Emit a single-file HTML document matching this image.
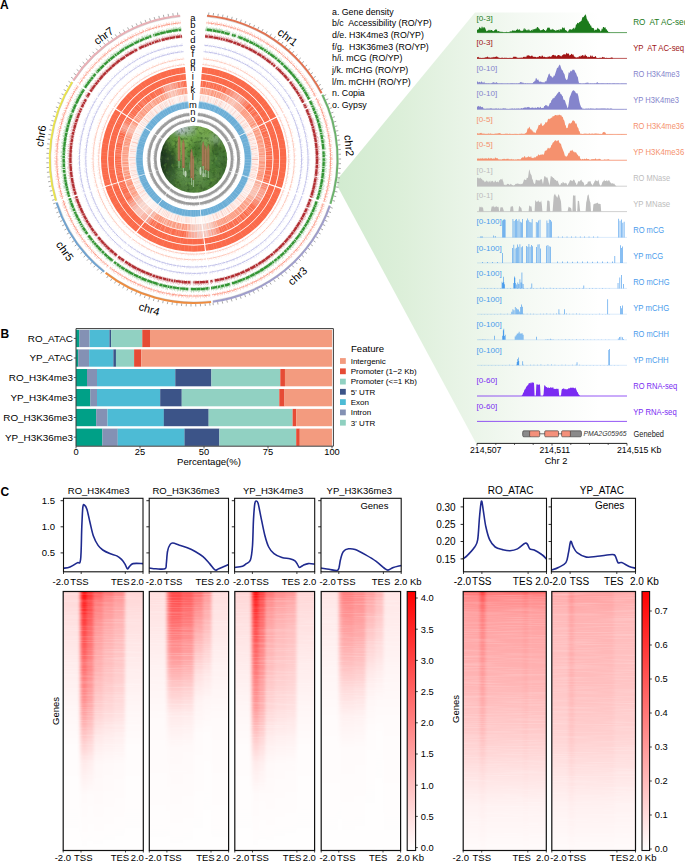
<!DOCTYPE html>
<html><head><meta charset="utf-8"><title>Figure</title><style>html,body{margin:0;padding:0;background:#fff;}body{width:685px;height:862px;overflow:hidden;}svg{display:block;font-family:"Liberation Sans",sans-serif;}</style></head><body>
<svg width="685" height="862" viewBox="0 0 685 862" font-family="Liberation Sans, sans-serif">
<defs>
<linearGradient id="wedge" x1="338" y1="0" x2="610" y2="0" gradientUnits="userSpaceOnUse"><stop offset="0" stop-color="#d2ebd0"/><stop offset="0.23" stop-color="#dcefd9"/><stop offset="0.41" stop-color="#e6f3e4"/><stop offset="0.67" stop-color="#f4f9f3"/><stop offset="0.96" stop-color="#ffffff"/></linearGradient>
<clipPath id="photo"><circle cx="193.7" cy="159.3" r="33.5"/></clipPath>
</defs>
<rect width="685" height="862" fill="#fff"/>
<path d="M337.2 179.5 L475 12.6 L685 12.6 L685 443.6 L476.2 443.6 L337.5 186.2 Z" fill="url(#wedge)"/>
<text x="0" y="8.7" font-size="12" font-weight="bold">A</text>
<text x="0.5" y="338.2" font-size="12" font-weight="bold">B</text>
<text x="0.5" y="496.4" font-size="12" font-weight="bold">C</text>
<path d="M207.1 14.8A144.9 144.9 0 0 1 322.5 92.8L320.7 93.7A142.9 142.9 0 0 0 206.9 16.8Z" fill="#e3714f"/>
<path d="M206.9 16.8A142.9 142.9 0 0 1 320.7 93.7" fill="none" stroke="#999" stroke-width="0.3"/>
<path d="M323.3 94.3A144.9 144.9 0 0 1 331.4 204.2L329.5 203.6A142.9 142.9 0 0 0 321.5 95.2Z" fill="#6ab46a"/>
<path d="M321.5 95.2A142.9 142.9 0 0 1 329.5 203.6" fill="none" stroke="#999" stroke-width="0.3"/>
<path d="M330.8 205.9A144.9 144.9 0 0 1 213 302.7L212.7 300.7A142.9 142.9 0 0 0 328.9 205.3Z" fill="#9f9dcc"/>
<path d="M328.9 205.3A142.9 142.9 0 0 1 212.7 300.7" fill="none" stroke="#999" stroke-width="0.3"/>
<path d="M211.2 302.9A144.9 144.9 0 0 1 105 273.7L106.2 272.1A142.9 142.9 0 0 0 211 300.9Z" fill="#f08c3d"/>
<path d="M211 300.9A142.9 142.9 0 0 1 106.2 272.1" fill="none" stroke="#999" stroke-width="0.3"/>
<path d="M103.6 272.6A144.9 144.9 0 0 1 55.5 202.8L57.5 202.2A142.9 142.9 0 0 0 104.8 271Z" fill="#6fa2d0"/>
<path d="M104.8 271A142.9 142.9 0 0 1 57.5 202.2" fill="none" stroke="#999" stroke-width="0.3"/>
<path d="M55 201.1A144.9 144.9 0 0 1 71.4 81.4L73.1 82.4A142.9 142.9 0 0 0 56.9 200.5Z" fill="#ece54a"/>
<path d="M56.9 200.5A142.9 142.9 0 0 1 73.1 82.4" fill="none" stroke="#999" stroke-width="0.3"/>
<path d="M72.4 79.9A144.9 144.9 0 0 1 180.1 14.8L180.3 16.8A142.9 142.9 0 0 0 74.1 81Z" fill="#eab0b6"/>
<path d="M74.1 81A142.9 142.9 0 0 1 180.3 16.8" fill="none" stroke="#999" stroke-width="0.3"/>
<path d="M208.6 15L208.9 12.5M213.2 15.5L213.6 13M217.9 16.2L218.3 13.8M222.5 17.1L223 14.6M227 18.1L227.6 15.7M231.6 19.2L232.2 16.8M236.1 20.5L236.8 18.1M240.5 22L241.3 19.6M244.9 23.6L245.8 21.2M249.3 25.3L250.2 23M253.6 27.1L254.6 24.9M257.8 29.1L258.9 26.9M261.9 31.3L263.1 29.1M266 33.5L267.3 31.4M270.1 36L271.4 33.8M274 38.5L275.4 36.4M277.8 41.1L279.3 39.1M281.6 43.9L283.1 41.9M285.3 46.8L286.9 44.9M288.9 49.8L290.5 47.9M292.3 53L294 51.1M295.7 56.2L297.5 54.4M299 59.5L300.8 57.8M302.1 63L304 61.3M305.2 66.5L307.1 64.9M308.1 70.2L310.1 68.7M310.9 73.9L312.9 72.5M313.6 77.8L315.7 76.4M316.2 81.7L318.3 80.3M318.6 85.7L320.8 84.4M320.9 89.7L323.1 88.5M324 95.7L326.2 94.6M326 99.9L328.3 98.9M327.8 104.2L330.1 103.3M329.5 108.6L331.9 107.7M331.1 113L333.4 112.2M332.5 117.5L334.9 116.7M333.8 122L336.2 121.3M334.9 126.5L337.3 125.9M335.9 131.1L338.3 130.6M336.7 135.7L339.2 135.3M337.4 140.3L339.9 140M337.9 145L340.4 144.7M338.3 149.6L340.8 149.5M338.5 154.3L341 154.2M338.6 159L341.1 159M338.5 163.7L341 163.7M338.3 168.3L340.8 168.5M337.9 173L340.4 173.2M337.4 177.6L339.9 178M336.7 182.3L339.2 182.7M335.9 186.9L338.4 187.4M334.9 191.4L337.4 192M333.8 196L336.2 196.6M332.6 200.5L335 201.2M330.3 207.3L332.7 208.2M328.7 211.7L331 212.6M326.9 216.1L329.2 217M325 220.3L327.3 221.4M323 224.5L325.2 225.7M320.8 228.7L323 229.9M318.5 232.8L320.6 234M316 236.7L318.2 238.1M313.5 240.7L315.5 242.1M310.8 244.5L312.8 245.9M308 248.2L309.9 249.7M305 251.9L306.9 253.5M302 255.4L303.8 257.1M298.8 258.8L300.6 260.6M295.5 262.2L297.3 264M292.2 265.4L293.8 267.3M288.7 268.5L290.3 270.4M285.1 271.5L286.7 273.5M281.4 274.4L282.9 276.4M277.6 277.2L279.1 279.2M273.8 279.9L275.2 281.9M269.8 282.4L271.2 284.5M265.8 284.8L267.1 286.9M261.7 287L262.9 289.2M257.6 289.2L258.7 291.4M253.3 291.2L254.4 293.4M249 293L250 295.3M244.7 294.7L245.6 297.1M240.3 296.3L241.1 298.7M235.8 297.7L236.5 300.1M231.3 299L232 301.4M226.8 300.2L227.4 302.6M222.2 301.2L222.7 303.6M217.6 302L218 304.5M213 302.7L213.3 305.2M209.7 303.1L210 305.6M205.1 303.6L205.3 306M200.4 303.8L200.5 306.3M195.7 304L195.8 306.5M191 304L191 306.5M186.4 303.8L186.2 306.3M181.7 303.5L181.5 306M177 303L176.8 305.5M172.4 302.4L172 304.9M167.8 301.7L167.3 304.1M163.2 300.8L162.7 303.2M158.6 299.7L158 302.1M154.1 298.5L153.4 300.9M149.6 297.1L148.9 299.5M145.2 295.6L144.4 298M140.8 294L139.9 296.3M136.5 292.2L135.5 294.5M132.2 290.3L131.2 292.6M128 288.3L126.9 290.5M123.9 286.1L122.7 288.3M119.8 283.8L118.6 285.9M115.8 281.3L114.5 283.4M111.9 278.7L110.5 280.8M108.1 276L106.6 278M102.4 271.6L100.8 273.6M98.8 268.6L97.2 270.5M95.3 265.5L93.6 267.3M92 262.3L90.2 264.1M88.7 258.9L86.9 260.7M85.5 255.5L83.6 257.2M82.5 251.9L80.5 253.6M79.5 248.3L77.5 249.8M76.7 244.6L74.7 246.1M74 240.8L71.9 242.2M71.4 236.8L69.3 238.2M69 232.9L66.8 234.1M66.7 228.8L64.5 230M64.5 224.7L62.2 225.8M62.4 220.5L60.2 221.5M60.5 216.2L58.2 217.2M58.7 211.9L56.4 212.8M57.1 207.5L54.8 208.3M55.6 203L53.2 203.8M54.6 199.6L52.2 200.3M53.4 195.1L50.9 195.8M52.3 190.6L49.8 191.1M51.3 186L48.9 186.5M50.5 181.4L48.1 181.8M49.9 176.8L47.4 177.1M49.4 172.1L46.9 172.3M49 167.4L46.5 167.6M48.8 162.8L46.3 162.8M48.8 158.1L46.3 158.1M48.9 153.4L46.4 153.3M49.2 148.7L46.7 148.6M49.6 144.1L47.1 143.8M50.1 139.4L47.7 139.1M50.9 134.8L48.4 134.4M51.7 130.2L49.3 129.7M52.7 125.6L50.3 125.1M53.9 121.1L51.5 120.5M55.2 116.6L52.8 115.9M56.6 112.2L54.2 111.4M58.2 107.8L55.9 106.9M59.9 103.4L57.6 102.5M61.8 99.1L59.5 98.1M63.8 94.9L61.6 93.8M65.9 90.7L63.7 89.6M68.2 86.6L66 85.4M70.6 82.6L68.5 81.3M73.2 78.6L71.1 77.2M75.9 74.8L73.8 73.3M78.7 71L76.7 69.5M81.6 67.3L79.6 65.7M84.6 63.8L82.7 62.1M87.7 60.3L85.9 58.6M91 56.9L89.2 55.1M94.3 53.6L92.6 51.8M97.8 50.5L96.1 48.6M101.3 47.5L99.7 45.5M105 44.5L103.5 42.6M108.7 41.7L107.3 39.7M112.6 39L111.2 37M116.5 36.5L115.2 34.4M120.5 34.1L119.2 31.9M124.6 31.8L123.4 29.6M128.7 29.6L127.6 27.4M132.9 27.6L131.9 25.3M137.2 25.7L136.2 23.4M141.5 23.9L140.6 21.6M145.9 22.3L145.1 19.9M150.4 20.8L149.6 18.4M154.9 19.5L154.2 17.1M159.4 18.3L158.8 15.9M163.9 17.3L163.4 14.8M168.5 16.4L168.1 13.9M173.2 15.7L172.8 13.2M177.8 15.1L177.5 12.6" stroke="#707070" stroke-width="0.6"/>
<circle cx="193.7" cy="159.1" r="136.9" fill="none" stroke="#fb7f66" stroke-opacity="0.8" stroke-width="1" stroke-dasharray="3.0 0.2 4.4 0.2 3.9 0.3 1.8 0.4 1.7 0.3 1.8 0.2 3.4 0.5 2.1 0.2 4.3 0.6 4.1 0.3 5.9 0.2 5.4 0.3 2.1 0.2 2.9 0.5 2.3 0.4 4.4 0.3 4.0 0.2 1.8 0.2 4.6 0.3 2.9 0.4 3.5 0.3 5.1 0.5 2.6 0.4 3.9 0.5 4.8 0.3 5.9 0.2 3.4 0.5 2.2 0.4 1.7 0.5 4.9 0.4 5.4 0.3 4.6 0.4 4.1 0.4 5.3 0.6 3.6 0.5 1.8 0.5 4.4 0.6 5.2 0.3 3.2 0.5 1.6 0.4 2.3 0.2 1.8 0.5 2.1 0.3 3.3 0.5 1.9 0.3 4.0 0.6 5.2 0.5 2.8 0.3 3.1 0.6 5.8 0.2 2.3 0.2 2.5 0.4 4.2 0.3 1.5 0.3 3.2 0.4 5.8 0.5 3.8 0.4 4.5 0.2 5.5 0.5 5.4 0.5 3.3 0.3 2.0 0.4 1.8 0.2 2.4 0.2 3.0 0.2 1.5 0.2 2.0 0.3 1.6 0.5 4.3 0.2 2.6 0.3 3.1 0.2 5.3 0.6 3.6 0.4 1.9 0.2 3.0 0.3 5.2 0.2 1.6 0.6 3.9 0.2 3.9 0.2 3.9 0.6 5.4 0.5 2.7 0.3 2.2 0.5 3.9 0.5 3.0 0.2 5.2 0.6 5.3 0.5 5.2 0.5 2.5 0.4 3.1 0.2 1.6 0.3 2.7 0.5 5.8 0.3 5.7 0.6 5.8 0.3 2.5 0.2 2.4 0.2 4.3 0.6 5.3 0.4 4.4 0.5 1.9 0.5 5.6 0.5 4.9 0.4 2.3 0.5 3.0 0.5 5.9 0.3 3.3 0.6 4.8 0.2 2.1 0.2 5.6 0.5 2.2 0.5 5.9 0.5 3.1 0.4 2.1 0.2 5.9 0.4 3.9 0.6 3.5 0.5 5.2 0.2 2.6 0.3 2.6 0.4 2.7 0.3 2.1 0.6 3.1 0.4 4.1 0.6 3.4 0.6 3.8 0.4 3.9 0.2 3.5 0.2 1.5 0.5 2.3 0.4 4.8 0.4 3.0 0.4 4.0 0.5 2.0 0.4 2.6 0.3 5.0 0.4 4.0 0.5 5.6 0.3 4.3 0.4 3.8 0.5 3.5 0.4 3.6 0.6 4.7 0.5 5.7 0.3 4.0 0.6 5.3 0.2 2.0 0.3 1.8 0.3 1.8 0.5 5.0 0.6 2.2 0.5 4.5 0.2 5.5 0.6 2.5 0.6 3.3 0.4 6.0 0.5 2.2 0.3 3.8 0.3 2.4 0.3 4.8 0.2 4.0 0.3 1.6 0.3 4.3 0.4 1.8 0.6 5.0 0.6 2.0 0.3 1.7 0.5 2.7 0.2 3.4 0.6 5.2 0.3 2.2 0.6 4.1 0.5 1.9 0.2 4.6 0.3 1.8 0.6 4.3 0.5 1.9 0.5 1.8 0.5 3.5 0.3 4.0 0.6 2.7 0.2 3.9 0.3 2.0 0.2 1.7 0.2 2.9 0.3 4.9 0.3 3.8 0.2 3.1 0.2 2.6 0.2 4.8 0.4 2.4 0.4 5.7 0.2 5.2 0.3 3.7 0.5 3.3 0.4 4.6 0.6 3.0 0.5 4.7 0.4 3.3 0.3 1.7 0.2 1.8 0.5 2.6 0.2 1.9 0.5 5.4 0.5 2.8 0.3 2.8 0.4 2.2 0.3 2.7 0.6 5.9 0.4 2.6 0.6 2.9 0.3 1.5 0.3 3.6 0.4 2.4 0.4 1.5 0.3 1.9 0.3 1.7 0.2 2.9 0.2 4.1 0.4 4.9 0.5 4.7 0.6 3.2 0.3 5.9 0.2"/>
<circle cx="193.7" cy="159.1" r="137.9" fill="none" stroke="#fb7f66" stroke-opacity="0.7" stroke-width="1.1" stroke-dasharray="0.5 1.4 0.3 1.7 0.6 1.4 0.5 1.7 0.3 1.2 0.5 1.7 0.5 1.7 0.5 1.8 0.5 1.5 0.4 0.3 0.3 0.9 0.3 1.7 0.5 1.4 0.5 1.5 0.5 0.3 0.5 1.6 0.5 1.2 0.5 0.4 0.5 0.7 0.3 0.8 0.5 0.7 0.5 2.0 0.5 0.9 0.4 1.5 0.5 1.4 0.5 0.4 0.3 0.7 0.5 0.8 0.5 0.3 0.3 0.8 0.5 1.5 0.5 0.8 0.5 1.1 0.4 0.5 0.6 0.6 0.6 1.9 0.3 1.1 0.6 1.9 0.4 0.8 0.4 1.9 0.4 1.3 0.3 1.2 0.6 0.5 0.6 1.2 0.6 1.5 0.4 1.8 0.5 0.3 0.3 1.1 0.4 0.8 0.3 0.9 0.4 1.7 0.3 1.6 0.6 0.5 0.6 1.5 0.6 0.8 0.4 1.0 0.6 1.3 0.4 1.0 0.4 0.4 0.3 1.7 0.4 1.9 0.4 0.8 0.5 0.6 0.4 1.9 0.6 1.7 0.5 1.9 0.6 1.2 0.5 0.4 0.5 1.1 0.5 1.4 0.4 0.4 0.6 0.5 0.4 0.9 0.4 1.6 0.6 0.7 0.5 0.8 0.5 1.0 0.3 0.6 0.4 1.8 0.5 0.7 0.6 2.0 0.4 0.5 0.4 0.5 0.4 0.5 0.4 0.7 0.5 1.8 0.5 1.0 0.4 1.2 0.4 0.9 0.3 0.8 0.6 0.5 0.5 1.4 0.6 0.7 0.4 0.7 0.4 1.1 0.6 1.7 0.6 0.3 0.3 1.5 0.6 1.1 0.5 0.3 0.4 1.9 0.6 1.8 0.6 0.7 0.3 0.6 0.5 1.5 0.6 1.5 0.5 1.6 0.4 1.2 0.3 1.6 0.4 1.9 0.5 0.8 0.3 0.7 0.5 1.5 0.3 0.4 0.5 1.3 0.4 0.7 0.5 0.3 0.4 1.1 0.6 1.4 0.6 1.1 0.4 0.7 0.6 1.5 0.4 0.3 0.5 1.4 0.4 0.7 0.5 1.9 0.4 0.4 0.4 1.0 0.5 0.6 0.5 1.6 0.5 0.7 0.6 0.8 0.6 0.7 0.4 1.6 0.4 1.9 0.5 0.6 0.4 1.0 0.5 1.9 0.3 1.0 0.4 2.0 0.3 0.4 0.3 1.0 0.6 1.8 0.5 2.0 0.6 0.9 0.4 1.9 0.5 0.3 0.5 0.9 0.4 0.9 0.3 0.3 0.4 0.9 0.6 0.5 0.6 0.7 0.4 1.7 0.6 1.0 0.3 1.1 0.4 1.9 0.4 0.9 0.6 0.3 0.4 1.7 0.5 0.4 0.3 0.4 0.6 0.7 0.5 1.8 0.4 0.8 0.6 1.4 0.4 1.5 0.4 0.8 0.3 1.6 0.6 1.4 0.6 0.3 0.4 1.1 0.6 1.9 0.4 0.7 0.4 1.1 0.6 0.6 0.5 1.6 0.6 1.6 0.5 0.9 0.4 0.9 0.5 0.4 0.4 1.6 0.4 0.4 0.3 1.2 0.4 2.0 0.6 2.0 0.4 0.4 0.3 1.1 0.5 1.1 0.4 1.0 0.5 1.4 0.5 1.7 0.5 0.5 0.6 0.8 0.5 0.9 0.5 0.6 0.4 0.7 0.3 1.8 0.5 0.8 0.4 2.0 0.5 0.7 0.5 1.4 0.6 0.5 0.4 1.7 0.6 1.9 0.3 0.8 0.3 0.6 0.6 1.3 0.6 0.9 0.6 1.1 0.4 1.6 0.6 0.5 0.5 1.4 0.4 0.9 0.3 0.7 0.4 1.3 0.5 0.7 0.3 0.9 0.5 0.6 0.4 0.7 0.5 1.2 0.3 0.5 0.4 1.2 0.5 0.5 0.3 1.5 0.4 0.8 0.4 1.9 0.4 1.3 0.4 1.0 0.6 2.0 0.4 0.6 0.5 0.7 0.3 1.8 0.4 1.7 0.4 1.8 0.4 0.6 0.3 1.2 0.5 1.9 0.3 1.4 0.4 1.2 0.3 0.8 0.5 1.9 0.3 1.1 0.5 1.9 0.4 0.5 0.6 2.0 0.4 0.4 0.6 1.0 0.6 1.4 0.6 0.6 0.5 0.7 0.4 1.7 0.6 0.6 0.4 1.0 0.5 0.9 0.3 0.7 0.5 1.8 0.3 1.3 0.5 0.4 0.6 0.5 0.5 1.2 0.5 0.8 0.4 1.3 0.4 1.4 0.4 1.1 0.3 1.4 0.5 0.7 0.5 1.6 0.4 0.6 0.4 0.5 0.3 1.0 0.3 1.1 0.5 0.4 0.5 0.4 0.5 1.6 0.5 0.4 0.5 0.9 0.6 0.5 0.6 2.0 0.5 1.7 0.4 2.0 0.5 1.9 0.6 0.6 0.5 1.9 0.3 0.9 0.5 0.6 0.6 0.8 0.5 0.5 0.5 1.9 0.4 0.8 0.5 0.8 0.3 0.6 0.3 1.9 0.5 1.8 0.3 1.6 0.3 1.2 0.5 0.9 0.6 1.2 0.5 1.8 0.3 2.0 0.5 1.0 0.5 0.8 0.6 1.3 0.4 1.6 0.4 0.6 0.5 0.4 0.6 0.7 0.5 2.0 0.5 1.4 0.4 0.3 0.3 0.6 0.5 1.0 0.5 1.8 0.3 0.7 0.5 0.3 0.3 0.9 0.3 0.9 0.4 1.3 0.5 0.7 0.5 1.1 0.3 1.9 0.4 0.6 0.3 1.4 0.6 1.6 0.4 0.8 0.3 1.4 0.5 0.9 0.5 1.1 0.6 1.6 0.4 1.8 0.3 1.2 0.4 0.7 0.3 1.6 0.3 1.2 0.6 0.5 0.4 1.3 0.5 1.4 0.5 0.6 0.4 0.8 0.3 1.8 0.5 1.5 0.3 1.7 0.5 1.1 0.5 1.1 0.4 0.5 0.4 0.4 0.4 1.6 0.5 1.7 0.5 0.8 0.5 1.0 0.5 1.2 0.4 1.4 0.6 0.7 0.6 0.3 0.4 0.7 0.5 1.9 0.5 0.9 0.6 0.9 0.4 1.8 0.5 1.5 0.5 2.0 0.4 1.7 0.5 1.8 0.4 1.5 0.5 0.8 0.4 1.4 0.3 1.9 0.3 0.3 0.3 1.9 0.4 0.5 0.3 0.4 0.5 1.4 0.5 1.6 0.3 1.3 0.4 1.7 0.6 1.8 0.3 1.8 0.6 1.9 0.3 0.7 0.3 0.4 0.6 1.7 0.5 1.7 0.5 0.8 0.3 0.5 0.5 0.7 0.4 1.0 0.3 0.7 0.4 1.5 0.4 0.8 0.6 1.2 0.6 1.4 0.3 1.0 0.4 1.6 0.4 1.5 0.5 0.7 0.6 0.5 0.6 0.6 0.3 0.6 0.5 2.0 0.3 1.1 0.5 1.6 0.4 1.1 0.4 1.7 0.4 1.9 0.4 0.7 0.5 1.1 0.3 1.4 0.3 1.6 0.5 1.6 0.5 0.9 0.4 1.0 0.6 0.5 0.6 0.3 0.4 0.8 0.6 1.1 0.4 1.8 0.4 1.1 0.5 1.6 0.5 1.4 0.4 0.9 0.3 1.7 0.5 1.6 0.3 1.1 0.5 1.3 0.3 1.1 0.6 0.7 0.4 0.8 0.5 1.7 0.3 0.6 0.4 0.9 0.5 0.6 0.4 0.6 0.6 1.5 0.3 1.9 0.3 0.9 0.6 1.6 0.5 1.0 0.4 1.4 0.3 0.7 0.4 0.4 0.4 1.6 0.5 1.1 0.5 1.1 0.3 1.3 0.4 1.6 0.6 1.0 0.5 1.6 0.4 0.7 0.5 1.8 0.5 1.5 0.6 1.5 0.5 1.1 0.4 1.4 0.3 1.0 0.5 1.5 0.5 0.7 0.4 1.1 0.5 1.0 0.5 1.9 0.3 1.4 0.5 1.0 0.5 2.0 0.3 1.2 0.3 1.6 0.6 1.2 0.3 1.3 0.5 1.5 0.5 1.4 0.6 1.2 0.4 1.9 0.4 1.5 0.4 1.6 0.3 2.0 0.4 0.4 0.4 1.0 0.3 1.0 0.4 1.5 0.4 0.8 0.4 1.6 0.6 1.2 0.4 1.7 0.4 0.7 0.3 1.6 0.5 1.4 0.4 1.3 0.4 1.9 0.4 1.4 0.6 1.7 0.4 0.8 0.5 0.5 0.6 0.9 0.6 0.8 0.4 0.7 0.4 0.6 0.3 1.5 0.4 0.7 0.4 1.1 0.4 1.4 0.5 0.9 0.6 1.8 0.3 1.7 0.6 1.6 0.3 1.7 0.5 0.3 0.3 1.9 0.5 0.7 0.3 0.5 0.4 1.6 0.4 0.6 0.6 1.6 0.3 1.8 0.5 1.6 0.5 1.8 0.5 1.7 0.4 1.5 0.5 1.6 0.4 1.8 0.5 0.8 0.4 0.5 0.5 0.4 0.4 0.6 0.5 1.1 0.5 1.8 0.3 1.7 0.4 1.3 0.5 1.7 0.4 1.0 0.6 0.4 0.5 1.4 0.3 1.3 0.5 1.9 0.4 2.0 0.5 1.1 0.6 0.4 0.5 1.4 0.4 1.8 0.4 1.1 0.5 1.6 0.4 1.0 0.4 1.2 0.6 0.8 0.6 1.0 0.5 0.8 0.5 2.0"/>
<circle cx="193.7" cy="159.1" r="138.9" fill="none" stroke="#fb7f66" stroke-opacity="0.5" stroke-width="1" stroke-dasharray="0.5 3.2 0.4 1.5 0.4 2.5 0.5 3.2 0.3 3.0 0.6 2.3 0.3 1.4 0.3 1.0 0.6 2.5 0.5 3.2 0.6 2.6 0.5 2.6 0.5 2.5 0.5 1.1 0.5 2.0 0.5 0.7 0.3 0.4 0.5 3.7 0.5 1.7 0.6 3.2 0.5 1.2 0.4 1.9 0.4 1.9 0.5 3.8 0.3 2.4 0.3 0.7 0.5 2.4 0.6 1.9 0.3 1.7 0.5 3.8 0.6 2.1 0.4 0.7 0.5 1.1 0.3 0.4 0.3 2.8 0.3 3.9 0.3 3.5 0.3 0.4 0.5 1.2 0.5 1.0 0.3 3.2 0.5 3.5 0.5 0.6 0.5 2.9 0.4 3.8 0.4 3.9 0.5 0.3 0.3 2.7 0.6 0.6 0.4 3.0 0.3 3.5 0.5 0.5 0.4 2.4 0.4 2.8 0.3 3.2 0.4 2.7 0.5 1.9 0.4 3.2 0.6 3.2 0.5 1.4 0.3 3.9 0.5 3.4 0.4 2.5 0.6 3.4 0.5 1.4 0.4 3.6 0.4 2.8 0.5 3.6 0.5 1.4 0.3 1.3 0.4 2.5 0.5 3.6 0.3 3.4 0.5 3.5 0.5 1.3 0.6 3.3 0.5 3.7 0.4 0.6 0.5 3.2 0.4 3.1 0.6 1.2 0.5 2.8 0.4 1.1 0.4 3.1 0.5 2.0 0.3 3.3 0.5 1.2 0.5 3.6 0.6 2.2 0.4 2.5 0.4 1.0 0.3 2.9 0.4 2.4 0.4 2.2 0.3 0.5 0.6 1.7 0.3 2.6 0.5 0.9 0.5 1.6 0.5 0.4 0.3 4.0 0.6 2.1 0.5 1.3 0.5 1.9 0.6 3.1 0.6 3.9 0.4 0.4 0.4 1.0 0.3 0.5 0.5 3.5 0.4 3.8 0.6 0.5 0.5 1.8 0.3 3.9 0.4 2.4 0.5 3.8 0.5 1.8 0.4 0.9 0.6 4.0 0.4 0.4 0.4 1.6 0.6 3.6 0.6 0.5 0.5 2.9 0.5 4.0 0.3 0.8 0.5 3.8 0.5 1.4 0.5 3.1 0.3 1.5 0.4 0.8 0.4 0.9 0.4 0.8 0.5 0.3 0.5 1.0 0.3 3.7 0.4 3.8 0.6 3.6 0.3 1.9 0.3 3.7 0.6 2.6 0.4 1.6 0.6 2.1 0.5 0.8 0.4 0.5 0.5 2.4 0.3 3.5 0.4 1.8 0.3 1.3 0.6 1.5 0.3 2.1 0.4 3.6 0.3 3.9 0.3 3.6 0.5 1.1 0.4 1.4 0.4 1.1 0.4 4.0 0.6 3.7 0.3 1.4 0.6 0.5 0.5 1.4 0.6 0.4 0.5 1.6 0.3 0.3 0.6 2.2 0.4 1.9 0.6 1.1 0.5 0.8 0.3 3.1 0.5 1.0 0.3 0.6 0.5 2.1 0.4 1.1 0.5 2.9 0.5 2.5 0.4 0.5 0.5 1.8 0.5 0.5 0.5 1.5 0.6 3.5 0.5 0.4 0.6 2.1 0.6 1.3 0.4 3.4 0.4 0.9 0.4 2.5 0.3 2.2 0.4 2.2 0.3 2.9 0.5 3.5 0.4 2.9 0.4 3.1 0.3 3.5 0.6 2.1 0.5 2.3 0.5 0.4 0.6 1.1 0.3 0.7 0.4 3.3 0.3 0.7 0.5 1.0 0.3 2.5 0.5 2.2 0.5 0.7 0.6 3.0 0.3 0.8 0.5 2.1 0.4 0.8 0.4 0.8 0.5 3.5 0.3 2.4 0.5 0.9 0.6 3.8 0.4 1.9 0.6 2.2 0.4 3.8 0.5 1.6 0.4 1.5 0.4 3.9 0.5 3.7 0.5 3.4 0.3 2.2 0.6 3.8 0.4 1.9 0.5 1.6 0.5 0.6 0.4 2.2 0.3 0.8 0.6 3.2 0.6 2.6 0.5 3.6 0.6 0.4 0.5 1.3 0.5 1.3 0.5 3.7 0.5 1.2 0.5 1.9 0.6 1.4 0.4 2.7 0.3 2.5 0.6 2.2 0.4 2.0 0.5 0.8 0.3 0.8 0.4 1.8 0.4 1.2 0.3 2.3 0.6 2.6 0.5 2.7 0.4 2.9 0.4 2.3 0.5 2.0 0.4 1.2 0.4 2.2 0.4 2.5 0.3 1.6 0.6 1.2 0.5 2.1 0.4 4.0 0.4 3.2 0.3 0.6 0.6 1.9 0.3 1.7 0.4 3.0 0.3 1.1 0.6 3.0 0.3 1.6 0.4 2.8 0.5 3.4 0.6 2.2 0.5 3.0 0.5 2.1 0.5 2.9 0.6 0.8 0.6 0.3 0.5 2.5 0.5 3.9 0.5 1.9 0.5 3.5 0.5 1.7 0.4 2.0 0.5 1.4 0.4 2.4 0.4 1.5 0.5 3.4 0.5 1.9 0.4 1.4 0.3 2.4 0.5 0.6 0.6 1.5 0.6 3.4 0.6 1.1 0.4 3.7 0.3 0.5 0.5 2.1 0.6 3.2 0.5 4.0 0.5 2.2 0.5 1.7 0.4 2.5 0.4 3.8 0.5 2.2 0.3 1.7 0.4 2.4 0.5 3.6 0.6 2.1 0.4 2.6 0.6 1.6 0.5 3.3 0.3 1.5 0.6 3.4 0.5 0.7 0.6 2.9 0.6 4.0 0.6 1.9 0.3 1.4 0.5 2.2 0.4 1.0 0.5 2.5 0.4 4.0 0.5 0.5 0.4 3.2 0.4 2.9 0.3 1.4 0.6 2.5 0.5 1.0 0.5 2.4 0.4 2.7 0.5 4.0 0.5 1.8 0.3 0.9 0.5 0.7 0.3 0.9 0.5 3.4"/>
<circle cx="193.7" cy="159.1" r="135.9" fill="none" stroke="#fb7f66" stroke-opacity="0.6" stroke-width="1.1" stroke-dasharray="0.5 2.1 0.3 0.3 0.5 1.0 0.5 1.1 0.3 0.9 0.3 2.3 0.5 1.1 0.4 1.1 0.3 2.3 0.5 2.4 0.4 1.7 0.4 0.4 0.6 2.2 0.4 2.3 0.5 1.0 0.5 2.4 0.5 2.4 0.4 1.2 0.5 0.8 0.4 2.2 0.5 2.0 0.4 0.7 0.4 0.7 0.6 0.9 0.5 0.6 0.5 1.1 0.4 0.4 0.3 2.1 0.4 0.8 0.4 0.9 0.4 0.4 0.5 1.1 0.3 1.9 0.3 0.9 0.6 0.6 0.4 2.1 0.5 0.7 0.4 1.9 0.4 2.4 0.4 2.4 0.5 0.8 0.4 0.6 0.5 0.9 0.6 1.6 0.4 0.8 0.5 0.8 0.6 0.6 0.5 1.5 0.4 2.0 0.4 1.8 0.5 1.0 0.4 0.5 0.3 2.2 0.4 1.8 0.3 1.5 0.4 1.4 0.4 0.5 0.4 0.8 0.3 1.9 0.4 1.2 0.6 2.0 0.6 2.2 0.3 0.9 0.3 1.8 0.5 1.1 0.4 1.8 0.5 0.8 0.6 1.1 0.5 0.7 0.3 2.3 0.5 1.9 0.3 0.4 0.3 0.7 0.4 1.1 0.3 1.0 0.5 0.7 0.6 1.6 0.5 0.9 0.4 1.8 0.4 0.3 0.6 2.0 0.4 0.4 0.6 1.6 0.3 0.8 0.3 2.0 0.4 2.3 0.5 0.5 0.5 1.2 0.5 2.1 0.4 0.5 0.6 1.2 0.6 1.8 0.5 2.1 0.5 1.3 0.3 1.8 0.4 1.4 0.6 0.6 0.5 0.4 0.5 2.1 0.4 1.5 0.6 1.7 0.5 0.8 0.3 1.1 0.4 0.7 0.4 0.6 0.5 1.8 0.4 0.8 0.5 1.3 0.6 1.1 0.4 2.2 0.3 1.5 0.4 2.1 0.5 2.0 0.3 1.8 0.5 1.3 0.5 2.1 0.3 0.9 0.4 0.8 0.3 0.9 0.4 1.8 0.4 0.6 0.4 1.3 0.4 0.7 0.3 0.3 0.6 1.9 0.3 1.9 0.6 1.5 0.3 1.4 0.4 0.7 0.5 0.3 0.6 1.7 0.5 2.4 0.5 0.8 0.4 0.6 0.3 2.0 0.6 0.9 0.4 1.7 0.6 2.3 0.3 2.0 0.6 1.9 0.4 0.7 0.6 1.0 0.4 1.5 0.4 2.1 0.4 0.4 0.5 1.7 0.6 1.9 0.6 2.4 0.5 1.4 0.3 1.0 0.5 0.5 0.5 0.7 0.4 2.4 0.3 0.4 0.4 0.7 0.5 0.3 0.6 2.2 0.5 1.2 0.4 1.8 0.5 1.2 0.4 1.3 0.5 2.1 0.6 0.7 0.4 1.3 0.5 1.1 0.4 0.5 0.4 1.3 0.6 2.3 0.6 2.4 0.6 1.7 0.5 0.4 0.5 1.6 0.4 1.6 0.6 1.4 0.5 1.0 0.4 2.2 0.3 0.7 0.5 1.3 0.3 1.8 0.4 1.6 0.4 1.5 0.5 1.2 0.3 0.7 0.6 1.5 0.3 2.2 0.4 0.5 0.5 0.8 0.5 1.5 0.4 1.6 0.3 1.4 0.5 0.5 0.4 0.5 0.4 2.2 0.5 1.9 0.5 0.6 0.6 1.9 0.3 2.1 0.4 0.7 0.6 1.5 0.5 0.6 0.5 0.4 0.4 1.1 0.3 1.6 0.4 1.0 0.5 1.2 0.6 1.7 0.6 1.5 0.6 2.2 0.3 1.9 0.4 2.0 0.5 2.1 0.3 1.1 0.5 2.4 0.5 0.4 0.5 0.5 0.5 2.1 0.3 2.3 0.5 0.9 0.4 1.3 0.6 1.6 0.3 0.3 0.3 2.1 0.4 1.5 0.4 1.8 0.4 0.6 0.6 1.5 0.5 2.1 0.6 0.3 0.4 0.6 0.5 2.2 0.5 0.4 0.3 2.1 0.5 1.2 0.4 0.7 0.6 1.2 0.6 1.6 0.3 1.0 0.4 2.3 0.5 0.4 0.3 1.1 0.4 1.6 0.4 1.1 0.3 1.6 0.4 0.3 0.4 2.5 0.3 0.6 0.5 0.9 0.4 1.4 0.4 1.6 0.5 2.4 0.6 0.4 0.5 2.0 0.6 2.0 0.5 1.7 0.4 0.9 0.5 2.2 0.6 1.8 0.4 2.0 0.5 1.4 0.5 1.1 0.5 1.2 0.3 1.0 0.4 2.5 0.4 1.1 0.4 0.8 0.4 0.6 0.3 2.2 0.4 1.3 0.5 1.0 0.3 0.5 0.4 1.0 0.5 1.5 0.6 1.1 0.6 1.6 0.3 0.7 0.5 2.5 0.4 2.0 0.4 2.2 0.3 1.4 0.6 0.9 0.4 0.3 0.3 0.9 0.5 0.8 0.4 0.7 0.5 2.2 0.5 0.7 0.5 2.4 0.5 0.5 0.5 2.2 0.4 0.6 0.4 1.5 0.6 1.7 0.6 0.8 0.4 1.9 0.5 1.2 0.5 1.0 0.3 1.2 0.3 1.7 0.4 1.4 0.5 0.9 0.4 0.3 0.6 1.5 0.6 0.4 0.5 1.9 0.4 0.5 0.3 0.6 0.5 0.5 0.5 1.2 0.5 1.6 0.5 1.8 0.5 1.0 0.5 0.9 0.5 2.0 0.5 1.0 0.5 2.5 0.4 0.9 0.5 2.4 0.3 0.3 0.4 1.7 0.5 1.1 0.6 0.8 0.5 0.5 0.3 0.6 0.3 1.4 0.5 0.7 0.6 1.1 0.3 0.7 0.5 2.3 0.3 0.4 0.5 0.8 0.6 1.4 0.5 1.1 0.5 1.3 0.4 2.3 0.3 1.9 0.3 1.7 0.4 2.2 0.3 1.5 0.4 2.3 0.6 1.7 0.4 0.8 0.4 1.2 0.4 0.8 0.5 1.7 0.4 2.5 0.4 1.6 0.3 2.2 0.6 0.9 0.5 2.1 0.4 1.0 0.5 2.3 0.3 1.8 0.5 1.3 0.5 2.2 0.4 2.2 0.4 2.0 0.6 0.7 0.6 2.5 0.4 0.3 0.3 2.4 0.3 2.3 0.3 1.9 0.3 0.7 0.5 0.5 0.4 2.3 0.5 2.2 0.6 0.4 0.4 2.0 0.5 0.4 0.5 0.8 0.4 0.5 0.3 2.5 0.4 2.2 0.3 1.4 0.3 1.2 0.3 1.8 0.3 1.9 0.5 0.6 0.4 1.4 0.6 1.1 0.4 2.4 0.6 1.9 0.4 0.7 0.4 0.5 0.3 1.4 0.4 1.5 0.4 0.3 0.5 1.7 0.5 1.5 0.5 2.5 0.6 1.9 0.4 1.0 0.4 2.4 0.4 1.1 0.4 0.6 0.6 0.3 0.5 2.3 0.4 1.6 0.4 0.8 0.4 0.6 0.6 2.0 0.6 0.4 0.5 1.0 0.5 1.5 0.4 2.4 0.3 1.9 0.6 1.4 0.5 2.5 0.4 1.7 0.5 1.1 0.5 1.2 0.5 1.6 0.5 1.0 0.5 1.5 0.4 1.6 0.4 2.3 0.4 1.9 0.5 1.4 0.4 0.6 0.6 1.5 0.5 1.5 0.5 0.8 0.3 2.1 0.4 1.7 0.6 2.3 0.6 0.4 0.4 2.1 0.6 0.6 0.3 0.8 0.3 1.1 0.5 1.4 0.4 0.5 0.4 2.5 0.5 1.3 0.4 2.1 0.5 0.6 0.5 1.1 0.5 0.8 0.4 1.1 0.4 0.3 0.4 1.6 0.3 0.7 0.5 0.9 0.4 0.8 0.6 0.5 0.5 2.2 0.4 1.2 0.5 1.7 0.4 0.4 0.4 1.1 0.5 0.9 0.4 1.7 0.5 1.1 0.4 1.6 0.6 0.7 0.6 1.9 0.4 1.8 0.4 0.5 0.5 1.1 0.5 1.4 0.6 2.0 0.3 1.6 0.4 1.3 0.6 1.2 0.4 2.3 0.4 1.4 0.5 2.1 0.5 1.9 0.4 0.4 0.5 1.5 0.5 2.0 0.3 0.8 0.3 2.1 0.3 0.5 0.5 1.5"/>
<circle cx="193.7" cy="159.1" r="130" fill="none" stroke="#1f8a1f" stroke-opacity="0.9" stroke-width="2.4" stroke-dasharray="1.8 0.5 4.7 0.4 1.8 0.5 3.4 0.4 6.0 0.5 5.4 0.2 3.0 0.4 1.5 0.6 2.7 0.3 2.9 0.3 5.4 0.4 3.8 0.3 1.7 0.3 5.4 0.5 5.3 0.3 2.4 0.2 3.9 0.3 3.6 0.4 4.1 0.3 5.1 0.2 5.6 0.4 1.7 0.3 3.9 0.3 4.0 0.3 2.7 0.5 2.8 0.5 5.1 0.4 3.5 0.6 3.5 0.6 1.8 0.3 4.4 0.2 5.4 0.2 4.2 0.2 5.7 0.4 5.1 0.4 4.5 0.5 2.8 0.2 5.3 0.2 5.6 0.2 1.9 0.2 5.0 0.6 3.4 0.5 2.7 0.6 4.6 0.2 1.8 0.5 1.7 0.5 2.8 0.2 4.1 0.3 4.0 0.2 5.6 0.3 5.3 0.2 5.1 0.6 3.3 0.2 3.2 0.4 2.5 0.4 1.9 0.4 4.8 0.3 4.6 0.2 5.2 0.2 5.7 0.6 5.7 0.4 2.8 0.3 4.9 0.4 5.7 0.2 3.7 0.5 4.2 0.4 1.9 0.2 2.7 0.6 5.3 0.2 5.7 0.2 4.2 0.6 3.0 0.6 4.5 0.2 3.0 0.3 2.6 0.5 2.3 0.5 2.8 0.2 4.0 0.2 4.0 0.5 4.2 0.4 1.6 0.4 1.9 0.4 2.1 0.4 3.1 0.3 4.5 0.2 2.3 0.6 3.0 0.5 5.4 0.4 2.2 0.2 5.5 0.2 3.7 0.4 2.0 0.4 2.2 0.4 3.8 0.3 2.4 0.3 2.4 0.2 2.6 0.5 3.8 0.6 1.6 0.6 3.7 0.5 4.1 0.5 2.5 0.5 2.2 0.3 1.6 0.3 3.8 0.3 5.5 0.2 4.1 0.3 4.2 0.5 4.7 0.2 2.6 0.4 5.9 0.2 4.3 0.5 5.2 0.3 5.2 0.4 5.6 0.1 5.7 0.3 3.3 0.2 2.6 0.5 4.5 0.2 3.0 0.2 2.4 0.2 3.0 0.6 6.0 0.5 3.7 0.4 5.0 0.6 4.9 0.4 2.4 0.4 5.3 0.5 1.9 0.5 3.1 0.2 5.8 0.5 4.9 0.2 5.2 0.6 5.6 0.5 5.2 0.5 4.2 0.3 5.2 0.5 5.4 0.3 5.8 0.4 5.8 0.2 5.9 0.5 2.6 0.5 2.5 0.2 3.6 0.3 3.7 0.6 4.6 0.5 3.3 0.5 5.1 0.5 5.7 0.5 3.3 0.2 4.4 0.5 3.0 0.4 5.3 0.5 1.5 0.4 1.6 0.2 5.2 0.3 4.2 0.4 3.0 0.2 3.1 0.5 4.3 0.3 1.9 0.3 4.7 0.3 4.5 0.5 2.0 0.5 1.7 0.5 2.3 0.3 5.8 0.3 2.5 0.6 4.2 0.6 3.3 0.4 5.8 0.4 6.0 0.2 5.2 0.2 3.9 0.1 2.3 0.6 3.5 0.5 2.6 0.3 1.9 0.4 5.4 0.4 3.2 0.6 5.5 0.5 1.8 0.4 3.5 0.6 3.1 0.5 4.3 0.3 3.9 0.5 5.6 0.4 3.1 0.6 1.8 0.5 4.6 0.4 3.5 0.5 5.5 0.5 4.9 0.2 3.0 0.2 5.8 0.6"/>
<circle cx="193.7" cy="159.1" r="131.6" fill="none" stroke="#1f8a1f" stroke-opacity="0.8" stroke-width="0.9" stroke-dasharray="0.3 0.7 0.5 0.3 0.4 0.8 0.5 0.5 0.5 0.5 0.5 0.6 0.6 0.8 0.5 0.8 0.4 1.0 0.5 0.8 0.4 0.4 0.5 0.9 0.5 0.5 0.3 0.7 0.6 0.4 0.5 0.4 0.4 0.3 0.4 0.6 0.6 1.0 0.4 0.5 0.6 0.4 0.4 0.6 0.3 0.5 0.4 0.6 0.6 0.5 0.4 0.9 0.4 0.9 0.5 0.8 0.4 0.4 0.5 0.6 0.5 0.8 0.5 0.5 0.4 0.9 0.5 0.5 0.5 0.5 0.5 0.3 0.6 0.7 0.4 1.0 0.4 0.5 0.3 0.7 0.5 0.8 0.4 0.9 0.3 0.5 0.5 1.0 0.5 0.8 0.5 0.6 0.6 0.8 0.4 0.6 0.5 0.5 0.4 0.9 0.5 0.7 0.5 0.9 0.3 0.5 0.3 0.6 0.5 0.9 0.5 0.7 0.4 0.7 0.4 0.9 0.5 0.9 0.3 0.8 0.5 0.7 0.6 0.9 0.5 0.9 0.5 0.9 0.3 0.8 0.5 0.7 0.4 0.3 0.5 0.9 0.4 0.5 0.4 0.4 0.5 1.0 0.5 0.6 0.5 0.3 0.6 0.5 0.3 0.7 0.3 0.5 0.3 0.6 0.5 0.9 0.3 0.9 0.3 0.5 0.5 0.5 0.4 0.7 0.4 0.9 0.4 0.9 0.5 0.7 0.3 0.8 0.3 0.7 0.4 0.3 0.5 0.8 0.5 0.6 0.5 0.7 0.4 0.9 0.6 0.9 0.6 0.5 0.6 0.3 0.4 0.4 0.4 0.8 0.5 0.6 0.4 0.4 0.4 0.5 0.4 0.8 0.5 0.6 0.4 0.8 0.4 0.5 0.5 0.8 0.6 0.8 0.6 0.9 0.5 0.8 0.3 0.4 0.3 0.9 0.5 0.7 0.4 0.6 0.3 0.7 0.6 0.5 0.3 0.4 0.4 0.9 0.5 0.6 0.3 0.4 0.3 0.8 0.4 1.0 0.6 0.9 0.4 0.9 0.3 0.4 0.5 0.7 0.4 0.5 0.3 0.9 0.5 1.0 0.6 0.6 0.5 0.6 0.5 0.9 0.3 0.3 0.4 0.7 0.4 0.3 0.6 0.8 0.4 0.3 0.6 0.7 0.3 0.5 0.5 0.9 0.5 0.8 0.4 0.5 0.6 0.6 0.3 0.7 0.3 0.4 0.4 0.7 0.5 0.8 0.4 0.3 0.5 0.3 0.4 0.6 0.5 0.8 0.4 0.8 0.5 0.6 0.3 0.9 0.5 0.3 0.4 1.0 0.4 0.6 0.5 0.9 0.5 0.8 0.3 0.4 0.6 0.9 0.3 0.3 0.4 0.9 0.4 0.8 0.6 0.8 0.6 0.5 0.3 0.3 0.5 0.4 0.6 0.8 0.4 0.9 0.3 0.7 0.3 0.8 0.6 0.9 0.3 0.9 0.5 0.9 0.5 0.7 0.5 0.9 0.3 0.3 0.5 0.5 0.4 0.3 0.5 0.3 0.6 0.9 0.4 0.4 0.5 0.4 0.4 0.4 0.6 0.7 0.4 0.4 0.5 0.9 0.6 0.4 0.4 0.5 0.5 0.4 0.5 1.0 0.5 0.3 0.3 0.4 0.5 0.7 0.5 0.6 0.4 0.7 0.5 0.9 0.5 0.9 0.6 0.9 0.5 0.3 0.5 0.9 0.4 0.9 0.3 1.0 0.4 0.8 0.4 0.5 0.4 0.5 0.3 0.6 0.6 0.8 0.6 0.8 0.6 1.0 0.5 0.5 0.4 0.6 0.3 0.5 0.6 0.9 0.4 0.8 0.5 0.9 0.5 0.7 0.3 0.9 0.4 0.7 0.4 0.7 0.6 0.4 0.5 0.8 0.5 1.0 0.4 0.9 0.5 1.0 0.3 0.5 0.4 0.9 0.3 0.5 0.5 1.0 0.3 0.6 0.5 0.8 0.5 0.8 0.4 0.5 0.3 0.8 0.4 0.5 0.6 0.8 0.5 0.8 0.5 0.8 0.4 0.3 0.3 0.3 0.4 0.4 0.3 0.7 0.6 0.8 0.4 0.8 0.3 0.4 0.4 0.6 0.5 0.6 0.5 0.4 0.6 0.5 0.6 0.3 0.6 0.5 0.6 0.9 0.5 0.5 0.3 0.4 0.6 0.4 0.5 0.7 0.5 0.4 0.3 0.4 0.6 0.6 0.5 0.7 0.4 0.3 0.3 0.9 0.3 1.0 0.4 0.8 0.3 0.8 0.4 0.6 0.5 0.4 0.4 0.9 0.4 0.6 0.5 0.5 0.4 0.5 0.4 0.6 0.5 0.6 0.6 0.3 0.5 0.9 0.4 0.3 0.4 0.4 0.4 0.8 0.3 0.4 0.4 0.4 0.4 0.6 0.3 0.3 0.4 0.6 0.6 0.7 0.3 0.5 0.5 0.7 0.6 1.0 0.6 0.4 0.6 0.7 0.4 0.4 0.6 0.5 0.3 0.5 0.6 0.6 0.5 0.3 0.4 0.5 0.4 0.8 0.4 0.4 0.6 0.6 0.3 0.3 0.5 0.7 0.3 0.6 0.5 0.7 0.4 0.7 0.5 0.8 0.3 0.9 0.6 0.8 0.6 0.6 0.6 0.4 0.4 0.7 0.6 0.4 0.4 0.3 0.4 0.4 0.4 0.8 0.5 1.0 0.4 0.8 0.3 1.0 0.4 0.6 0.5 1.0 0.5 1.0 0.5 0.5 0.6 0.4 0.6 0.6 0.4 1.0 0.4 0.6 0.4 0.8 0.3 0.6 0.3 0.9 0.3 0.7 0.4 0.6 0.5 0.8 0.3 0.5 0.3 1.0 0.3 0.4 0.5 0.7 0.6 0.3 0.4 0.4 0.5 0.6 0.4 0.9 0.5 0.9 0.6 0.5 0.6 0.6 0.3 0.9 0.3 0.3 0.4 0.5 0.6 0.9 0.4 0.7 0.6 0.9 0.5 0.7 0.3 0.5 0.5 0.7 0.5 0.9 0.6 0.4 0.3 0.9 0.5 0.4 0.5 0.5 0.4 0.6 0.5 0.8 0.3 0.8 0.5 0.6 0.5 0.9 0.3 0.6 0.5 0.8 0.5 0.4 0.6 0.8 0.4 0.6 0.6 0.5 0.4 1.0 0.6 0.5 0.5 0.6 0.5 0.8 0.3 0.5 0.4 0.5 0.3 0.4 0.4 0.6 0.3 0.7 0.6 0.7 0.4 0.8 0.4 0.4 0.4 0.3 0.5 0.4 0.4 1.0 0.5 0.9 0.5 0.7 0.5 1.0 0.4 0.8 0.4 0.5 0.6 0.7 0.6 0.9 0.5 0.4 0.3 0.7 0.5 0.5 0.3 0.3 0.3 0.8 0.3 0.5 0.4 0.8 0.6 0.3 0.3 0.9 0.6 0.4 0.4 0.7 0.4 0.6 0.4 0.5 0.3 0.4 0.3 0.4 0.5 0.8 0.4 0.8 0.5 0.5 0.5 0.4 0.6 0.7 0.3 0.4 0.5 0.6 0.5 0.5 0.5 0.9 0.3 0.7 0.4 0.8 0.5 0.8 0.4 0.4 0.5 0.7 0.3 0.4 0.5 0.4 0.5 0.5 0.4 0.6 0.5 0.8 0.3 0.8 0.4 0.5 0.5 0.8 0.5 0.9 0.4 0.5 0.5 0.5 0.3 0.5 0.5 0.9 0.5 1.0 0.5 0.5 0.4 0.8 0.3 0.7 0.3 0.3 0.5 0.4 0.6 0.9 0.4 0.4 0.3 0.7 0.5 0.6 0.5 0.7 0.5 0.4 0.3 0.6 0.5 0.5 0.5 0.5 0.4 0.6 0.5 0.8 0.4 0.6 0.6 0.9 0.5 0.4 0.4 0.8 0.4 0.3 0.6 0.9 0.3 0.6 0.5 0.5 0.3 0.8 0.5 0.6 0.3 0.6 0.3 1.0 0.3 0.5 0.5 0.4 0.3 0.3 0.3 0.7 0.6 0.4 0.3 0.8 0.4 0.5 0.3 0.5 0.6 0.4 0.4 0.8 0.6 0.9 0.4 1.0 0.5 0.5 0.4 0.8 0.5 0.4 0.4 1.0 0.3 0.9 0.4 0.5 0.4 0.6 0.6 0.4 0.6 0.5 0.3 0.8 0.4 0.4 0.4 0.9 0.6 0.7 0.3 0.8 0.5 0.9 0.6 0.5 0.6 0.9 0.4 0.6 0.4 0.6 0.4 0.4 0.4 0.9 0.4 0.8 0.6 0.8 0.4 0.9 0.5 1.0 0.5 0.8 0.5 0.5 0.5 0.6 0.6 0.4 0.5 0.5 0.6 0.5 0.6 0.9 0.6 0.4 0.6 0.8 0.5 0.8 0.3 0.9 0.5 0.6 0.4 0.8 0.5 0.9 0.4 0.5 0.4 0.4 0.4 0.3 0.5 0.5 0.3 0.3 0.5 0.4 0.4 0.6 0.5 1.0 0.4 0.7 0.6 0.6 0.6 0.8 0.4 0.9 0.5 0.4 0.5 0.9 0.5 0.6 0.4 0.9 0.5 0.5 0.4 0.6 0.6 0.8 0.3 0.9 0.3 0.7 0.4 0.8 0.4 0.4 0.5 0.9 0.5 0.6 0.4 0.8 0.5 0.5 0.6 1.0 0.4 0.6 0.5 0.9 0.4 0.5 0.4 0.8 0.4 0.7 0.5 0.8 0.3 1.0 0.6 0.7 0.5 0.4 0.6 0.7 0.5 0.9 0.4 0.9 0.4 0.3 0.5 0.9 0.6 1.0 0.5 0.9 0.5 0.4 0.5 0.9 0.4 0.7 0.4 0.5 0.4 0.7 0.4 0.4 0.3 0.5 0.5 0.8 0.4 0.5 0.5 0.4 0.5 0.9 0.4 0.7 0.5 0.8 0.5 0.8 0.4 0.9 0.6 0.3 0.6 0.6 0.3 0.3 0.5 0.8 0.3 0.6 0.5 1.0 0.4 0.8 0.4 0.4 0.3 0.6 0.5 0.5 0.3 0.5 0.3 0.4 0.4 0.7 0.4 0.6 0.4 1.0 0.5 1.0 0.4 0.4 0.5 0.4 0.3 0.3 0.5 1.0 0.4 0.6 0.4 0.6 0.5 0.6 0.3 0.9 0.5 0.3 0.6 0.8 0.4 0.7 0.6 0.6 0.4 0.5 0.5 0.8 0.5 1.0 0.3 0.6 0.6 0.8 0.5 0.8 0.4 1.0 0.5 0.6 0.3 0.4 0.6 0.9 0.3 0.5 0.4 0.7 0.4 0.9 0.4 0.7 0.6 0.8 0.4 0.5 0.4 0.7 0.5 0.5 0.4 0.6 0.4 0.9 0.5 0.5 0.4 0.9 0.3 0.8 0.3 0.4 0.3 0.9 0.3 0.5 0.3 0.5 0.5 0.8 0.6 1.0 0.5 0.9 0.3 0.9 0.4 0.4 0.5 0.9 0.4 0.4 0.6 0.8 0.5 1.0 0.3 0.3 0.3 0.3 0.5 0.7 0.3 0.4 0.3 0.7 0.5 1.0 0.4 1.0 0.4 0.6 0.4 0.5 0.6 1.0 0.5 0.4 0.3 0.4 0.4 0.8 0.3 0.7 0.5 0.3 0.4 0.8 0.5 0.6 0.6 0.7 0.4 0.6 0.6 0.9 0.6 0.7 0.3 0.4 0.4 0.8 0.3 0.9 0.5 0.7 0.3 0.9 0.4 0.8 0.5 0.8 0.4 1.0 0.6 0.9 0.5 0.5 0.4 0.5 0.6 0.8 0.5 0.9 0.6 0.8 0.4 0.8 0.4 0.7 0.3 0.9 0.5 0.5 0.6 0.4 0.6 0.8 0.3 0.8 0.5 0.9 0.5 0.6 0.6 0.4 0.5 0.4 0.4 0.4 0.6 0.6 0.5 0.5 0.5 0.8 0.3 0.7 0.5 0.5 0.5 0.5 0.4 0.9 0.6 1.0 0.4 0.7 0.5 0.8 0.4 0.9 0.4 1.0 0.4 0.4 0.5 0.4 0.5 0.3 0.6 0.7 0.5 0.4 0.5 0.6 0.4 0.9 0.3 0.6 0.3 0.9 0.6 0.3 0.4 0.6 0.5 0.8 0.4 0.9 0.4 0.4 0.5 0.4 0.4 0.7 0.4 0.4 0.6 0.6 0.5 0.5 0.6 0.5 0.6 0.7 0.6 0.8 0.5 0.7 0.6 0.6 0.3 0.9 0.5 0.8 0.5 0.5 0.4 0.9 0.6 0.9 0.3 0.8 0.5 0.6 0.3 0.4 0.4 0.7 0.4 0.6 0.5 0.8 0.5 0.4 0.6 0.6 0.6 1.0 0.3 0.7 0.6 0.6 0.5 0.5 0.3 0.4 0.3 0.5 0.5 0.7 0.6 0.8 0.4 1.0 0.5 0.7 0.6 0.8 0.4 0.7 0.4 1.0 0.4 1.0 0.3 0.3 0.5 0.4 0.5 0.4 0.6 0.8 0.5 0.9 0.6 0.8 0.5 0.3"/>
<circle cx="193.7" cy="159.1" r="132.4" fill="none" stroke="#1f8a1f" stroke-opacity="0.6" stroke-width="0.8" stroke-dasharray="0.3 1.2 0.6 1.0 0.5 0.3 0.4 2.3 0.5 2.1 0.3 0.8 0.3 2.1 0.3 2.4 0.4 2.2 0.5 1.0 0.6 1.2 0.5 0.5 0.6 2.5 0.3 1.9 0.4 0.6 0.4 1.8 0.6 2.5 0.6 1.7 0.5 0.7 0.5 1.5 0.4 2.3 0.4 0.6 0.3 0.6 0.5 2.1 0.3 1.4 0.5 1.5 0.4 1.5 0.3 0.4 0.4 0.8 0.5 0.8 0.6 0.8 0.3 1.4 0.4 1.0 0.5 0.8 0.5 2.1 0.4 1.4 0.6 1.6 0.3 0.5 0.3 1.0 0.3 1.7 0.4 1.0 0.5 2.4 0.4 0.6 0.4 1.0 0.6 1.9 0.4 0.7 0.3 0.6 0.6 1.7 0.3 1.7 0.3 1.4 0.4 0.5 0.5 1.9 0.5 0.7 0.5 1.2 0.5 0.5 0.6 0.3 0.4 1.2 0.4 0.5 0.5 2.5 0.4 0.9 0.5 0.8 0.4 1.8 0.4 0.6 0.3 1.5 0.6 2.3 0.3 1.4 0.5 0.7 0.5 1.4 0.5 0.9 0.6 2.1 0.4 0.6 0.5 0.6 0.5 1.8 0.5 2.5 0.3 1.9 0.5 0.6 0.4 0.4 0.5 1.9 0.4 1.8 0.4 1.9 0.4 2.5 0.4 0.3 0.3 1.9 0.6 1.7 0.3 2.2 0.5 0.6 0.4 1.8 0.3 0.4 0.4 2.2 0.6 1.0 0.6 2.0 0.6 1.6 0.6 1.7 0.6 1.5 0.4 1.4 0.4 1.0 0.4 1.4 0.5 0.8 0.4 1.4 0.5 1.2 0.5 0.7 0.5 0.9 0.5 1.9 0.5 1.4 0.4 2.3 0.5 1.1 0.4 1.2 0.5 2.1 0.4 1.9 0.4 1.3 0.4 1.0 0.4 2.0 0.5 0.8 0.4 2.0 0.5 1.8 0.5 1.8 0.4 0.4 0.4 0.4 0.6 1.4 0.5 2.4 0.5 0.8 0.4 0.5 0.5 1.9 0.5 1.1 0.4 1.4 0.5 2.3 0.6 2.2 0.4 1.2 0.4 2.4 0.4 0.7 0.4 2.3 0.6 1.0 0.6 2.3 0.4 0.7 0.5 1.1 0.3 2.3 0.4 1.2 0.5 0.9 0.3 1.2 0.4 0.3 0.4 2.0 0.4 1.8 0.5 0.7 0.3 1.8 0.5 0.9 0.4 2.2 0.6 0.8 0.5 1.6 0.4 0.4 0.4 1.7 0.5 1.4 0.3 0.8 0.4 1.2 0.4 2.3 0.3 2.5 0.4 2.2 0.4 1.6 0.4 0.4 0.5 2.1 0.4 2.0 0.4 2.5 0.3 1.1 0.4 1.7 0.5 2.1 0.5 1.1 0.5 0.5 0.4 2.0 0.4 2.5 0.3 1.3 0.4 0.3 0.3 0.5 0.4 1.2 0.5 0.9 0.5 1.4 0.6 0.7 0.5 1.4 0.4 2.2 0.4 2.2 0.4 1.0 0.5 1.5 0.4 0.5 0.6 1.1 0.3 1.7 0.5 1.0 0.4 2.2 0.4 1.2 0.6 1.1 0.4 0.7 0.5 1.8 0.4 1.2 0.4 2.0 0.4 2.1 0.4 1.9 0.3 0.8 0.6 1.8 0.5 1.4 0.4 0.7 0.3 1.7 0.5 0.9 0.5 0.6 0.5 0.7 0.5 1.0 0.5 0.6 0.5 1.7 0.3 1.0 0.5 1.5 0.5 2.0 0.5 0.8 0.4 2.1 0.5 2.0 0.4 1.3 0.6 2.1 0.5 0.5 0.5 0.4 0.6 2.4 0.5 0.9 0.6 0.7 0.6 1.4 0.3 2.3 0.4 2.1 0.5 1.5 0.6 0.8 0.6 1.1 0.3 1.0 0.3 0.5 0.5 0.6 0.3 0.9 0.4 2.3 0.6 2.2 0.6 1.3 0.5 0.9 0.6 2.1 0.5 0.8 0.3 2.3 0.5 1.6 0.6 0.6 0.5 1.3 0.5 1.3 0.4 2.4 0.4 1.9 0.6 0.8 0.5 1.2 0.4 0.8 0.6 1.1 0.5 1.4 0.3 2.0 0.5 2.2 0.4 0.8 0.4 1.9 0.5 1.2 0.5 0.6 0.6 1.3 0.5 2.0 0.4 1.9 0.4 2.1 0.3 0.9 0.5 1.4 0.4 1.6 0.4 1.3 0.3 2.1 0.4 2.1 0.5 1.6 0.5 0.6 0.5 0.9 0.6 2.0 0.5 2.1 0.4 1.8 0.6 0.7 0.3 1.2 0.5 0.6 0.4 2.2 0.4 0.6 0.3 1.6 0.4 1.4 0.5 1.3 0.5 2.1 0.3 2.4 0.4 0.4 0.5 1.6 0.5 0.8 0.5 1.0 0.5 0.8 0.5 1.7 0.4 1.4 0.3 1.7 0.5 0.6 0.5 1.9 0.3 2.1 0.6 0.4 0.4 0.5 0.4 0.5 0.5 0.8 0.4 1.3 0.4 2.0 0.5 0.6 0.4 0.3 0.4 0.5 0.5 2.0 0.6 0.8 0.3 2.0 0.4 2.4 0.4 1.0 0.3 2.4 0.5 1.3 0.4 2.0 0.6 1.4 0.3 1.2 0.6 1.2 0.5 1.5 0.4 1.6 0.4 1.5 0.6 0.5 0.4 2.2 0.6 0.3 0.5 1.7 0.6 1.3 0.3 1.0 0.5 1.9 0.4 1.7 0.5 1.8 0.3 1.3 0.4 1.6 0.4 0.6 0.5 0.9 0.5 1.0 0.5 2.1 0.3 1.9 0.3 2.4 0.3 1.9 0.4 0.7 0.4 1.4 0.4 0.6 0.5 1.0 0.6 1.1 0.4 0.8 0.6 1.0 0.5 2.1 0.4 2.0 0.4 0.5 0.3 1.3 0.6 0.8 0.4 2.0 0.4 0.6 0.5 1.2 0.6 2.3 0.4 1.5 0.4 0.4 0.4 2.3 0.4 1.6 0.5 0.4 0.6 0.5 0.4 1.9 0.3 1.1 0.3 1.3 0.3 0.6 0.4 0.5 0.3 0.7 0.5 0.6 0.6 1.2 0.4 0.8 0.6 0.4 0.5 0.5 0.6 1.2 0.5 2.2 0.3 0.4 0.5 1.6 0.5 0.9 0.5 0.7 0.4 0.9 0.5 1.0 0.4 1.7 0.3 2.1 0.5 0.8 0.3 1.4 0.5 1.9 0.4 1.2 0.6 0.9 0.6 2.3 0.6 2.4 0.4 2.1 0.5 0.8 0.6 1.7 0.5 1.5 0.3 2.2 0.3 0.9 0.5 0.7 0.4 1.9 0.3 1.8 0.3 1.4 0.5 1.8 0.3 0.7 0.6 1.2 0.4 1.1 0.5 1.9 0.5 1.2 0.5 1.4 0.4 2.4 0.6 2.0 0.6 1.3 0.6 0.8 0.5 1.9 0.6 2.1 0.6 0.9 0.5 1.4 0.4 1.1 0.5 2.1 0.6 1.8 0.3 0.6 0.5 0.8 0.4 0.5 0.3 1.9 0.4 2.2 0.4 2.2 0.4 0.9 0.4 0.3 0.4 1.1 0.3 2.2 0.4 0.3 0.6 0.8 0.4 0.3 0.3 1.9 0.5 1.4 0.4 0.9 0.6 1.1 0.6 2.2 0.3 2.2 0.3 1.9 0.5 1.8 0.5 2.1 0.3 1.5 0.4 1.2 0.4 1.9 0.5 2.0 0.5 1.6 0.6 2.1 0.5 1.0 0.6 1.1 0.3 1.0 0.5 2.4 0.5 1.8 0.6 2.0 0.4 1.3 0.5 1.0 0.3 1.7 0.5 0.8 0.5 2.3 0.3 0.6 0.5 1.0 0.6 2.5 0.4 2.0 0.5 0.7 0.6 0.7 0.3 1.3 0.3 1.4 0.4 2.4 0.4 2.2 0.5 1.6 0.4 1.0"/>
<circle cx="193.7" cy="159.1" r="133.2" fill="none" stroke="#1f8a1f" stroke-opacity="0.4" stroke-width="0.8" stroke-dasharray="0.5 2.2 0.5 2.7 0.4 3.1 0.6 1.2 0.4 0.4 0.3 0.6 0.4 4.2 0.5 4.8 0.6 3.0 0.5 0.4 0.4 1.5 0.5 0.6 0.5 2.1 0.5 2.2 0.3 3.7 0.5 3.1 0.3 3.1 0.6 4.9 0.5 0.5 0.6 3.4 0.4 4.6 0.6 4.5 0.4 3.0 0.4 1.7 0.5 3.2 0.4 2.9 0.6 3.0 0.6 3.0 0.6 0.4 0.4 2.9 0.5 4.8 0.5 2.5 0.5 2.8 0.5 4.8 0.3 1.8 0.6 0.6 0.5 0.5 0.5 4.1 0.4 2.1 0.4 3.6 0.5 3.1 0.4 3.1 0.6 4.0 0.6 1.5 0.5 2.1 0.4 4.1 0.3 2.9 0.5 4.7 0.3 1.6 0.5 4.7 0.3 4.2 0.4 2.9 0.6 0.6 0.4 1.0 0.3 1.7 0.5 3.0 0.3 4.1 0.5 1.0 0.6 4.2 0.4 4.7 0.5 1.4 0.3 4.4 0.6 0.8 0.5 3.9 0.5 4.2 0.6 1.8 0.6 4.6 0.4 3.5 0.5 4.3 0.5 1.6 0.4 2.9 0.3 4.3 0.6 1.4 0.5 3.5 0.3 4.0 0.5 1.7 0.3 1.6 0.5 2.5 0.5 1.1 0.3 1.9 0.6 1.1 0.3 3.8 0.3 3.4 0.3 1.5 0.5 4.4 0.4 2.4 0.3 1.9 0.4 4.0 0.5 4.0 0.5 3.6 0.3 2.1 0.4 1.6 0.5 1.3 0.4 1.6 0.6 3.3 0.4 2.1 0.6 4.7 0.4 3.0 0.6 1.5 0.4 0.8 0.5 3.9 0.3 2.3 0.6 2.6 0.4 4.2 0.6 2.1 0.3 3.3 0.5 4.6 0.5 1.8 0.5 1.6 0.4 2.5 0.6 4.6 0.6 2.5 0.6 0.9 0.6 3.3 0.6 2.2 0.6 0.4 0.6 4.2 0.4 4.2 0.4 3.8 0.4 2.2 0.4 4.1 0.5 0.7 0.6 1.3 0.4 2.2 0.5 4.5 0.6 3.3 0.4 0.8 0.3 2.7 0.5 2.4 0.6 2.2 0.4 2.3 0.3 4.7 0.5 2.9 0.4 1.5 0.4 2.6 0.4 4.9 0.5 1.3 0.3 1.1 0.4 4.0 0.6 1.4 0.5 2.4 0.5 2.8 0.3 0.6 0.5 3.5 0.4 4.6 0.6 1.7 0.3 2.9 0.5 1.4 0.3 2.6 0.3 3.8 0.5 1.6 0.4 1.4 0.4 1.1 0.5 2.4 0.5 1.9 0.5 3.1 0.5 2.1 0.5 1.2 0.6 3.5 0.5 3.3 0.3 1.9 0.4 4.3 0.3 2.4 0.6 4.0 0.5 1.7 0.4 3.6 0.4 3.7 0.4 3.9 0.5 4.1 0.6 2.1 0.6 0.3 0.6 0.4 0.5 2.1 0.5 1.8 0.4 4.0 0.5 3.9 0.5 0.5 0.5 1.3 0.4 0.3 0.4 3.4 0.5 3.3 0.4 3.7 0.5 1.3 0.5 3.1 0.5 1.2 0.4 1.9 0.3 1.9 0.5 3.0 0.3 3.7 0.3 3.8 0.3 0.8 0.4 2.7 0.4 4.5 0.6 1.6 0.5 3.6 0.5 1.5 0.6 4.8 0.3 1.9 0.4 1.2 0.4 4.5 0.3 4.2 0.4 0.4 0.6 1.6 0.4 0.8 0.4 0.9 0.3 1.5 0.5 2.4 0.4 2.8 0.5 3.7 0.4 4.6 0.5 2.9 0.4 1.9 0.3 4.5 0.5 0.8 0.6 4.5 0.3 3.6 0.4 2.8 0.6 1.9 0.5 3.4 0.4 3.2 0.4 4.9 0.4 3.6 0.3 1.6 0.3 1.0 0.5 1.1 0.5 0.8 0.5 4.3 0.3 1.3 0.5 2.5 0.6 1.9 0.4 4.8 0.4 4.8 0.6 1.2 0.5 4.7 0.3 4.3 0.5 3.8 0.5 0.8 0.6 0.8 0.5 3.7 0.4 3.5 0.4 3.8 0.3 4.7 0.4 4.1 0.4 4.1 0.4 2.9 0.3 2.6 0.3 4.3 0.5 2.3 0.6 4.8 0.6 0.7 0.5 3.7 0.5 0.4 0.6 2.4 0.5 4.1 0.4 0.4 0.6 1.6 0.3 0.9 0.6 3.8 0.4 1.0 0.6 3.4 0.5 0.9 0.4 4.8 0.3 2.3 0.3 5.0 0.3 4.8 0.6 3.7"/>
<circle cx="193.7" cy="159.1" r="128.5" fill="none" stroke="#1f8a1f" stroke-opacity="0.7" stroke-width="0.7" stroke-dasharray="0.3 1.1 0.5 0.8 0.3 0.9 0.5 0.4 0.6 0.8 0.4 0.6 0.4 1.0 0.5 1.3 0.5 0.9 0.6 0.5 0.3 0.7 0.4 0.4 0.4 0.3 0.6 0.8 0.6 1.1 0.5 1.1 0.4 1.1 0.4 0.9 0.5 1.1 0.3 0.7 0.6 1.2 0.6 0.4 0.4 0.4 0.5 1.1 0.5 1.2 0.5 0.9 0.6 1.0 0.5 0.9 0.5 1.1 0.5 0.4 0.4 0.8 0.4 0.9 0.4 0.7 0.4 0.7 0.6 0.4 0.3 1.1 0.4 0.8 0.5 0.7 0.4 0.3 0.6 1.3 0.4 0.8 0.4 0.4 0.6 1.2 0.4 0.6 0.5 1.2 0.4 0.7 0.4 1.2 0.6 1.2 0.3 0.9 0.6 1.1 0.4 0.5 0.3 1.1 0.3 1.2 0.5 0.8 0.6 1.3 0.5 0.4 0.5 0.8 0.4 1.3 0.5 0.4 0.4 0.7 0.5 0.7 0.4 1.2 0.3 1.1 0.4 1.3 0.6 0.7 0.5 0.4 0.4 1.0 0.5 0.7 0.3 0.4 0.5 0.5 0.4 1.0 0.6 0.9 0.4 0.9 0.4 1.2 0.3 0.6 0.4 1.3 0.3 0.5 0.3 0.5 0.4 0.7 0.5 0.7 0.4 0.7 0.5 1.3 0.4 1.3 0.4 1.4 0.5 1.1 0.4 0.6 0.3 1.3 0.4 1.1 0.4 0.9 0.4 0.5 0.4 1.1 0.5 0.3 0.5 0.8 0.3 0.6 0.4 1.2 0.5 0.7 0.4 0.6 0.4 0.7 0.5 1.2 0.5 1.3 0.5 0.4 0.3 0.5 0.4 0.9 0.6 0.9 0.4 0.6 0.6 1.1 0.4 0.3 0.6 0.6 0.6 0.4 0.5 0.7 0.6 0.6 0.3 0.5 0.5 1.4 0.5 1.1 0.4 0.6 0.3 1.4 0.3 1.0 0.4 0.5 0.4 1.3 0.4 0.5 0.5 1.0 0.5 0.5 0.6 0.4 0.3 0.6 0.5 0.8 0.5 1.1 0.6 0.8 0.3 1.2 0.3 0.7 0.3 1.0 0.5 0.4 0.4 1.2 0.5 0.4 0.5 1.2 0.4 0.5 0.5 0.7 0.3 0.5 0.4 0.4 0.4 0.9 0.5 0.7 0.5 0.4 0.4 1.3 0.6 1.3 0.5 0.9 0.5 0.9 0.3 0.6 0.3 1.3 0.4 0.8 0.5 0.4 0.5 1.2 0.5 1.3 0.4 0.5 0.5 1.1 0.4 0.7 0.3 1.2 0.4 1.2 0.4 0.7 0.5 1.1 0.6 0.7 0.5 0.7 0.6 1.1 0.5 0.7 0.4 1.3 0.5 0.6 0.3 0.5 0.6 0.3 0.5 0.9 0.5 0.9 0.4 0.9 0.3 1.3 0.3 0.5 0.5 1.0 0.5 1.1 0.6 0.4 0.3 0.6 0.5 0.5 0.5 1.1 0.3 0.9 0.6 1.1 0.4 0.8 0.4 1.4 0.5 1.1 0.4 1.1 0.5 1.2 0.4 1.3 0.5 0.8 0.5 1.2 0.5 1.4 0.3 1.3 0.5 0.8 0.6 0.5 0.4 1.1 0.6 0.7 0.6 1.0 0.3 0.4 0.3 0.9 0.4 0.6 0.4 0.4 0.6 1.2 0.5 0.8 0.4 1.0 0.4 1.4 0.6 1.1 0.6 0.4 0.3 0.7 0.3 0.8 0.6 1.2 0.6 0.5 0.4 0.3 0.4 0.4 0.5 0.6 0.5 0.9 0.5 0.6 0.5 1.1 0.5 0.8 0.4 0.6 0.3 0.8 0.5 0.5 0.6 1.3 0.6 1.2 0.5 0.5 0.4 1.1 0.6 0.4 0.3 0.7 0.4 1.0 0.3 1.2 0.4 1.3 0.4 0.6 0.3 1.4 0.5 1.2 0.3 0.9 0.5 1.4 0.6 0.4 0.4 1.4 0.5 1.4 0.4 0.3 0.6 0.6 0.5 0.7 0.5 1.3 0.6 1.3 0.4 1.2 0.3 0.8 0.6 0.6 0.4 0.9 0.4 1.1 0.5 0.4 0.6 0.4 0.5 0.7 0.3 0.4 0.6 1.2 0.4 1.2 0.6 1.3 0.5 0.6 0.5 1.4 0.5 1.0 0.6 0.8 0.5 1.2 0.4 1.2 0.3 0.9 0.5 0.5 0.6 0.8 0.4 0.8 0.5 0.8 0.3 0.4 0.5 0.5 0.4 1.2 0.6 1.3 0.3 0.3 0.5 1.0 0.4 0.3 0.4 0.6 0.5 1.4 0.4 0.4 0.5 0.4 0.4 0.8 0.6 0.7 0.4 0.8 0.3 0.7 0.5 0.7 0.5 0.5 0.3 1.0 0.4 1.3 0.3 1.1 0.5 0.7 0.3 1.0 0.5 0.8 0.4 1.1 0.5 0.8 0.4 0.8 0.5 1.3 0.6 0.9 0.4 0.6 0.5 1.1 0.4 1.1 0.6 0.7 0.6 0.8 0.5 1.2 0.4 0.7 0.6 0.4 0.4 0.8 0.5 1.0 0.6 1.0 0.3 0.4 0.3 0.8 0.3 0.9 0.5 0.5 0.6 0.8 0.6 0.7 0.5 0.9 0.4 1.2 0.3 0.6 0.4 1.3 0.5 0.3 0.4 1.0 0.5 0.4 0.5 0.7 0.5 0.8 0.4 1.4 0.6 1.3 0.5 1.1 0.3 0.3 0.6 1.0 0.5 0.6 0.4 1.3 0.5 0.3 0.4 0.7 0.3 1.4 0.6 1.2 0.3 0.8 0.3 1.1 0.5 1.2 0.5 0.4 0.3 0.4 0.6 1.2 0.5 0.6 0.6 0.4 0.4 0.3 0.6 0.8 0.5 1.2 0.5 1.4 0.5 1.3 0.6 0.4 0.5 0.6 0.4 0.7 0.6 0.4 0.4 0.4 0.6 0.8 0.5 0.9 0.5 0.7 0.4 1.1 0.5 1.3 0.4 1.2 0.5 0.9 0.4 0.9 0.3 0.4 0.4 0.4 0.3 1.1 0.5 1.0 0.4 1.1 0.6 1.0 0.4 0.9 0.4 0.6 0.3 1.2 0.5 1.3 0.3 0.6 0.5 0.4 0.4 0.9 0.4 1.3 0.5 1.0 0.5 1.2 0.4 0.3 0.6 1.2 0.3 0.4 0.4 1.0 0.3 0.3 0.5 0.3 0.4 0.7 0.4 0.3 0.4 0.6 0.4 0.8 0.4 0.7 0.3 1.2 0.5 0.8 0.3 0.6 0.6 0.8 0.4 1.2 0.6 0.4 0.5 0.9 0.3 0.7 0.5 1.0 0.5 1.0 0.4 0.4 0.3 1.2 0.6 1.3 0.3 1.1 0.3 0.7 0.4 1.2 0.6 1.2 0.4 1.3 0.4 0.9 0.5 0.6 0.4 0.4 0.5 0.5 0.3 0.6 0.5 1.0 0.5 1.2 0.5 0.5 0.5 0.5 0.4 0.5 0.3 0.7 0.6 1.0 0.3 0.5 0.5 0.9 0.3 0.4 0.5 1.0 0.3 1.1 0.4 0.9 0.5 0.7 0.6 0.7 0.4 0.9 0.6 1.4 0.5 0.9 0.5 1.0 0.6 1.4 0.5 0.5 0.5 0.8 0.4 1.2 0.4 1.1 0.5 0.8 0.5 1.1 0.6 1.4 0.5 0.6 0.5 0.8 0.6 0.8 0.4 0.3 0.4 0.9 0.4 0.4 0.5 0.4 0.3 0.8 0.4 0.8 0.5 0.7 0.3 0.3 0.5 1.4 0.4 0.7 0.4 1.1 0.5 1.2 0.3 0.5 0.4 0.7 0.4 0.7 0.6 0.8 0.5 1.4 0.5 0.9 0.6 0.7 0.3 1.4 0.5 0.9 0.3 1.1 0.4 1.0 0.4 1.3 0.4 0.6 0.6 0.5 0.4 0.8 0.6 0.4 0.4 1.2 0.3 0.8 0.5 1.1 0.5 0.4 0.6 0.7 0.5 0.8 0.6 0.8 0.4 0.5 0.5 0.3 0.3 1.3 0.5 1.2 0.3 0.8 0.4 0.4 0.4 1.3 0.5 0.9 0.5 1.2 0.6 0.9 0.3 1.3 0.3 0.6 0.3 0.9 0.5 0.8 0.4 0.5 0.5 0.9 0.4 1.2 0.6 1.3 0.6 0.4 0.4 0.8 0.4 1.1 0.6 0.5 0.5 1.4 0.6 0.8 0.3 0.8 0.5 1.2 0.4 0.6 0.6 0.3 0.5 0.4 0.5 0.8 0.6 0.6 0.6 0.6 0.3 0.4 0.3 0.7 0.6 0.7 0.5 0.3 0.5 0.9 0.3 0.9 0.4 0.7 0.6 1.1 0.3 0.4 0.3 0.6 0.5 1.4 0.6 1.2 0.3 1.2 0.5 0.8 0.6 1.0 0.3 0.5 0.3 1.0 0.5 1.2 0.3 0.3 0.6 0.6 0.4 1.2 0.3 1.2 0.6 0.9 0.5 0.3 0.5 1.0 0.5 0.9 0.3 0.5 0.5 0.4 0.3 0.6 0.5 0.9 0.4 1.4 0.5 0.6 0.5 1.2 0.4 0.8 0.5 1.4 0.5 0.5 0.5 0.7 0.4 1.1 0.3 0.9 0.4 1.0 0.6 0.8 0.5 0.6 0.4 0.9 0.5 0.6 0.5 0.8 0.4 0.6 0.6 1.3 0.6 0.6 0.3 1.0 0.3 1.2 0.5 0.7 0.4 1.1 0.3 0.7 0.5 1.1 0.5 0.4 0.4 0.6 0.3 1.0 0.5 1.3 0.5 1.3 0.4 0.9 0.4 0.8 0.6 0.8 0.3 0.7 0.4 1.0 0.5 0.8 0.6 1.1 0.3 0.3 0.5 1.0 0.5 0.8 0.3 0.8 0.6 1.0 0.3 0.4 0.6 0.9 0.3 1.1 0.6 1.2 0.5 1.2 0.3 0.8 0.5 0.7 0.3 1.2 0.5 0.3 0.3 0.9 0.6 1.0 0.6 0.4 0.5 0.5 0.4 0.5 0.4 0.3 0.5 1.0 0.6 1.1 0.3 1.3 0.5 1.3 0.5 0.4 0.5 0.5 0.6 0.9 0.6 0.8 0.4 1.0 0.5 0.8 0.4 0.8 0.5 0.6 0.3 0.8 0.5 0.4 0.4 1.4 0.4 1.1 0.4 0.4 0.5 1.3 0.5 0.3 0.5 1.0 0.4 1.0 0.5 0.5 0.5 0.4 0.4 1.2 0.5 0.9 0.5 0.8 0.4 0.9 0.3 0.7 0.3 1.4 0.6 1.0 0.3 1.2 0.4 1.2 0.5 1.0 0.5 0.6 0.6 0.9 0.5 1.2 0.4 0.8 0.4 0.4"/>
<circle cx="193.7" cy="159.1" r="123.3" fill="none" stroke="#a8181d" stroke-opacity="0.9" stroke-width="2.4" stroke-dasharray="5.4 0.5 3.7 0.4 5.5 0.2 3.1 0.5 3.9 0.4 2.7 0.2 4.5 0.3 5.7 0.6 5.9 0.3 3.8 0.2 3.1 0.2 3.8 0.6 4.9 0.3 2.7 0.6 1.7 0.5 5.3 0.2 5.8 0.4 3.2 0.3 4.2 0.4 5.4 0.6 3.0 0.1 5.0 0.4 4.5 0.2 1.8 0.6 3.1 0.4 5.9 0.2 4.4 0.2 4.0 0.5 2.2 0.5 5.9 0.5 5.1 0.6 4.7 0.4 5.2 0.5 4.3 0.5 2.3 0.3 3.0 0.5 5.0 0.3 6.0 0.2 1.8 0.3 1.9 0.6 3.1 0.3 5.3 0.4 4.3 0.3 3.6 0.6 2.8 0.4 3.6 0.2 2.2 0.4 5.1 0.3 1.8 0.6 2.1 0.6 1.7 0.4 2.2 0.3 3.4 0.5 3.5 0.3 3.3 0.4 2.8 0.6 2.4 0.2 4.0 0.3 4.8 0.2 4.5 0.3 5.7 0.3 3.5 0.3 3.9 0.3 4.5 0.3 4.7 0.3 3.5 0.4 4.7 0.4 3.4 0.2 2.0 0.2 2.3 0.2 4.5 0.3 5.6 0.3 2.6 0.2 2.1 0.5 4.1 0.3 5.2 0.5 3.4 0.4 4.5 0.3 1.9 0.3 5.8 0.3 4.4 0.2 5.0 0.5 3.2 0.3 3.8 0.3 2.4 0.2 4.6 0.4 5.8 0.6 5.4 0.6 5.3 0.2 2.1 0.6 5.4 0.4 4.3 0.3 3.4 0.2 4.0 0.3 2.0 0.5 4.1 0.5 2.8 0.4 2.8 0.5 2.4 0.4 4.0 0.3 1.9 0.4 3.9 0.5 2.4 0.2 2.9 0.5 2.5 0.4 1.6 0.2 4.7 0.4 2.0 0.4 5.7 0.3 4.0 0.3 3.8 0.2 5.5 0.4 3.1 0.3 2.3 0.6 5.3 0.3 4.2 0.4 2.4 0.2 4.8 0.2 4.0 0.2 1.6 0.2 4.4 0.4 6.0 0.5 3.9 0.2 5.8 0.4 5.4 0.2 5.3 0.4 2.5 0.3 1.8 0.4 2.5 0.5 2.3 0.5 4.3 0.5 5.8 0.3 4.6 0.3 5.5 0.5 4.9 0.4 2.7 0.6 5.9 0.6 3.0 0.5 4.5 0.5 5.1 0.3 3.3 0.5 4.5 0.4 5.4 0.2 1.6 0.4 1.9 0.5 1.9 0.6 2.5 0.2 4.9 0.5 3.4 0.4 4.0 0.6 3.8 0.4 3.6 0.3 4.6 0.2 4.6 0.6 4.9 0.4 3.1 0.2 1.9 0.4 5.5 0.5 2.3 0.5 5.1 0.4 5.4 0.2 3.0 0.4 4.8 0.3 2.9 0.5 3.3 0.3 2.5 0.4 4.7 0.3 4.5 0.4 1.6 0.6 2.8 0.4 5.8 0.2 1.8 0.2 2.2 0.5 3.8 0.2 2.7 0.4 2.3 0.3 5.6 0.3 2.5 0.4 2.0 0.4 4.4 0.2 4.0 0.3 4.8 0.4 5.6 0.4 2.3 0.2 4.7 0.5 1.8 0.3 2.8 0.4"/>
<circle cx="193.7" cy="159.1" r="124.9" fill="none" stroke="#a8181d" stroke-opacity="0.8" stroke-width="0.9" stroke-dasharray="0.6 0.7 0.5 0.8 0.4 0.7 0.4 0.6 0.5 0.8 0.3 0.9 0.3 0.5 0.6 1.0 0.4 1.0 0.3 1.0 0.4 0.3 0.5 0.4 0.5 0.3 0.3 0.6 0.3 0.6 0.4 0.8 0.5 1.0 0.6 0.4 0.6 0.9 0.5 0.7 0.3 0.5 0.4 0.4 0.5 0.5 0.5 0.7 0.6 0.4 0.6 0.7 0.5 0.5 0.5 0.6 0.5 0.7 0.3 0.5 0.5 0.3 0.5 0.7 0.5 0.5 0.4 0.6 0.5 0.3 0.5 0.5 0.5 0.5 0.4 0.5 0.6 0.6 0.6 0.8 0.4 0.7 0.3 0.9 0.5 0.4 0.5 0.7 0.5 0.5 0.6 0.7 0.3 0.9 0.6 0.5 0.5 0.9 0.6 0.3 0.6 0.5 0.5 0.8 0.4 0.9 0.5 1.0 0.6 0.7 0.5 0.8 0.4 0.7 0.5 0.5 0.4 0.9 0.6 0.8 0.5 0.7 0.5 0.8 0.3 0.6 0.6 0.4 0.4 0.3 0.4 0.9 0.3 0.9 0.5 0.9 0.4 0.9 0.4 0.6 0.6 0.7 0.5 0.4 0.3 0.5 0.3 0.9 0.4 1.0 0.5 0.4 0.5 0.5 0.5 0.3 0.6 0.8 0.5 0.8 0.4 0.4 0.4 0.8 0.5 0.4 0.4 0.6 0.3 0.3 0.4 0.4 0.6 0.4 0.5 0.9 0.4 0.7 0.6 0.7 0.4 1.0 0.4 1.0 0.4 0.6 0.4 0.8 0.6 0.8 0.3 1.0 0.5 0.7 0.6 0.4 0.5 0.8 0.5 0.8 0.3 0.6 0.4 0.7 0.4 0.6 0.5 0.7 0.6 0.5 0.4 0.4 0.3 0.9 0.6 0.4 0.4 0.9 0.6 1.0 0.6 0.5 0.3 0.5 0.5 0.3 0.4 0.6 0.5 0.4 0.3 0.5 0.3 0.4 0.3 0.9 0.6 0.3 0.5 0.9 0.5 0.5 0.6 0.4 0.3 1.0 0.4 0.9 0.5 0.3 0.3 0.8 0.3 0.8 0.5 0.5 0.4 0.5 0.6 0.7 0.5 0.7 0.3 0.9 0.5 0.7 0.5 0.6 0.5 0.7 0.4 0.7 0.4 0.3 0.5 0.9 0.5 0.5 0.5 0.7 0.5 0.6 0.5 0.8 0.6 0.7 0.5 0.8 0.3 0.5 0.4 0.6 0.5 0.5 0.6 0.8 0.4 0.8 0.6 0.4 0.5 1.0 0.4 0.9 0.5 0.5 0.3 0.9 0.4 0.6 0.4 0.8 0.6 0.9 0.5 0.4 0.4 0.3 0.4 0.5 0.3 0.6 0.3 0.8 0.4 0.5 0.5 0.5 0.3 0.9 0.5 0.9 0.4 0.5 0.5 0.4 0.6 0.8 0.5 0.3 0.4 0.6 0.6 0.4 0.5 0.3 0.6 0.8 0.5 0.8 0.3 0.5 0.3 0.7 0.3 0.4 0.3 0.9 0.5 0.5 0.6 0.4 0.3 0.6 0.5 0.4 0.5 0.7 0.5 0.5 0.3 0.4 0.5 0.7 0.5 0.4 0.4 0.5 0.6 0.8 0.3 0.8 0.3 0.6 0.4 0.8 0.5 0.8 0.4 0.3 0.5 0.8 0.3 0.9 0.6 0.6 0.5 0.8 0.6 0.8 0.5 0.8 0.5 0.3 0.5 0.6 0.4 0.6 0.4 0.5 0.5 0.9 0.4 0.9 0.3 0.7 0.5 0.8 0.4 0.4 0.6 0.7 0.5 0.5 0.3 0.7 0.4 0.9 0.5 0.8 0.5 0.8 0.3 1.0 0.5 0.7 0.4 0.4 0.5 0.8 0.5 0.5 0.5 0.8 0.5 0.9 0.3 0.8 0.3 0.7 0.5 0.3 0.4 0.8 0.6 0.3 0.5 0.9 0.3 0.9 0.6 0.5 0.4 0.4 0.4 0.6 0.5 1.0 0.5 1.0 0.4 0.8 0.3 0.6 0.3 0.4 0.5 0.4 0.4 0.7 0.5 0.3 0.3 0.8 0.4 0.4 0.4 0.6 0.6 0.3 0.3 0.3 0.5 1.0 0.5 0.4 0.5 0.6 0.6 0.8 0.5 0.5 0.4 0.7 0.4 0.7 0.3 0.6 0.6 0.6 0.5 0.8 0.5 0.8 0.4 0.8 0.4 0.7 0.3 0.4 0.3 0.6 0.5 0.3 0.6 0.4 0.6 1.0 0.5 0.9 0.6 0.6 0.6 0.3 0.5 0.8 0.5 0.4 0.3 0.7 0.5 0.8 0.3 0.7 0.6 0.5 0.6 1.0 0.5 0.6 0.4 0.6 0.3 0.3 0.4 0.4 0.6 0.6 0.6 0.7 0.6 0.9 0.5 0.6 0.4 0.7 0.4 0.9 0.3 0.8 0.4 0.6 0.5 1.0 0.6 0.6 0.6 1.0 0.5 0.7 0.4 0.8 0.5 0.8 0.6 0.7 0.5 0.7 0.3 0.6 0.3 0.4 0.6 0.6 0.3 0.6 0.3 0.7 0.4 0.5 0.5 0.9 0.3 0.8 0.5 0.6 0.4 0.3 0.4 0.7 0.4 1.0 0.4 0.9 0.5 0.9 0.5 0.7 0.6 0.4 0.4 0.3 0.5 0.6 0.6 0.9 0.4 0.7 0.3 0.8 0.5 0.4 0.6 0.3 0.4 0.6 0.6 0.4 0.4 0.8 0.4 0.9 0.3 0.5 0.4 0.9 0.3 0.8 0.6 1.0 0.5 0.3 0.4 0.5 0.3 0.5 0.5 0.7 0.3 0.5 0.3 0.9 0.5 0.6 0.6 1.0 0.4 0.5 0.4 0.7 0.5 0.7 0.5 0.7 0.4 0.8 0.6 0.3 0.5 0.4 0.5 0.6 0.6 0.8 0.6 0.7 0.5 1.0 0.5 0.5 0.3 0.9 0.3 0.9 0.6 0.8 0.6 0.7 0.5 0.7 0.4 0.4 0.5 0.6 0.3 0.7 0.4 0.5 0.6 0.7 0.5 0.9 0.4 0.6 0.4 0.6 0.5 0.9 0.4 0.8 0.4 0.3 0.5 0.8 0.4 1.0 0.5 0.5 0.5 0.9 0.3 0.9 0.4 0.5 0.4 0.7 0.5 0.5 0.3 0.7 0.5 0.8 0.4 0.9 0.3 0.4 0.3 0.7 0.5 0.5 0.5 0.3 0.3 1.0 0.6 0.3 0.5 0.7 0.5 0.9 0.5 1.0 0.5 0.9 0.3 0.9 0.4 0.9 0.5 1.0 0.5 0.6 0.5 0.8 0.3 0.7 0.5 0.8 0.4 0.7 0.5 0.6 0.5 0.9 0.4 0.7 0.5 0.9 0.4 0.5 0.4 0.8 0.3 1.0 0.5 0.8 0.4 0.3 0.4 0.7 0.3 1.0 0.5 0.6 0.3 0.5 0.4 0.8 0.3 0.6 0.4 0.7 0.5 0.7 0.5 0.7 0.3 0.8 0.5 0.8 0.6 0.6 0.6 0.5 0.5 0.3 0.6 0.6 0.4 0.7 0.4 0.5 0.5 0.7 0.3 0.5 0.6 0.5 0.4 0.7 0.4 1.0 0.6 0.4 0.4 0.4 0.4 0.5 0.5 0.9 0.3 0.3 0.3 0.5 0.3 0.6 0.4 0.8 0.6 1.0 0.4 0.8 0.3 0.7 0.6 0.9 0.3 0.4 0.6 0.8 0.5 0.3 0.5 0.3 0.5 0.9 0.4 0.3 0.5 1.0 0.5 0.6 0.4 0.9 0.6 0.6 0.4 1.0 0.4 0.6 0.4 0.8 0.6 0.6 0.6 0.6 0.4 0.9 0.6 0.8 0.5 0.9 0.6 1.0 0.5 0.6 0.3 0.7 0.4 0.3 0.6 0.5 0.6 0.3 0.4 0.8 0.5 0.8 0.5 0.4 0.6 0.8 0.4 0.7 0.5 0.7 0.4 0.6 0.5 0.8 0.4 0.8 0.4 0.8 0.4 0.9 0.6 0.8 0.4 0.6 0.4 0.7 0.3 0.7 0.6 0.3 0.6 0.7 0.6 0.8 0.5 0.8 0.4 0.4 0.6 0.9 0.5 0.5 0.5 0.7 0.4 0.6 0.4 1.0 0.5 1.0 0.6 0.4 0.5 0.6 0.5 0.7 0.5 0.5 0.5 0.6 0.5 0.7 0.5 1.0 0.4 0.3 0.6 0.7 0.5 0.9 0.6 0.6 0.6 0.6 0.5 0.9 0.4 0.6 0.4 0.5 0.4 0.9 0.3 1.0 0.5 0.7 0.5 0.5 0.5 0.9 0.4 0.7 0.4 0.5 0.6 0.8 0.4 0.8 0.4 0.3 0.4 0.7 0.4 0.7 0.4 0.5 0.5 0.6 0.5 0.8 0.4 0.3 0.6 0.7 0.5 0.8 0.5 0.9 0.3 1.0 0.5 0.6 0.6 0.9 0.5 0.3 0.5 0.6 0.5 0.9 0.3 0.9 0.4 0.5 0.3 0.4 0.4 0.7 0.6 0.4 0.4 0.6 0.5 0.6 0.5 0.4 0.3 0.7 0.5 0.4 0.3 0.8 0.3 0.9 0.5 0.4 0.4 0.3 0.3 0.6 0.6 0.9 0.5 0.8 0.5 0.7 0.5 0.7 0.4 0.9 0.4 0.6 0.5 1.0 0.4 0.6 0.4 0.5 0.4 0.8 0.4 0.6 0.4 0.7 0.5 0.4 0.5 0.4 0.5 0.8 0.4 0.5 0.4 0.5 0.6 0.9 0.5 0.6 0.4 0.4 0.4 1.0 0.3 0.6 0.4 0.9 0.4 0.6 0.3 0.8 0.5 0.9 0.5 0.8 0.4 0.5 0.5 0.3 0.6 0.8 0.5 0.6 0.3 0.7 0.5 0.4 0.3 0.8 0.4 0.8 0.4 1.0 0.6 0.5 0.5 0.7 0.4 0.9 0.5 0.9 0.4 0.7 0.5 0.7 0.3 0.9 0.4 0.4 0.6 0.7 0.5 0.8 0.5 0.9 0.3 0.5 0.3 0.8 0.4 0.3 0.3 0.4 0.5 0.6 0.4 0.3 0.5 0.5 0.3 0.3 0.3 0.6 0.3 0.6 0.3 0.8 0.6 0.5 0.3 1.0 0.3 0.8 0.5 0.6 0.6 0.4 0.5 0.9 0.6 0.9 0.4 0.7 0.6 0.6 0.4 0.3 0.4 0.4 0.6 0.5 0.4 1.0 0.5 0.6 0.3 0.6 0.4 1.0 0.4 1.0 0.4 0.3 0.6 0.3 0.5 0.7 0.4 0.9 0.4 1.0 0.5 1.0 0.6 0.6 0.5 0.8 0.5 0.3 0.5 0.8 0.4 0.4 0.3 0.7 0.3 0.9 0.4 1.0 0.5 0.6 0.3 0.6 0.5 0.9 0.6 0.5 0.3 0.8 0.5 0.8 0.5 0.9 0.5 0.9 0.3 1.0 0.5 0.4 0.3 0.8 0.4 1.0 0.4 0.6 0.5 1.0 0.4 0.9 0.5 0.7 0.6 0.9 0.5 0.7 0.3 0.5 0.5 0.4 0.5 0.5 0.4 0.9 0.6 0.8 0.4 0.7 0.6 0.9 0.5 0.4 0.6 0.3 0.3 0.8 0.4 0.8 0.5 0.4 0.6 1.0 0.5 1.0 0.5 0.6 0.6 1.0 0.5 0.4 0.4 0.8 0.4 0.4 0.4 0.4 0.4 0.4 0.5 0.5 0.6 0.4 0.5 0.8 0.4 0.7 0.5 0.7 0.4 0.6 0.6 0.7 0.4 0.5 0.6 0.3 0.4 0.7 0.4 0.3 0.3 0.9 0.4 0.5 0.4 0.3 0.3 0.9 0.5 0.4 0.4 0.3 0.4 0.7 0.5 0.7 0.6 1.0 0.5 0.3 0.3 0.8 0.3 0.9 0.3 0.3 0.6 0.6 0.5 0.7 0.3 0.5 0.4 0.8 0.5 0.8 0.3 0.6 0.6 0.4 0.4 0.7 0.6 0.3 0.5 0.6 0.5 0.9 0.3 0.7 0.4 0.8 0.5 0.6 0.3 0.8 0.5 0.7"/>
<circle cx="193.7" cy="159.1" r="125.7" fill="none" stroke="#a8181d" stroke-opacity="0.6" stroke-width="0.8" stroke-dasharray="0.5 2.4 0.4 1.8 0.5 0.9 0.6 1.0 0.6 1.6 0.6 2.2 0.5 1.1 0.4 1.6 0.5 1.2 0.6 0.8 0.5 0.6 0.3 0.9 0.3 1.6 0.5 1.2 0.5 1.5 0.5 0.5 0.4 0.3 0.3 2.2 0.3 1.6 0.4 1.8 0.6 2.1 0.6 2.4 0.4 2.5 0.5 0.9 0.4 1.4 0.6 0.5 0.6 1.8 0.5 1.2 0.4 1.2 0.5 1.3 0.5 2.2 0.3 0.3 0.6 0.7 0.5 1.2 0.4 0.3 0.4 1.6 0.3 0.3 0.4 2.2 0.5 0.9 0.4 1.2 0.5 0.9 0.4 1.4 0.4 1.2 0.5 1.4 0.3 1.1 0.5 0.8 0.4 1.5 0.4 0.7 0.6 0.4 0.6 0.5 0.5 1.5 0.4 1.7 0.6 1.0 0.3 0.7 0.6 1.6 0.5 1.2 0.4 1.8 0.5 2.3 0.3 1.1 0.5 2.3 0.4 2.0 0.3 1.7 0.4 1.8 0.4 0.7 0.4 1.9 0.5 2.3 0.4 0.4 0.5 0.9 0.5 1.4 0.4 0.4 0.4 1.9 0.4 2.2 0.5 1.5 0.6 0.3 0.4 1.5 0.3 2.2 0.3 1.6 0.4 1.1 0.4 0.9 0.3 1.8 0.5 0.5 0.6 0.5 0.4 0.9 0.4 1.4 0.6 0.5 0.5 1.7 0.4 1.1 0.4 2.2 0.5 1.4 0.3 1.1 0.6 1.3 0.4 1.7 0.3 1.7 0.5 0.6 0.4 2.2 0.4 1.5 0.4 1.5 0.4 1.1 0.6 1.8 0.6 1.0 0.4 1.1 0.6 1.1 0.5 0.7 0.5 0.9 0.6 1.1 0.6 1.6 0.4 1.5 0.6 1.8 0.6 1.6 0.5 0.6 0.6 1.7 0.5 1.0 0.5 1.5 0.4 2.5 0.5 1.8 0.6 1.8 0.4 2.4 0.6 1.8 0.4 1.4 0.3 2.3 0.6 1.6 0.4 2.1 0.3 1.2 0.4 1.6 0.4 1.6 0.6 1.2 0.3 0.3 0.6 1.3 0.4 0.4 0.3 0.3 0.6 0.4 0.4 1.3 0.5 0.8 0.5 1.7 0.6 0.5 0.4 0.5 0.4 0.8 0.3 2.1 0.4 1.9 0.5 2.0 0.3 1.6 0.6 1.7 0.5 1.2 0.6 1.5 0.4 1.4 0.4 0.7 0.5 2.1 0.5 0.3 0.4 2.0 0.3 1.4 0.5 1.5 0.4 0.3 0.5 0.7 0.5 1.4 0.5 0.6 0.6 1.9 0.6 0.7 0.5 1.1 0.5 1.8 0.4 2.4 0.4 1.3 0.5 0.6 0.6 1.0 0.6 0.6 0.3 1.6 0.4 1.3 0.4 1.9 0.5 1.8 0.3 0.4 0.5 0.5 0.5 1.5 0.6 2.1 0.5 2.1 0.5 0.9 0.3 1.9 0.5 1.7 0.5 1.3 0.6 1.1 0.3 2.4 0.5 2.3 0.6 1.3 0.3 1.4 0.5 1.1 0.5 0.8 0.6 0.8 0.4 2.1 0.4 1.9 0.4 1.2 0.4 0.8 0.6 2.4 0.6 0.7 0.3 1.3 0.5 1.5 0.6 2.5 0.5 0.9 0.4 0.4 0.4 1.9 0.4 0.7 0.5 2.3 0.5 0.5 0.4 0.8 0.5 1.2 0.4 2.2 0.4 1.3 0.6 1.0 0.5 1.7 0.4 1.7 0.4 2.1 0.5 1.9 0.5 1.8 0.4 0.6 0.4 1.0 0.3 2.0 0.5 1.4 0.5 0.5 0.3 1.9 0.3 2.2 0.5 2.4 0.6 1.2 0.4 1.2 0.5 1.3 0.5 2.5 0.5 1.4 0.5 1.4 0.5 1.2 0.6 2.5 0.5 1.5 0.3 1.5 0.6 0.8 0.5 0.9 0.5 0.9 0.5 2.0 0.3 2.1 0.5 0.8 0.4 1.5 0.5 0.7 0.3 0.8 0.5 1.2 0.5 1.9 0.4 1.6 0.3 1.6 0.5 0.8 0.5 0.6 0.6 1.5 0.6 1.8 0.4 1.9 0.5 1.1 0.5 2.0 0.5 0.8 0.6 2.3 0.4 2.3 0.6 1.1 0.4 0.8 0.5 0.6 0.4 1.9 0.3 1.6 0.4 1.9 0.4 1.4 0.4 0.3 0.6 1.1 0.4 2.4 0.4 1.5 0.3 1.2 0.6 2.1 0.6 2.3 0.4 0.4 0.3 1.7 0.5 1.1 0.5 0.8 0.5 1.2 0.3 2.0 0.4 2.1 0.5 1.3 0.4 0.8 0.3 1.8 0.4 1.5 0.4 0.9 0.3 2.0 0.4 0.6 0.6 0.6 0.4 0.7 0.5 2.0 0.3 2.3 0.5 2.1 0.4 1.3 0.3 0.9 0.6 0.9 0.6 2.1 0.6 0.6 0.4 2.1 0.4 0.8 0.3 1.5 0.5 0.8 0.4 1.7 0.3 2.0 0.6 1.2 0.3 1.6 0.4 0.5 0.5 1.5 0.4 0.8 0.5 2.3 0.4 1.6 0.4 1.3 0.5 1.0 0.5 1.5 0.3 0.6 0.4 0.6 0.5 1.6 0.5 2.2 0.5 2.0 0.3 2.2 0.6 1.6 0.6 1.5 0.4 0.7 0.4 1.9 0.5 2.3 0.5 2.4 0.4 0.3 0.4 1.5 0.5 0.8 0.3 1.9 0.4 2.2 0.5 0.6 0.5 2.0 0.4 2.4 0.3 0.6 0.5 1.8 0.5 2.3 0.4 0.4 0.5 1.1 0.4 1.2 0.6 0.9 0.5 1.6 0.4 2.3 0.4 1.0 0.4 1.8 0.5 1.1 0.3 1.6 0.4 1.5 0.5 0.3 0.3 2.1 0.6 0.5 0.4 1.2 0.6 1.0 0.6 0.5 0.6 0.4 0.5 2.4 0.5 2.3 0.4 2.4 0.6 0.9 0.5 2.3 0.4 1.2 0.5 1.6 0.6 1.2 0.4 0.7 0.4 2.2 0.4 2.3 0.5 1.6 0.4 0.3 0.3 2.1 0.6 2.4 0.4 2.4 0.4 1.1 0.6 2.1 0.5 0.9 0.3 0.7 0.4 0.7 0.5 1.0 0.4 2.2 0.4 0.3 0.3 1.5 0.3 1.5 0.3 1.3 0.5 1.5 0.4 2.1 0.6 2.1 0.6 2.4 0.4 1.5 0.4 2.0 0.3 0.8 0.4 1.5 0.6 1.0 0.3 1.1 0.6 0.5 0.5 1.6 0.6 1.0 0.5 2.4 0.6 1.5 0.4 1.7 0.5 1.8 0.5 1.1 0.5 1.1 0.4 0.5 0.5 0.7 0.4 0.9 0.4 1.2 0.6 1.5 0.5 1.2 0.5 2.1 0.5 1.4 0.4 0.7 0.4 0.5 0.4 0.4 0.4 1.6 0.3 2.0 0.4 1.7 0.4 2.0 0.5 0.6 0.5 0.9 0.5 1.1 0.4 0.4 0.6 0.6 0.4 2.4 0.3 1.2 0.4 1.8 0.5 2.4 0.4 0.5 0.4 0.3 0.4 1.7 0.6 0.5 0.4 2.3 0.5 1.2 0.3 0.4 0.4 1.7 0.3 1.4 0.6 0.3 0.4 1.2 0.5 1.9 0.5 1.3 0.4 1.7 0.4 2.3 0.5 1.6"/>
<circle cx="193.7" cy="159.1" r="126.5" fill="none" stroke="#a8181d" stroke-opacity="0.4" stroke-width="0.8" stroke-dasharray="0.5 2.6 0.5 3.4 0.5 5.0 0.4 2.6 0.6 4.1 0.5 1.7 0.3 2.2 0.4 2.3 0.4 2.6 0.5 0.8 0.5 3.6 0.4 1.5 0.3 2.5 0.5 2.2 0.5 3.1 0.3 0.6 0.5 4.7 0.5 2.4 0.4 0.9 0.5 3.9 0.4 0.7 0.4 3.6 0.5 2.2 0.6 2.1 0.3 1.3 0.6 3.6 0.3 1.6 0.4 2.6 0.3 4.6 0.5 1.5 0.3 3.0 0.6 3.7 0.6 4.4 0.5 0.6 0.4 3.0 0.4 1.3 0.3 4.4 0.5 1.7 0.4 4.4 0.3 3.3 0.4 4.5 0.5 4.8 0.4 2.7 0.4 1.9 0.6 4.9 0.6 4.6 0.5 3.4 0.6 2.3 0.6 4.0 0.4 2.0 0.5 1.1 0.4 1.2 0.3 4.6 0.6 4.2 0.5 3.8 0.5 2.4 0.5 0.9 0.4 1.9 0.4 3.4 0.4 1.4 0.6 4.0 0.6 4.0 0.4 2.6 0.6 4.1 0.4 2.6 0.5 0.3 0.4 3.8 0.5 2.4 0.5 2.8 0.4 0.7 0.5 3.9 0.4 3.9 0.6 3.5 0.5 4.8 0.3 4.7 0.4 4.0 0.5 0.8 0.5 0.7 0.5 1.9 0.4 1.6 0.5 3.3 0.4 3.8 0.4 4.1 0.5 3.9 0.5 4.9 0.5 2.5 0.5 3.0 0.4 1.7 0.5 4.1 0.6 3.5 0.5 2.2 0.5 3.4 0.6 3.8 0.4 1.6 0.3 4.0 0.4 2.1 0.3 2.6 0.6 1.6 0.5 3.9 0.5 3.1 0.4 3.5 0.5 4.8 0.5 2.0 0.6 3.2 0.4 3.4 0.3 1.2 0.6 2.5 0.5 1.3 0.4 1.4 0.5 3.1 0.4 2.1 0.4 1.3 0.5 1.8 0.3 2.1 0.4 4.9 0.4 2.2 0.6 3.7 0.4 2.2 0.4 1.0 0.4 3.3 0.3 2.5 0.3 3.1 0.4 3.4 0.5 2.2 0.4 0.7 0.4 3.2 0.5 0.9 0.6 4.6 0.4 2.8 0.5 1.9 0.4 3.7 0.5 2.4 0.5 0.8 0.4 1.7 0.3 2.8 0.5 2.8 0.5 3.5 0.4 4.9 0.4 0.3 0.5 3.6 0.4 2.2 0.4 1.4 0.5 4.4 0.4 3.0 0.4 0.9 0.5 2.8 0.6 4.6 0.6 1.5 0.3 4.1 0.3 3.5 0.3 3.6 0.3 0.7 0.6 2.7 0.4 4.9 0.5 1.4 0.5 2.1 0.4 1.8 0.4 1.7 0.4 1.2 0.6 2.1 0.5 4.1 0.5 1.0 0.6 4.7 0.6 1.9 0.6 3.3 0.3 2.1 0.5 2.9 0.6 4.0 0.6 4.9 0.4 4.6 0.3 4.0 0.3 2.6 0.4 0.6 0.5 4.0 0.4 1.4 0.5 2.8 0.3 1.7 0.6 1.6 0.4 2.4 0.6 4.1 0.4 3.4 0.3 0.6 0.4 3.3 0.3 0.5 0.6 1.2 0.3 0.7 0.3 1.6 0.5 3.4 0.4 2.7 0.4 3.0 0.3 3.2 0.3 4.6 0.4 2.9 0.4 2.4 0.4 3.3 0.5 4.3 0.6 2.4 0.5 1.9 0.4 2.7 0.6 0.6 0.5 1.8 0.5 1.6 0.5 2.6 0.4 2.4 0.3 0.8 0.6 0.7 0.4 3.5 0.3 4.7 0.4 4.8 0.4 3.0 0.5 0.7 0.5 3.8 0.5 3.8 0.5 0.9 0.4 2.7 0.3 3.9 0.3 3.0 0.4 1.1 0.6 3.2 0.5 3.1 0.5 4.4 0.3 2.1 0.4 3.1 0.4 4.6 0.4 1.6 0.6 3.7 0.4 2.1 0.5 1.0 0.5 1.4 0.5 0.7 0.6 4.3 0.3 1.1 0.6 4.2 0.4 4.1 0.5 1.5 0.5 2.2 0.3 4.3 0.5 1.4 0.4 3.5 0.4 1.5 0.5 4.8 0.3 1.5 0.4 4.9 0.6 0.3 0.5 0.9 0.4 0.9 0.5 5.0 0.6 2.0 0.6 3.5 0.3 4.5 0.4 4.9"/>
<circle cx="193.7" cy="159.1" r="121.8" fill="none" stroke="#a8181d" stroke-opacity="0.7" stroke-width="0.7" stroke-dasharray="0.3 1.3 0.5 0.9 0.3 0.8 0.5 0.9 0.6 0.9 0.6 0.5 0.5 1.0 0.6 0.7 0.4 1.2 0.4 0.7 0.6 1.0 0.5 0.3 0.5 0.8 0.4 0.7 0.3 1.2 0.5 1.4 0.5 0.5 0.4 1.4 0.3 0.7 0.3 0.5 0.4 1.0 0.3 1.2 0.4 0.5 0.3 0.9 0.4 0.8 0.3 0.7 0.5 0.4 0.5 1.2 0.5 0.4 0.5 0.4 0.3 0.3 0.5 0.5 0.4 0.4 0.6 0.5 0.5 1.2 0.4 0.9 0.4 1.2 0.5 0.4 0.5 0.5 0.4 0.5 0.5 1.0 0.5 0.7 0.3 0.8 0.6 0.9 0.5 1.1 0.5 1.3 0.6 1.1 0.5 0.5 0.4 1.1 0.5 1.2 0.5 0.7 0.3 1.0 0.3 0.8 0.4 0.7 0.5 1.0 0.5 0.4 0.6 1.1 0.6 1.0 0.5 1.3 0.5 1.0 0.3 0.3 0.5 1.2 0.4 0.5 0.4 1.2 0.5 0.4 0.4 0.5 0.5 0.6 0.6 0.8 0.4 0.8 0.3 1.3 0.3 0.8 0.4 0.3 0.4 1.4 0.6 0.8 0.6 1.3 0.6 1.1 0.5 0.9 0.5 1.0 0.6 0.5 0.6 1.1 0.4 1.2 0.4 0.7 0.5 1.4 0.4 1.2 0.5 1.3 0.4 1.0 0.6 1.3 0.5 1.2 0.5 0.9 0.4 0.9 0.6 1.3 0.3 0.6 0.4 1.2 0.3 1.1 0.4 0.7 0.6 0.4 0.5 0.6 0.5 0.4 0.5 0.6 0.6 0.7 0.5 0.3 0.6 1.0 0.6 1.1 0.3 1.1 0.4 0.5 0.6 1.0 0.4 0.4 0.5 0.4 0.4 0.3 0.3 1.1 0.4 1.4 0.4 1.2 0.5 1.0 0.5 0.5 0.6 1.3 0.5 0.5 0.3 0.6 0.6 0.7 0.4 0.9 0.3 1.2 0.5 0.6 0.3 1.3 0.5 1.1 0.4 1.4 0.5 0.3 0.6 1.1 0.4 1.3 0.5 1.0 0.3 0.5 0.5 0.3 0.4 0.4 0.5 0.5 0.5 0.8 0.5 1.3 0.6 0.5 0.4 1.2 0.4 1.3 0.4 1.0 0.4 1.1 0.4 0.8 0.5 1.2 0.3 0.5 0.4 1.1 0.5 1.1 0.5 0.6 0.5 0.3 0.4 1.0 0.4 1.2 0.4 0.8 0.5 0.5 0.5 0.7 0.3 0.4 0.5 1.2 0.5 1.2 0.5 1.2 0.6 0.9 0.5 0.5 0.4 0.4 0.3 0.7 0.4 0.9 0.6 0.6 0.6 1.2 0.4 0.9 0.4 0.4 0.4 0.5 0.3 0.3 0.5 1.2 0.6 0.4 0.3 1.2 0.4 0.7 0.5 0.9 0.4 0.5 0.3 1.1 0.6 0.3 0.4 0.9 0.4 0.8 0.5 0.6 0.3 0.8 0.5 0.5 0.5 1.2 0.5 0.7 0.6 1.2 0.6 0.6 0.5 0.8 0.6 1.0 0.5 0.9 0.6 0.7 0.3 0.5 0.4 0.4 0.6 0.9 0.5 0.8 0.5 0.6 0.6 0.8 0.4 1.1 0.6 1.4 0.4 0.8 0.6 0.8 0.4 0.8 0.4 0.6 0.5 0.7 0.5 0.6 0.3 1.2 0.5 1.1 0.5 0.5 0.5 1.2 0.5 0.9 0.5 0.5 0.3 1.2 0.3 0.6 0.4 1.1 0.5 1.2 0.6 0.6 0.4 0.4 0.4 0.4 0.6 0.9 0.5 0.4 0.6 0.6 0.5 0.5 0.4 0.5 0.5 0.6 0.5 1.1 0.4 0.4 0.5 0.7 0.4 0.7 0.3 0.4 0.5 1.0 0.5 1.0 0.5 0.5 0.6 0.9 0.4 0.6 0.4 1.4 0.4 1.2 0.3 1.0 0.4 0.6 0.4 0.7 0.5 0.8 0.6 0.5 0.6 0.8 0.5 0.7 0.4 1.3 0.5 1.1 0.5 1.1 0.6 1.1 0.6 0.7 0.4 1.3 0.6 1.3 0.4 0.8 0.6 0.5 0.3 0.5 0.4 0.8 0.4 0.8 0.3 0.7 0.5 0.4 0.4 1.3 0.5 1.3 0.6 0.8 0.3 0.4 0.5 1.2 0.4 0.4 0.5 0.9 0.4 0.4 0.5 0.9 0.5 1.3 0.3 1.2 0.4 0.8 0.4 1.2 0.4 0.4 0.4 0.5 0.3 0.4 0.4 0.8 0.3 0.5 0.6 0.9 0.6 0.9 0.6 1.1 0.4 0.4 0.3 1.2 0.5 0.6 0.3 1.0 0.6 0.6 0.6 0.9 0.4 0.5 0.5 1.3 0.4 0.6 0.3 0.5 0.4 0.8 0.4 1.0 0.4 0.6 0.4 0.5 0.3 0.4 0.3 1.0 0.3 0.8 0.6 1.0 0.4 0.7 0.4 0.7 0.3 0.5 0.3 0.5 0.4 0.4 0.5 0.5 0.5 1.1 0.5 1.1 0.5 0.8 0.4 0.3 0.5 0.7 0.4 0.4 0.3 1.3 0.4 1.2 0.6 0.6 0.4 1.3 0.4 1.0 0.6 0.8 0.4 1.4 0.6 1.3 0.5 0.6 0.3 0.3 0.6 0.9 0.6 1.4 0.4 1.4 0.4 0.5 0.4 1.4 0.6 0.7 0.4 1.2 0.5 1.3 0.4 0.6 0.5 1.3 0.5 1.3 0.4 0.9 0.6 0.9 0.5 1.2 0.4 1.1 0.5 0.8 0.5 1.2 0.6 1.4 0.4 1.0 0.5 1.2 0.4 0.8 0.4 1.2 0.5 0.3 0.3 0.5 0.5 1.1 0.4 0.4 0.5 1.0 0.4 0.6 0.4 0.6 0.5 0.7 0.5 0.9 0.4 0.6 0.5 1.2 0.6 0.5 0.4 0.4 0.4 0.7 0.5 1.3 0.5 0.5 0.4 0.5 0.4 0.9 0.5 0.5 0.4 1.3 0.5 1.0 0.4 0.6 0.5 0.3 0.5 1.4 0.5 0.3 0.3 1.2 0.4 0.8 0.5 1.0 0.4 1.1 0.6 0.8 0.4 1.1 0.6 1.1 0.6 1.2 0.6 0.6 0.5 0.5 0.3 0.7 0.6 0.6 0.4 1.3 0.6 1.1 0.4 1.2 0.3 0.3 0.3 0.7 0.4 1.2 0.4 1.2 0.5 0.7 0.4 0.3 0.4 1.4 0.6 1.3 0.3 0.8 0.6 0.5 0.3 0.5 0.3 1.1 0.5 1.4 0.3 1.1 0.5 0.5 0.3 1.4 0.5 0.4 0.4 1.0 0.3 0.8 0.3 0.4 0.5 0.9 0.6 0.3 0.4 0.4 0.5 0.5 0.4 1.4 0.5 1.0 0.5 0.5 0.5 1.4 0.3 1.2 0.4 0.5 0.5 1.2 0.3 0.5 0.5 0.5 0.5 1.4 0.3 0.8 0.4 0.5 0.5 1.3 0.4 0.9 0.5 1.2 0.6 0.7 0.3 1.3 0.5 1.3 0.3 1.2 0.3 0.5 0.3 0.7 0.4 1.0 0.6 0.8 0.5 0.8 0.4 0.6 0.3 0.6 0.5 1.2 0.5 0.8 0.4 0.5 0.4 1.4 0.5 0.7 0.5 0.8 0.4 0.8 0.4 1.3 0.6 0.6 0.4 0.5 0.6 0.5 0.4 0.3 0.4 0.8 0.3 0.5 0.5 0.8 0.4 0.4 0.4 0.7 0.3 1.0 0.4 0.9 0.5 0.3 0.5 1.0 0.6 1.1 0.6 1.0 0.4 1.2 0.5 0.8 0.6 0.3 0.6 0.7 0.5 1.2 0.3 0.8 0.3 0.3 0.6 0.5 0.4 0.4 0.6 0.9 0.6 0.6 0.4 0.6 0.5 1.1 0.5 0.9 0.4 1.4 0.3 0.5 0.5 1.4 0.6 0.6 0.6 0.8 0.5 1.0 0.5 1.3 0.6 0.7 0.6 0.7 0.5 0.5 0.5 0.6 0.6 1.0 0.4 1.4 0.3 1.1 0.5 0.3 0.4 0.4 0.6 0.4 0.5 0.9 0.3 1.3 0.5 1.0 0.4 0.5 0.4 0.3 0.4 0.8 0.4 1.1 0.3 0.5 0.5 1.1 0.4 0.5 0.3 0.7 0.4 1.2 0.4 0.7 0.5 0.5 0.3 1.4 0.6 0.7 0.4 0.8 0.4 1.2 0.6 1.1 0.4 1.2 0.6 0.5 0.5 0.5 0.6 1.2 0.4 1.1 0.4 0.4 0.5 0.4 0.4 1.2 0.5 0.6 0.4 0.9 0.5 1.3 0.3 0.8 0.4 0.7 0.4 0.7 0.5 0.5 0.4 0.9 0.6 0.8 0.4 0.3 0.5 0.7 0.3 0.8 0.5 0.7 0.5 1.0 0.3 0.3 0.5 1.0 0.5 0.6 0.4 1.1 0.4 0.9 0.4 1.0 0.4 0.3 0.5 1.2 0.6 1.3 0.5 0.8 0.4 1.1 0.4 0.7 0.3 1.0 0.5 1.1 0.3 0.5 0.5 0.4 0.6 1.3 0.5 0.6 0.5 1.1 0.4 1.0 0.5 1.3 0.5 1.0 0.5 1.3 0.5 1.1 0.4 0.4 0.5 0.5 0.6 0.5 0.6 0.7 0.4 0.9 0.4 1.4 0.5 0.4 0.4 0.4 0.5 0.9 0.4 1.0 0.4 1.2 0.5 0.6 0.6 0.3 0.4 0.3 0.6 0.9 0.6 1.4 0.3 1.3 0.3 1.1 0.5 0.7 0.6 1.1 0.5 0.6 0.3 0.4 0.5 0.9 0.4 0.9 0.3 0.6 0.5 0.5 0.5 0.5 0.6 0.5 0.6 1.3 0.6 0.6 0.5 0.4 0.6 1.1 0.3 0.5 0.3 0.7 0.6 1.2 0.4 1.2 0.3 0.9 0.4 0.4 0.6 1.0 0.6 1.0 0.5 0.4 0.4 1.3 0.5 1.0 0.4 0.7 0.3 0.5 0.4 0.4 0.3 1.1 0.6 1.1 0.6 0.5 0.6 0.7 0.6 0.6 0.4 0.9 0.4 0.6 0.5 1.2"/>
<path d="M230.8 30.8A133.6 133.6 0 0 1 232.8 31.4L231.1 37.1A127.6 127.6 0 0 0 229.1 36.5Z" fill="#fff" fill-opacity="0.85"/>
<path d="M277.4 63.7A126.9 126.9 0 0 1 278.6 64.8L274.5 69.3A120.8 120.8 0 0 0 273.3 68.3Z" fill="#fff" fill-opacity="0.85"/>
<path d="M236.9 32.7A133.6 133.6 0 0 1 239.1 33.4L237 39.1A127.6 127.6 0 0 0 234.9 38.3Z" fill="#fff" fill-opacity="0.85"/>
<path d="M291.6 78.3A126.9 126.9 0 0 1 292.7 79.7L287.9 83.5A120.8 120.8 0 0 0 286.9 82.2Z" fill="#fff" fill-opacity="0.85"/>
<path d="M327 149.8A133.6 133.6 0 0 1 327.1 151L321.1 151.4A127.6 127.6 0 0 0 321 150.2Z" fill="#fff" fill-opacity="0.85"/>
<path d="M309.2 106.6A126.9 126.9 0 0 1 309.8 107.9L304.2 110.4A120.8 120.8 0 0 0 303.7 109.2Z" fill="#fff" fill-opacity="0.85"/>
<path d="M327.3 157.4A133.6 133.6 0 0 1 327.3 158.3L321.3 158.3A127.6 127.6 0 0 0 321.3 157.5Z" fill="#fff" fill-opacity="0.85"/>
<path d="M319.4 176.2A126.9 126.9 0 0 1 319.3 177.3L313.2 176.5A120.8 120.8 0 0 0 313.4 175.4Z" fill="#fff" fill-opacity="0.85"/>
<path d="M303.5 235.1A133.6 133.6 0 0 1 303.1 235.8L298.2 232.3A127.6 127.6 0 0 0 298.6 231.7Z" fill="#fff" fill-opacity="0.85"/>
<path d="M215.3 284.2A126.9 126.9 0 0 1 213.2 284.5L212.2 278.5A120.8 120.8 0 0 0 214.3 278.1Z" fill="#fff" fill-opacity="0.85"/>
<path d="M233 286.8A133.6 133.6 0 0 1 231 287.4L229.4 281.6A127.6 127.6 0 0 0 231.2 281.1Z" fill="#fff" fill-opacity="0.85"/>
<path d="M310.6 208.4A126.9 126.9 0 0 1 310.1 209.6L304.5 207.2A120.8 120.8 0 0 0 305 206.1Z" fill="#fff" fill-opacity="0.85"/>
<path d="M158.4 288A133.6 133.6 0 0 1 157.5 287.7L159.2 281.9A127.6 127.6 0 0 0 160 282.2Z" fill="#fff" fill-opacity="0.85"/>
<path d="M123.1 264.6A126.9 126.9 0 0 1 122 263.8L125.4 258.7A120.8 120.8 0 0 0 126.5 259.5Z" fill="#fff" fill-opacity="0.85"/>
<path d="M190.6 292.7A133.6 133.6 0 0 1 188.1 292.6L188.4 286.6A127.6 127.6 0 0 0 190.7 286.7Z" fill="#fff" fill-opacity="0.85"/>
<path d="M193.4 286A126.9 126.9 0 0 1 190.9 286L191 279.9A120.8 120.8 0 0 0 193.4 279.9Z" fill="#fff" fill-opacity="0.85"/>
<path d="M85.6 237.5A133.6 133.6 0 0 1 84.5 236L89.4 232.6A127.6 127.6 0 0 0 90.4 234Z" fill="#fff" fill-opacity="0.85"/>
<path d="M95.4 239.4A126.9 126.9 0 0 1 94.4 238.1L99.2 234.3A120.8 120.8 0 0 0 100.2 235.6Z" fill="#fff" fill-opacity="0.85"/>
<path d="M60.9 174A133.6 133.6 0 0 1 60.8 173.2L66.8 172.5A127.6 127.6 0 0 0 66.9 173.3Z" fill="#fff" fill-opacity="0.85"/>
<path d="M78.1 106.7A126.9 126.9 0 0 1 78.6 105.7L84.1 108.3A120.8 120.8 0 0 0 83.7 109.2Z" fill="#fff" fill-opacity="0.85"/>
<path d="M68.6 112.3A133.6 133.6 0 0 1 69 111.3L74.6 113.4A127.6 127.6 0 0 0 74.2 114.4Z" fill="#fff" fill-opacity="0.85"/>
<path d="M82.7 97.5A126.9 126.9 0 0 1 84 95.4L89.2 98.4A120.8 120.8 0 0 0 88.1 100.5Z" fill="#fff" fill-opacity="0.85"/>
<path d="M150.1 32.8A133.6 133.6 0 0 1 152.3 32.1L154.2 37.8A127.6 127.6 0 0 0 152.1 38.5Z" fill="#fff" fill-opacity="0.85"/>
<path d="M135.5 46.3A126.9 126.9 0 0 1 137.4 45.4L140.1 50.8A120.8 120.8 0 0 0 138.3 51.7Z" fill="#fff" fill-opacity="0.85"/>
<path d="M92.8 71.5A133.6 133.6 0 0 1 93.9 70.2L98.4 74.2A127.6 127.6 0 0 0 97.3 75.5Z" fill="#fff" fill-opacity="0.85"/>
<path d="M159.6 36.9A126.9 126.9 0 0 1 160.6 36.6L162.2 42.5A120.8 120.8 0 0 0 161.2 42.8Z" fill="#fff" fill-opacity="0.85"/>
<circle cx="193.7" cy="159.1" r="114.3" fill="none" stroke="#8a8ad6" stroke-opacity="0.6" stroke-width="0.9" stroke-dasharray="3.0 0.2 4.4 0.2 3.9 0.3 1.8 0.4 1.7 0.3 1.8 0.2 3.4 0.5 2.1 0.2 4.3 0.6 4.1 0.3 5.9 0.2 5.4 0.3 2.1 0.2 2.9 0.5 2.3 0.4 4.4 0.3 4.0 0.2 1.8 0.2 4.6 0.3 2.9 0.4 3.5 0.3 5.1 0.5 2.6 0.4 3.9 0.5 4.8 0.3 5.9 0.2 3.4 0.5 2.2 0.4 1.7 0.5 4.9 0.4 5.4 0.3 4.6 0.4 4.1 0.4 5.3 0.6 3.6 0.5 1.8 0.5 4.4 0.6 5.2 0.3 3.2 0.5 1.6 0.4 2.3 0.2 1.8 0.5 2.1 0.3 3.3 0.5 1.9 0.3 4.0 0.6 5.2 0.5 2.8 0.3 3.1 0.6 5.8 0.2 2.3 0.2 2.5 0.4 4.2 0.3 1.5 0.3 3.2 0.4 5.8 0.5 3.8 0.4 4.5 0.2 5.5 0.5 5.4 0.5 3.3 0.3 2.0 0.4 1.8 0.2 2.4 0.2 3.0 0.2 1.5 0.2 2.0 0.3 1.6 0.5 4.3 0.2 2.6 0.3 3.1 0.2 5.3 0.6 3.6 0.4 1.9 0.2 3.0 0.3 5.2 0.2 1.6 0.6 3.9 0.2 3.9 0.2 3.9 0.6 5.4 0.5 2.7 0.3 2.2 0.5 3.9 0.5 3.0 0.2 5.2 0.6 5.3 0.5 5.2 0.5 2.5 0.4 3.1 0.2 1.6 0.3 2.7 0.5 5.8 0.3 5.7 0.6 5.8 0.3 2.5 0.2 2.4 0.2 4.3 0.6 5.3 0.4 4.4 0.5 1.9 0.5 5.6 0.5 4.9 0.4 2.3 0.5 3.0 0.5 5.9 0.3 3.3 0.6 4.8 0.2 2.1 0.2 5.6 0.5 2.2 0.5 5.9 0.5 3.1 0.4 2.1 0.2 5.9 0.4 3.9 0.6 3.5 0.5 5.2 0.2 2.6 0.3 2.6 0.4 2.7 0.3 2.1 0.6 3.1 0.4 4.1 0.6 3.4 0.6 3.8 0.4 3.9 0.2 3.5 0.2 1.5 0.5 2.3 0.4 4.8 0.4 3.0 0.4 4.0 0.5 2.0 0.4 2.6 0.3 5.0 0.4 4.0 0.5 5.6 0.3 4.3 0.4 3.8 0.5 3.5 0.4 3.6 0.6 4.7 0.5 5.7 0.3 4.0 0.6 5.3 0.2 2.0 0.3 1.8 0.3 1.8 0.5 5.0 0.6 2.2 0.5 4.5 0.2 5.5 0.6 2.5 0.6 3.3 0.4 6.0 0.5 2.2 0.3 3.8 0.3 2.4 0.3 4.8 0.2 4.0 0.3 1.6 0.3 4.3 0.4 1.8 0.6 5.0 0.6 2.0 0.3 1.7 0.5 2.7 0.2 3.4 0.6 5.2 0.3 2.2 0.6 4.1 0.5 1.9 0.2 4.6 0.3 1.8 0.6 4.3 0.5 1.9 0.5 1.8 0.5 3.5 0.3 4.0 0.6 2.7 0.2 3.9 0.3 2.0 0.2 1.7 0.2 2.9 0.3"/>
<circle cx="193.7" cy="159.1" r="115.2" fill="none" stroke="#8a8ad6" stroke-opacity="0.4" stroke-width="0.9" stroke-dasharray="0.5 1.1 0.5 0.8 0.4 0.3 0.4 0.3 0.5 1.8 0.4 1.6 0.6 0.6 0.6 1.5 0.5 2.5 0.4 1.7 0.5 3.0 0.4 2.5 0.5 2.0 0.4 1.2 0.3 0.7 0.3 2.3 0.4 0.7 0.3 2.6 0.6 2.1 0.4 0.9 0.4 1.5 0.3 1.5 0.4 2.9 0.6 1.8 0.4 2.9 0.4 1.3 0.3 1.3 0.4 1.7 0.4 1.7 0.3 1.0 0.3 1.4 0.3 0.4 0.4 0.9 0.5 1.7 0.5 2.1 0.5 2.7 0.4 1.2 0.6 0.7 0.5 2.0 0.3 2.6 0.6 2.0 0.5 2.5 0.3 1.7 0.5 2.5 0.5 2.5 0.5 2.7 0.5 2.2 0.4 0.4 0.3 1.3 0.3 2.6 0.5 2.0 0.5 2.1 0.5 0.3 0.5 2.3 0.5 1.8 0.5 0.5 0.5 1.0 0.3 1.0 0.5 0.8 0.5 2.9 0.5 1.3 0.4 2.1 0.5 2.0 0.5 0.5 0.3 1.0 0.5 1.1 0.5 0.3 0.3 1.0 0.5 2.2 0.5 1.1 0.5 1.6 0.4 0.6 0.6 0.8 0.6 2.8 0.3 1.5 0.6 2.9 0.4 1.0 0.4 2.9 0.4 1.9 0.3 1.7 0.6 0.7 0.6 1.7 0.6 2.2 0.4 2.7 0.5 0.4 0.3 1.6 0.4 1.1 0.3 1.2 0.4 2.6 0.3 2.3 0.6 0.6 0.6 2.2 0.6 1.1 0.4 1.4 0.6 1.9 0.4 1.5 0.4 0.4 0.3 2.5 0.4 2.8 0.4 1.0 0.5 0.8 0.4 2.9 0.6 2.5 0.5 2.8 0.6 1.8 0.5 0.4 0.5 1.5 0.5 2.0 0.4 0.4 0.6 0.6 0.4 1.2 0.4 2.3 0.6 1.0 0.5 1.1 0.5 1.4 0.3 0.7 0.4 2.8 0.5 0.9 0.6 3.0 0.4 0.7 0.4 0.5 0.4 0.6 0.4 1.0 0.5 2.7 0.5 1.4 0.4 1.7 0.4 1.2 0.3 1.1 0.6 0.6 0.5 2.0 0.6 0.9 0.4 1.0 0.4 1.5 0.6 2.6 0.6 0.4 0.3 2.2 0.6 1.6 0.5 0.3 0.4 2.8 0.6 2.6 0.6 1.0 0.3 0.7 0.5 2.1 0.6 2.2 0.5 2.4 0.4 1.8 0.3 2.4 0.4 2.8 0.5 1.1 0.3 1.0 0.5 2.2 0.3 0.5 0.5 1.9 0.4 0.9 0.5 0.3 0.4 1.5 0.6 2.0 0.6 1.6 0.4 1.0 0.6 2.2 0.4 0.4 0.5 2.1 0.4 1.0 0.5 2.8 0.4 0.4 0.4 1.4 0.5 0.8 0.5 2.3 0.5 0.8 0.6 1.1 0.6 0.9 0.4 2.4 0.4 2.9 0.5 0.8 0.4 1.4 0.5 2.9 0.3 1.4 0.4 2.9 0.3 0.4 0.3 1.4 0.6 2.7 0.5 3.0 0.6 1.2 0.4 2.8 0.5 0.4 0.5 1.3 0.4 1.2 0.3 0.3 0.4 1.2 0.6 0.6 0.6 0.9 0.4 2.5 0.6 1.5 0.3 1.6 0.4 2.8 0.4 1.3 0.6 0.4 0.4 2.5 0.5 0.4 0.3 0.5 0.6 1.0 0.5 2.7 0.4 1.0 0.6 2.0 0.4 2.2 0.4 1.0 0.3 2.3 0.6 2.0 0.6 0.4 0.4 1.6 0.6 2.9 0.4 1.0 0.4 1.6 0.6 0.8 0.5 2.3 0.6 2.4 0.5 1.2 0.4 1.3 0.5 0.5 0.4 2.3 0.4 0.5 0.3 1.8 0.4 3.0 0.6 3.0 0.4 0.5 0.3 1.6 0.5 1.5 0.4 1.4 0.5 2.1 0.5 2.6 0.5 0.6 0.6 1.1 0.5 1.3 0.5 0.8 0.4 1.0 0.3 2.7 0.5 1.2 0.4 3.0 0.5 0.9 0.5 2.1 0.6 0.6 0.4 2.5 0.6 2.8 0.3 1.1 0.3 0.8 0.6 1.9 0.6 1.3 0.6 1.5 0.4 2.4 0.6 0.6 0.5 2.0 0.4 1.3 0.3 0.8 0.4 1.9 0.5 0.8 0.3 1.2 0.5 0.8 0.4 0.8 0.5 1.8 0.3 0.6 0.4 1.8 0.5 0.6 0.3 2.2 0.4 1.1 0.4 2.9 0.4 1.8 0.4 1.4 0.6 3.0 0.4 0.8 0.5 0.8 0.3 2.7 0.4 2.5 0.4 2.7 0.4 0.7 0.3 1.8 0.5 2.8 0.3 2.0 0.4 1.7 0.3 1.1 0.5 2.8 0.3 1.6 0.5 2.9 0.4 0.6 0.6 2.9 0.4 0.4 0.6 1.4 0.6 2.0 0.6 0.7 0.5 0.9 0.4 2.6 0.6 0.8 0.4 1.4 0.5 1.3 0.3 1.0 0.5 2.7 0.3 1.8 0.5 0.4 0.6 0.6 0.5 1.8 0.5 1.1 0.4 1.9 0.4 2.1 0.4 1.5 0.3 2.0 0.5 0.9 0.5 2.4 0.4 0.8 0.4 0.6 0.3 1.5 0.3 1.5 0.5 0.4 0.5 0.5 0.5 2.4 0.5 0.5 0.5 1.3 0.6 0.7 0.6 3.0 0.5 2.5 0.4 3.0 0.5 2.9 0.6 0.8 0.5 2.8 0.3 1.2 0.5 0.7 0.6 1.0 0.5 0.7 0.5 2.8 0.4 1.0 0.5 1.2 0.3 0.8 0.3 2.8 0.5 2.7 0.3 2.4 0.3 1.7 0.5 1.3 0.6 1.8 0.5 2.7 0.3 3.0 0.5 1.4 0.5 1.0 0.6 1.9 0.4 2.4 0.4 0.8 0.5 0.4 0.6 1.0 0.5 3.0 0.5 2.1 0.4 0.3 0.3 0.7 0.5 1.5 0.5 2.7 0.3 0.9 0.5 0.4 0.3 1.3 0.3 1.3 0.4 1.9 0.5 0.8 0.5 1.6 0.3 2.8"/>
<circle cx="193.7" cy="159.1" r="116.1" fill="none" stroke="#8a8ad6" stroke-opacity="0.3" stroke-width="0.9" stroke-dasharray="0.4 1.1 0.3 3.9 0.6 4.8 0.4 1.8 0.3 4.0 0.5 2.3 0.5 2.8 0.6 4.5 0.4 5.5 0.3 3.3 0.4 1.6 0.3 4.7 0.3 3.4 0.6 1.1 0.4 3.8 0.5 4.0 0.5 1.3 0.4 2.0 0.3 5.4 0.5 4.4 0.3 5.1 0.5 3.0 0.5 2.9 0.4 0.9 0.4 0.5 0.4 4.6 0.5 5.1 0.5 1.8 0.5 2.8 0.5 3.3 0.4 4.0 0.6 1.5 0.6 0.4 0.4 1.6 0.5 5.7 0.5 2.2 0.6 2.2 0.4 5.5 0.5 4.2 0.5 5.9 0.4 5.1 0.5 5.2 0.4 4.4 0.5 2.0 0.4 3.9 0.3 5.5 0.3 0.5 0.3 5.6 0.4 1.1 0.3 0.5 0.5 3.9 0.5 4.5 0.3 3.7 0.4 5.0 0.6 5.4 0.3 5.2 0.6 5.7 0.3 1.5 0.3 0.5 0.6 4.9 0.5 5.0 0.5 1.9 0.3 0.9 0.5 1.5 0.4 2.7 0.3 1.8 0.4 4.4 0.4 2.1 0.6 3.2 0.6 3.8 0.3 2.6 0.4 4.7 0.4 4.3 0.5 1.5 0.6 0.8 0.6 1.3 0.3 1.4 0.5 5.9 0.3 3.1 0.5 4.8 0.4 3.1 0.4 5.0 0.4 5.7 0.4 1.5 0.5 3.1 0.3 3.9 0.3 4.8 0.5 4.8 0.5 2.3 0.4 2.5 0.6 0.8 0.6 0.4 0.4 1.8 0.6 3.2 0.4 5.3 0.4 2.9 0.5 4.6 0.5 4.0 0.4 2.2 0.3 5.1 0.5 4.5 0.3 2.8 0.5 3.6 0.3 2.9 0.6 1.7 0.4 2.0 0.5 5.1 0.3 1.2 0.4 2.2 0.5 1.2 0.4 1.4 0.6 4.5 0.3 5.8 0.3 2.5 0.6 4.8 0.5 2.8 0.4 3.9 0.3 1.5 0.4 0.5 0.4 4.8 0.5 3.1 0.5 2.9 0.3 3.7 0.4 4.5 0.6 2.8 0.5 4.6 0.4 1.6 0.5 5.3 0.5 4.3 0.6 4.2 0.5 2.9 0.4 3.9 0.3 2.7 0.5 4.4 0.5 1.7 0.4 2.9 0.5 2.6 0.5 5.6 0.3 4.0 0.5 2.5 0.5 5.9 0.3 3.4 0.3 4.8 0.6 3.3 0.3 3.6 0.5 4.4 0.5 3.9 0.6 3.3 0.4 5.7 0.4 4.2 0.4 4.7 0.3 5.9 0.4 0.6 0.4 2.6 0.3 2.7 0.4 4.3 0.4 1.8 0.4 4.5 0.6 3.3 0.4 4.9 0.4 1.5 0.3 4.7 0.5 3.9 0.4 3.5 0.4 5.8 0.4 3.9 0.6 5.0 0.4 2.0 0.5 1.0 0.6 2.3 0.6 1.8 0.4 1.8 0.4 1.4 0.3 4.4 0.4 1.7 0.4 3.0 0.4 3.9 0.5 2.4 0.6 5.2 0.3 5.0 0.6 4.8 0.3 5.0 0.5 0.4 0.3 5.7 0.5 1.7 0.3 1.1 0.4 4.7 0.4 1.2 0.6 4.8 0.3 5.4 0.5 4.8 0.5 5.4 0.5 5.1"/>
<circle cx="193.7" cy="159.1" r="113.4" fill="none" stroke="#8a8ad6" stroke-opacity="0.3" stroke-width="0.8" stroke-dasharray="0.4 2.9 0.5 3.0 0.4 3.6 0.5 1.3 0.4 0.8 0.5 0.5 0.4 0.8 0.5 2.1 0.5 3.5 0.3 3.4 0.4 2.4 0.5 3.4 0.4 1.9 0.6 0.6 0.5 2.6 0.3 2.6 0.5 3.8 0.4 3.9 0.5 2.1 0.6 0.4 0.5 2.6 0.4 3.5 0.4 2.1 0.5 3.1 0.4 1.9 0.4 2.4 0.6 1.4 0.6 1.8 0.5 1.3 0.5 3.9 0.5 3.2 0.4 1.5 0.4 2.5 0.5 3.2 0.3 3.0 0.6 2.3 0.3 1.4 0.3 1.0 0.6 2.5 0.5 3.2 0.6 2.6 0.5 2.6 0.5 2.5 0.5 1.1 0.5 2.0 0.5 0.7 0.3 0.4 0.5 3.7 0.5 1.7 0.6 3.2 0.5 1.2 0.4 1.9 0.4 1.9 0.5 3.8 0.3 2.4 0.3 0.7 0.5 2.4 0.6 1.9 0.3 1.7 0.5 3.8 0.6 2.1 0.4 0.7 0.5 1.1 0.3 0.4 0.3 2.8 0.3 3.9 0.3 3.5 0.3 0.4 0.5 1.2 0.5 1.0 0.3 3.2 0.5 3.5 0.5 0.6 0.5 2.9 0.4 3.8 0.4 3.9 0.5 0.3 0.3 2.7 0.6 0.6 0.4 3.0 0.3 3.5 0.5 0.5 0.4 2.4 0.4 2.8 0.3 3.2 0.4 2.7 0.5 1.9 0.4 3.2 0.6 3.2 0.5 1.4 0.3 3.9 0.5 3.4 0.4 2.5 0.6 3.4 0.5 1.4 0.4 3.6 0.4 2.8 0.5 3.6 0.5 1.4 0.3 1.3 0.4 2.5 0.5 3.6 0.3 3.4 0.5 3.5 0.5 1.3 0.6 3.3 0.5 3.7 0.4 0.6 0.5 3.2 0.4 3.1 0.6 1.2 0.5 2.8 0.4 1.1 0.4 3.1 0.5 2.0 0.3 3.3 0.5 1.2 0.5 3.6 0.6 2.2 0.4 2.5 0.4 1.0 0.3 2.9 0.4 2.4 0.4 2.2 0.3 0.5 0.6 1.7 0.3 2.6 0.5 0.9 0.5 1.6 0.5 0.4 0.3 4.0 0.6 2.1 0.5 1.3 0.5 1.9 0.6 3.1 0.6 3.9 0.4 0.4 0.4 1.0 0.3 0.5 0.5 3.5 0.4 3.8 0.6 0.5 0.5 1.8 0.3 3.9 0.4 2.4 0.5 3.8 0.5 1.8 0.4 0.9 0.6 4.0 0.4 0.4 0.4 1.6 0.6 3.6 0.6 0.5 0.5 2.9 0.5 4.0 0.3 0.8 0.5 3.8 0.5 1.4 0.5 3.1 0.3 1.5 0.4 0.8 0.4 0.9 0.4 0.8 0.5 0.3 0.5 1.0 0.3 3.7 0.4 3.8 0.6 3.6 0.3 1.9 0.3 3.7 0.6 2.6 0.4 1.6 0.6 2.1 0.5 0.8 0.4 0.5 0.5 2.4 0.3 3.5 0.4 1.8 0.3 1.3 0.6 1.5 0.3 2.1 0.4 3.6 0.3 3.9 0.3 3.6 0.5 1.1 0.4 1.4 0.4 1.1 0.4 4.0 0.6 3.7 0.3 1.4 0.6 0.5 0.5 1.4 0.6 0.4 0.5 1.6 0.3 0.3 0.6 2.2 0.4 1.9 0.6 1.1 0.5 0.8 0.3 3.1 0.5 1.0 0.3 0.6 0.5 2.1 0.4 1.1 0.5 2.9 0.5 2.5 0.4 0.5 0.5 1.8 0.5 0.5 0.5 1.5 0.6 3.5 0.5 0.4 0.6 2.1 0.6 1.3 0.4 3.4 0.4 0.9 0.4 2.5 0.3 2.2 0.4 2.2 0.3 2.9 0.5 3.5 0.4 2.9 0.4 3.1 0.3 3.5 0.6 2.1 0.5 2.3 0.5 0.4 0.6 1.1 0.3 0.7 0.4 3.3 0.3 0.7 0.5 1.0 0.3 2.5 0.5 2.2 0.5 0.7 0.6 3.0 0.3 0.8 0.5 2.1 0.4 0.8 0.4 0.8 0.5 3.5 0.3 2.4 0.5 0.9 0.6 3.8 0.4 1.9 0.6 2.2 0.4 3.8 0.5 1.6 0.4 1.5 0.4 3.9 0.5 3.7 0.5 3.4 0.3 2.2 0.6 3.8 0.4 1.9 0.5 1.6 0.5 0.6 0.4 2.2 0.3 0.8 0.6 3.2 0.6 2.6 0.5 3.6 0.6 0.4 0.5 1.3 0.5 1.3 0.5 3.7 0.5 1.2 0.5 1.9 0.6 1.4 0.4 2.7 0.3 2.5 0.6 2.2 0.4 2.0"/>
<circle cx="193.7" cy="159.1" r="107.9" fill="none" stroke="#8a8ad6" stroke-opacity="0.6" stroke-width="0.9" stroke-dasharray="3.9 0.2 2.1 0.2 2.8 0.3 2.8 0.3 1.9 0.4 5.3 0.4 4.1 0.4 2.4 0.5 3.6 0.4 4.3 0.4 2.9 0.3 2.5 0.4 3.2 0.4 1.6 0.3 5.4 0.3 4.0 0.4 2.8 0.6 2.8 0.5 2.2 0.2 5.4 0.3 1.8 0.3 3.5 0.5 2.0 0.2 5.8 0.5 2.2 0.3 3.1 0.5 4.3 0.5 5.2 0.4 4.8 0.5 4.9 0.4 5.0 0.5 5.6 0.2 5.4 0.1 5.0 0.4 3.7 0.6 4.1 0.3 5.0 0.5 4.2 0.3 3.5 0.4 4.8 0.3 3.3 0.4 3.2 0.3 5.0 0.5 3.8 0.3 2.3 0.3 2.1 0.4 4.1 0.2 5.6 0.3 5.3 0.5 5.8 0.2 3.4 0.6 1.6 0.2 4.0 0.4 5.6 0.5 3.9 0.6 3.8 0.4 4.6 0.3 3.1 0.4 3.1 0.6 4.5 0.4 1.9 0.3 3.3 0.4 4.1 0.6 5.8 0.4 3.5 0.4 6.0 0.3 3.9 0.5 2.3 0.3 5.9 0.5 3.8 0.2 5.5 0.5 5.2 0.6 5.5 0.3 2.2 0.3 3.8 0.4 2.4 0.2 4.3 0.4 3.1 0.6 4.4 0.2 3.4 0.5 2.9 0.5 1.5 0.3 5.3 0.4 4.5 0.2 3.7 0.4 2.7 0.4 3.9 0.6 4.1 0.3 2.0 0.2 4.9 0.2 1.9 0.2 3.9 0.5 4.3 0.5 1.8 0.2 5.0 0.3 4.7 0.3 2.3 0.3 1.9 0.6 4.1 0.3 3.5 0.3 1.8 0.6 4.1 0.6 3.5 0.4 2.6 0.2 5.7 0.5 2.9 0.6 5.2 0.3 4.2 0.6 3.7 0.6 2.6 0.3 4.7 0.2 2.9 0.5 3.7 0.5 2.6 0.2 3.1 0.2 5.9 0.3 4.0 0.2 3.9 0.3 3.3 0.2 2.0 0.5 3.1 0.3 2.4 0.3 2.6 0.2 4.5 0.3 2.2 0.5 1.9 0.3 5.3 0.2 3.5 0.5 5.1 0.2 3.1 0.5 3.2 0.6 2.4 0.6 3.8 0.2 3.5 0.2 4.7 0.3 5.5 0.4 3.2 0.3 4.2 0.2 5.4 0.2 3.8 0.4 2.7 0.5 3.2 0.5 4.0 0.3 3.2 0.2 2.3 0.5 2.9 0.5 2.0 0.4 3.1 0.4 2.8 0.2 2.9 0.2 2.1 0.5 2.8 0.3 5.6 0.5 5.5 0.5 2.1 0.3 1.6 0.5 4.5 0.3 3.4 0.5 4.7 0.3 5.3 0.3 4.3 0.2 2.0 0.6 4.8 0.5 1.7 0.2 2.2 0.2 2.9 0.3 1.7 0.3 4.4 0.2 5.3 0.4"/>
<circle cx="193.7" cy="159.1" r="108.8" fill="none" stroke="#8a8ad6" stroke-opacity="0.4" stroke-width="0.9" stroke-dasharray="0.5 1.0 0.4 2.1 0.4 0.3 0.6 2.4 0.4 0.4 0.6 1.9 0.3 1.0 0.3 2.4 0.4 2.8 0.5 0.5 0.5 1.4 0.5 2.5 0.4 0.5 0.6 1.4 0.6 2.2 0.5 2.5 0.5 1.5 0.3 2.2 0.4 1.7 0.6 0.6 0.5 0.4 0.5 2.5 0.4 1.8 0.6 2.0 0.5 1.0 0.3 1.3 0.4 0.8 0.4 0.7 0.5 2.1 0.4 0.9 0.5 1.5 0.6 1.2 0.4 2.7 0.3 1.8 0.4 2.5 0.5 2.4 0.3 2.1 0.5 1.6 0.5 2.5 0.3 1.1 0.4 0.9 0.3 1.1 0.4 2.2 0.4 0.6 0.4 1.6 0.4 0.8 0.3 0.3 0.6 2.3 0.3 2.2 0.6 1.8 0.3 1.6 0.4 0.8 0.5 0.3 0.6 2.0 0.5 2.8 0.5 1.0 0.4 0.7 0.3 2.4 0.6 1.1 0.4 2.0 0.6 2.8 0.3 2.4 0.6 2.3 0.4 0.8 0.6 1.2 0.4 1.8 0.4 2.5 0.4 0.4 0.5 2.0 0.6 2.2 0.6 2.9 0.5 1.6 0.3 1.1 0.5 0.5 0.5 0.7 0.4 2.9 0.3 0.4 0.4 0.8 0.5 0.3 0.6 2.6 0.5 1.4 0.4 2.1 0.5 1.4 0.4 1.5 0.5 2.5 0.6 0.7 0.4 1.5 0.5 1.2 0.4 0.5 0.4 1.5 0.6 2.8 0.6 2.9 0.6 2.0 0.5 0.5 0.5 1.9 0.4 1.8 0.6 1.6 0.5 1.1 0.4 2.7 0.3 0.8 0.5 1.5 0.3 2.1 0.4 1.9 0.4 1.7 0.5 1.4 0.3 0.8 0.6 1.8 0.3 2.6 0.4 0.6 0.5 1.0 0.5 1.8 0.4 1.9 0.3 1.7 0.5 0.5 0.4 0.5 0.4 2.6 0.5 2.2 0.5 0.6 0.6 2.2 0.3 2.5 0.4 0.8 0.6 1.8 0.5 0.7 0.5 0.5 0.4 1.3 0.3 1.9 0.4 1.1 0.5 1.4 0.6 2.0 0.6 1.8 0.6 2.6 0.3 2.3 0.4 2.4 0.5 2.5 0.3 1.3 0.5 2.9 0.5 0.4 0.5 0.6 0.5 2.5 0.3 2.8 0.5 1.0 0.4 1.5 0.6 1.9 0.3 0.4 0.3 2.5 0.4 1.8 0.4 2.2 0.4 0.7 0.6 1.8 0.5 2.5 0.6 0.3 0.4 0.7 0.5 2.7 0.5 0.4 0.3 2.5 0.5 1.4 0.4 0.7 0.6 1.4 0.6 1.9 0.3 1.2 0.4 2.7 0.5 0.4 0.3 1.3 0.4 1.9 0.4 1.2 0.3 1.9 0.4 0.4 0.4 3.0 0.3 0.7 0.5 1.0 0.4 1.6 0.4 1.8 0.5 2.9 0.6 0.4 0.5 2.4 0.6 2.4 0.5 2.0 0.4 1.1 0.5 2.7 0.6 2.1 0.4 2.4 0.5 1.7 0.5 1.2 0.5 1.4 0.3 1.2 0.4 3.0 0.4 1.3 0.4 0.9 0.4 0.7 0.3 2.6 0.4 1.5 0.5 1.1 0.3 0.5 0.4 1.1 0.5 1.8 0.6 1.2 0.6 1.9 0.3 0.8 0.5 3.0 0.4 2.4 0.4 2.6 0.3 1.6 0.6 1.0 0.4 0.4 0.3 1.0 0.5 0.9 0.4 0.8 0.5 2.6 0.5 0.8 0.5 2.9 0.5 0.5 0.5 2.7 0.4 0.7 0.4 1.8 0.6 2.0 0.6 0.9 0.4 2.3 0.5 1.4 0.5 1.2 0.3 1.4 0.3 2.0 0.4 1.6 0.5 1.0 0.4 0.3 0.6 1.8 0.6 0.5 0.5 2.3 0.4 0.6 0.3 0.7 0.5 0.5 0.5 1.4 0.5 1.9 0.5 2.1 0.5 1.2 0.5 1.0 0.5 2.4 0.5 1.1 0.5 2.9 0.4 1.1 0.5 2.8 0.3 0.3 0.4 2.1 0.5 1.3 0.6 0.9 0.5 0.5 0.3 0.7 0.3 1.6 0.5 0.8 0.6 1.3 0.3 0.8 0.5 2.8 0.3 0.4 0.5 0.9 0.6 1.6 0.5 1.2 0.5 1.5 0.4 2.7 0.3 2.3 0.3 2.0 0.4 2.6 0.3 1.8 0.4 2.8 0.6 2.0 0.4 1.0 0.4 1.5 0.4 0.8 0.5 2.0 0.4 3.0 0.4 1.8 0.3 2.6 0.6 1.0 0.5 2.5 0.4 1.2 0.5 2.7 0.3 2.1 0.5 1.5 0.5 2.7 0.4 2.7 0.4 2.4 0.6 0.8 0.6 3.0 0.4 0.4 0.3 2.9 0.3 2.8 0.3 2.3 0.3 0.8 0.5 0.5 0.4 2.8 0.5 2.7 0.6 0.4 0.4 2.4 0.5 0.4 0.5 0.9 0.4 0.6 0.3 3.0 0.4 2.7 0.3 1.6 0.3 1.5 0.3 2.1 0.3 2.3 0.5 0.6 0.4 1.6 0.6 1.2 0.4 2.9 0.6 2.3 0.4 0.8 0.4 0.5 0.3 1.7 0.4 1.8 0.4 0.3 0.5 2.1 0.5 1.8 0.5 3.0 0.6 2.2 0.4 1.2 0.4 2.9 0.4 1.3 0.4 0.7 0.6 0.3 0.5 2.8 0.4 1.9 0.4 0.9 0.4 0.6 0.6 2.4 0.6 0.4 0.5 1.2 0.5 1.8 0.4 2.9 0.3 2.3 0.6 1.7 0.5 3.0 0.4 2.0 0.5 1.3"/>
<circle cx="193.7" cy="159.1" r="109.7" fill="none" stroke="#8a8ad6" stroke-opacity="0.3" stroke-width="0.9" stroke-dasharray="0.5 2.5 0.5 3.8 0.5 2.1 0.5 3.4 0.4 3.8 0.4 5.5 0.4 4.4 0.5 3.0 0.4 1.1 0.6 3.3 0.5 3.3 0.5 1.7 0.3 5.0 0.4 4.0 0.6 5.4 0.6 0.6 0.4 5.0 0.6 1.0 0.3 1.7 0.3 2.3 0.5 3.3 0.4 0.8 0.4 6.0 0.5 2.9 0.4 4.8 0.5 1.1 0.5 2.4 0.5 1.6 0.4 2.2 0.4 0.4 0.4 3.5 0.3 1.3 0.5 1.9 0.4 1.7 0.6 0.8 0.5 5.2 0.4 2.7 0.5 3.8 0.4 0.6 0.4 2.4 0.5 2.0 0.4 4.0 0.5 2.3 0.4 3.6 0.6 1.4 0.6 4.4 0.4 4.1 0.4 0.7 0.5 2.5 0.5 3.1 0.6 4.6 0.3 3.7 0.4 2.9 0.6 2.7 0.4 5.4 0.4 3.1 0.5 5.0 0.5 4.5 0.4 0.5 0.5 3.5 0.5 4.7 0.3 1.6 0.3 5.0 0.3 0.8 0.5 3.5 0.3 4.2 0.5 3.0 0.3 4.2 0.4 3.6 0.6 5.0 0.6 1.1 0.4 3.2 0.3 5.9 0.4 1.8 0.4 1.8 0.6 3.5 0.5 2.7 0.3 2.0 0.6 4.9 0.6 1.8 0.4 0.6 0.5 2.4 0.4 3.1 0.5 2.4 0.5 1.4 0.6 3.5 0.3 2.1 0.5 2.6 0.5 2.1 0.4 4.8 0.4 4.3 0.5 3.7 0.4 5.6 0.4 5.3 0.3 2.8 0.5 0.6 0.6 0.7 0.5 1.3 0.6 3.5 0.5 3.1 0.5 4.2 0.4 1.5 0.6 1.1 0.6 1.5 0.3 0.8 0.5 5.7 0.4 4.1 0.4 5.5 0.5 1.2 0.3 4.3 0.3 5.1 0.4 1.6 0.5 2.1 0.5 1.2 0.6 2.1 0.6 1.2 0.5 5.9 0.4 0.5 0.4 4.0 0.4 3.4 0.3 3.0 0.5 2.8 0.5 0.9 0.6 1.0 0.6 6.0 0.6 3.3 0.4 2.3 0.5 3.1 0.6 0.8 0.5 5.2 0.5 3.4 0.3 1.1 0.4 5.4 0.6 1.6 0.6 0.5 0.5 5.8 0.4 5.7 0.5 0.6 0.4 2.9 0.4 4.5 0.3 4.8 0.4 0.7 0.5 0.8 0.5 4.8 0.5 2.9 0.3 3.2 0.3 4.0 0.3 3.6 0.4 2.4 0.5 1.2 0.3 5.7 0.4 5.1 0.6 3.0 0.3 0.8 0.6 1.0 0.5 3.4 0.3 3.0 0.3 3.4 0.5 2.4 0.4 2.6 0.4 1.0 0.4 5.3 0.5 5.4 0.3 5.7 0.5 4.8 0.5 4.2 0.4 4.6 0.3 1.8 0.3 2.5 0.5 2.0 0.6 0.8 0.5 1.6 0.5 4.8 0.5 0.7 0.4 3.7 0.6 0.5 0.5 4.2 0.5 2.2 0.5 2.9 0.6 0.4 0.6 2.6 0.4 0.8 0.4 4.5 0.5 1.2 0.4 1.1 0.4 1.6 0.4 5.9 0.6 4.8 0.4 3.1 0.5 5.5 0.5 3.9 0.4 3.9 0.6 4.8 0.3 4.4 0.4 1.2 0.6 4.1 0.5 1.1 0.6 5.6 0.6 4.5 0.6 4.9"/>
<circle cx="193.7" cy="159.1" r="107" fill="none" stroke="#8a8ad6" stroke-opacity="0.3" stroke-width="0.8" stroke-dasharray="0.5 1.9 0.6 3.2 0.6 1.4 0.6 2.3 0.6 0.7 0.6 3.2 0.4 3.4 0.4 1.0 0.4 1.2 0.5 3.7 0.5 2.9 0.4 3.2 0.5 2.8 0.6 3.4 0.4 0.6 0.5 3.4 0.4 2.5 0.6 3.2 0.3 2.1 0.3 0.7 0.5 1.9 0.5 2.0 0.4 1.1 0.4 3.4 0.5 1.4 0.3 1.3 0.5 1.9 0.5 3.3 0.3 2.8 0.3 3.3 0.4 1.3 0.6 1.6 0.4 3.6 0.5 3.6 0.4 2.1 0.6 2.2 0.6 1.0 0.6 0.9 0.5 0.3 0.3 3.8 0.4 3.3 0.4 1.6 0.3 2.3 0.6 2.2 0.4 3.7 0.6 2.8 0.3 2.6 0.4 3.8 0.4 2.8 0.5 1.7 0.5 2.8 0.6 2.1 0.4 3.9 0.3 3.4 0.5 2.4 0.4 3.1 0.6 3.0 0.5 0.4 0.4 0.8 0.6 3.6 0.3 2.5 0.5 0.5 0.4 3.1 0.5 1.3 0.5 1.4 0.5 1.9 0.6 2.7 0.5 2.8 0.4 3.9 0.5 2.9 0.4 0.9 0.5 3.4 0.5 1.6 0.3 2.2 0.6 0.9 0.5 0.9 0.4 0.5 0.4 1.7 0.6 3.9 0.4 1.4 0.6 1.0 0.4 1.9 0.3 1.3 0.4 1.7 0.6 1.3 0.4 3.7 0.4 3.4 0.5 3.2 0.4 0.9 0.5 2.0 0.5 2.8 0.5 1.3 0.4 3.7 0.5 1.4 0.5 1.3 0.5 0.5 0.6 2.4 0.4 3.8 0.4 1.2 0.3 2.3 0.5 2.8 0.4 3.3 0.3 1.4 0.5 3.9 0.5 2.9 0.5 1.8 0.6 3.0 0.4 1.8 0.5 1.6 0.4 3.5 0.5 2.2 0.5 3.6 0.3 1.6 0.3 1.8 0.5 3.5 0.5 2.4 0.4 2.4 0.4 3.4 0.5 3.4 0.3 2.8 0.5 2.1 0.6 3.6 0.5 3.3 0.5 3.5 0.3 2.9 0.5 2.6 0.4 0.6 0.5 3.4 0.4 1.1 0.4 0.7 0.5 3.9 0.5 1.6 0.5 0.6 0.6 1.5 0.3 2.6 0.3 1.3 0.3 1.9 0.5 3.3 0.3 3.4 0.3 1.1 0.5 1.6 0.4 2.4 0.4 3.2 0.4 3.4 0.5 2.3 0.3 3.2 0.3 2.2 0.4 0.5 0.5 3.0 0.5 1.8 0.5 2.5 0.4 3.5 0.6 3.3 0.6 1.5 0.6 0.6 0.4 0.8 0.4 2.8 0.5 2.0 0.4 1.0 0.4 1.4 0.4 3.0 0.5 1.9 0.4 2.9 0.4 1.3 0.5 2.9 0.6 3.1 0.6 3.7 0.5 3.0 0.3 1.1 0.3 3.5 0.5 2.6 0.4 1.6 0.3 2.6 0.6 1.4 0.3 0.9 0.4 3.6 0.5 2.0 0.3 0.7 0.3 3.2 0.4 4.0 0.6 3.2 0.4 3.3 0.3 0.7 0.5 2.2 0.4 1.2 0.3 3.7 0.5 3.8 0.6 1.9 0.5 1.7 0.5 3.4 0.3 0.3 0.4 2.5 0.4 0.3 0.6 3.2 0.4 0.5 0.6 2.3 0.3 1.5 0.5 3.6 0.5 2.7 0.4 1.2 0.6 1.7 0.3 2.5 0.3 1.0 0.4 2.5 0.5 2.9 0.4 0.6 0.5 0.5 0.4 1.8 0.5 2.9 0.4 2.7 0.5 2.0 0.3 3.7 0.5 0.5 0.4 4.0 0.4 1.8 0.5 3.4 0.5 3.0 0.3 0.7 0.6 3.3 0.3 0.5 0.4 3.7 0.4 2.8 0.6 2.7 0.6 1.3 0.3 0.4 0.5 0.7 0.6 2.9 0.4 3.3 0.3 2.2 0.3 3.2 0.6 3.7 0.3 3.5 0.5 3.3 0.5 2.6 0.5 3.3 0.3 0.5 0.5 1.4 0.4 0.3 0.5 0.4 0.6 3.3 0.4 0.8 0.5 1.1 0.4 0.7 0.6 2.3 0.4 0.7 0.5 3.4 0.6 0.7 0.4 1.4 0.5 0.8 0.5 3.9"/>
<circle cx="193.7" cy="159.1" r="100.6" fill="none" stroke="#fc9a80" stroke-opacity="0.6" stroke-width="0.9" stroke-dasharray="5.0 0.1 1.8 0.2 4.6 0.4 3.8 0.4 3.3 0.4 4.4 0.6 4.8 0.5 5.6 0.5 4.7 0.2 4.6 0.5 3.4 0.6 2.3 0.6 3.5 0.5 2.6 0.3 3.1 0.3 1.9 0.3 5.9 0.4 5.7 0.5 5.3 0.6 4.9 0.3 2.6 0.3 1.6 0.2 5.5 0.6 3.0 0.5 5.0 0.6 5.1 0.4 2.0 0.5 2.9 0.4 3.1 0.4 5.8 0.2 3.9 0.4 3.9 0.6 3.3 0.6 4.6 0.6 1.9 0.2 2.8 0.6 1.6 0.3 4.7 0.6 2.3 0.3 4.6 0.5 4.9 0.5 2.6 0.3 1.6 0.5 2.4 0.3 5.8 0.4 4.2 0.5 4.2 0.5 2.9 0.2 1.8 0.2 3.1 0.2 2.0 0.4 5.9 0.5 2.7 0.5 2.3 0.2 2.9 0.3 4.6 0.3 4.8 0.2 5.7 0.3 5.2 0.2 5.2 0.2 5.3 0.5 4.5 0.3 1.5 0.2 5.6 0.2 4.5 0.4 4.5 0.2 2.1 0.2 5.9 0.3 4.4 0.4 2.5 0.2 1.6 0.5 2.1 0.6 3.1 0.5 2.1 0.5 2.6 0.3 3.9 0.2 2.6 0.5 2.8 0.3 4.9 0.2 2.4 0.2 3.2 0.3 4.4 0.4 5.4 0.2 4.5 0.5 2.6 0.2 3.5 0.2 3.6 0.5 1.9 0.2 3.7 0.2 2.5 0.3 2.0 0.2 3.1 0.4 5.7 0.4 1.8 0.2 4.8 0.4 5.4 0.6 5.4 0.2 5.8 0.4 2.6 0.2 5.4 0.2 1.9 0.3 5.7 0.4 4.8 0.2 3.5 0.3 2.4 0.5 3.1 0.2 5.9 0.4 2.3 0.1 4.4 0.4 1.6 0.4 4.8 0.4 2.5 0.4 4.2 0.4 2.1 0.5 5.8 0.5 5.4 0.3 5.6 0.2 2.5 0.4 5.6 0.2 2.5 0.2 3.5 0.2 2.4 0.5 4.1 0.6 3.3 0.5 1.6 0.6 2.5 0.4 3.8 0.6 3.7 0.6 4.3 0.2 5.2 0.2 6.0 0.4 2.5 0.6 3.0 0.3 3.0 0.5 1.6 0.3 2.2 0.5 1.5 0.4 2.7 0.3 4.0 0.5 2.1 0.3 2.0 0.6 2.2 0.2 3.9 0.4 5.5 0.2 2.5 0.2 4.1 0.3 3.3 0.6 4.5 0.5 5.8 0.3 5.7 0.3 1.7 0.6 2.0 0.2 2.8 0.3 5.8 0.5 3.4 0.4 5.3 0.5 4.4 0.4"/>
<circle cx="193.7" cy="159.1" r="101.5" fill="none" stroke="#fc9a80" stroke-opacity="0.4" stroke-width="0.9" stroke-dasharray="0.3 1.0 0.5 1.9 0.5 2.7 0.6 0.8 0.3 2.7 0.5 0.8 0.5 1.0 0.4 1.3 0.5 2.1 0.3 2.3 0.5 1.6 0.5 2.5 0.3 1.6 0.5 2.2 0.5 0.8 0.6 2.4 0.4 1.5 0.6 0.9 0.4 2.9 0.6 0.9 0.5 1.3 0.5 2.4 0.3 0.9 0.4 1.0 0.3 0.7 0.4 1.4 0.3 1.9 0.6 1.9 0.4 2.2 0.4 0.8 0.4 0.3 0.5 0.7 0.4 2.9 0.5 2.6 0.5 2.0 0.5 2.9 0.4 2.4 0.4 1.0 0.6 1.9 0.6 2.7 0.5 0.8 0.3 1.7 0.5 1.0 0.3 0.3 0.3 2.2 0.3 0.9 0.4 2.2 0.6 0.3 0.3 2.8 0.6 0.7 0.4 1.7 0.4 1.4 0.4 1.0 0.3 0.5 0.3 0.6 0.5 2.2 0.4 2.4 0.5 1.2 0.5 0.8 0.6 1.8 0.3 0.7 0.5 1.3 0.5 0.9 0.5 2.5 0.3 1.9 0.4 2.2 0.5 2.4 0.4 0.6 0.5 1.8 0.3 0.8 0.5 0.6 0.5 0.9 0.4 1.4 0.5 2.3 0.3 2.3 0.4 1.1 0.5 2.2 0.5 2.7 0.4 1.1 0.5 1.0 0.3 0.9 0.5 2.5 0.5 2.9 0.5 1.1 0.4 2.2 0.3 1.9 0.3 0.4 0.5 0.7 0.6 2.7 0.4 0.8 0.3 1.7 0.5 1.3 0.5 1.7 0.5 0.6 0.3 1.3 0.5 1.0 0.5 0.9 0.4 1.6 0.5 2.4 0.4 1.5 0.6 2.8 0.5 0.6 0.4 2.0 0.4 0.4 0.6 2.8 0.3 1.6 0.5 1.1 0.3 2.3 0.5 1.5 0.3 1.4 0.3 2.9 0.3 1.1 0.5 0.7 0.3 0.5 0.3 1.7 0.6 0.8 0.3 2.4 0.4 1.2 0.3 1.0 0.6 0.6 0.4 2.3 0.6 2.7 0.4 2.9 0.5 1.1 0.4 2.2 0.5 0.7 0.4 2.9 0.3 2.5 0.4 1.0 0.4 1.6 0.6 0.7 0.6 1.2 0.3 2.3 0.4 0.8 0.4 2.5 0.6 1.9 0.3 2.4 0.5 2.7 0.6 1.2 0.6 2.5 0.4 1.3 0.4 1.2 0.4 0.6 0.4 2.8 0.4 2.0 0.6 2.3 0.4 2.8 0.5 3.0 0.5 2.3 0.5 1.0 0.5 1.3 0.6 0.7 0.5 1.2 0.6 1.2 0.6 2.6 0.6 0.7 0.6 2.3 0.5 2.1 0.3 2.6 0.5 1.5 0.4 2.4 0.5 2.6 0.4 1.2 0.4 0.6 0.4 0.4 0.5 0.9 0.3 0.5 0.5 0.8 0.4 1.4 0.5 2.9 0.4 2.0 0.6 1.6 0.6 2.3 0.4 2.7 0.5 0.6 0.5 2.5 0.5 1.6 0.4 2.7 0.5 0.9 0.4 1.3 0.6 2.2 0.3 2.8 0.3 1.9 0.4 2.2 0.4 0.6 0.5 2.5 0.5 1.3 0.4 2.3 0.5 0.9 0.6 3.0 0.4 1.3 0.5 2.8 0.4 1.1 0.4 2.3 0.4 1.8 0.5 2.1 0.3 2.9 0.6 1.8 0.5 0.8 0.6 1.8 0.5 2.6 0.4 2.8 0.4 0.4 0.5 2.7 0.6 2.9 0.5 2.8 0.5 0.7 0.5 2.5 0.4 1.9 0.4 1.1 0.4 1.7 0.4 0.6 0.3 1.2 0.5 2.3 0.4 1.0 0.5 0.8 0.5 2.7 0.4 1.9 0.5 2.3 0.5 2.2 0.4 2.6 0.6 0.4 0.6 1.5 0.3 0.5 0.5 2.1 0.3 1.5 0.5 3.0 0.4 2.4 0.4 0.8 0.3 1.4 0.5 1.1 0.3 0.9 0.3 0.8 0.4 1.7 0.4 1.6 0.4 2.9 0.5 2.9 0.4 0.8 0.5 0.7 0.3 0.5 0.5 2.9 0.4 1.3 0.4 1.2 0.5 1.4 0.3 2.6 0.5 0.3 0.6 2.3 0.4 2.0 0.6 1.4 0.4 1.1 0.5 2.1 0.5 2.9 0.3 1.3 0.6 2.4 0.5 2.1 0.4 2.9 0.5 1.4 0.3 0.6 0.6 2.5 0.3 1.2 0.4 1.6 0.4 2.7 0.4 1.7 0.6 2.0 0.4 1.2 0.4 1.9 0.5 1.0 0.4 1.4 0.4 2.8 0.5 1.0 0.4 2.5 0.3 2.2 0.3 0.8 0.3 2.5 0.3 0.9 0.3 1.0 0.5 2.2 0.6 2.9 0.5 2.8 0.3 2.8 0.4 0.8 0.5 2.6 0.4 0.6 0.6 2.3 0.5 2.9 0.3 0.5 0.3 0.4 0.5 2.0 0.3 0.7 0.3 1.9 0.5 2.9 0.4 2.9 0.4 1.4 0.4 0.9 0.6 3.0 0.5 0.8 0.3 0.7 0.4 2.3 0.3 1.7 0.5 0.4 0.4 2.4 0.5 1.5"/>
<circle cx="193.7" cy="159.1" r="102.4" fill="none" stroke="#fc9a80" stroke-opacity="0.3" stroke-width="0.9" stroke-dasharray="0.6 3.7 0.4 2.6 0.6 5.2 0.6 3.5 0.3 1.3 0.4 4.2 0.3 4.9 0.5 3.2 0.3 4.8 0.4 4.1 0.5 4.5 0.4 5.8 0.6 5.6 0.5 2.1 0.4 1.8 0.6 4.8 0.5 5.0 0.6 4.2 0.4 4.6 0.4 3.8 0.3 5.2 0.5 1.9 0.6 0.8 0.6 4.6 0.3 4.6 0.5 5.5 0.5 2.7 0.6 0.8 0.5 0.9 0.4 0.9 0.6 2.8 0.5 1.8 0.5 4.0 0.3 3.1 0.5 1.5 0.5 1.9 0.4 5.5 0.6 6.0 0.4 3.6 0.5 4.6 0.4 5.2 0.4 5.7 0.4 1.0 0.5 1.1 0.5 0.6 0.6 3.4 0.5 1.1 0.5 2.5 0.4 5.0 0.3 3.0 0.3 5.2 0.6 0.5 0.4 3.0 0.5 4.5 0.4 5.6 0.4 1.1 0.5 1.0 0.4 3.1 0.4 1.2 0.6 3.0 0.5 1.7 0.6 1.6 0.6 3.8 0.6 4.7 0.5 3.3 0.6 2.8 0.3 5.5 0.5 4.2 0.5 1.6 0.4 5.0 0.6 5.6 0.3 4.2 0.5 2.6 0.3 1.1 0.4 3.1 0.4 2.4 0.5 4.6 0.5 1.2 0.6 2.4 0.6 5.9 0.3 3.6 0.6 2.5 0.5 2.1 0.3 1.5 0.3 1.9 0.5 3.5 0.6 4.2 0.4 5.7 0.5 3.4 0.6 4.1 0.4 3.8 0.4 5.8 0.4 5.8 0.3 0.4 0.5 1.5 0.5 1.0 0.6 4.1 0.5 5.6 0.6 4.2 0.5 0.3 0.3 2.7 0.6 2.1 0.5 0.3 0.4 5.4 0.5 5.0 0.3 1.5 0.3 5.0 0.3 5.6 0.4 5.3 0.5 2.1 0.6 2.6 0.5 0.7 0.6 5.9 0.3 4.5 0.4 1.1 0.4 4.1 0.6 6.0 0.6 3.9 0.5 1.2 0.5 3.4 0.4 5.4 0.4 1.1 0.3 1.1 0.5 4.9 0.3 3.2 0.5 3.5 0.4 3.4 0.3 0.6 0.4 1.6 0.5 1.7 0.6 1.7 0.3 3.0 0.4 2.2 0.5 1.6 0.5 5.1 0.4 3.2 0.6 3.7 0.3 0.7 0.3 2.2 0.3 4.0 0.4 2.1 0.5 5.6 0.4 1.2 0.4 2.1 0.6 4.3 0.4 1.2 0.3 1.0 0.6 4.0 0.3 3.9 0.3 3.2 0.4 0.9 0.5 4.4 0.5 1.3 0.5 2.8 0.5 0.8 0.6 0.3 0.4 2.6 0.4 0.8 0.5 6.0 0.4 1.8 0.5 1.6 0.4 4.2 0.4 1.2 0.3 3.4 0.6 5.5 0.3 3.2 0.5 1.4 0.5 3.1 0.5 2.0 0.6 4.9 0.4 1.1 0.5 1.0 0.5 4.3 0.5 5.9 0.3 4.4 0.5 0.9 0.4 0.6 0.5 4.4 0.4 4.3"/>
<circle cx="193.7" cy="159.1" r="99.7" fill="none" stroke="#fc9a80" stroke-opacity="0.3" stroke-width="0.8" stroke-dasharray="0.4 2.9 0.4 3.9 0.4 0.3 0.3 3.0 0.6 2.7 0.3 3.5 0.5 0.7 0.4 2.8 0.3 0.5 0.4 3.5 0.6 1.5 0.6 3.2 0.6 2.5 0.6 2.7 0.6 2.4 0.4 2.2 0.4 1.6 0.4 2.2 0.5 1.1 0.4 2.2 0.5 1.9 0.5 1.0 0.5 1.3 0.5 2.9 0.5 2.2 0.4 3.7 0.5 1.7 0.4 1.8 0.5 3.3 0.4 3.0 0.4 2.0 0.4 1.4 0.4 3.1 0.5 1.1 0.4 3.2 0.5 2.8 0.5 2.9 0.4 0.5 0.4 0.4 0.6 2.2 0.5 3.9 0.5 1.1 0.4 0.7 0.5 3.0 0.5 1.7 0.4 2.1 0.5 3.6 0.6 3.5 0.4 1.9 0.4 3.9 0.4 0.9 0.4 3.7 0.6 1.5 0.6 3.6 0.4 1.0 0.5 1.7 0.3 3.6 0.4 1.8 0.5 1.2 0.3 1.7 0.4 0.3 0.4 3.1 0.4 2.8 0.5 1.0 0.3 2.8 0.5 1.4 0.4 3.5 0.6 1.2 0.5 2.4 0.4 0.4 0.4 2.7 0.5 2.2 0.3 1.1 0.4 1.8 0.4 3.6 0.3 4.0 0.4 3.5 0.4 2.5 0.4 0.4 0.5 3.3 0.4 3.2 0.4 4.0 0.3 1.7 0.4 2.6 0.5 3.4 0.5 1.7 0.5 0.7 0.4 3.1 0.4 4.0 0.3 2.0 0.4 0.3 0.3 0.6 0.4 1.9 0.5 1.4 0.5 2.2 0.6 0.9 0.5 2.1 0.4 3.5 0.4 3.5 0.4 1.5 0.5 2.4 0.4 0.6 0.6 1.7 0.3 2.7 0.5 1.5 0.4 3.4 0.4 1.8 0.6 1.6 0.4 0.9 0.5 2.8 0.4 1.8 0.4 3.2 0.4 3.4 0.4 3.0 0.3 1.1 0.6 2.8 0.5 2.1 0.4 1.0 0.3 2.7 0.5 1.3 0.5 0.8 0.5 0.9 0.5 1.5 0.5 0.8 0.5 2.6 0.3 1.4 0.5 2.3 0.5 3.2 0.5 1.1 0.4 3.4 0.5 3.1 0.4 2.0 0.6 3.3 0.5 0.7 0.5 0.4 0.6 3.9 0.5 1.3 0.6 1.0 0.6 2.2 0.3 3.6 0.4 3.4 0.5 2.3 0.6 1.1 0.6 1.6 0.3 1.6 0.3 0.6 0.5 0.8 0.3 1.4 0.4 3.7 0.6 3.5 0.6 1.9 0.5 1.3 0.6 3.3 0.5 1.1 0.3 3.7 0.5 2.6 0.6 0.8 0.5 2.0 0.5 2.0 0.4 3.8 0.4 3.1 0.6 1.2 0.5 1.8 0.4 1.1 0.6 1.7 0.5 2.1 0.3 3.1 0.5 3.5 0.4 1.1 0.4 3.0 0.5 1.8 0.5 0.9 0.6 2.0 0.5 3.2 0.4 3.0 0.4 3.3 0.3 1.3 0.5 2.1 0.4 2.4 0.4 1.9 0.3 3.3 0.4 3.4 0.5 2.5 0.5 0.8 0.5 1.4 0.6 3.2 0.5 3.3 0.4 2.8 0.6 1.0 0.3 1.8 0.5 0.8 0.4 3.5 0.4 0.8 0.3 2.4 0.4 2.1 0.5 1.9 0.5 3.4 0.3 3.7 0.4 0.4 0.5 2.4 0.5 1.1 0.5 1.4 0.5 1.1 0.5 2.7 0.4 2.1 0.3 2.7 0.5 0.9 0.5 3.0 0.3 3.4 0.6 0.5 0.4 0.6 0.4 0.6 0.5 1.2 0.4 2.0 0.4 3.2 0.5 0.7 0.4 0.3 0.4 0.7 0.5 3.2 0.6 1.1 0.3 3.1 0.4 3.8 0.4 1.5 0.3 3.8 0.5 1.9 0.4 3.1 0.6 2.1 0.3 1.8 0.6 1.8 0.5 2.4 0.4 2.4 0.4 2.4 0.6 0.6 0.4 3.6 0.6 0.3 0.5 2.6 0.6 2.0 0.3 1.4 0.5 3.0 0.4 2.7 0.5 2.7 0.3 1.9"/>
<circle cx="193.7" cy="159.1" r="95" fill="none" stroke="#fc9a80" stroke-opacity="0.6" stroke-width="0.9" stroke-dasharray="3.0 0.4 3.0 0.2 4.5 0.3 5.1 0.3 4.0 0.5 2.0 0.5 1.8 0.6 1.6 0.5 3.2 0.2 3.3 0.4 3.4 0.2 3.9 0.3 5.8 0.3 3.5 0.2 5.9 0.3 4.4 0.5 3.3 0.5 2.8 0.2 1.7 0.3 5.4 0.2 3.5 0.5 2.7 0.2 3.8 0.3 5.7 0.6 2.6 0.4 3.4 0.2 3.5 0.6 2.9 0.4 4.7 0.2 5.7 0.2 2.9 0.5 1.6 0.3 2.1 0.4 1.6 0.2 2.5 0.2 1.9 0.2 3.8 0.2 5.2 0.3 2.6 0.3 5.3 0.2 4.8 0.2 5.8 0.3 4.2 0.5 1.9 0.2 4.6 0.4 4.7 0.3 3.7 0.2 3.5 0.3 4.1 0.3 2.7 0.4 1.9 0.5 3.7 0.2 2.0 0.4 3.8 0.5 3.2 0.3 5.5 0.3 5.9 0.6 6.0 0.6 2.7 0.5 4.2 0.2 6.0 0.4 5.1 0.4 1.9 0.5 2.3 0.3 4.3 0.2 3.6 0.5 1.9 0.5 2.0 0.4 4.4 0.5 1.7 0.2 5.8 0.3 3.4 0.3 4.6 0.5 4.4 0.3 4.1 0.4 2.4 0.6 5.8 0.5 6.0 0.4 5.3 0.3 4.8 0.5 5.7 0.5 5.5 0.3 5.0 0.4 2.9 0.3 5.1 0.5 5.3 0.5 2.3 0.2 4.1 0.2 3.0 0.2 2.2 0.5 2.5 0.5 3.0 0.5 2.9 0.3 3.3 0.2 3.5 0.3 1.6 0.5 3.2 0.1 5.8 0.2 2.6 0.2 1.9 0.5 4.1 0.4 2.6 0.3 5.9 0.3 6.0 0.6 2.1 0.5 1.6 0.5 5.1 0.5 4.0 0.5 2.2 0.4 2.7 0.3 2.4 0.5 4.1 0.5 4.3 0.4 5.7 0.5 4.0 0.3 5.7 0.3 2.0 0.3 4.7 0.6 4.4 0.5 5.7 0.5 3.5 0.4 4.9 0.3 2.0 0.4 5.1 0.3 4.6 0.6 2.1 0.2 3.7 0.3 5.8 0.6 3.5 0.5 4.3 0.2 5.9 0.2 1.8 0.3 1.6 0.4 3.4 0.6 3.4 0.5 5.0 0.4 2.6 0.3 3.7 0.3 4.4 0.4 3.0 0.4 6.0 0.2 3.0 0.2 1.9 0.2 3.4 0.5 4.6 0.6 5.3 0.4"/>
<circle cx="193.7" cy="159.1" r="95.9" fill="none" stroke="#fc9a80" stroke-opacity="0.4" stroke-width="0.9" stroke-dasharray="0.5 0.3 0.4 1.0 0.5 0.5 0.5 1.3 0.5 1.4 0.3 2.3 0.5 1.9 0.3 1.9 0.6 3.0 0.5 0.4 0.6 2.1 0.4 2.8 0.6 2.7 0.4 1.9 0.4 1.1 0.5 2.0 0.4 1.8 0.6 1.8 0.6 1.8 0.6 0.4 0.4 1.8 0.5 2.9 0.5 1.6 0.5 1.7 0.5 2.9 0.3 1.2 0.6 0.5 0.5 0.4 0.5 2.5 0.4 1.3 0.4 2.2 0.5 1.9 0.4 1.9 0.6 2.4 0.6 1.0 0.5 1.3 0.4 2.5 0.3 1.8 0.5 2.8 0.3 1.0 0.5 2.8 0.3 2.6 0.4 1.8 0.6 0.5 0.4 0.7 0.3 1.1 0.5 1.9 0.3 2.5 0.5 0.7 0.6 2.5 0.4 2.8 0.5 0.9 0.3 2.6 0.6 0.6 0.5 2.4 0.5 2.5 0.6 1.2 0.6 2.8 0.4 2.1 0.5 2.6 0.5 1.0 0.4 1.8 0.3 2.6 0.6 0.9 0.5 2.1 0.3 2.4 0.5 1.1 0.3 1.1 0.5 1.6 0.5 0.7 0.3 1.2 0.6 0.7 0.3 2.3 0.3 2.1 0.3 1.0 0.5 2.7 0.4 1.5 0.3 1.2 0.4 2.4 0.5 2.4 0.5 2.2 0.3 1.3 0.4 1.1 0.5 0.9 0.4 1.1 0.6 2.0 0.4 1.3 0.6 2.8 0.4 1.8 0.6 1.0 0.4 0.6 0.5 2.4 0.3 1.5 0.6 1.6 0.4 2.6 0.6 1.3 0.3 2.0 0.5 2.8 0.5 1.1 0.5 1.1 0.4 1.6 0.6 2.8 0.6 1.6 0.6 0.7 0.6 2.0 0.6 1.4 0.6 0.4 0.6 2.5 0.4 2.5 0.4 2.3 0.4 1.4 0.4 2.5 0.5 0.5 0.6 0.9 0.4 1.4 0.5 2.7 0.6 2.0 0.4 0.6 0.3 1.7 0.5 1.5 0.6 1.4 0.4 1.4 0.3 2.8 0.5 1.8 0.4 1.0 0.4 1.6 0.4 2.9 0.5 0.9 0.3 0.7 0.4 2.4 0.6 0.9 0.5 1.5 0.5 1.7 0.3 0.5 0.5 2.2 0.4 2.8 0.6 1.1 0.3 1.8 0.5 0.9 0.3 1.6 0.3 2.3 0.5 1.1 0.4 0.9 0.4 0.8 0.5 1.5 0.5 1.2 0.5 1.9 0.5 1.4 0.5 0.8 0.6 2.1 0.5 2.0 0.3 1.2 0.4 2.6 0.3 1.5 0.6 2.4 0.5 1.1 0.4 2.2 0.4 2.2 0.4 2.4 0.5 2.5 0.6 1.3 0.6 0.3 0.6 0.4 0.5 1.4 0.5 1.1 0.4 2.4 0.5 2.3 0.5 0.4 0.5 0.9 0.4 0.3 0.4 2.1 0.5 2.0 0.4 2.3 0.5 0.9 0.5 1.9 0.5 0.8 0.4 1.2 0.3 1.2 0.5 1.9 0.3 2.3 0.3 2.3 0.3 0.6 0.4 1.7 0.4 2.7 0.6 1.1 0.5 2.2 0.5 1.0 0.6 2.9 0.3 1.2 0.4 0.8 0.4 2.7 0.3 2.6 0.4 0.3 0.6 1.0 0.4 0.6 0.4 0.6 0.3 1.0 0.5 1.5 0.4 1.7 0.5 2.2 0.4 2.8 0.5 1.8 0.4 1.2 0.3 2.7 0.5 0.6 0.6 2.7 0.3 2.2 0.4 1.8 0.6 1.2 0.5 2.1 0.4 2.0 0.4 3.0 0.4 2.2 0.3 1.0 0.3 0.7 0.5 0.8 0.5 0.6 0.5 2.6 0.3 0.9 0.5 1.6 0.6 1.2 0.4 2.9 0.4 2.9 0.6 0.8 0.5 2.8 0.3 2.6 0.5 2.3 0.5 0.6 0.6 0.6 0.5 2.2 0.4 2.1 0.4 2.3 0.3 2.8 0.4 2.5 0.4 2.5 0.4 1.8 0.3 1.6 0.3 2.6 0.5 1.4 0.6 2.9 0.6 0.5 0.5 2.3 0.5 0.3 0.6 1.5 0.5 2.5 0.4 0.4 0.6 1.0 0.3 0.7 0.6 2.3 0.4 0.7 0.6 2.1 0.5 0.7 0.4 2.9 0.3 1.4 0.3 3.0 0.3 2.9 0.6 2.3 0.3 2.2 0.5 1.6 0.3 1.7 0.5 0.7 0.6 1.4 0.4 0.9 0.4 2.0 0.5 2.7 0.5 1.7 0.6 0.9 0.3 1.2 0.4 0.6 0.4 0.4 0.6 1.6 0.6 2.2 0.5 2.4 0.4 2.3 0.4 1.8 0.5 2.4 0.3 1.2 0.6 2.5 0.6 0.6 0.4 0.6 0.5 2.3 0.5 2.4 0.5 1.8 0.6 2.0"/>
<circle cx="193.7" cy="159.1" r="96.8" fill="none" stroke="#fc9a80" stroke-opacity="0.3" stroke-width="0.9" stroke-dasharray="0.5 3.7 0.5 4.6 0.5 1.0 0.4 2.7 0.4 3.5 0.4 2.5 0.4 2.4 0.6 0.8 0.3 4.4 0.4 2.9 0.5 2.4 0.4 0.4 0.6 5.7 0.4 3.0 0.4 0.6 0.6 5.1 0.4 1.8 0.5 4.8 0.4 2.5 0.4 4.8 0.6 5.2 0.3 3.7 0.6 4.4 0.4 1.1 0.3 4.5 0.3 4.9 0.5 3.0 0.6 5.6 0.5 0.9 0.5 2.7 0.4 5.6 0.5 1.0 0.4 2.2 0.5 2.1 0.4 4.9 0.3 4.4 0.4 5.7 0.6 2.2 0.5 0.9 0.4 3.9 0.5 2.2 0.3 1.0 0.5 1.3 0.4 3.8 0.6 3.2 0.4 3.6 0.4 4.8 0.3 1.8 0.4 5.5 0.3 1.4 0.3 1.5 0.4 2.5 0.5 2.6 0.4 2.6 0.5 5.5 0.4 5.5 0.4 5.9 0.5 4.2 0.4 1.9 0.3 5.3 0.4 4.3 0.4 3.3 0.4 1.3 0.4 4.2 0.5 0.3 0.5 2.8 0.3 1.8 0.4 5.0 0.5 2.2 0.4 2.0 0.4 2.3 0.5 4.8 0.5 5.3 0.5 0.9 0.3 1.2 0.4 3.3 0.6 3.6 0.4 1.7 0.6 4.6 0.4 0.6 0.6 1.8 0.6 1.0 0.5 2.3 0.6 2.0 0.3 1.4 0.5 5.9 0.5 4.2 0.4 1.9 0.3 5.9 0.3 3.8 0.4 1.4 0.4 5.6 0.4 1.2 0.5 4.0 0.5 1.3 0.6 0.9 0.3 1.7 0.5 3.0 0.5 4.4 0.6 3.0 0.3 5.0 0.3 2.1 0.3 3.7 0.5 1.0 0.4 5.2 0.5 0.9 0.5 4.8 0.4 1.2 0.5 2.1 0.3 1.2 0.4 1.0 0.4 3.4 0.5 2.6 0.5 0.8 0.4 5.6 0.6 5.5 0.5 3.4 0.5 3.6 0.3 1.8 0.3 5.3 0.4 2.6 0.5 0.9 0.5 4.8 0.5 5.3 0.4 1.1 0.5 4.2 0.4 2.3 0.3 5.0 0.4 4.9 0.4 2.1 0.5 4.5 0.6 2.3 0.5 2.6 0.6 4.6 0.5 2.4 0.4 5.3 0.5 2.0 0.3 1.4 0.6 0.5 0.5 3.3 0.5 3.4 0.4 3.5 0.3 5.5 0.3 1.1 0.5 4.0 0.5 4.2 0.6 0.6 0.3 1.6 0.5 1.2 0.5 4.7 0.3 3.3 0.6 4.6 0.4 3.0 0.4 5.8 0.5 4.2 0.4 4.5 0.5 4.8 0.4 5.3 0.5 2.9 0.5 4.9 0.5 5.8 0.3 5.4 0.5 3.1 0.6 1.1 0.4 4.4 0.6 2.4 0.6 4.0 0.3 1.0 0.3 3.5"/>
<circle cx="193.7" cy="159.1" r="94.1" fill="none" stroke="#fc9a80" stroke-opacity="0.3" stroke-width="0.8" stroke-dasharray="0.4 1.3 0.4 0.6 0.6 3.4 0.5 1.9 0.4 2.5 0.4 3.9 0.6 3.0 0.6 0.6 0.3 1.6 0.3 1.9 0.6 3.4 0.6 1.1 0.4 0.4 0.4 0.5 0.5 1.4 0.5 2.4 0.5 1.4 0.5 2.9 0.5 2.0 0.4 1.4 0.3 2.0 0.5 1.0 0.6 3.5 0.6 3.3 0.5 0.9 0.4 3.0 0.6 0.7 0.3 1.6 0.4 2.5 0.3 3.4 0.4 3.7 0.4 1.4 0.3 3.9 0.5 3.4 0.3 2.3 0.5 3.9 0.6 0.7 0.4 4.0 0.5 3.8 0.4 0.4 0.6 1.3 0.5 1.6 0.5 3.8 0.6 3.5 0.4 3.3 0.3 1.8 0.6 1.2 0.4 2.5 0.4 2.9 0.5 0.7 0.6 0.6 0.5 1.6 0.3 0.6 0.6 3.3 0.4 3.2 0.6 3.7 0.5 1.3 0.5 3.9 0.5 2.8 0.6 1.8 0.5 3.4 0.4 3.5 0.3 2.3 0.5 0.8 0.6 1.9 0.4 1.8 0.5 1.9 0.3 0.6 0.5 0.8 0.4 3.3 0.6 3.6 0.3 0.3 0.5 2.5 0.4 0.4 0.4 1.2 0.5 3.9 0.4 0.6 0.5 0.7 0.4 1.9 0.6 1.5 0.4 2.1 0.3 1.8 0.5 1.5 0.5 1.0 0.3 2.6 0.4 3.7 0.3 3.1 0.5 1.7 0.3 2.6 0.5 2.0 0.4 2.8 0.5 1.9 0.4 2.0 0.5 3.6 0.6 2.4 0.4 1.1 0.5 3.0 0.4 2.9 0.6 1.8 0.6 1.9 0.5 3.5 0.4 1.6 0.6 0.5 0.4 2.1 0.5 2.6 0.6 2.8 0.3 0.6 0.3 1.9 0.3 2.2 0.5 1.1 0.6 1.8 0.6 1.6 0.5 2.3 0.4 3.2 0.3 1.2 0.4 3.6 0.5 0.4 0.4 2.6 0.5 0.7 0.5 1.8 0.5 1.9 0.4 4.0 0.6 3.7 0.5 2.9 0.3 0.4 0.6 2.8 0.5 1.5 0.4 3.7 0.5 0.4 0.4 1.6 0.3 3.9 0.6 3.3 0.3 1.8 0.3 3.0 0.5 3.2 0.5 0.8 0.3 0.6 0.6 3.4 0.5 1.2 0.6 0.8 0.4 0.3 0.6 1.8 0.5 3.3 0.5 4.0 0.5 3.7 0.6 0.6 0.5 1.1 0.4 1.6 0.6 0.5 0.4 0.8 0.6 2.1 0.5 2.2 0.5 1.6 0.4 3.0 0.5 3.6 0.4 3.4 0.5 2.4 0.4 2.4 0.3 0.7 0.4 0.8 0.3 3.0 0.5 2.6 0.4 3.0 0.6 2.6 0.4 2.4 0.4 1.3 0.3 3.5 0.5 3.8 0.3 1.3 0.5 0.5 0.4 2.3 0.4 3.7 0.5 2.7 0.5 3.2 0.4 0.3 0.6 3.2 0.3 0.7 0.4 2.7 0.3 0.4 0.5 0.3 0.4 1.7 0.4 0.3 0.4 1.2 0.4 1.8 0.4 1.5 0.3 3.4 0.5 2.1 0.3 1.2 0.6 2.0 0.4 3.3 0.6 0.8 0.5 2.4 0.3 1.5 0.5 2.8 0.5 2.6 0.4 0.6 0.3 3.4 0.6 3.6 0.3 3.1 0.3 1.6 0.4 3.5 0.6 3.4 0.4 3.8 0.4 2.4 0.5 1.2 0.4 0.7 0.5 1.0 0.3 1.3 0.5 2.7 0.5 3.5 0.5 1.1 0.5 0.9 0.4 0.8 0.3 1.6 0.6 2.7 0.3 1.1 0.5 2.3 0.3 0.7 0.5 2.5 0.3 3.2 0.4 2.5 0.5 1.6 0.6 1.8 0.4 2.3 0.6 4.0 0.5 2.3 0.5 2.7 0.6 3.9 0.5 1.1 0.5 1.9 0.4 3.2"/>
<circle cx="193.7" cy="159.1" r="89.5" fill="none" stroke="#fb6a4a" stroke-width="6.4"/>
<circle cx="193.7" cy="159.1" r="82.7" fill="none" stroke="#fb6a4a" stroke-width="6.1"/>
<circle cx="193.7" cy="159.1" r="75.6" fill="none" stroke="#fb6c4c" stroke-width="6.6"/>
<circle cx="193.7" cy="159.1" r="68.6" fill="none" stroke="#fca086" stroke-width="6.7"/>
<circle cx="193.7" cy="159.1" r="61.4" fill="none" stroke="#fef0ec" stroke-width="6.8"/>
<circle cx="193.7" cy="159.1" r="54.5" fill="none" stroke="#6baed6" stroke-width="7"/>
<circle cx="193.7" cy="159.1" r="89.5" fill="none" stroke="#fff" stroke-opacity="0.2" stroke-width="6.4" stroke-dasharray="0.2 4.5 0.3 3.0 0.3 4.6 0.4 6.0 0.4 2.2 0.3 3.4 0.4 3.1 0.3 0.9 0.3 3.6 0.3 1.4 0.3 1.2 0.2 3.1 0.3 3.4 0.3 2.8 0.2 0.9 0.3 5.8 0.3 2.6 0.3 4.7 0.3 4.9 0.2 1.5 0.2 2.7 0.3 2.8 0.4 3.1 0.3 5.8 0.3 3.9 0.4 2.5 0.2 5.8 0.3 3.8 0.2 4.7 0.3 4.1 0.3 5.6 0.3 2.2 0.4 2.0 0.2 3.3 0.4 1.4 0.2 4.9 0.2 3.0 0.4 4.5 0.4 1.4 0.4 2.7 0.4 3.2 0.4 3.3 0.2 1.6 0.3 1.1 0.2 5.3 0.3 5.3 0.2 3.3 0.3 1.4 0.2 5.6 0.3 3.5 0.3 5.3 0.4 3.9 0.2 5.3 0.2 2.0 0.2 3.5 0.3 3.2 0.3 1.5 0.3 3.6 0.3 5.1 0.4 5.6 0.4 1.2 0.3 3.1 0.2 4.7 0.4 1.5 0.3 5.8 0.4 3.1 0.2 3.2 0.3 4.9 0.2 2.2 0.4 0.9 0.3 1.3 0.3 3.0 0.4 2.0 0.4 2.0 0.2 1.2 0.2 2.8 0.4 2.6 0.3 1.0 0.3 3.6 0.2 3.8 0.3 2.5 0.4 4.4 0.2 1.4 0.2 2.2 0.3 5.8 0.4 5.3 0.2 4.9 0.3 3.3 0.4 3.9 0.2 1.9 0.2 4.0 0.3 5.3 0.2 0.8 0.4 2.2 0.2 5.3 0.2 4.9 0.4 3.7 0.3 0.8 0.3 4.0 0.3 3.5 0.2 2.0 0.3 1.2 0.2 2.1 0.4 3.6 0.3 5.8 0.3 2.0 0.3 5.2 0.3 3.1 0.3 5.9 0.3 1.7 0.3 2.5 0.3 4.5 0.2 3.4 0.3 3.9 0.4 3.2 0.3 2.3 0.2 3.5 0.3 2.0 0.3 3.4 0.3 2.1 0.4 5.5 0.4 2.1 0.2 4.1 0.2 5.2 0.3 2.5 0.3 4.3 0.2 2.7 0.4 4.3 0.3 1.3 0.2 2.1 0.2 4.1 0.3 5.6 0.3 5.6 0.3 3.5 0.3 3.2 0.4 3.3 0.2 2.6 0.2 4.0 0.3 3.3 0.4 4.8 0.2 1.0 0.3 3.9 0.3 3.4 0.2 3.1 0.4 3.9 0.2 1.4 0.4 3.6 0.2 4.5 0.4 5.3 0.3 5.0 0.2 3.2 0.4 2.6 0.2 5.3 0.3 0.8 0.2 3.7"/>
<circle cx="193.7" cy="159.1" r="82.7" fill="none" stroke="#fff" stroke-opacity="0.2" stroke-width="6.1" stroke-dasharray="0.4 4.0 0.4 1.4 0.3 1.7 0.3 1.6 0.3 1.0 0.3 4.2 0.4 4.8 0.2 5.3 0.3 5.7 0.3 1.2 0.3 1.7 0.4 3.6 0.4 3.4 0.3 4.2 0.3 3.2 0.3 3.0 0.3 2.0 0.2 3.3 0.3 1.1 0.2 5.8 0.2 4.8 0.3 1.2 0.3 5.3 0.4 1.1 0.3 4.0 0.3 4.3 0.3 1.8 0.3 1.5 0.3 5.2 0.3 3.5 0.3 3.4 0.3 3.7 0.2 2.6 0.2 6.0 0.4 4.2 0.2 5.2 0.3 5.0 0.3 4.0 0.3 2.2 0.4 3.6 0.3 5.2 0.2 2.9 0.3 1.2 0.4 4.4 0.3 3.6 0.4 1.2 0.3 4.4 0.3 3.4 0.2 2.0 0.3 2.6 0.4 5.5 0.4 2.2 0.3 1.3 0.3 1.2 0.3 5.8 0.3 2.7 0.3 5.6 0.2 5.2 0.4 1.2 0.4 4.2 0.3 3.0 0.3 3.5 0.4 5.5 0.3 0.8 0.4 4.2 0.3 1.2 0.2 5.5 0.3 3.3 0.4 1.8 0.3 1.1 0.3 4.6 0.2 4.8 0.4 5.1 0.4 5.7 0.3 3.6 0.4 5.0 0.3 4.3 0.2 2.6 0.3 5.3 0.4 2.3 0.4 1.1 0.2 2.5 0.2 5.7 0.3 2.8 0.4 3.6 0.3 3.1 0.3 5.8 0.3 3.5 0.3 1.5 0.2 3.4 0.4 3.0 0.2 5.7 0.2 5.4 0.2 4.2 0.2 2.1 0.3 4.7 0.3 3.0 0.3 3.5 0.3 5.8 0.2 1.5 0.3 2.6 0.3 1.0 0.3 2.7 0.4 2.4 0.3 2.5 0.3 2.3 0.3 2.9 0.3 2.3 0.3 3.7 0.3 4.2 0.3 1.2 0.2 1.6 0.2 1.8 0.3 2.6 0.4 2.0 0.2 1.8 0.2 4.3 0.3 2.1 0.4 4.3 0.3 4.0 0.3 3.1 0.2 2.7 0.4 2.7 0.3 1.3 0.3 5.3 0.3 2.7 0.3 2.1 0.2 1.5 0.3 3.5 0.4 5.8 0.4 5.7 0.4 0.9 0.2 5.9 0.4 4.0 0.3 3.1 0.3 1.6 0.3 2.2 0.2 5.3 0.3 5.4 0.3 3.8 0.3 5.1 0.2 4.2 0.3 2.5"/>
<circle cx="193.7" cy="159.1" r="75.6" fill="none" stroke="#fff" stroke-opacity="0.3" stroke-width="6.6" stroke-dasharray="0.2 1.6 0.4 2.5 0.3 0.8 0.3 2.5 0.3 2.0 0.2 0.5 0.4 1.6 0.2 1.6 0.5 1.4 0.4 1.4 0.3 0.4 0.5 1.9 0.3 1.1 0.3 2.8 0.5 1.3 0.4 1.8 0.3 0.4 0.4 0.7 0.4 0.3 0.2 0.7 0.4 1.9 0.5 2.1 0.4 0.3 0.5 1.6 0.5 0.4 0.5 1.6 0.3 1.4 0.2 1.9 0.3 2.2 0.2 2.2 0.4 2.2 0.5 1.1 0.4 1.4 0.5 2.5 0.4 1.9 0.3 2.8 0.5 2.9 0.3 2.5 0.4 2.6 0.4 1.5 0.3 2.5 0.4 1.8 0.5 0.4 0.2 1.6 0.2 2.6 0.2 2.7 0.3 0.7 0.4 2.1 0.3 1.9 0.4 2.9 0.3 1.8 0.3 1.4 0.4 0.6 0.4 2.8 0.4 1.8 0.3 0.6 0.2 1.8 0.5 2.6 0.3 2.3 0.4 1.6 0.5 0.8 0.3 1.7 0.4 1.5 0.3 2.6 0.3 1.4 0.3 1.6 0.4 1.3 0.4 1.6 0.2 2.9 0.3 1.8 0.5 0.9 0.2 0.8 0.2 2.6 0.4 0.4 0.3 1.7 0.2 1.1 0.5 1.5 0.3 1.9 0.2 1.7 0.4 0.5 0.4 1.1 0.4 2.0 0.5 1.9 0.2 0.8 0.4 2.5 0.2 1.4 0.3 1.6 0.5 1.8 0.4 2.4 0.3 2.0 0.3 1.6 0.4 2.1 0.2 2.6 0.2 1.1 0.5 3.0 0.3 2.9 0.2 2.9 0.3 0.4 0.4 0.7 0.4 0.3 0.2 1.3 0.2 1.6 0.3 2.3 0.3 2.9 0.5 0.8 0.5 2.7 0.4 1.7 0.2 1.2 0.3 0.8 0.4 1.2 0.4 1.9 0.5 0.5 0.5 1.7 0.4 0.9 0.4 1.4 0.4 1.9 0.2 1.1 0.4 0.3 0.4 1.8 0.4 1.2 0.3 1.6 0.4 0.5 0.3 1.0 0.4 1.0 0.3 0.9 0.5 1.3 0.5 2.3 0.3 1.8 0.2 2.8 0.4 0.6 0.4 1.6 0.4 1.1 0.5 2.0 0.2 2.5 0.5 1.1 0.4 2.6 0.5 0.5 0.5 1.0 0.4 2.1 0.3 2.7 0.4 3.0 0.5 1.9 0.4 2.1 0.3 1.6 0.3 0.9 0.3 2.6 0.5 2.2 0.4 1.7 0.4 2.1 0.2 1.5 0.5 0.9 0.3 0.5 0.3 2.5 0.2 2.5 0.4 2.6 0.3 2.8 0.3 1.5 0.5 1.8 0.4 0.6 0.2 1.0 0.2 2.5 0.3 2.9 0.4 0.8 0.4 1.2 0.4 0.5 0.5 2.4 0.4 2.2 0.3 0.6 0.3 2.3 0.4 0.7 0.3 1.6 0.2 0.4 0.3 0.7 0.5 0.7 0.4 2.5 0.3 1.8 0.5 2.0 0.3 2.9 0.3 2.9 0.3 1.4 0.3 2.1 0.5 2.2 0.2 3.0 0.4 1.7 0.5 0.6 0.4 2.4 0.4 2.1 0.2 1.6 0.3 1.9 0.3 1.5 0.4 1.9 0.5 1.1 0.3 0.8 0.2 2.6 0.5 0.6 0.3 2.7 0.5 2.9 0.5 1.1 0.2 1.0 0.3 0.3 0.3 1.6 0.4 0.7 0.2 1.2 0.2 0.6 0.2 2.5 0.5 0.4 0.4 2.6 0.4 1.1 0.5 0.5 0.2 2.9 0.3 2.8 0.4 0.4 0.2 2.0 0.2 2.1 0.4 0.9 0.3 0.9 0.5 2.0 0.4 2.0 0.2 2.7 0.4 1.7 0.4 1.6 0.4 1.7 0.3 1.7 0.3 0.3 0.4 2.6 0.4 0.9 0.3 1.9 0.4 1.5 0.3 2.2 0.5 1.7 0.4 2.1 0.2 1.0 0.3 1.3 0.3 1.1 0.5 2.3 0.3 2.2 0.5 0.7 0.4 2.9 0.3 2.7"/>
<circle cx="193.7" cy="159.1" r="75.6" fill="none" stroke="#fff" stroke-opacity="0.5" stroke-width="6.6" stroke-dasharray="0.4 2.6 0.2 5.0 0.3 2.8 0.3 4.6 0.4 5.6 0.3 1.9 0.3 1.0 0.2 2.7 0.2 3.4 0.2 4.3 0.3 2.2 0.3 2.6 0.2 5.2 0.3 5.4 0.3 2.3 0.3 1.7 0.4 4.3 0.3 1.3 0.3 3.1 0.4 1.7 0.3 1.4 0.4 4.7 0.4 4.8 0.2 2.2 0.2 3.8 0.2 1.9 0.2 5.6 0.4 2.4 0.4 1.8 0.2 2.9 0.4 1.5 0.4 3.7 0.4 2.7 0.2 1.5 0.3 3.5 0.3 2.0 0.3 2.1 0.4 4.5 0.2 4.6 0.2 3.3 0.2 4.8 0.3 4.4 0.2 1.2 0.3 4.5 0.2 5.2 0.4 2.8 0.3 4.3 0.4 4.2 0.3 4.8 0.3 1.2 0.3 3.1 0.3 3.0 0.2 2.6 0.3 5.4 0.3 5.2 0.2 3.6 0.3 4.9 0.3 1.8 0.4 4.0 0.3 2.7 0.2 3.9 0.3 5.5 0.3 4.8 0.3 4.8 0.2 6.0 0.3 4.0 0.2 1.5 0.3 4.6 0.3 2.3 0.3 4.8 0.3 5.5 0.2 4.9 0.2 4.1 0.3 1.4 0.3 4.3 0.4 1.4 0.3 5.0 0.2 5.5 0.4 2.7 0.2 1.7 0.2 3.1 0.3 5.7 0.3 5.8 0.3 4.3 0.2 3.1 0.2 1.7 0.4 1.6 0.3 3.6 0.3 1.1 0.2 4.4 0.3 1.5 0.3 2.9 0.4 1.2 0.2 1.4 0.3 5.8 0.4 1.6 0.3 2.8 0.4 4.5 0.3 2.3 0.3 3.6 0.3 3.8 0.2 3.1 0.4 3.0 0.3 4.8 0.4 4.7 0.3 4.6 0.2 4.1 0.2 2.0 0.2 2.8 0.3 1.1 0.4 1.5 0.4 5.8 0.3 5.2 0.4 3.2 0.4 1.2 0.4 4.2 0.4 1.8 0.2 3.6 0.3 4.4 0.2 3.8 0.4 2.3 0.4 5.8 0.3 3.2 0.3 3.3 0.2 1.4 0.3 1.9 0.4 2.8 0.4 3.8 0.4 5.5"/>
<circle cx="193.7" cy="159.1" r="68.6" fill="none" stroke="#fff" stroke-opacity="0.3" stroke-width="6.7" stroke-dasharray="0.4 1.1 0.3 1.3 0.3 1.7 0.2 1.4 0.3 1.0 0.4 2.0 0.5 0.9 0.5 1.9 0.4 1.3 0.3 1.6 0.3 1.6 0.5 1.4 0.4 1.2 0.2 1.1 0.2 0.6 0.5 0.9 0.2 1.0 0.2 1.3 0.3 0.7 0.4 1.9 0.2 1.5 0.4 1.1 0.3 0.3 0.3 1.2 0.3 2.0 0.3 1.7 0.4 1.6 0.3 1.1 0.5 0.5 0.3 0.3 0.3 1.1 0.5 1.9 0.3 1.1 0.2 1.6 0.4 0.6 0.5 0.4 0.3 1.1 0.5 0.5 0.3 1.6 0.3 1.9 0.2 0.7 0.3 1.7 0.2 1.4 0.5 2.0 0.4 0.4 0.3 0.7 0.2 0.7 0.4 1.3 0.2 0.8 0.2 1.9 0.4 1.1 0.5 2.0 0.3 0.7 0.3 1.4 0.4 1.2 0.4 1.2 0.3 1.4 0.5 0.4 0.3 0.5 0.4 1.0 0.5 1.4 0.5 1.3 0.4 2.0 0.4 0.9 0.2 1.9 0.2 1.9 0.5 1.4 0.5 1.3 0.4 1.3 0.3 0.4 0.4 1.1 0.2 1.2 0.3 0.8 0.5 1.4 0.4 1.7 0.3 1.1 0.3 0.9 0.4 1.8 0.3 1.5 0.3 0.3 0.4 1.6 0.3 2.0 0.4 0.8 0.4 1.7 0.2 1.9 0.3 0.8 0.3 1.2 0.4 0.8 0.2 1.4 0.4 1.5 0.3 1.8 0.2 0.5 0.2 1.2 0.4 0.7 0.4 0.3 0.2 1.9 0.5 0.4 0.4 1.2 0.4 1.7 0.4 1.9 0.4 1.9 0.2 1.7 0.3 1.9 0.4 1.9 0.4 1.0 0.4 1.6 0.2 1.2 0.4 1.5 0.3 1.3 0.4 0.9 0.4 1.8 0.3 1.2 0.3 1.7 0.3 0.8 0.3 1.4 0.2 2.0 0.3 1.5 0.3 0.3 0.3 1.3 0.2 2.0 0.4 1.1 0.2 0.7 0.3 1.4 0.2 1.1 0.3 1.3 0.4 1.2 0.4 1.4 0.2 1.4 0.3 1.6 0.5 0.9 0.5 0.7 0.4 0.3 0.5 1.1 0.3 1.1 0.3 0.7 0.4 1.4 0.2 0.8 0.5 0.8 0.3 1.3 0.3 1.9 0.5 0.5 0.3 0.6 0.3 0.8 0.4 1.8 0.2 0.3 0.2 0.8 0.2 1.0 0.3 1.5 0.5 2.0 0.3 1.4 0.2 1.3 0.5 1.8 0.2 0.6 0.5 1.5 0.4 0.4 0.4 0.3 0.4 1.6 0.3 0.3 0.4 2.0 0.4 0.9 0.3 1.7 0.5 0.9 0.3 2.0 0.3 1.1 0.3 1.5 0.5 1.1 0.5 1.0 0.3 1.7 0.5 1.6 0.4 1.7 0.5 1.9 0.4 1.0 0.2 1.2 0.3 0.3 0.5 0.8 0.5 0.3 0.3 1.6 0.4 1.4 0.3 0.5 0.5 1.6 0.3 1.3 0.4 1.1 0.3 1.1 0.4 1.6 0.3 1.6 0.3 1.4 0.3 1.8 0.5 1.6 0.3 0.9 0.3 1.3 0.2 1.2 0.5 0.4 0.5 1.3 0.5 1.5 0.4 1.6 0.3 0.5 0.5 1.8 0.4 0.7 0.3 1.2 0.3 1.1 0.3 2.0 0.4 2.0 0.5 0.6 0.4 0.9 0.4 1.3 0.4 0.8 0.4 0.9 0.4 1.1 0.4 2.0 0.3 0.3 0.5 1.2 0.4 1.7 0.5 1.0 0.5 1.0 0.4 1.7 0.3 1.0 0.3 0.9 0.3 1.7 0.2 2.0 0.4 1.2 0.4 0.8 0.4 1.8 0.3 1.1 0.3 0.7 0.5 1.4 0.3 1.4 0.3 0.3 0.3 1.3 0.3 1.2 0.3 0.8 0.4 0.9 0.4 1.6 0.3 0.3 0.5 1.2 0.4 1.5 0.4 1.8 0.2 1.9 0.4 1.0 0.5 1.8 0.4 0.3 0.4 1.0 0.4 1.7 0.2 1.7 0.3 0.7 0.2 0.5 0.3 1.2 0.5 0.6 0.3 0.9 0.4 0.9 0.4 0.6 0.2 1.3 0.4 0.5 0.2 1.4 0.2 1.9 0.4 0.6 0.3 0.4 0.2 0.9 0.5 1.9 0.4 1.4 0.4 1.2 0.4 1.1 0.3 1.7 0.3 1.0 0.4 1.9 0.3 1.0 0.3 0.7 0.3 1.6 0.3 1.1 0.3 1.3 0.4 0.5 0.3 0.6 0.4 1.4 0.3 0.7 0.3 0.9 0.5 1.8 0.4 1.0"/>
<circle cx="193.7" cy="159.1" r="68.6" fill="none" stroke="#fff" stroke-opacity="0.6" stroke-width="6.7" stroke-dasharray="0.3 1.4 0.3 3.8 0.2 2.1 0.3 3.5 0.3 2.4 0.2 3.0 0.3 3.4 0.4 3.2 0.3 1.6 0.4 1.0 0.5 3.1 0.3 2.0 0.2 2.6 0.4 1.2 0.2 3.0 0.3 3.3 0.3 3.9 0.5 1.8 0.4 2.7 0.3 3.4 0.4 3.4 0.3 2.4 0.4 2.7 0.2 3.4 0.3 1.3 0.5 2.6 0.4 3.2 0.4 3.7 0.2 1.9 0.2 2.8 0.3 0.9 0.2 1.4 0.4 2.3 0.3 0.8 0.4 1.6 0.2 1.0 0.2 2.1 0.2 2.3 0.2 3.1 0.5 1.8 0.2 3.9 0.2 2.9 0.4 2.4 0.5 1.3 0.4 3.7 0.5 3.5 0.3 2.4 0.5 2.0 0.3 0.9 0.3 1.2 0.5 1.8 0.3 3.9 0.4 2.2 0.2 2.0 0.3 3.8 0.3 3.9 0.3 0.9 0.5 1.0 0.4 2.7 0.3 3.5 0.3 4.0 0.4 3.8 0.5 2.0 0.4 3.1 0.4 0.9 0.4 3.2 0.3 1.1 0.2 2.5 0.2 3.5 0.3 4.0 0.4 2.2 0.2 2.2 0.4 3.6 0.5 1.8 0.2 2.9 0.4 2.9 0.4 3.4 0.4 3.4 0.2 3.8 0.4 1.1 0.2 2.9 0.3 3.8 0.3 2.4 0.3 3.8 0.3 3.6 0.4 2.6 0.5 3.6 0.4 2.5 0.2 1.5 0.4 1.2 0.4 1.9 0.3 3.4 0.5 3.2 0.3 2.5 0.5 3.8 0.4 1.1 0.5 0.9 0.2 2.9 0.3 3.2 0.4 1.3 0.5 4.0 0.4 3.9 0.4 2.3 0.5 3.8 0.4 1.1 0.3 3.0 0.3 1.3 0.3 1.2 0.3 1.1 0.4 1.5 0.5 1.1 0.4 2.9 0.3 2.8 0.4 2.8 0.3 2.3 0.5 2.8 0.3 1.9 0.5 1.0 0.3 2.4 0.3 0.8 0.2 3.5 0.3 1.7 0.3 1.0 0.2 3.5 0.4 1.4 0.3 1.1 0.3 2.5 0.4 2.4 0.5 4.0 0.4 0.9 0.2 3.0 0.2 3.7 0.2 1.0 0.5 2.1 0.4 2.7 0.2 1.9 0.3 3.2 0.4 3.0 0.2 2.3 0.5 1.4 0.3 2.8 0.5 0.9 0.4 2.3 0.4 3.5 0.2 2.7 0.3 3.2 0.4 2.1 0.2 3.2 0.4 2.6 0.4 3.8 0.3 3.0 0.4 1.6 0.5 1.8"/>
<circle cx="193.7" cy="159.1" r="68.6" fill="none" stroke="#fb6a4a" stroke-opacity="0.5" stroke-width="6.7" stroke-dasharray="0.5 2.5 0.5 3.6 0.4 1.8 0.3 2.6 0.4 2.0 0.5 1.3 0.4 1.0 0.2 1.5 0.2 2.5 0.4 1.9 0.4 2.4 0.4 0.8 0.3 0.6 0.2 3.5 0.2 2.6 0.3 2.9 0.5 3.4 0.5 3.9 0.3 4.0 0.4 1.5 0.3 2.3 0.5 0.8 0.5 2.9 0.4 1.9 0.3 1.9 0.4 2.0 0.4 3.6 0.2 0.6 0.5 1.2 0.4 1.9 0.3 0.5 0.3 2.6 0.2 0.5 0.3 3.6 0.4 1.4 0.3 2.0 0.4 1.5 0.3 2.3 0.3 2.0 0.4 2.3 0.2 1.7 0.4 1.3 0.3 2.5 0.3 1.1 0.5 0.7 0.5 0.8 0.4 2.4 0.3 2.7 0.5 1.6 0.2 1.2 0.5 2.6 0.4 1.9 0.3 2.9 0.4 3.7 0.2 1.7 0.4 3.7 0.3 3.3 0.2 2.7 0.3 2.9 0.3 1.1 0.3 3.0 0.4 3.7 0.3 0.7 0.4 1.4 0.4 2.2 0.3 0.6 0.3 3.1 0.3 3.6 0.4 2.4 0.5 0.5 0.3 2.4 0.2 3.5 0.2 2.5 0.3 1.8 0.3 1.5 0.2 2.8 0.4 0.8 0.5 0.9 0.3 1.5 0.3 2.2 0.5 0.8 0.4 2.7 0.3 1.7 0.3 3.6 0.4 2.2 0.2 1.8 0.5 2.0 0.3 2.7 0.2 2.8 0.4 0.9 0.3 3.5 0.3 2.4 0.3 2.4 0.3 1.7 0.5 2.9 0.5 1.7 0.3 1.8 0.5 1.8 0.4 1.1 0.4 1.4 0.5 1.8 0.5 2.5 0.3 2.4 0.5 2.9 0.5 2.5 0.4 1.0 0.5 2.7 0.4 1.6 0.4 2.4 0.3 4.0 0.4 2.9 0.5 2.9 0.3 3.8 0.5 2.9 0.3 2.2 0.2 3.6 0.5 2.6 0.3 3.3 0.2 1.9 0.3 2.6 0.3 2.6 0.5 1.9 0.2 0.6 0.5 2.1 0.3 0.6 0.2 0.5 0.5 0.7 0.3 2.2 0.4 1.3 0.4 2.7 0.5 0.8 0.3 0.9 0.3 1.2 0.2 3.3 0.3 3.1 0.4 3.3 0.2 2.5 0.5 2.7 0.4 2.0 0.5 2.4 0.3 2.2 0.3 1.2 0.4 3.4 0.4 0.5 0.3 3.2 0.2 2.3 0.4 2.4 0.3 0.6 0.4 1.1 0.4 2.3 0.4 0.9 0.5 3.1 0.5 1.1 0.4 1.8 0.4 2.9 0.3 3.8 0.3 2.1 0.4 1.0 0.5 1.7 0.5 1.0 0.2 2.6 0.3 2.0 0.3 3.0 0.4 2.9 0.2 0.7 0.4 0.8 0.4 2.4 0.5 3.4 0.4 3.4 0.3 1.5 0.2 3.0 0.4 2.7 0.3 2.1"/>
<circle cx="193.7" cy="159.1" r="61.4" fill="none" stroke="#fb6a4a" stroke-opacity="0.3" stroke-width="6.8" stroke-dasharray="0.4 1.6 0.2 3.4 0.3 3.2 0.4 1.8 0.2 2.0 0.3 1.7 0.4 1.2 0.4 1.1 0.3 3.0 0.2 2.7 0.2 1.7 0.3 1.2 0.4 3.3 0.4 1.0 0.2 1.8 0.3 2.1 0.4 3.5 0.3 1.3 0.3 0.7 0.3 2.8 0.3 1.1 0.3 3.2 0.3 0.8 0.3 1.2 0.4 1.8 0.3 3.1 0.3 1.9 0.4 1.4 0.3 2.5 0.3 2.4 0.3 3.0 0.3 2.7 0.3 2.6 0.3 0.9 0.3 1.5 0.2 2.8 0.3 1.9 0.3 0.7 0.2 2.6 0.2 3.1 0.3 3.4 0.4 1.7 0.3 1.8 0.3 1.9 0.3 3.5 0.3 2.0 0.3 2.0 0.3 1.8 0.4 3.5 0.3 2.2 0.2 2.2 0.4 1.2 0.3 1.3 0.3 1.4 0.3 2.8 0.2 3.0 0.3 1.2 0.3 2.2 0.3 1.0 0.2 1.2 0.3 1.7 0.3 2.7 0.3 2.3 0.2 2.3 0.3 1.2 0.3 0.9 0.4 2.1 0.4 2.5 0.2 2.7 0.3 1.6 0.3 2.8 0.3 1.1 0.4 3.2 0.3 3.3 0.4 1.5 0.2 1.2 0.3 0.9 0.2 2.7 0.2 2.3 0.3 2.6 0.2 1.9 0.2 0.6 0.4 1.6 0.3 3.3 0.3 2.1 0.2 1.7 0.4 3.0 0.4 3.2 0.2 0.7 0.2 2.5 0.3 1.6 0.3 1.2 0.3 1.8 0.2 2.8 0.2 2.9 0.3 1.8 0.3 1.1 0.2 2.6 0.3 2.2 0.3 1.3 0.2 2.8 0.3 1.0 0.4 1.0 0.2 1.0 0.3 2.8 0.2 3.3 0.3 3.0 0.3 1.8 0.2 1.3 0.4 1.4 0.4 3.0 0.4 0.9 0.3 3.0 0.3 1.2 0.2 2.1 0.3 1.1 0.2 2.4 0.2 2.9 0.4 1.8 0.2 2.2 0.3 0.8 0.3 2.2 0.2 1.2 0.3 3.2 0.3 2.3 0.2 1.9 0.3 1.4 0.3 2.1 0.2 0.9 0.3 0.9 0.3 2.3 0.3 3.2 0.3 2.8 0.2 3.1 0.4 2.3 0.4 2.1 0.3 1.0 0.3 2.6 0.4 3.2 0.3 3.3 0.3 0.6 0.3 2.1 0.3 1.2 0.2 2.7 0.2 3.1 0.3 0.9 0.3 2.8 0.2 3.4 0.2 0.9 0.3 2.5 0.3 3.3 0.2 0.6 0.3 1.6 0.3 1.7 0.4 1.4 0.3 2.2 0.3 3.2 0.2 1.4 0.2 2.6 0.3 1.6 0.2 2.3 0.3 2.1 0.3 0.5 0.2 3.0 0.4 0.8 0.2 1.8"/>
<circle cx="193.7" cy="159.1" r="61.4" fill="none" stroke="#fb6a4a" stroke-opacity="0.6" stroke-width="6.8" stroke-dasharray="0.3 4.5 0.3 2.7 0.3 2.5 0.3 9.8 0.3 9.3 0.2 9.6 0.3 4.2 0.3 9.3 0.2 5.1 0.3 6.6 0.3 5.5 0.3 3.3 0.2 9.0 0.2 9.2 0.3 6.6 0.2 2.0 0.2 8.6 0.3 9.7 0.2 9.5 0.3 4.9 0.3 8.6 0.3 4.3 0.2 3.5 0.2 3.5 0.3 4.5 0.2 9.0 0.3 2.0 0.2 6.4 0.2 6.5 0.2 5.8 0.3 6.3 0.2 8.7 0.3 8.5 0.3 9.8 0.3 6.3 0.3 8.3 0.2 3.8 0.3 6.3 0.3 4.7 0.2 5.1 0.3 2.8 0.3 6.8 0.3 4.6 0.3 9.6 0.3 6.5 0.2 7.2 0.3 7.4 0.3 5.1 0.3 4.8 0.2 2.8 0.3 3.4 0.2 4.4 0.3 5.3 0.3 6.2 0.3 5.2 0.3 8.5 0.3 6.1 0.2 3.5 0.2 2.7 0.2 2.3 0.3 6.6 0.2 8.1"/>
<circle cx="193.7" cy="159.1" r="61.4" fill="none" stroke="#b8d0e8" stroke-opacity="0.3" stroke-width="6.8" stroke-dasharray="0.3 8.2 0.3 9.9 0.3 3.2 0.3 4.7 0.3 5.7 0.2 2.3 0.4 3.2 0.2 11.3 0.2 6.1 0.3 8.8 0.4 11.7 0.3 2.8 0.2 2.0 0.2 8.2 0.4 3.0 0.2 10.9 0.3 6.0 0.2 2.6 0.2 8.2 0.2 7.0 0.4 2.0 0.3 6.1 0.3 9.4 0.3 6.3 0.3 8.3 0.3 11.3 0.3 7.9 0.3 6.8 0.3 8.6 0.3 12.0 0.3 6.9 0.4 10.2 0.3 5.0 0.2 6.2 0.3 6.3 0.2 6.8 0.3 3.0 0.3 9.1 0.2 4.5 0.2 6.7 0.3 6.1 0.3 8.1 0.2 2.5 0.3 11.2 0.3 6.5 0.2 3.3 0.3 9.7 0.3 2.9 0.3 9.1 0.3 6.0 0.4 5.9 0.2 4.0 0.4 9.1 0.2 4.9 0.3 6.8 0.2 11.2"/>
<circle cx="193.7" cy="159.1" r="54.5" fill="none" stroke="#b0d2ea" stroke-opacity="0.6" stroke-width="7" stroke-dasharray="0.3 1.1 0.2 1.9 0.4 2.3 0.4 2.7 0.4 0.6 0.3 1.9 0.3 1.0 0.2 2.6 0.4 1.2 0.3 2.7 0.2 2.0 0.3 2.8 0.4 2.9 0.3 1.7 0.3 1.3 0.4 2.9 0.5 2.8 0.3 2.1 0.4 1.5 0.4 2.5 0.3 1.3 0.4 0.8 0.3 0.9 0.2 2.8 0.5 2.5 0.3 2.3 0.4 1.6 0.3 0.7 0.3 1.3 0.3 2.1 0.3 1.0 0.4 2.4 0.4 2.4 0.2 1.7 0.4 2.5 0.3 1.6 0.3 0.4 0.3 2.3 0.4 1.6 0.3 1.8 0.3 0.6 0.4 2.4 0.3 2.4 0.4 2.2 0.4 2.9 0.2 2.9 0.3 2.4 0.4 0.7 0.3 0.6 0.4 1.3 0.3 1.1 0.4 2.1 0.3 2.3 0.2 2.5 0.3 2.4 0.3 3.0 0.4 1.6 0.3 1.9 0.3 1.2 0.4 2.5 0.4 2.2 0.3 1.4 0.4 2.1 0.4 2.3 0.3 1.1 0.2 2.4 0.3 1.4 0.2 1.7 0.4 1.1 0.4 2.4 0.4 1.9 0.3 2.1 0.3 2.9 0.3 1.3 0.4 2.0 0.3 2.1 0.2 0.9 0.4 1.6 0.4 1.0 0.3 1.0 0.4 1.9 0.3 1.4 0.2 0.9 0.4 1.2 0.2 1.4 0.3 3.0 0.3 1.4 0.4 2.3 0.3 1.4 0.3 0.8 0.3 2.1 0.2 1.6 0.2 2.0 0.3 2.1 0.4 1.4 0.3 0.6 0.2 2.0 0.4 0.8 0.4 2.8 0.3 1.8 0.4 1.3 0.3 2.3 0.3 1.5 0.3 0.7 0.3 1.2 0.2 1.8 0.4 1.8 0.3 2.1 0.3 3.0 0.2 0.4 0.3 2.2 0.3 1.4 0.3 1.0 0.4 2.6 0.3 1.9 0.3 0.7 0.4 1.8 0.5 2.8 0.4 1.1 0.2 2.5 0.2 2.2 0.2 2.2 0.2 0.6 0.4 1.7 0.3 2.9 0.4 1.0 0.4 1.4 0.3 1.2 0.3 1.2 0.3 0.9 0.4 1.4 0.3 2.5 0.4 0.8 0.4 2.8 0.4 1.3 0.4 2.1 0.2 1.4 0.4 1.8 0.4 2.5 0.4 3.0 0.3 2.8 0.2 2.5 0.2 1.7 0.3 0.6 0.4 2.5 0.3 1.0 0.4 1.8 0.2 1.2 0.4 1.1 0.3 1.6 0.4 2.5 0.3 2.1 0.2 0.6 0.3 2.0 0.2 0.5 0.4 0.9 0.2 0.6 0.2 1.1 0.3 2.1 0.3 1.7 0.3 1.9 0.2 2.0 0.2 2.8 0.2 1.8"/>
<path d="M220.7 233.3A79 79 0 0 1 185.4 237.7L186.9 223.6A64.9 64.9 0 0 0 215.9 220.1Z" fill="#fff" fill-opacity="0.2"/>
<path d="M215.9 220A64.8 64.8 0 0 1 186.9 223.5L187.6 216.8A58 58 0 0 0 213.5 213.6Z" fill="#fff" fill-opacity="0.2"/>
<path d="M216.6 234.7A79 79 0 0 1 189.7 238L190.4 223.9A64.9 64.9 0 0 0 212.5 221.2Z" fill="#fff" fill-opacity="0.2"/>
<path d="M212.5 221.1A64.8 64.8 0 0 1 190.4 223.8L190.8 217A58 58 0 0 0 210.5 214.6Z" fill="#fff" fill-opacity="0.2"/>
<path d="M212.5 235.8A79 79 0 0 1 194 238.1L194 224A64.9 64.9 0 0 0 209.1 222.1Z" fill="#fff" fill-opacity="0.2"/>
<path d="M209.1 222A64.8 64.8 0 0 1 194 223.9L193.9 217.1A58 58 0 0 0 207.5 215.4Z" fill="#fff" fill-opacity="0.2"/>
<path d="M208.3 236.7A79 79 0 0 1 198.3 238L197.5 223.9A64.9 64.9 0 0 0 205.7 222.9Z" fill="#fff" fill-opacity="0.2"/>
<path d="M205.7 222.8A64.8 64.8 0 0 1 197.5 223.8L197.1 217A58 58 0 0 0 204.4 216.1Z" fill="#fff" fill-opacity="0.2"/>
<path d="M215.9 227.5A71.9 71.9 0 0 1 188.7 230.8" fill="none" stroke="#c8d8ea" stroke-opacity="0.7" stroke-width="14" stroke-dasharray="0.2 2.3 0.2 2.9 0.4 3.5 0.4 2.4 0.3 2.0 0.3 2.5 0.4 1.2 0.3 2.0 0.3 1.8 0.3 2.5 0.3 2.3"/>
<path d="M149.5 224.6A79 79 0 0 1 126.7 201L138.7 193.5A64.9 64.9 0 0 0 157.4 212.9Z" fill="#fff" fill-opacity="0.2"/>
<path d="M157.5 212.8A64.8 64.8 0 0 1 138.7 193.4L144.5 189.8A58 58 0 0 0 161.3 207.2Z" fill="#fff" fill-opacity="0.2"/>
<path d="M146.3 222.3A79 79 0 0 1 128.9 204.3L140.5 196.2A64.9 64.9 0 0 0 154.8 211Z" fill="#fff" fill-opacity="0.2"/>
<path d="M154.8 210.9A64.8 64.8 0 0 1 140.5 196.2L146.1 192.3A58 58 0 0 0 158.9 205.5Z" fill="#fff" fill-opacity="0.2"/>
<path d="M143.2 219.8A79 79 0 0 1 131.2 207.5L142.4 198.8A64.9 64.9 0 0 0 152.2 209Z" fill="#fff" fill-opacity="0.2"/>
<path d="M152.3 208.9A64.8 64.8 0 0 1 142.5 198.8L147.8 194.6A58 58 0 0 0 156.6 203.7Z" fill="#fff" fill-opacity="0.2"/>
<path d="M140.2 217.2A79 79 0 0 1 133.8 210.6L144.5 201.4A64.9 64.9 0 0 0 149.7 206.8Z" fill="#fff" fill-opacity="0.2"/>
<path d="M149.8 206.8A64.8 64.8 0 0 1 144.5 201.3L149.7 196.9A58 58 0 0 0 154.4 201.8Z" fill="#fff" fill-opacity="0.2"/>
<path d="M151.4 217.3A71.9 71.9 0 0 1 134.1 199.3" fill="none" stroke="#c8d8ea" stroke-opacity="0.6" stroke-width="14" stroke-dasharray="0.2 1.3 0.4 1.2 0.3 3.0 0.2 3.8 0.2 3.9 0.3 2.8 0.3 1.3 0.3 3.2 0.4 3.2"/>
<path d="M268.8 183.5A79 79 0 0 1 256 207.7L244.8 199.1A64.9 64.9 0 0 0 255.4 179.2Z" fill="#fff" fill-opacity="0.1"/>
<path d="M255.3 179.1A64.8 64.8 0 0 1 244.8 199L239.4 194.8A58 58 0 0 0 248.9 177Z" fill="#fff" fill-opacity="0.1"/>
<path d="M267.7 186.6A79 79 0 0 1 257.9 205.1L246.5 196.9A64.9 64.9 0 0 0 254.5 181.7Z" fill="#fff" fill-opacity="0.1"/>
<path d="M254.4 181.7A64.8 64.8 0 0 1 246.4 196.8L240.9 192.9A58 58 0 0 0 248.1 179.3Z" fill="#fff" fill-opacity="0.1"/>
<path d="M266.5 189.7A79 79 0 0 1 259.8 202.4L248 194.6A64.9 64.9 0 0 0 253.5 184.2Z" fill="#fff" fill-opacity="0.1"/>
<path d="M253.4 184.2A64.8 64.8 0 0 1 247.9 194.6L242.2 190.9A58 58 0 0 0 247.2 181.6Z" fill="#fff" fill-opacity="0.1"/>
<path d="M265.2 192.7A79 79 0 0 1 261.6 199.6L249.4 192.3A64.9 64.9 0 0 0 252.4 186.7Z" fill="#fff" fill-opacity="0.1"/>
<path d="M252.3 186.7A64.8 64.8 0 0 1 249.4 192.3L243.5 188.8A58 58 0 0 0 246.2 183.8Z" fill="#fff" fill-opacity="0.1"/>
<path d="M261.3 183.7A71.9 71.9 0 0 1 251.9 201.4" fill="none" stroke="#c8d8ea" stroke-opacity="0.4" stroke-width="14" stroke-dasharray="0.3 1.4 0.3 2.5 0.2 3.3 0.2 2.7 0.2 1.5 0.4 2.9 0.3 2.8 0.3 3.6"/>
<path d="M227.1 87.5A79 79 0 0 1 249.6 103.2L239.6 113.2A64.9 64.9 0 0 0 221.1 100.3Z" fill="#fff" fill-opacity="0.1"/>
<path d="M221.1 100.4A64.8 64.8 0 0 1 239.5 113.3L234.7 118.1A58 58 0 0 0 218.2 106.5Z" fill="#fff" fill-opacity="0.1"/>
<path d="M230.1 89A79 79 0 0 1 247.2 100.9L237.6 111.3A64.9 64.9 0 0 0 223.6 101.5Z" fill="#fff" fill-opacity="0.1"/>
<path d="M223.5 101.6A64.8 64.8 0 0 1 237.6 111.4L233 116.4A58 58 0 0 0 220.4 107.6Z" fill="#fff" fill-opacity="0.1"/>
<path d="M233 90.5A79 79 0 0 1 244.7 98.8L235.6 109.5A64.9 64.9 0 0 0 226 102.8Z" fill="#fff" fill-opacity="0.1"/>
<path d="M225.9 102.9A64.8 64.8 0 0 1 235.5 109.6L231.1 114.8A58 58 0 0 0 222.5 108.8Z" fill="#fff" fill-opacity="0.1"/>
<path d="M235.8 92.3A79 79 0 0 1 242.1 96.7L233.5 107.8A64.9 64.9 0 0 0 228.3 104.2Z" fill="#fff" fill-opacity="0.1"/>
<path d="M228.2 104.3A64.8 64.8 0 0 1 233.4 107.9L229.2 113.3A58 58 0 0 0 224.6 110Z" fill="#fff" fill-opacity="0.1"/>
<path d="M226.3 95A71.9 71.9 0 0 1 242.7 106.5" fill="none" stroke="#c8d8ea" stroke-opacity="0.3" stroke-width="14" stroke-dasharray="0.2 2.1 0.2 2.8 0.3 3.8 0.2 1.8 0.4 3.2 0.3 2.1 0.3 1.4 0.3 1.7"/>
<path d="M160.3 87.5A79 79 0 0 1 180 81.3L182.4 95.2A64.9 64.9 0 0 0 166.3 100.3Z" fill="#fff" fill-opacity="0.1"/>
<path d="M166.3 100.4A64.8 64.8 0 0 1 182.4 95.3L183.6 102A58 58 0 0 0 169.2 106.5Z" fill="#fff" fill-opacity="0.1"/>
<path d="M162.6 86.5A79 79 0 0 1 177.5 81.8L180.4 95.6A64.9 64.9 0 0 0 168.1 99.4Z" fill="#fff" fill-opacity="0.1"/>
<path d="M168.2 99.5A64.8 64.8 0 0 1 180.4 95.7L181.8 102.3A58 58 0 0 0 170.9 105.8Z" fill="#fff" fill-opacity="0.1"/>
<path d="M164.9 85.5A79 79 0 0 1 175.1 82.3L178.4 96A64.9 64.9 0 0 0 170 98.7Z" fill="#fff" fill-opacity="0.1"/>
<path d="M170.1 98.8A64.8 64.8 0 0 1 178.5 96.1L180.1 102.7A58 58 0 0 0 172.5 105.1Z" fill="#fff" fill-opacity="0.1"/>
<path d="M167.2 84.7A79 79 0 0 1 172.7 82.9L176.5 96.5A64.9 64.9 0 0 0 171.9 98Z" fill="#fff" fill-opacity="0.1"/>
<path d="M172 98.1A64.8 64.8 0 0 1 176.5 96.6L178.3 103.2A58 58 0 0 0 174.2 104.5Z" fill="#fff" fill-opacity="0.1"/>
<path d="M165.6 92.9A71.9 71.9 0 0 1 178.8 88.8" fill="none" stroke="#c8d8ea" stroke-opacity="0.3" stroke-width="14" stroke-dasharray="0.4 1.2 0.4 3.6 0.2 1.5 0.4 3.5 0.3 3.4"/>
<path d="M119.5 132.1A79 79 0 0 1 125.3 119.6L137.5 126.6A64.9 64.9 0 0 0 132.7 136.9Z" fill="#fff" fill-opacity="0.1"/>
<path d="M132.8 136.9A64.8 64.8 0 0 1 137.6 126.7L143.5 130.1A58 58 0 0 0 139.2 139.3Z" fill="#fff" fill-opacity="0.1"/>
<path d="M120 130.5A79 79 0 0 1 124.5 121L136.8 127.8A64.9 64.9 0 0 0 133.2 135.6Z" fill="#fff" fill-opacity="0.1"/>
<path d="M133.3 135.7A64.8 64.8 0 0 1 136.9 127.9L142.9 131.2A58 58 0 0 0 139.6 138.1Z" fill="#fff" fill-opacity="0.1"/>
<path d="M120.7 129A79 79 0 0 1 123.7 122.5L136.2 129A64.9 64.9 0 0 0 133.7 134.4Z" fill="#fff" fill-opacity="0.1"/>
<path d="M133.8 134.4A64.8 64.8 0 0 1 136.3 129.1L142.3 132.2A58 58 0 0 0 140.1 137Z" fill="#fff" fill-opacity="0.1"/>
<path d="M121.3 127.5A79 79 0 0 1 122.9 124L135.6 130.2A64.9 64.9 0 0 0 134.2 133.1Z" fill="#fff" fill-opacity="0.1"/>
<path d="M134.3 133.2A64.8 64.8 0 0 1 135.7 130.3L141.7 133.3A58 58 0 0 0 140.6 135.9Z" fill="#fff" fill-opacity="0.1"/>
<path d="M127 132.2A71.9 71.9 0 0 1 130.2 125.3" fill="none" stroke="#c8d8ea" stroke-opacity="0.2" stroke-width="14" stroke-dasharray="0.3 1.7 0.3 2.2 0.2 3.5"/>
<circle cx="193.7" cy="159.1" r="86.0" fill="none" stroke="#fff" stroke-width="0.55"/>
<circle cx="193.7" cy="159.1" r="79.3" fill="none" stroke="#fff" stroke-width="0.55"/>
<circle cx="193.7" cy="159.1" r="72.0" fill="none" stroke="#fff" stroke-width="0.55"/>
<circle cx="193.7" cy="159.1" r="64.9" fill="none" stroke="#fff" stroke-width="0.55"/>
<circle cx="193.7" cy="159.1" r="58.0" fill="none" stroke="#fff" stroke-width="0.55"/>
<circle cx="193.7" cy="159.1" r="44.9" fill="none" stroke="#a4a4a4" stroke-width="2.9"/>
<circle cx="193.7" cy="159.1" r="38.5" fill="none" stroke="#a4a4a4" stroke-width="2.9"/>
<circle cx="193.7" cy="159.1" r="44.6" fill="none" stroke="#7a7a7a" stroke-opacity="0.5" stroke-width="1.1" stroke-dasharray="0.9 0.6 0.7 1.1 0.6 0.6 0.8 1.4 0.4 0.6 0.7 1.5 1.2 0.3 0.9 0.5 0.5 0.5 0.8 1.5 1.2 0.7 1.1 1.1 0.4 1.4 0.6 1.5 0.4 1.4 0.8 0.9 0.5 0.9 1.0 1.0 1.2 0.9 1.1 0.5 1.0 1.0 1.1 0.7 0.7 1.3 0.5 0.8 1.1 1.1 0.7 0.3 1.0 0.8 0.5 0.8 0.4 1.3 1.0 1.5 0.9 0.5 0.7 1.5 0.3 0.7 0.4 0.5 0.6 1.0 0.4 1.3 0.7 0.5 0.4 0.9 0.6 0.9 0.4 0.7 0.8 0.4 0.8 1.3 0.8 0.5 0.9 0.4 0.4 0.3 0.8 0.5 0.6 0.4 1.1 0.5 0.9 1.3 0.7 1.0 0.6 1.3 0.9 0.4 0.9 0.5 0.7 0.5 0.7 1.1 1.0 0.7 0.3 0.8 1.1 1.0 0.9 1.2 0.9 1.4 1.2 1.2 1.0 0.5 0.5 1.1 0.8 1.3 1.0 0.7 0.5 1.1 0.4 0.9 0.6 0.8 0.9 1.1 0.9 0.4 1.1 1.1 1.1 1.0 0.9 1.4 1.0 1.1 0.3 0.3 0.9 1.3 0.7 0.6 0.7 1.3 1.0 0.5 0.5 0.6 1.0 0.6 1.1 0.8 0.5 0.8 0.4 1.4 0.3 0.8 0.6 0.3 0.5 1.5 1.1 0.8 1.1 1.4 1.1 1.2 0.8 0.9 0.9 1.0 1.2 0.5 1.1 1.2 0.7 1.3 0.6 0.8 0.8 1.5 0.5 1.3 0.9 1.4 0.6 1.1 1.1 1.4 0.9 1.3 0.9 1.0 0.5 0.9 1.2 1.4 0.3 0.7 0.5 1.3 0.5 1.2 0.5 0.7 1.2 0.5 0.8 0.6 1.0 0.4 0.9 0.6 1.2 0.7 0.9 0.3 1.1 1.1 1.1 1.2 0.3 1.2 0.6 0.5 1.1 1.1 0.6 0.4 0.9 0.4 0.5 0.4 0.5 1.2 0.5 1.5 0.6 1.3 1.0 1.1 0.8 0.5 1.1 1.4 0.8 0.5 0.4 0.6 1.2 0.7 0.6 0.9 0.3 1.2 1.0 0.7 0.3 1.4 1.0 1.2 0.5 1.4 0.9 0.3 1.2 1.1 0.5 1.4 0.8 1.1 0.3 0.6 1.0 0.3 0.5 0.4 0.8 0.5 1.0 0.8 1.0 1.4 1.2 0.5 0.6 1.2 0.6 1.4 0.6 1.1 0.5 1.2 0.6 0.8 0.9 1.3 0.4 0.5 0.5 1.2 0.9 1.2 1.0 0.6 0.8 0.3 0.6 1.0 0.5 1.2 0.5 0.8 0.9 0.6 0.9 0.8 0.3 0.4 0.9 1.3 0.9 1.3"/>
<circle cx="193.7" cy="159.1" r="38.2" fill="none" stroke="#7a7a7a" stroke-opacity="0.5" stroke-width="1.1" stroke-dasharray="0.9 1.2 1.1 1.0 0.8 0.5 0.5 0.4 0.4 0.8 0.6 1.0 1.1 0.6 1.1 1.3 0.5 1.0 0.5 0.4 0.5 0.6 0.3 0.3 1.0 1.3 1.1 0.4 0.3 1.3 0.6 0.7 0.9 0.9 0.6 0.5 0.4 1.1 1.1 0.3 0.5 0.9 0.5 0.9 0.8 0.6 0.4 0.8 1.0 0.5 0.8 1.3 0.8 0.7 1.1 1.2 1.2 0.7 0.7 0.8 1.1 1.0 0.8 0.9 1.1 0.7 0.4 0.5 0.5 0.4 1.2 1.0 1.0 0.8 0.8 0.6 1.1 0.8 0.7 1.2 1.1 1.5 0.7 0.8 1.0 0.8 0.5 0.9 0.6 0.6 1.0 0.7 0.9 0.7 0.4 1.2 1.0 1.1 0.8 0.5 0.8 1.3 1.0 1.0 0.9 0.5 0.3 1.3 0.3 0.6 0.7 1.1 0.9 1.3 1.1 0.6 0.5 0.5 0.6 0.4 1.2 1.0 0.7 0.4 1.1 0.6 1.0 0.6 0.5 0.5 0.8 0.6 0.8 1.2 0.5 0.5 0.8 0.8 0.7 0.7 0.5 0.5 0.9 1.1 0.9 1.1 0.8 0.5 1.1 0.9 0.7 0.6 0.6 1.5 0.7 1.3 0.4 1.0 0.5 0.6 0.6 0.8 0.9 0.8 1.1 0.5 1.1 0.8 1.0 0.8 0.5 1.4 0.9 1.2 0.8 1.1 1.2 1.2 1.2 0.7 0.6 1.4 1.1 1.4 0.7 0.8 1.1 0.5 0.5 0.5 0.6 0.8 0.6 0.8 0.3 0.7 0.8 0.4 0.7 1.4 0.9 1.4 1.1 0.9 0.3 0.4 0.8 1.3 0.6 0.5 1.0 0.9 0.7 0.5 0.8 1.0 0.9 1.4 0.4 1.3 0.6 0.8 0.6 1.3 0.7 0.4 0.7 0.5 0.3 0.4 0.6 0.8 0.3 0.5 1.1 0.9 1.2 0.9 1.2 1.1 0.7 0.4 0.4 1.2 0.9 0.7 0.5 1.1 1.1 0.6 1.2 0.9 0.5 0.5 0.9 1.4 0.5 0.6 0.4 0.6 0.5 0.8 0.5 1.1 0.5 0.6 0.7 0.5 0.3 0.4 0.3 1.1 0.3 0.9 1.1 1.0 0.6 0.8 0.7 0.7 0.3 0.5 0.4 0.6 0.6 0.4 0.8 0.5 0.8 1.1 0.8 1.2 1.0 0.8 0.5 0.3 0.9 0.7 0.6 0.4 0.5 1.4 0.7 1.3 1.1 0.6"/>
<circle cx="193.7" cy="159.1" r="46.7" fill="none" stroke="#999" stroke-opacity="0.6" stroke-width="1" stroke-dasharray="0.4 1.8 0.4 1.4 0.6 1.1 0.4 1.9 0.6 1.9 0.5 0.8 0.3 0.4 0.6 1.3 0.6 1.9 0.4 1.9 0.4 0.7 0.4 2.0 0.6 1.0 0.4 1.7 0.5 1.8 0.4 0.8 0.5 1.9 0.5 1.8 0.4 1.2 0.6 1.3 0.5 1.7 0.4 1.5 0.5 1.1 0.5 1.7 0.6 2.0 0.4 1.5 0.5 1.8 0.4 1.1 0.4 1.7 0.5 0.4 0.3 0.6 0.5 1.6 0.4 0.5 0.5 1.4 0.4 0.8 0.4 0.8 0.5 1.0 0.5 1.3 0.4 0.8 0.5 1.8 0.6 0.7 0.4 0.6 0.4 1.0 0.5 1.9 0.5 0.6 0.4 0.6 0.4 1.3 0.5 0.7 0.4 1.8 0.5 1.4 0.4 0.9 0.5 0.4 0.5 1.9 0.5 0.5 0.3 1.7 0.4 1.1 0.5 1.5 0.4 1.5 0.6 1.1 0.4 1.5 0.6 1.5 0.6 1.6 0.6 0.8 0.5 0.7 0.3 0.9 0.6 0.9 0.4 1.9 0.6 1.6 0.4 1.7 0.3 0.4 0.3 0.9 0.4 1.8 0.4 1.8 0.5 1.0 0.4 0.5 0.4 1.9 0.6 1.9 0.3 1.1 0.6 0.7 0.3 0.7 0.3 1.6 0.5 2.0 0.3 1.5 0.5 0.7 0.3 2.0 0.5 0.5 0.4 1.4 0.3 1.1 0.3 0.6 0.5 1.3 0.6 0.4 0.4 0.5 0.5 0.7 0.4 1.9 0.5 1.5 0.5 0.7 0.5 1.9 0.3 1.7 0.4 0.7 0.5 1.8 0.3 0.7 0.5 0.7 0.5 2.0 0.3 1.1 0.4 0.7 0.5 1.9 0.4 1.3 0.5 1.8 0.6 0.9 0.3 1.9 0.5 1.8 0.3 1.7 0.3 0.6 0.3 1.0 0.4 1.4 0.6 1.1 0.5 1.1 0.4 0.8 0.3 0.8 0.5 1.7 0.5 1.1 0.4 0.7 0.4 2.0 0.5 1.1 0.5 1.2 0.4 1.1 0.4 1.8 0.6 0.9 0.4 0.8 0.6 0.6 0.4 0.4 0.4 1.1 0.3 0.6 0.5 1.2 0.4 0.5 0.4 1.0 0.3 1.4 0.4 1.2 0.5 0.4 0.5 1.4 0.6 1.5 0.6 1.5 0.4 1.7 0.5 1.2 0.6 0.5 0.6 1.0 0.5 1.7 0.3 1.2 0.3 0.5 0.6 0.8 0.4 0.6 0.6 1.2 0.6 0.8 0.4 0.8 0.5 1.5 0.5 1.3 0.4 1.9 0.3 0.7 0.5 2.0 0.6 0.8 0.6 1.1 0.5 1.4 0.5 1.8 0.6 0.9 0.6 0.9 0.5 0.7 0.5 0.9 0.6 1.5 0.4 1.9 0.3 1.6 0.5 0.4 0.4 0.6 0.6 0.6 0.5 1.3 0.3 1.9 0.5 1.4 0.4 0.7 0.4 0.5"/>
<circle cx="193.7" cy="159.1" r="40.3" fill="none" stroke="#999" stroke-opacity="0.6" stroke-width="1" stroke-dasharray="0.4 1.2 0.4 1.6 0.3 0.7 0.5 1.5 0.4 0.7 0.3 1.0 0.4 1.7 0.4 0.9 0.5 0.7 0.3 2.0 0.6 0.9 0.4 1.1 0.4 1.7 0.6 1.5 0.4 1.7 0.6 0.7 0.5 0.7 0.6 1.7 0.4 1.6 0.4 0.5 0.5 0.5 0.4 1.8 0.5 0.8 0.4 1.3 0.5 1.9 0.3 1.1 0.4 1.0 0.4 1.0 0.5 0.7 0.4 1.2 0.6 1.2 0.4 0.5 0.5 0.9 0.3 1.2 0.5 1.0 0.5 1.4 0.3 0.5 0.5 1.4 0.5 0.8 0.4 1.6 0.4 1.2 0.4 1.4 0.4 0.4 0.5 1.7 0.6 1.9 0.5 1.1 0.4 1.5 0.4 0.9 0.3 1.4 0.5 1.6 0.3 0.7 0.5 0.6 0.6 1.9 0.5 0.8 0.5 1.6 0.4 1.4 0.5 1.9 0.5 1.5 0.5 1.8 0.5 1.5 0.4 0.6 0.5 0.8 0.6 0.8 0.6 0.9 0.4 1.3 0.4 2.0 0.5 0.6 0.4 0.6 0.5 1.2 0.4 1.5 0.4 1.7 0.5 0.8 0.6 0.5 0.4 0.5 0.6 1.3 0.6 2.0 0.3 1.8 0.3 1.5 0.5 1.0 0.6 1.6 0.5 0.8 0.3 0.5 0.5 1.2 0.4 1.2 0.3 0.9 0.5 0.6 0.5 0.6 0.6 0.7 0.6 1.9 0.6 0.8 0.5 0.5 0.6 1.5 0.3 0.6 0.3 1.0 0.6 1.7 0.4 1.7 0.3 1.3 0.4 0.5 0.6 1.4 0.6 1.4 0.5 0.6 0.4 1.8 0.5 1.4 0.4 1.0 0.3 0.8 0.4 0.6 0.3 1.6 0.6 1.5 0.6 0.7 0.6 1.0 0.6 0.8 0.4 1.2 0.4 0.8 0.5 1.7 0.6 1.4 0.4 1.1 0.5 1.4 0.6 1.3 0.6 1.2 0.4 0.5 0.4 1.2 0.3 1.1 0.3 0.8 0.6 1.9 0.3 1.3 0.5 0.5 0.4 1.2 0.4 1.3 0.3 1.4 0.5 0.7 0.5 1.9 0.6 1.4 0.5 1.6 0.4 1.5 0.4 1.3 0.5 1.3 0.5 1.0 0.4 1.4 0.4 1.1 0.4 0.9 0.5 1.8 0.4 1.4 0.5 1.4 0.5 1.0 0.3 1.0 0.5 1.4 0.6 1.4 0.5 1.0 0.5 0.6 0.6 1.2 0.4 1.5 0.5 2.0 0.3 0.5 0.5 0.8 0.4 2.0 0.5 0.9"/>
<path d="M319.1 94.5A141 141 0 0 1 319.8 96.1L223.9 144A33.8 33.8 0 0 0 223.7 143.6Z" fill="#fff"/>
<path d="M327.7 203A141 141 0 0 1 327.1 204.7L225.7 170A33.8 33.8 0 0 0 225.8 169.6Z" fill="#fff"/>
<path d="M212.5 298.8A141 141 0 0 1 210.8 299.1L197.8 192.7A33.8 33.8 0 0 0 198.2 192.6Z" fill="#fff"/>
<path d="M107.4 270.6A141 141 0 0 1 106 269.5L172.7 185.6A33.8 33.8 0 0 0 173 185.8Z" fill="#fff"/>
<path d="M59.3 201.6A141 141 0 0 1 58.8 200L161.4 168.9A33.8 33.8 0 0 0 161.5 169.3Z" fill="#fff"/>
<path d="M74.7 83.4A141 141 0 0 1 75.6 82L165.4 140.6A33.8 33.8 0 0 0 165.2 141Z" fill="#fff"/>
<path d="M180.4 18.7A141 141 0 0 1 206.7 18.7L196.8 125.4A33.8 33.8 0 0 0 190.5 125.5Z" fill="#fff"/>
<defs><filter id="pblur" x="-20%" y="-20%" width="140%" height="140%"><feGaussianBlur stdDeviation="2.6"/></filter><filter id="pblur2" x="-20%" y="-20%" width="140%" height="140%"><feGaussianBlur stdDeviation="0.5"/></filter></defs>
<g clip-path="url(#photo)">
<g filter="url(#pblur)">
<rect x="156" y="121.6" width="12.6" height="12.6" fill="rgb(90, 125, 80)"/>
<rect x="168.5" y="121.6" width="8.6" height="12.6" fill="rgb(110, 155, 95)"/>
<rect x="177" y="121.6" width="8.6" height="12.6" fill="rgb(185, 195, 205)"/>
<rect x="185.5" y="121.6" width="8.6" height="12.6" fill="rgb(150, 180, 150)"/>
<rect x="194" y="121.6" width="8.6" height="12.6" fill="rgb(120, 170, 80)"/>
<rect x="202.5" y="121.6" width="8.6" height="12.6" fill="rgb(110, 160, 70)"/>
<rect x="211" y="121.6" width="8.6" height="12.6" fill="rgb(100, 150, 60)"/>
<rect x="219.5" y="121.6" width="12.6" height="12.6" fill="rgb(90, 140, 55)"/>
<rect x="156" y="134" width="12.6" height="8.6" fill="rgb(50, 85, 40)"/>
<rect x="168.5" y="134" width="8.6" height="8.6" fill="rgb(90, 145, 55)"/>
<rect x="177" y="134" width="8.6" height="8.6" fill="rgb(110, 165, 65)"/>
<rect x="185.5" y="134" width="8.6" height="8.6" fill="rgb(110, 165, 70)"/>
<rect x="194" y="134" width="8.6" height="8.6" fill="rgb(95, 150, 60)"/>
<rect x="202.5" y="134" width="8.6" height="8.6" fill="rgb(115, 165, 80)"/>
<rect x="211" y="134" width="8.6" height="8.6" fill="rgb(130, 170, 120)"/>
<rect x="219.5" y="134" width="12.6" height="8.6" fill="rgb(70, 115, 50)"/>
<rect x="156" y="142.5" width="12.6" height="8.6" fill="rgb(35, 62, 30)"/>
<rect x="168.5" y="142.5" width="8.6" height="8.6" fill="rgb(70, 120, 45)"/>
<rect x="177" y="142.5" width="8.6" height="8.6" fill="rgb(120, 170, 75)"/>
<rect x="185.5" y="142.5" width="8.6" height="8.6" fill="rgb(90, 145, 55)"/>
<rect x="194" y="142.5" width="8.6" height="8.6" fill="rgb(60, 110, 45)"/>
<rect x="202.5" y="142.5" width="8.6" height="8.6" fill="rgb(110, 160, 70)"/>
<rect x="211" y="142.5" width="8.6" height="8.6" fill="rgb(55, 95, 40)"/>
<rect x="219.5" y="142.5" width="12.6" height="8.6" fill="rgb(75, 125, 50)"/>
<rect x="156" y="150.9" width="12.6" height="8.6" fill="rgb(28, 52, 26)"/>
<rect x="168.5" y="150.9" width="8.6" height="8.6" fill="rgb(40, 75, 32)"/>
<rect x="177" y="150.9" width="8.6" height="8.6" fill="rgb(115, 168, 75)"/>
<rect x="185.5" y="150.9" width="8.6" height="8.6" fill="rgb(75, 128, 52)"/>
<rect x="194" y="150.9" width="8.6" height="8.6" fill="rgb(70, 122, 50)"/>
<rect x="202.5" y="150.9" width="8.6" height="8.6" fill="rgb(90, 140, 58)"/>
<rect x="211" y="150.9" width="8.6" height="8.6" fill="rgb(60, 110, 45)"/>
<rect x="219.5" y="150.9" width="12.6" height="8.6" fill="rgb(65, 115, 48)"/>
<rect x="156" y="159.4" width="12.6" height="8.6" fill="rgb(28, 52, 26)"/>
<rect x="168.5" y="159.4" width="8.6" height="8.6" fill="rgb(38, 70, 32)"/>
<rect x="177" y="159.4" width="8.6" height="8.6" fill="rgb(85, 140, 60)"/>
<rect x="185.5" y="159.4" width="8.6" height="8.6" fill="rgb(80, 130, 55)"/>
<rect x="194" y="159.4" width="8.6" height="8.6" fill="rgb(95, 145, 70)"/>
<rect x="202.5" y="159.4" width="8.6" height="8.6" fill="rgb(85, 135, 58)"/>
<rect x="211" y="159.4" width="8.6" height="8.6" fill="rgb(65, 115, 48)"/>
<rect x="219.5" y="159.4" width="12.6" height="8.6" fill="rgb(55, 100, 42)"/>
<rect x="156" y="167.8" width="12.6" height="8.6" fill="rgb(32, 60, 30)"/>
<rect x="168.5" y="167.8" width="8.6" height="8.6" fill="rgb(50, 90, 42)"/>
<rect x="177" y="167.8" width="8.6" height="8.6" fill="rgb(95, 145, 75)"/>
<rect x="185.5" y="167.8" width="8.6" height="8.6" fill="rgb(70, 115, 55)"/>
<rect x="194" y="167.8" width="8.6" height="8.6" fill="rgb(105, 150, 85)"/>
<rect x="202.5" y="167.8" width="8.6" height="8.6" fill="rgb(75, 125, 55)"/>
<rect x="211" y="167.8" width="8.6" height="8.6" fill="rgb(70, 120, 50)"/>
<rect x="219.5" y="167.8" width="12.6" height="8.6" fill="rgb(60, 108, 45)"/>
<rect x="156" y="176.3" width="12.6" height="8.6" fill="rgb(40, 72, 35)"/>
<rect x="168.5" y="176.3" width="8.6" height="8.6" fill="rgb(55, 98, 45)"/>
<rect x="177" y="176.3" width="8.6" height="8.6" fill="rgb(82, 132, 60)"/>
<rect x="185.5" y="176.3" width="8.6" height="8.6" fill="rgb(80, 130, 60)"/>
<rect x="194" y="176.3" width="8.6" height="8.6" fill="rgb(88, 136, 66)"/>
<rect x="202.5" y="176.3" width="8.6" height="8.6" fill="rgb(80, 130, 58)"/>
<rect x="211" y="176.3" width="8.6" height="8.6" fill="rgb(70, 118, 50)"/>
<rect x="219.5" y="176.3" width="12.6" height="8.6" fill="rgb(60, 108, 45)"/>
<rect x="156" y="184.8" width="12.6" height="12.6" fill="rgb(50, 88, 42)"/>
<rect x="168.5" y="184.8" width="8.6" height="12.6" fill="rgb(58, 100, 46)"/>
<rect x="177" y="184.8" width="8.6" height="12.6" fill="rgb(70, 115, 52)"/>
<rect x="185.5" y="184.8" width="8.6" height="12.6" fill="rgb(75, 122, 55)"/>
<rect x="194" y="184.8" width="8.6" height="12.6" fill="rgb(78, 125, 56)"/>
<rect x="202.5" y="184.8" width="8.6" height="12.6" fill="rgb(72, 120, 52)"/>
<rect x="211" y="184.8" width="8.6" height="12.6" fill="rgb(65, 112, 48)"/>
<rect x="219.5" y="184.8" width="12.6" height="12.6" fill="rgb(60, 105, 45)"/>
</g>
<defs><filter id="leafd" x="0" y="0" width="100%" height="100%" color-interpolation-filters="sRGB"><feTurbulence type="fractalNoise" baseFrequency="0.32" numOctaves="2" seed="5"/><feColorMatrix type="matrix" values="0 0 0 0 0.16  0 0 0 0 0.3  0 0 0 0 0.12  3.5 0 0 0 -1.75"/></filter><filter id="leafl" x="0" y="0" width="100%" height="100%" color-interpolation-filters="sRGB"><feTurbulence type="fractalNoise" baseFrequency="0.28" numOctaves="2" seed="11"/><feColorMatrix type="matrix" values="0 0 0 0 0.5  0 0 0 0 0.72  0 0 0 0 0.3  0 3.5 0 0 -1.95"/></filter></defs>
<rect x="158" y="124" width="72" height="72" filter="url(#leafd)" opacity="0.5"/>
<rect x="158" y="124" width="72" height="72" filter="url(#leafl)" opacity="0.3"/>
<g filter="url(#pblur2)">
<ellipse cx="185.5" cy="174" rx="1.1" ry="3.2" fill="#dfeadf" opacity="0.75"/>
<ellipse cx="200.5" cy="171" rx="1.0" ry="4.0" fill="#dde8dd" opacity="0.7"/>
<ellipse cx="203.5" cy="175" rx="1.3" ry="2.2" fill="#d6e4d8" opacity="0.6"/>
<ellipse cx="190" cy="166" rx="0.7" ry="4.5" fill="#cadcca" opacity="0.4"/>
<line x1="179" y1="161" x2="179" y2="168" stroke="#b8d0b0" stroke-width="0.9" opacity="0.8"/>
<path d="M178.7 135.5 L179.3 135.5 L180.3 140.5 L180.3 161 L177.7 161 L177.7 140.5 Z" fill="#9e6e4c" opacity="0.95"/>
<line x1="178.7" y1="138.5" x2="178.7" y2="159" stroke="#c89c78" stroke-width="0.5" opacity="0.7"/>
<line x1="183.4" y1="168" x2="183.4" y2="175" stroke="#b8d0b0" stroke-width="0.9" opacity="0.8"/>
<path d="M183.1 139.8 L183.7 139.8 L184.7 144.8 L184.7 168 L182.1 168 L182.1 144.8 Z" fill="#9e6e4c" opacity="0.95"/>
<line x1="183.1" y1="142.8" x2="183.1" y2="166" stroke="#c89c78" stroke-width="0.5" opacity="0.7"/>
<line x1="191.6" y1="178" x2="191.6" y2="185" stroke="#b8d0b0" stroke-width="0.9" opacity="0.8"/>
<path d="M191.3 149 L191.9 149 L192.8 154 L192.8 178 L190.3 178 L190.3 154 Z" fill="#9e6e4c" opacity="0.95"/>
<line x1="191.29999999999998" y1="152" x2="191.29999999999998" y2="176" stroke="#c89c78" stroke-width="0.5" opacity="0.7"/>
<line x1="193.4" y1="180" x2="193.4" y2="187" stroke="#b8d0b0" stroke-width="0.9" opacity="0.8"/>
<path d="M193.1 156 L193.7 156 L194.1 161 L194.1 180 L192.7 180 L192.7 161 Z" fill="#9e6e4c" opacity="0.95"/>
<line x1="193.1" y1="159" x2="193.1" y2="178" stroke="#c89c78" stroke-width="0.5" opacity="0.7"/>
<line x1="203.2" y1="166" x2="203.2" y2="173" stroke="#b8d0b0" stroke-width="0.9" opacity="0.8"/>
<path d="M202.9 141.5 L203.5 141.5 L204.6 146.5 L204.6 166 L201.8 166 L201.8 146.5 Z" fill="#9e6e4c" opacity="0.95"/>
<line x1="202.89999999999998" y1="144.5" x2="202.89999999999998" y2="164" stroke="#c89c78" stroke-width="0.5" opacity="0.7"/>
<line x1="205.7" y1="170" x2="205.7" y2="177" stroke="#b8d0b0" stroke-width="0.9" opacity="0.8"/>
<path d="M205.4 146 L206 146 L206.9 151 L206.9 170 L204.4 170 L204.4 151 Z" fill="#9e6e4c" opacity="0.95"/>
<line x1="205.39999999999998" y1="149" x2="205.39999999999998" y2="168" stroke="#c89c78" stroke-width="0.5" opacity="0.7"/>
<line x1="208.3" y1="171" x2="208.3" y2="178" stroke="#b8d0b0" stroke-width="0.9" opacity="0.8"/>
<path d="M208 144.5 L208.6 144.5 L209.4 149.5 L209.4 171 L207.2 171 L207.2 149.5 Z" fill="#9e6e4c" opacity="0.95"/>
<line x1="208.0" y1="147.5" x2="208.0" y2="169" stroke="#c89c78" stroke-width="0.5" opacity="0.7"/>
</g>
</g>
<text x="192.9" y="20.9" font-size="9.4" text-anchor="middle">a</text>
<text x="192.9" y="28.1" font-size="9.4" text-anchor="middle">b</text>
<text x="192.9" y="35.3" font-size="9.4" text-anchor="middle">c</text>
<text x="192.9" y="42.6" font-size="9.4" text-anchor="middle">d</text>
<text x="192.9" y="49.8" font-size="9.4" text-anchor="middle">e</text>
<text x="192.9" y="57" font-size="9.4" text-anchor="middle">f</text>
<text x="192.9" y="64.2" font-size="9.4" text-anchor="middle">g</text>
<text x="192.9" y="71.4" font-size="9.4" text-anchor="middle">h</text>
<text x="192.9" y="78.7" font-size="9.4" text-anchor="middle">i</text>
<text x="192.9" y="85.9" font-size="9.4" text-anchor="middle">j</text>
<text x="192.9" y="93.1" font-size="9.4" text-anchor="middle">k</text>
<text x="192.9" y="100.3" font-size="9.4" text-anchor="middle">l</text>
<text x="192.9" y="107.5" font-size="9.4" text-anchor="middle">m</text>
<text x="192.9" y="114.8" font-size="9.4" text-anchor="middle">n</text>
<text x="192.9" y="122" font-size="9.4" text-anchor="middle">o</text>
<text x="287.8" y="37.0" font-size="11" text-anchor="middle" dominant-baseline="central" transform="rotate(37.5 287.8 37.0)">chr1</text>
<text x="349.2" y="145.7" font-size="11" text-anchor="middle" dominant-baseline="central" transform="rotate(85.0 349.2 145.7)">chr2</text>
<text x="297.4" y="275.9" font-size="11" text-anchor="middle" dominant-baseline="central" transform="rotate(-41.9 297.4 275.9)">chr3</text>
<text x="149.3" y="309.0" font-size="11" text-anchor="middle" dominant-baseline="central" transform="rotate(16.5 149.3 309.0)">chr4</text>
<text x="65.0" y="251.0" font-size="11" text-anchor="middle" dominant-baseline="central" transform="rotate(54.7 65.0 251.0)">chr5</text>
<text x="40.6" y="136.0" font-size="11" text-anchor="middle" dominant-baseline="central" transform="rotate(-81.0 40.6 136.0)">chr6</text>
<text x="103.5" y="35.8" font-size="11" text-anchor="middle" dominant-baseline="central" transform="rotate(-35.9 103.5 35.8)">chr7</text>
<text x="332" y="14.5" font-size="8.8" xml:space="preserve">a. Gene density</text>
<text x="332" y="26.2" font-size="8.8" xml:space="preserve">b/c  Accessibility (RO/YP)</text>
<text x="332" y="37.9" font-size="8.8" xml:space="preserve">d/e. H3K4me3 (RO/YP)</text>
<text x="332" y="49.6" font-size="8.8" xml:space="preserve">f/g.  H3K36me3 (RO/YP)</text>
<text x="332" y="61.3" font-size="8.8" xml:space="preserve">h/i. mCG (RO/YP)</text>
<text x="332" y="73" font-size="8.8" xml:space="preserve">j/k. mCHG (RO/YP)</text>
<text x="332" y="84.7" font-size="8.8" xml:space="preserve">l/m. mCHH (RO/YP)</text>
<text x="332" y="96.4" font-size="8.8" xml:space="preserve">n. Copia</text>
<text x="332" y="108.1" font-size="8.8" xml:space="preserve">o. Gypsy</text>
<path d="M477 32.6L477 29.7L477.6 29.7L478.2 29.2L478.8 29.3L479.4 27.1L480 27.5L480.6 28.3L481.2 28.7L481.8 26.5L482.4 26.8L483 28.8L483.6 27L484.2 27.8L484.8 26.9L485.4 28.7L486 30.2L486.6 31.6L487.2 30.5L487.8 31L488.4 29.6L489 30.9L489.6 29.5L490.2 30.7L490.8 29.7L491.4 30.1L492 30.1L492.6 30.9L493.2 31.3L493.8 30.9L494.4 30.3L495 29.9L495.6 29.2L496.2 29.8L496.8 29.2L497.4 31.5L498 30.9L498.6 31.1L499.2 31.7L499.8 31.2L500.4 31.9L501 31.5L501.6 32.1L502.2 31.7L502.8 32.1L503.4 32.2L504 32.2L504.6 32.2L505.2 32.2L505.8 32.1L506.4 31.8L507 32.1L507.6 32.2L508.2 32L508.8 32.3L509.4 32.2L510 31.1L510.6 31.4L511.2 31.4L511.8 31.3L512.4 30.4L513 30L513.6 31L514.2 30.4L514.8 30.7L515.4 30.9L516 30.2L516.6 29.8L517.2 29.8L517.8 28.5L518.4 30.2L519 29.5L519.6 29.1L520.2 31.3L520.8 30.1L521.4 31.3L522 30.6L522.6 30.9L523.2 30.4L523.8 28.4L524.4 28.1L525 30.4L525.6 28.4L526.2 30L526.8 30.5L527.4 29.5L528 30.9L528.6 29.3L529.2 29.5L529.8 30.8L530.4 31.1L531 30.3L531.6 29.8L532.2 30.9L532.8 28.9L533.4 29.8L534 28.8L534.6 29.2L535.2 29.3L535.8 28.2L536.4 28.7L537 27.1L537.6 27.1L538.2 27.5L538.8 28.5L539.4 28.8L540 30.1L540.6 30.4L541.2 30.1L541.8 30.3L542.4 30.1L543 29.1L543.6 29L544.2 29.9L544.8 30L545.4 30.9L546 30.8L546.6 29.7L547.2 28.3L547.8 27.5L548.4 27.7L549 27.4L549.6 27.8L550.2 29.2L550.8 30.1L551.4 29.3L552 29.9L552.6 28.8L553.2 29L553.8 30.1L554.4 29.9L555 30.2L555.6 30.7L556.2 30.8L556.8 29.7L557.4 29.9L558 30.3L558.6 29.3L559.2 30.9L559.8 29L560.4 29.2L561 29.4L561.6 29.5L562.2 28L562.8 27L563.4 28.6L564 27.4L564.6 27.8L565.2 30.3L565.8 30L566.4 30.5L567 31.2L567.6 31.8L568.2 31.5L568.8 30L569.4 29.6L570 28.9L570.6 29.6L571.2 29.2L571.8 30.1L572.4 29.1L573 28.6L573.6 27.5L574.2 29.6L574.8 27.6L575.4 27.7L576 24.2L576.6 24.7L577.2 22.9L577.8 22.7L578.4 23.5L579 22.5L579.6 22.1L580.2 22.1L580.8 20.9L581.4 21.1L582 18.7L582.6 17.1L583.2 17.3L583.8 16.7L584.4 15.5L585 15.5L585.6 14L586.2 15.9L586.8 19L587.4 19.7L588 21.5L588.6 21.3L589.2 24.2L589.8 23.1L590.4 26L591 25.1L591.6 27.6L592.2 27.7L592.8 28.1L593.4 28.1L594 28.7L594.6 30.9L595.2 29.6L595.8 29.9L596.4 30.1L597 29L597.6 27.5L598.2 29.3L598.8 28.3L599.4 29.6L600 29.9L600.6 31.4L601.2 30.9L601.8 28.6L602.4 29.4L603 27L603.6 26.9L604.2 27.2L604.8 27.9L605.4 27.1L606 29.7L606.6 28.7L607.2 31.1L607.8 30.5L608.4 32.2L609 32L609.6 32.2L610.2 32.4L610.8 32.6L611.4 32.6L612 32.6L612.6 32.6L613.2 32.6L613.8 32.6L614.4 32.6L615 32.6L615.6 32.6L616.2 32.6L616.8 32.6L617.4 32.6L618 32.6L618.6 32.6L619.2 32.6L619.8 32.6L620.4 32.6L621 32.6L621.6 32.6L622.2 32.6L622.8 32.6L623.4 32.6L624 32.6L624.6 32.6L625.2 32.6L625.8 32.6L626.4 32.6L627 32.6L627 32.6Z" fill="#1b7a1b"/>
<line x1="477.0" y1="32.6" x2="627.0" y2="32.6" stroke="#1b7a1b" stroke-width="0.7"/>
<path d="M477 58.4L477 56.8L477.6 57.6L478.2 56.7L478.8 57.5L479.4 57.7L480 58.1L480.6 57.7L481.2 57.9L481.8 58L482.4 58.1L483 57.8L483.6 57.9L484.2 57.7L484.8 57.8L485.4 57.6L486 57.1L486.6 57.5L487.2 56.6L487.8 56.8L488.4 57.6L489 57.6L489.6 57.6L490.2 57.7L490.8 57.8L491.4 57.6L492 57.4L492.6 57.5L493.2 56.8L493.8 57.5L494.4 57.3L495 56.8L495.6 57L496.2 56.4L496.8 56.4L497.4 56.7L498 57.4L498.6 57.4L499.2 57.8L499.8 57.9L500.4 57.9L501 58.1L501.6 57.8L502.2 57.8L502.8 57.8L503.4 58.1L504 58.1L504.6 57.8L505.2 57.8L505.8 57.9L506.4 57.8L507 58L507.6 58.1L508.2 58L508.8 58L509.4 58L510 57.8L510.6 58L511.2 57.9L511.8 57.9L512.4 58.1L513 57.4L513.6 56.6L514.2 56.9L514.8 56.6L515.4 56.9L516 56.4L516.6 57.6L517.2 57.4L517.8 58L518.4 57.8L519 58L519.6 57.7L520.2 57.6L520.8 58L521.4 57.5L522 57.7L522.6 57.7L523.2 57.1L523.8 56.8L524.4 57.2L525 56.2L525.6 57.3L526.2 57.3L526.8 55.6L527.4 55.5L528 55.4L528.6 55.2L529.2 55.6L529.8 56L530.4 56.2L531 56.2L531.6 55.5L532.2 55.5L532.8 56.6L533.4 57.1L534 56.6L534.6 57L535.2 56.8L535.8 57L536.4 57.3L537 57.6L537.6 56.8L538.2 57.3L538.8 56.5L539.4 55.9L540 56.1L540.6 56.4L541.2 57L541.8 55.4L542.4 55.4L543 56.2L543.6 57.3L544.2 56.4L544.8 57.1L545.4 57.2L546 57.1L546.6 57.2L547.2 57.4L547.8 56.5L548.4 56.7L549 56.8L549.6 56.2L550.2 56.4L550.8 56.9L551.4 56.5L552 55.5L552.6 55L553.2 54.9L553.8 54.7L554.4 55.8L555 54.9L555.6 55.4L556.2 56.2L556.8 56.6L557.4 55.5L558 55.1L558.6 54.9L559.2 55.3L559.8 55.4L560.4 55.8L561 56.5L561.6 56.3L562.2 54.7L562.8 55.5L563.4 54.4L564 53.7L564.6 54.6L565.2 54.5L565.8 54.4L566.4 53.1L567 52.8L567.6 53.9L568.2 54.1L568.8 52.9L569.4 55.7L570 54.9L570.6 55L571.2 53.9L571.8 53.7L572.4 55L573 54.1L573.6 54.9L574.2 57.2L574.8 56L575.4 57.3L576 57.4L576.6 57.6L577.2 57.5L577.8 57.1L578.4 57.5L579 56L579.6 56.2L580.2 56.9L580.8 55.5L581.4 56L582 55.5L582.6 55L583.2 55L583.8 56.5L584.4 56L585 54.3L585.6 55L586.2 56.3L586.8 55.7L587.4 56.9L588 57.5L588.6 56.6L589.2 57.3L589.8 57.1L590.4 55.7L591 54.9L591.6 56.9L592.2 55.2L592.8 56.6L593.4 56.9L594 57.1L594.6 57.1L595.2 55.9L595.8 56.2L596.4 57.8L597 58L597.6 58.1L598.2 57.9L598.8 58L599.4 58L600 57.6L600.6 58L601.2 57.7L601.8 57.9L602.4 56.8L603 57.3L603.6 57.4L604.2 56.9L604.8 57.9L605.4 58L606 57.9L606.6 57.7L607.2 57.9L607.8 58.1L608.4 57.9L609 57.9L609.6 57.9L610.2 58L610.8 57.8L611.4 57.8L612 57.1L612.6 57.9L613.2 58.4L613.8 58.4L614.4 58.4L615 58.4L615.6 58.4L616.2 58.4L616.8 58.4L617.4 58.4L618 58.4L618.6 58.4L619.2 58.4L619.8 58.4L620.4 58.4L621 58.4L621.6 58.4L622.2 58.4L622.8 58.4L623.4 58.4L624 58.4L624.6 58.4L625.2 58.4L625.8 58.4L626.4 58.4L627 58.4L627 58.4Z" fill="#a01414"/>
<line x1="477.0" y1="58.4" x2="627.0" y2="58.4" stroke="#a01414" stroke-width="0.7"/>
<path d="M477 83.8L477 81.3L477.6 81.5L478.2 82.4L478.8 82.2L479.4 81.8L480 82.2L480.6 82.7L481.2 81.1L481.8 82.1L482.4 82.6L483 82.6L483.6 82.8L484.2 81.5L484.8 83.2L485.4 83.3L486 83.2L486.6 83.2L487.2 83.3L487.8 83.4L488.4 83.3L489 83.2L489.6 83.5L490.2 83.5L490.8 83.4L491.4 83.3L492 83.1L492.6 82.6L493.2 82.6L493.8 81.9L494.4 82.7L495 82.8L495.6 83L496.2 82.1L496.8 82.4L497.4 83.1L498 83.3L498.6 83.5L499.2 83.5L499.8 83.3L500.4 83.4L501 83.3L501.6 83.2L502.2 83.4L502.8 83.2L503.4 83.5L504 83.4L504.6 83.5L505.2 83.5L505.8 83.5L506.4 83.4L507 83.5L507.6 83.2L508.2 83.4L508.8 83.4L509.4 83.5L510 83.4L510.6 83.2L511.2 83.3L511.8 83.2L512.4 83.3L513 83.3L513.6 83.4L514.2 83.2L514.8 83.4L515.4 83.5L516 83.5L516.6 83.2L517.2 83.5L517.8 83.5L518.4 83.3L519 83.3L519.6 82.9L520.2 82L520.8 82.3L521.4 82.1L522 82.9L522.6 82.4L523.2 82.5L523.8 83.3L524.4 83.4L525 83.3L525.6 83.1L526.2 83.4L526.8 83.4L527.4 83.2L528 83.2L528.6 83.5L529.2 83.3L529.8 83.4L530.4 83.4L531 83.2L531.6 83.4L532.2 83.2L532.8 83.2L533.4 81.7L534 82.2L534.6 80.8L535.2 81L535.8 78.3L536.4 78.1L537 79.5L537.6 80L538.2 79.2L538.8 81L539.4 81.6L540 82.3L540.6 81.3L541.2 81.7L541.8 82.3L542.4 82.2L543 82.2L543.6 82.2L544.2 82.8L544.8 81.8L545.4 81.1L546 81.7L546.6 80.5L547.2 77.9L547.8 76.9L548.4 74.7L549 73.7L549.6 73.5L550.2 76.2L550.8 75.5L551.4 76.2L552 77.6L552.6 77.6L553.2 77.3L553.8 75.4L554.4 75.9L555 74.4L555.6 72.6L556.2 70.8L556.8 68.7L557.4 67.6L558 68.1L558.6 66.3L559.2 65.3L559.8 64.5L560.4 65.7L561 67.7L561.6 69.6L562.2 70L562.8 70.7L563.4 72.4L564 73.6L564.6 74.4L565.2 77.8L565.8 78.9L566.4 80.1L567 79.7L567.6 78.9L568.2 75.2L568.8 72.1L569.4 72.9L570 72.2L570.6 70.5L571.2 71.4L571.8 70.8L572.4 70.3L573 69.2L573.6 70.1L574.2 69.8L574.8 70.9L575.4 72.4L576 72.9L576.6 74.8L577.2 76.6L577.8 76.8L578.4 80.7L579 83.1L579.6 83.2L580.2 83.1L580.8 83.5L581.4 83.5L582 83.4L582.6 83.4L583.2 83.5L583.8 83.2L584.4 83.5L585 83.2L585.6 83L586.2 82.5L586.8 83.1L587.4 82.7L588 82.3L588.6 83.3L589.2 83.5L589.8 83.5L590.4 83.2L591 83.3L591.6 83.5L592.2 83.2L592.8 83.5L593.4 83.4L594 83.2L594.6 83.3L595.2 83.4L595.8 83.2L596.4 83L597 82.2L597.6 82.2L598.2 82.9L598.8 83.3L599.4 83.3L600 83.5L600.6 83.2L601.2 83.2L601.8 83.2L602.4 83.2L603 83.2L603.6 83.2L604.2 83.4L604.8 83.3L605.4 83.6L606 83.3L606.6 83.4L607.2 83.1L607.8 83.2L608.4 83.4L609 83.3L609.6 83.3L610.2 83.3L610.8 83.6L611.4 83.5L612 83.5L612.6 83.3L613.2 83.2L613.8 83.3L614.4 83.2L615 83.3L615.6 83.5L616.2 83.5L616.8 83.3L617.4 83.2L618 83.4L618.6 83.3L619.2 83.4L619.8 83.4L620.4 83.5L621 83.4L621.6 83.3L622.2 83.5L622.8 83.2L623.4 83.6L624 83.2L624.6 83.4L625.2 83.2L625.8 83.4L626.4 83.6L627 83.8L627 83.8Z" fill="#8484cc"/>
<line x1="477.0" y1="83.8" x2="627.0" y2="83.8" stroke="#8484cc" stroke-width="0.7"/>
<path d="M477 109.3L477 106.1L477.6 106.9L478.2 105.8L478.8 106.2L479.4 106.7L480 106.2L480.6 106.2L481.2 107L481.8 107.3L482.4 106.8L483 107.6L483.6 108.7L484.2 108.8L484.8 108.7L485.4 108.9L486 108.6L486.6 108.7L487.2 108.8L487.8 108.5L488.4 108.5L489 108.9L489.6 108.6L490.2 108.3L490.8 108.6L491.4 108.3L492 108.8L492.6 108.8L493.2 108.7L493.8 108.8L494.4 108.8L495 108.8L495.6 108.6L496.2 108.4L496.8 108.4L497.4 108.9L498 108.4L498.6 108.5L499.2 108.8L499.8 108.9L500.4 108.4L501 108.9L501.6 108.8L502.2 108.7L502.8 108.4L503.4 108.3L504 108.4L504.6 108.4L505.2 108.4L505.8 108.6L506.4 108.9L507 108.8L507.6 108.9L508.2 108.9L508.8 108.9L509.4 108.7L510 108.9L510.6 108.8L511.2 108.4L511.8 108.8L512.4 108.6L513 108.4L513.6 108.9L514.2 108.5L514.8 108.6L515.4 108.9L516 108.4L516.6 108.4L517.2 108.9L517.8 108.3L518.4 108.6L519 108.5L519.6 108.8L520.2 108.9L520.8 108.3L521.4 108.1L522 108.5L522.6 108.6L523.2 107.8L523.8 108L524.4 107.8L525 106.9L525.6 107.4L526.2 108.2L526.8 107.1L527.4 107.1L528 107.4L528.6 106.7L529.2 107.5L529.8 107.2L530.4 108.3L531 107.8L531.6 107.8L532.2 107.6L532.8 107.5L533.4 108.2L534 107.2L534.6 108.3L535.2 107.9L535.8 107.3L536.4 108.3L537 107.8L537.6 107L538.2 107.1L538.8 107.7L539.4 108.1L540 107.1L540.6 106.8L541.2 108.3L541.8 108L542.4 108L543 107.8L543.6 108L544.2 106.1L544.8 106L545.4 105.2L546 104.8L546.6 105.5L547.2 105.5L547.8 106.4L548.4 106.5L549 105.4L549.6 103.4L550.2 102.9L550.8 102.7L551.4 100.2L552 100.1L552.6 98.4L553.2 98.6L553.8 97.8L554.4 98.1L555 96L555.6 96.4L556.2 95L556.8 94.6L557.4 93.3L558 93.2L558.6 91.7L559.2 91.9L559.8 91.7L560.4 93.7L561 94.2L561.6 94.4L562.2 96L562.8 96.2L563.4 99.5L564 99.7L564.6 99.9L565.2 101.3L565.8 103.6L566.4 104.7L567 106.5L567.6 108.5L568.2 106.8L568.8 103.1L569.4 98.3L570 96.6L570.6 95.2L571.2 93.4L571.8 91.9L572.4 90.9L573 90.6L573.6 90L574.2 91.6L574.8 90.5L575.4 92.3L576 93L576.6 93.5L577.2 93.1L577.8 94.2L578.4 96.2L579 99.7L579.6 102.5L580.2 104.7L580.8 106.2L581.4 107.7L582 107.3L582.6 108.9L583.2 108.7L583.8 108.8L584.4 108.9L585 108.8L585.6 108.7L586.2 108.5L586.8 108.8L587.4 108.7L588 108.4L588.6 108.5L589.2 108.7L589.8 108.8L590.4 108.4L591 108.3L591.6 108.8L592.2 108.4L592.8 108.7L593.4 108.6L594 108.9L594.6 108.8L595.2 108.8L595.8 108.8L596.4 108.4L597 108.3L597.6 108.7L598.2 108.4L598.8 108.8L599.4 108.6L600 108.8L600.6 108.4L601.2 108.6L601.8 108.6L602.4 108.4L603 108.6L603.6 108.6L604.2 108.5L604.8 108.6L605.4 108.6L606 108.8L606.6 108.8L607.2 108.8L607.8 108.3L608.4 108.6L609 108.9L609.6 108.8L610.2 108.6L610.8 108.6L611.4 108.5L612 108.7L612.6 109.1L613.2 109L613.8 109L614.4 109L615 109L615.6 109.1L616.2 109L616.8 109L617.4 109L618 109L618.6 109L619.2 109.1L619.8 109L620.4 109.1L621 109L621.6 109.1L622.2 109L622.8 109L623.4 109L624 109L624.6 109.2L625.2 109.1L625.8 109.1L626.4 109L627 109.3L627 109.3Z" fill="#8484cc"/>
<line x1="477.0" y1="109.3" x2="627.0" y2="109.3" stroke="#8484cc" stroke-width="0.7"/>
<path d="M477 134.4L477 133.8L477.6 133.1L478.2 133.7L478.8 133.6L479.4 133.5L480 133.2L480.6 133L481.2 132.8L481.8 133.6L482.4 133.8L483 133.4L483.6 133.8L484.2 133.7L484.8 133.8L485.4 134L486 133.8L486.6 133.9L487.2 133.8L487.8 133.9L488.4 133.5L489 133.5L489.6 133.9L490.2 133.4L490.8 133.4L491.4 133.9L492 133.8L492.6 133.9L493.2 134.1L493.8 134.1L494.4 133.9L495 133.6L495.6 133.8L496.2 133.6L496.8 133.8L497.4 133.7L498 132.9L498.6 133.5L499.2 133L499.8 133.3L500.4 133.3L501 133.9L501.6 134.1L502.2 134.1L502.8 134.2L503.4 134.1L504 134L504.6 133.9L505.2 133.7L505.8 133.7L506.4 133.8L507 133.8L507.6 133.7L508.2 134L508.8 133.9L509.4 133.8L510 133.7L510.6 134L511.2 134.2L511.8 134L512.4 134L513 134.1L513.6 134L514.2 134.2L514.8 133.8L515.4 134.1L516 133.8L516.6 134L517.2 134L517.8 134.1L518.4 134.2L519 134.2L519.6 133.8L520.2 134L520.8 133.7L521.4 133.5L522 134L522.6 133.8L523.2 133.7L523.8 133.9L524.4 133.9L525 133.3L525.6 133.3L526.2 132.8L526.8 132L527.4 129.2L528 128.1L528.6 128.8L529.2 126.5L529.8 127.4L530.4 129.3L531 129.6L531.6 129.6L532.2 131.7L532.8 130L533.4 132.2L534 132.6L534.6 132.3L535.2 133.3L535.8 132.5L536.4 130.4L537 129.6L537.6 128.4L538.2 126.6L538.8 124.7L539.4 125.1L540 125.1L540.6 123.4L541.2 122.8L541.8 124.4L542.4 125.9L543 125.8L543.6 125.3L544.2 124.4L544.8 123.9L545.4 122.4L546 121.7L546.6 122.7L547.2 121.9L547.8 119.7L548.4 118.9L549 118.5L549.6 119.4L550.2 117.8L550.8 119L551.4 117.3L552 118.1L552.6 116.3L553.2 116L553.8 116.6L554.4 115.7L555 115L555.6 114.9L556.2 115.3L556.8 115.2L557.4 115.6L558 114.5L558.6 115.5L559.2 114.5L559.8 115.1L560.4 115.6L561 114.8L561.6 116L562.2 117.2L562.8 116.6L563.4 119.4L564 120L564.6 121.8L565.2 124.9L565.8 125.4L566.4 128.3L567 128L567.6 127.9L568.2 125L568.8 123.5L569.4 122.7L570 123.9L570.6 123.3L571.2 122.9L571.8 122.3L572.4 120.2L573 121.2L573.6 120.1L574.2 121.2L574.8 121.2L575.4 123.8L576 123.2L576.6 123.8L577.2 126.6L577.8 127.6L578.4 128.3L579 130.9L579.6 131.3L580.2 133.4L580.8 133.9L581.4 133.8L582 134L582.6 133.9L583.2 134L583.8 133.7L584.4 133.8L585 133.6L585.6 133.7L586.2 133.6L586.8 133.9L587.4 133.7L588 134L588.6 133.8L589.2 133.4L589.8 133.4L590.4 133.9L591 133.7L591.6 133.8L592.2 133.6L592.8 133.7L593.4 133.9L594 133.5L594.6 133.8L595.2 133.5L595.8 133.6L596.4 133.4L597 133.7L597.6 133.7L598.2 133.5L598.8 133.9L599.4 134L600 133.7L600.6 133.9L601.2 134L601.8 133.9L602.4 133.5L603 131.9L603.6 132.3L604.2 131.8L604.8 132.5L605.4 132.5L606 134.1L606.6 134.2L607.2 134.2L607.8 134.1L608.4 134.2L609 134.3L609.6 134.1L610.2 134.3L610.8 134.1L611.4 134.2L612 134.1L612.6 134.2L613.2 134.2L613.8 134.2L614.4 134.2L615 134.2L615.6 134.2L616.2 134.2L616.8 134.2L617.4 134.3L618 134.1L618.6 134.2L619.2 134.1L619.8 134.2L620.4 134.2L621 134.1L621.6 134.1L622.2 134.2L622.8 134.1L623.4 134.2L624 134.1L624.6 134.2L625.2 134.3L625.8 134.3L626.4 134.2L627 134.4L627 134.4Z" fill="#f5916e"/>
<line x1="477.0" y1="134.4" x2="627.0" y2="134.4" stroke="#f5916e" stroke-width="0.7"/>
<path d="M477 160.2L477 158.2L477.6 158.8L478.2 158.5L478.8 158.5L479.4 158.6L480 158.9L480.6 158.3L481.2 158.1L481.8 159.2L482.4 157.7L483 158.8L483.6 158.4L484.2 158.9L484.8 158.1L485.4 158.6L486 158.2L486.6 158.6L487.2 158.4L487.8 159.1L488.4 157.6L489 158.5L489.6 158.7L490.2 157.8L490.8 158.7L491.4 157.9L492 158.5L492.6 159.1L493.2 158.3L493.8 158.8L494.4 158.9L495 157.5L495.6 157.6L496.2 158.4L496.8 157.9L497.4 158.1L498 158.9L498.6 159.4L499.2 159.3L499.8 159.8L500.4 159.5L501 159.5L501.6 159.7L502.2 159.2L502.8 158.9L503.4 159.2L504 158.6L504.6 159.1L505.2 159.6L505.8 159.1L506.4 159.2L507 158.6L507.6 159L508.2 158.6L508.8 159.4L509.4 159.2L510 159.6L510.6 159.6L511.2 158.8L511.8 159.6L512.4 159.5L513 159.5L513.6 159.2L514.2 159.7L514.8 159.8L515.4 159.4L516 159.4L516.6 159.8L517.2 159.2L517.8 159.3L518.4 159.2L519 159.3L519.6 159.5L520.2 159.4L520.8 159.3L521.4 157.9L522 157.8L522.6 157.2L523.2 157.3L523.8 157.8L524.4 156.1L525 156.2L525.6 158L526.2 156.8L526.8 158L527.4 156.7L528 157.6L528.6 155.7L529.2 157.2L529.8 156.7L530.4 157.4L531 155.8L531.6 158L532.2 157.7L532.8 158.3L533.4 157.6L534 158.5L534.6 156.7L535.2 157.4L535.8 157.3L536.4 156L537 156.5L537.6 155.9L538.2 154.6L538.8 154.4L539.4 155.2L540 155.3L540.6 154.5L541.2 154.7L541.8 154.6L542.4 154.1L543 155.2L543.6 154.6L544.2 153.6L544.8 150.9L545.4 150.4L546 151.1L546.6 150.1L547.2 149.5L547.8 147.7L548.4 148.6L549 147.6L549.6 148.8L550.2 148.1L550.8 146.9L551.4 145.1L552 144.8L552.6 142.9L553.2 142.3L553.8 142.2L554.4 140.9L555 140.4L555.6 140.1L556.2 141.5L556.8 140.5L557.4 141.1L558 140L558.6 140.3L559.2 142.2L559.8 143.3L560.4 143.4L561 144.1L561.6 146.5L562.2 148.1L562.8 149.5L563.4 151.1L564 152.6L564.6 154.8L565.2 156.8L565.8 155.6L566.4 157L567 156L567.6 155.4L568.2 153.7L568.8 152.7L569.4 153L570 151.1L570.6 150.7L571.2 150.1L571.8 151.3L572.4 149.6L573 151.3L573.6 151.6L574.2 152.8L574.8 151.6L575.4 152.4L576 152.3L576.6 153.3L577.2 154.7L577.8 154.6L578.4 156L579 156.6L579.6 155.8L580.2 158.8L580.8 158.8L581.4 159.8L582 159.2L582.6 158.8L583.2 159.6L583.8 159.2L584.4 158.6L585 159.3L585.6 159.3L586.2 158.5L586.8 158.6L587.4 159.2L588 158.9L588.6 159L589.2 159.6L589.8 160L590.4 160L591 159.6L591.6 159.2L592.2 159.3L592.8 159.2L593.4 159.2L594 159L594.6 159.6L595.2 158.6L595.8 158.6L596.4 159.6L597 159.6L597.6 159.3L598.2 159.5L598.8 158.8L599.4 158.7L600 159.3L600.6 159.3L601.2 159.9L601.8 160L602.4 159.9L603 159.9L603.6 159.9L604.2 159.5L604.8 159.5L605.4 159.7L606 159.7L606.6 159.7L607.2 159.6L607.8 159.4L608.4 159.3L609 159.5L609.6 160.1L610.2 160L610.8 160L611.4 159.9L612 160L612.6 159.9L613.2 159.9L613.8 160L614.4 160L615 159.9L615.6 159.9L616.2 159.9L616.8 160L617.4 159.9L618 160L618.6 159.9L619.2 159.9L619.8 160L620.4 159.9L621 160.1L621.6 160L622.2 160L622.8 159.9L623.4 160L624 159.9L624.6 160.1L625.2 160L625.8 160L626.4 159.9L627 160.2L627 160.2Z" fill="#f5916e"/>
<line x1="477.0" y1="160.2" x2="627.0" y2="160.2" stroke="#f5916e" stroke-width="0.7"/>
<path d="M477 186.2L477 178.2L477.6 177.4L478.2 177.8L478.8 178.6L479.4 178.2L480 178.5L480.6 177.4L481.2 178.8L481.8 179.1L482.4 179.8L483 180.7L483.6 180.3L484.2 181.2L484.8 182.3L485.4 181.9L486 180.7L486.6 180.6L487.2 182.3L487.8 180.6L488.4 182.7L489 180.5L489.6 182.1L490.2 180.6L490.8 182.8L491.4 181.2L492 180.7L492.6 180.9L493.2 181.5L493.8 182.5L494.4 182.3L495 180.6L495.6 180.8L496.2 182.3L496.8 182L497.4 181.4L498 182.1L498.6 182.4L499.2 179.9L499.8 180.5L500.4 179.1L501 179.6L501.6 179.5L502.2 178.6L502.8 180.4L503.4 181.9L504 185L504.6 184.7L505.2 184.4L505.8 185.4L506.4 184.9L507 184L507.6 183.7L508.2 184.3L508.8 183.7L509.4 185.1L510 184.8L510.6 183.8L511.2 183.9L511.8 185.1L512.4 185L513 185.5L513.6 185.5L514.2 185.3L514.8 185.1L515.4 184L516 183.7L516.6 184L517.2 183L517.8 184.1L518.4 183.5L519 184.2L519.6 183.9L520.2 183.7L520.8 184.5L521.4 183.9L522 183.8L522.6 183.7L523.2 182.2L523.8 180.2L524.4 179.2L525 179.8L525.6 180L526.2 179.9L526.8 177.8L527.4 177.9L528 177.8L528.6 173.4L529.2 169.2L529.8 170.9L530.4 173.5L531 174.6L531.6 175.5L532.2 178.9L532.8 179.8L533.4 182.2L534 183.4L534.6 184.1L535.2 183.5L535.8 179.8L536.4 179.8L537 180.1L537.6 180.5L538.2 180.2L538.8 180.5L539.4 180.6L540 180.3L540.6 179.3L541.2 179.5L541.8 178.7L542.4 182.1L543 184.2L543.6 180.4L544.2 176.7L544.8 176L545.4 176.6L546 177.8L546.6 177.5L547.2 177.3L547.8 178.7L548.4 181.2L549 183.6L549.6 185.5L550.2 180.4L550.8 176L551.4 176L552 177.4L552.6 176.7L553.2 177.9L553.8 178.1L554.4 179L555 180L555.6 179.8L556.2 180.5L556.8 181.2L557.4 180.6L558 181.4L558.6 183.6L559.2 184.4L559.8 185.4L560.4 185.1L561 183.3L561.6 182.9L562.2 183.7L562.8 181.8L563.4 182.3L564 182.9L564.6 183.6L565.2 182.4L565.8 183.5L566.4 182.9L567 184.6L567.6 185.4L568.2 184.1L568.8 183.1L569.4 181.9L570 180.3L570.6 180.2L571.2 180.3L571.8 181.1L572.4 181.2L573 180.3L573.6 179.5L574.2 179.7L574.8 181.1L575.4 182.7L576 183.2L576.6 185.3L577.2 184.3L577.8 182.4L578.4 180.8L579 181.7L579.6 181.3L580.2 180.6L580.8 180.3L581.4 179.4L582 181.5L582.6 181.7L583.2 182.3L583.8 182.9L584.4 185.5L585 185.5L585.6 184.4L586.2 184.2L586.8 184L587.4 183.6L588 181.2L588.6 181.7L589.2 181.6L589.8 181.2L590.4 181.1L591 183L591.6 184.2L592.2 184.4L592.8 185.7L593.4 183.4L594 182.7L594.6 181.2L595.2 181.1L595.8 179.5L596.4 181L597 181L597.6 181.6L598.2 179.6L598.8 180.9L599.4 184.1L600 185L600.6 185.8L601.2 185.4L601.8 183.9L602.4 182.1L603 181.5L603.6 181.1L604.2 179.4L604.8 181L605.4 181L606 181.1L606.6 180.3L607.2 180.6L607.8 181.4L608.4 180.6L609 180.1L609.6 181.1L610.2 182.5L610.8 182.6L611.4 183.5L612 183.5L612.6 183L613.2 184.2L613.8 183.3L614.4 183.8L615 185L615.6 185.4L616.2 186.1L616.8 186.2L617.4 186.2L618 186.2L618.6 186.2L619.2 186.2L619.8 186.2L620.4 186.2L621 186.2L621.6 186.2L622.2 186.2L622.8 186.2L623.4 186.2L624 186.2L624.6 186.2L625.2 186.2L625.8 186.2L626.4 186.2L627 186.2L627 186.2Z" fill="#bdbdbd"/>
<line x1="477.0" y1="186.2" x2="627.0" y2="186.2" stroke="#bdbdbd" stroke-width="0.7"/>
<path d="M477 211.6L477 211.6L477.6 211.6L478.2 211.6L478.8 211.6L479.4 206.3L480 207.5L480.6 206.8L481.2 207.7L481.8 206.5L482.4 207.6L483 207.6L483.6 211.6L484.2 211.6L484.8 211.6L485.4 211.6L486 211.6L486.6 211.6L487.2 211.6L487.8 211.6L488.4 211.6L489 211.6L489.6 211.6L490.2 211.6L490.8 211.6L491.4 207.8L492 205.9L492.6 207.1L493.2 205.5L493.8 207L494.4 207.5L495 206.2L495.6 207.2L496.2 205.9L496.8 206.7L497.4 207.2L498 206.4L498.6 207.3L499.2 211.6L499.8 211.6L500.4 207.2L501 207.6L501.6 207.3L502.2 207.3L502.8 207.4L503.4 209.4L504 211.6L504.6 211.6L505.2 211.6L505.8 211.6L506.4 211.6L507 211.6L507.6 211.6L508.2 211.6L508.8 211.6L509.4 211.6L510 211.6L510.6 206.7L511.2 206.4L511.8 206.5L512.4 206.2L513 206.3L513.6 211.6L514.2 211.6L514.8 211.6L515.4 211.6L516 211.6L516.6 211.6L517.2 211.6L517.8 211.6L518.4 211.6L519 206.7L519.6 205.8L520.2 207.5L520.8 207.2L521.4 208.2L522 211.6L522.6 211.6L523.2 211.6L523.8 211.6L524.4 211.6L525 211.6L525.6 211.6L526.2 211.6L526.8 211.6L527.4 211.6L528 211.6L528.6 211.6L529.2 205.6L529.8 205.7L530.4 206.8L531 205.8L531.6 207.3L532.2 211.6L532.8 211.6L533.4 211.6L534 211.6L534.6 211.6L535.2 200.4L535.8 200.5L536.4 201.8L537 201.9L537.6 201.6L538.2 200.3L538.8 201.5L539.4 201.8L540 202.6L540.6 201.7L541.2 200.4L541.8 204.2L542.4 211.6L543 211.6L543.6 211.6L544.2 211.6L544.8 211.6L545.4 211.6L546 211.6L546.6 211.6L547.2 200.7L547.8 200.5L548.4 200.4L549 200.9L549.6 201.4L550.2 211.6L550.8 211.6L551.4 211.6L552 211.6L552.6 211.6L553.2 203.3L553.8 195.8L554.4 194.8L555 193.6L555.6 195.4L556.2 195.7L556.8 197.3L557.4 197.7L558 195.7L558.6 193.9L559.2 195.6L559.8 197.7L560.4 199.4L561 201.7L561.6 211.6L562.2 211.6L562.8 211.6L563.4 211.6L564 211.6L564.6 211.6L565.2 211.6L565.8 211.6L566.4 211.6L567 211.6L567.6 211.6L568.2 208.2L568.8 206.4L569.4 207.3L570 207.6L570.6 207.7L571.2 208.4L571.8 211.6L572.4 211.6L573 195.5L573.6 195.2L574.2 195.9L574.8 195.2L575.4 195.6L576 211.6L576.6 211.6L577.2 211.6L577.8 200.7L578.4 200.9L579 200.8L579.6 205.9L580.2 211.6L580.8 211.6L581.4 211.6L582 211.6L582.6 211.6L583.2 211.6L583.8 211.6L584.4 211.6L585 211.6L585.6 211.6L586.2 202.4L586.8 200.3L587.4 195.9L588 194.8L588.6 194.4L589.2 198.2L589.8 201L590.4 202.7L591 211.6L591.6 211.6L592.2 211.6L592.8 211.6L593.4 204.4L594 204L594.6 203.8L595.2 203.4L595.8 203.6L596.4 203.3L597 203L597.6 202.6L598.2 203.4L598.8 203.9L599.4 203.7L600 204L600.6 204.1L601.2 211.6L601.8 211.6L602.4 211.6L603 211.6L603.6 211.6L604.2 211.6L604.8 211.6L605.4 211.6L606 211.6L606.6 211.6L607.2 211.6L607.8 211.6L608.4 211.6L609 211.6L609.6 211.6L610.2 211.6L610.8 211.6L611.4 211.6L612 211.6L612.6 211.6L613.2 211.6L613.8 211.6L614.4 211.6L615 211.6L615.6 211.6L616.2 211.6L616.8 211.6L617.4 211.6L618 211.6L618.6 211.6L619.2 211.6L619.8 211.6L620.4 211.6L621 211.6L621.6 211.6L622.2 211.6L622.8 211.6L623.4 211.6L624 211.6L624.6 211.6L625.2 211.6L625.8 211.6L626.4 211.6L627 211.6L627 211.6Z" fill="#bdbdbd"/>
<line x1="477.0" y1="211.6" x2="627.0" y2="211.6" stroke="#bdbdbd" stroke-width="0.7"/>
<path d="M502.1 237.4h0.65v-16.8h-0.65ZM503 237.4h0.65v-17.6h-0.65ZM503.9 237.4h0.65v-18.1h-0.65ZM504.8 237.4h0.65v-17.6h-0.65ZM512.6 237.4h0.65v-18.5h-0.65ZM513.8 237.4h0.65v-16.4h-0.65ZM515 237.4h0.65v-17.6h-0.65ZM516.2 237.4h0.65v-18.5h-0.65ZM517.5 237.4h0.65v-16.6h-0.65ZM518.7 237.4h0.65v-18.1h-0.65ZM519.9 237.4h0.65v-15.6h-0.65ZM521.1 237.4h0.65v-15h-0.65ZM522.3 237.4h0.65v-18.3h-0.65ZM526.3 237.4h0.65v-16.9h-0.65ZM527.4 237.4h0.65v-18.8h-0.65ZM528.5 237.4h0.65v-17.1h-0.65ZM529.6 237.4h0.65v-15.5h-0.65ZM530.7 237.4h0.65v-14.8h-0.65ZM531.8 237.4h0.65v-18.5h-0.65ZM535.9 237.4h0.65v-15.5h-0.65ZM537.2 237.4h0.65v-15h-0.65ZM538.4 237.4h0.65v-16.8h-0.65ZM539.7 237.4h0.65v-17.7h-0.65ZM546.6 237.4h0.65v-17h-0.65ZM547.7 237.4h0.65v-14.5h-0.65ZM548.9 237.4h0.65v-18h-0.65ZM550 237.4h0.65v-17.5h-0.65ZM551.1 237.4h0.65v-15.8h-0.65ZM618.4 237.4h0.65v-18.6h-0.65ZM619.7 237.4h0.65v-16.6h-0.65ZM621.1 237.4h0.65v-17.9h-0.65ZM622.5 237.4h0.65v-14.7h-0.65ZM623.8 237.4h0.65v-15.7h-0.65ZM480.2 237.4h0.65v-0.9h-0.65ZM481.2 237.4h0.65v-0.9h-0.65ZM482.2 237.4h0.65v-0.9h-0.65ZM493.4 237.4h0.65v-1.8h-0.65ZM494.9 237.4h0.65v-1.5h-0.65ZM557.9 237.4h0.65v-1h-0.65ZM562.3 237.4h0.65v-0.8h-0.65ZM566.7 237.4h0.65v-0.8h-0.65ZM571.1 237.4h0.65v-0.8h-0.65ZM575.5 237.4h0.65v-0.9h-0.65ZM579.9 237.4h0.65v-0.8h-0.65ZM584.3 237.4h0.65v-0.9h-0.65ZM588.7 237.4h0.65v-0.8h-0.65ZM593.1 237.4h0.65v-0.8h-0.65ZM597.5 237.4h0.65v-0.8h-0.65Z" fill="#4a9cec"/>
<path d="M502 262.9h0.65v-10h-0.65ZM512.3 262.9h0.65v-14.8h-0.65ZM513.5 262.9h0.65v-18.1h-0.65ZM514.8 262.9h0.65v-14.4h-0.65ZM516 262.9h0.65v-15.2h-0.65ZM517.2 262.9h0.65v-18.5h-0.65ZM518.4 262.9h0.65v-16.2h-0.65ZM519.6 262.9h0.65v-18.7h-0.65ZM520.9 262.9h0.65v-15.7h-0.65ZM522.1 262.9h0.65v-16.7h-0.65ZM526.3 262.9h0.65v-16.8h-0.65ZM527.5 262.9h0.65v-16.2h-0.65ZM528.6 262.9h0.65v-19h-0.65ZM529.8 262.9h0.65v-16.2h-0.65ZM531 262.9h0.65v-18h-0.65ZM532.1 262.9h0.65v-16.7h-0.65ZM536.3 262.9h0.65v-15.9h-0.65ZM537.6 262.9h0.65v-18.3h-0.65ZM538.8 262.9h0.65v-18.6h-0.65ZM540.1 262.9h0.65v-14.3h-0.65ZM546.3 262.9h0.65v-17.1h-0.65ZM547.6 262.9h0.65v-17.8h-0.65ZM548.8 262.9h0.65v-16.7h-0.65ZM550.1 262.9h0.65v-16.2h-0.65ZM620.2 262.9h0.65v-17.7h-0.65ZM621.2 262.9h0.65v-15h-0.65ZM622.2 262.9h0.65v-16.5h-0.65ZM482.2 262.9h0.65v-0.8h-0.65ZM487.2 262.9h0.65v-1h-0.65ZM492.2 262.9h0.65v-0.9h-0.65ZM497.2 262.9h0.65v-0.8h-0.65ZM557.2 262.9h0.65v-1.4h-0.65ZM562.2 262.9h0.65v-1.3h-0.65ZM567.2 262.9h0.65v-1.4h-0.65ZM572.2 262.9h0.65v-1.2h-0.65ZM577.2 262.9h0.65v-1.4h-0.65ZM582.2 262.9h0.65v-1.4h-0.65ZM587.2 262.9h0.65v-1.5h-0.65ZM592.2 262.9h0.65v-1.2h-0.65ZM597.2 262.9h0.65v-1.3h-0.65ZM602.2 262.9h0.65v-1.4h-0.65ZM607.2 262.9h0.65v-1.2h-0.65ZM612.2 262.9h0.65v-1.4h-0.65ZM614.5 262.9h0.65v-7h-0.65Z" fill="#4a9cec"/>
<path d="M501.7 288.4h0.65v-6.6h-0.65ZM502.3 288.4h0.65v-5.3h-0.65ZM503 288.4h0.65v-11.7h-0.65ZM503.6 288.4h0.65v-6.1h-0.65ZM504.2 288.4h0.65v-4.1h-0.65ZM513.4 288.4h0.65v-5.4h-0.65ZM514 288.4h0.65v-11.8h-0.65ZM514.6 288.4h0.65v-10.6h-0.65ZM515.1 288.4h0.65v-5.5h-0.65ZM516.4 288.4h0.65v-3.9h-0.65ZM517.5 288.4h0.65v-5.8h-0.65ZM518.5 288.4h0.65v-4.3h-0.65ZM519.6 288.4h0.65v-9.2h-0.65ZM520.7 288.4h0.65v-5.9h-0.65ZM521.7 288.4h0.65v-5.1h-0.65ZM522.8 288.4h0.65v-4.5h-0.65ZM521.6 288.4h0.65v-16h-0.65ZM531.5 288.4h0.65v-5h-0.65ZM583.5 288.4h0.65v-3h-0.65ZM617.7 288.4h0.65v-5.5h-0.65ZM619.5 288.4h0.65v-11h-0.65ZM621.3 288.4h0.65v-13.3h-0.65ZM623.1 288.4h0.65v-4.3h-0.65ZM480.9 288.4h0.65v-0.2h-0.65ZM484.1 288.4h0.65v-0.3h-0.65ZM487.4 288.4h0.65v-0.3h-0.65ZM490.7 288.4h0.65v-0.3h-0.65ZM494 288.4h0.65v-0.4h-0.65ZM497.3 288.4h0.65v-0.2h-0.65ZM500.5 288.4h0.65v-0.4h-0.65ZM503.8 288.4h0.65v-0.3h-0.65ZM507.1 288.4h0.65v-0.2h-0.65ZM510.4 288.4h0.65v-0.4h-0.65ZM513.7 288.4h0.65v-0.3h-0.65ZM517 288.4h0.65v-0.4h-0.65ZM520.2 288.4h0.65v-0.3h-0.65ZM523.5 288.4h0.65v-0.4h-0.65ZM526.8 288.4h0.65v-0.3h-0.65ZM530.1 288.4h0.65v-0.7h-0.65ZM533.4 288.4h0.65v-0.4h-0.65ZM536.6 288.4h0.65v-0.5h-0.65ZM539.9 288.4h0.65v-0.6h-0.65ZM543.2 288.4h0.65v-0.6h-0.65ZM546.5 288.4h0.65v-0.4h-0.65ZM549.8 288.4h0.65v-0.7h-0.65ZM553 288.4h0.65v-0.5h-0.65ZM556.3 288.4h0.65v-0.3h-0.65ZM559.6 288.4h0.65v-0.5h-0.65ZM562.9 288.4h0.65v-0.5h-0.65ZM566.2 288.4h0.65v-0.4h-0.65ZM569.4 288.4h0.65v-0.5h-0.65ZM572.7 288.4h0.65v-0.3h-0.65ZM576 288.4h0.65v-0.5h-0.65ZM579.3 288.4h0.65v-0.5h-0.65ZM582.6 288.4h0.65v-0.5h-0.65ZM585.8 288.4h0.65v-0.2h-0.65ZM589.1 288.4h0.65v-0.3h-0.65ZM592.4 288.4h0.65v-0.3h-0.65ZM595.7 288.4h0.65v-0.3h-0.65ZM599 288.4h0.65v-0.2h-0.65ZM602.2 288.4h0.65v-0.3h-0.65ZM605.5 288.4h0.65v-0.2h-0.65ZM608.8 288.4h0.65v-0.2h-0.65Z" fill="#4a9cec"/>
<path d="M511.5 314.2h0.65v-2.5h-0.65ZM512.6 314.2h0.65v-5h-0.65ZM513.7 314.2h0.65v-3.9h-0.65ZM514.9 314.2h0.65v-7.2h-0.65ZM516 314.2h0.65v-5.9h-0.65ZM517.1 314.2h0.65v-4.9h-0.65ZM518.3 314.2h0.65v-4.7h-0.65ZM519.4 314.2h0.65v-2.8h-0.65ZM520.4 314.2h0.65v-7.1h-0.65ZM521.3 314.2h0.65v-9.6h-0.65ZM522.2 314.2h0.65v-7.4h-0.65ZM558.6 314.2h0.65v-5h-0.65ZM564.3 314.2h0.65v-5h-0.65ZM607.4 314.2h0.65v-15h-0.65ZM620.1 314.2h0.65v-8.3h-0.65ZM621.2 314.2h0.65v-6h-0.65ZM622.3 314.2h0.65v-8.6h-0.65ZM480.9 314.2h0.65v-0.1h-0.65ZM484.1 314.2h0.65v-0.3h-0.65ZM487.4 314.2h0.65v-0.2h-0.65ZM490.7 314.2h0.65v-0.3h-0.65ZM494 314.2h0.65v-0.3h-0.65ZM497.3 314.2h0.65v-0.2h-0.65ZM500.5 314.2h0.65v-0.4h-0.65ZM503.8 314.2h0.65v-0.3h-0.65ZM507.1 314.2h0.65v-0.5h-0.65ZM510.4 314.2h0.65v-0.3h-0.65ZM513.7 314.2h0.65v-0.4h-0.65ZM517 314.2h0.65v-0.4h-0.65ZM520.2 314.2h0.65v-0.5h-0.65ZM523.5 314.2h0.65v-0.4h-0.65ZM526.8 314.2h0.65v-0.5h-0.65ZM530.1 314.2h0.65v-0.4h-0.65ZM533.4 314.2h0.65v-0.4h-0.65ZM536.6 314.2h0.65v-0.3h-0.65ZM539.9 314.2h0.65v-0.4h-0.65ZM543.2 314.2h0.65v-0.4h-0.65ZM546.5 314.2h0.65v-0.6h-0.65ZM549.8 314.2h0.65v-0.4h-0.65ZM553 314.2h0.65v-0.4h-0.65ZM556.3 314.2h0.65v-0.7h-0.65ZM559.6 314.2h0.65v-0.5h-0.65ZM562.9 314.2h0.65v-0.3h-0.65ZM566.2 314.2h0.65v-0.6h-0.65ZM569.4 314.2h0.65v-0.5h-0.65ZM572.7 314.2h0.65v-0.5h-0.65ZM576 314.2h0.65v-0.6h-0.65ZM579.3 314.2h0.65v-0.4h-0.65ZM582.6 314.2h0.65v-0.3h-0.65ZM585.8 314.2h0.65v-0.2h-0.65ZM589.1 314.2h0.65v-0.2h-0.65ZM592.4 314.2h0.65v-0.3h-0.65ZM595.7 314.2h0.65v-0.3h-0.65ZM599 314.2h0.65v-0.4h-0.65ZM602.2 314.2h0.65v-0.2h-0.65ZM605.5 314.2h0.65v-0.2h-0.65ZM608.8 314.2h0.65v-0.2h-0.65Z" fill="#4a9cec"/>
<path d="M494.2 339.8h0.65v-4h-0.65ZM502.2 339.8h0.65v-4h-0.65ZM502.9 339.8h0.65v-9.5h-0.65ZM503.5 339.8h0.65v-11.1h-0.65ZM504.2 339.8h0.65v-3.7h-0.65ZM504.9 339.8h0.65v-5h-0.65ZM514.8 339.8h0.65v-3.3h-0.65ZM515.8 339.8h0.65v-4.5h-0.65ZM516.8 339.8h0.65v-6.1h-0.65ZM517.8 339.8h0.65v-6.6h-0.65ZM518.8 339.8h0.65v-8.1h-0.65ZM519.8 339.8h0.65v-6.4h-0.65ZM520.8 339.8h0.65v-6.3h-0.65ZM521.8 339.8h0.65v-6.6h-0.65ZM522.8 339.8h0.65v-5h-0.65ZM536 339.8h0.65v-3h-0.65ZM545.6 339.8h0.65v-0.6h-0.65ZM547.1 339.8h0.65v-0.6h-0.65ZM548.6 339.8h0.65v-0.5h-0.65ZM550.1 339.8h0.65v-1h-0.65ZM551.6 339.8h0.65v-0.6h-0.65ZM553.1 339.8h0.65v-0.4h-0.65ZM617.9 339.8h0.65v-1.3h-0.65ZM619.3 339.8h0.65v-2.9h-0.65ZM620.6 339.8h0.65v-3h-0.65ZM622 339.8h0.65v-2.5h-0.65ZM623.3 339.8h0.65v-0.8h-0.65ZM477.7 339.8h0.65v-0.2h-0.65ZM479.1 339.8h0.65v-0.3h-0.65ZM480.5 339.8h0.65v-0.4h-0.65ZM481.9 339.8h0.65v-0.5h-0.65ZM483.3 339.8h0.65v-0.2h-0.65ZM484.7 339.8h0.65v-0.5h-0.65ZM486.2 339.8h0.65v-0.1h-0.65ZM487.6 339.8h0.65v-0.2h-0.65ZM558 339.8h0.65v-0.2h-0.65ZM561.6 339.8h0.65v-0.4h-0.65ZM565.2 339.8h0.65v-0.5h-0.65ZM568.8 339.8h0.65v-0.5h-0.65ZM572.4 339.8h0.65v-0.2h-0.65ZM576.1 339.8h0.65v-0.5h-0.65ZM579.7 339.8h0.65v-0.3h-0.65ZM583.3 339.8h0.65v-0.5h-0.65ZM586.9 339.8h0.65v-0.3h-0.65ZM590.5 339.8h0.65v-0.4h-0.65ZM594.2 339.8h0.65v-0.2h-0.65ZM597.8 339.8h0.65v-0.4h-0.65ZM601.4 339.8h0.65v-0.2h-0.65ZM605 339.8h0.65v-0.2h-0.65ZM608.6 339.8h0.65v-0.3h-0.65Z" fill="#4a9cec"/>
<path d="M516.8 365.3h0.65v-3.2h-0.65ZM517.4 365.3h0.65v-6.4h-0.65ZM518 365.3h0.65v-7.8h-0.65ZM518.5 365.3h0.65v-4.3h-0.65ZM522.4 365.3h0.65v-4h-0.65ZM576.7 365.3h0.65v-3h-0.65ZM608.5 365.3h0.65v-15.2h-0.65ZM609 365.3h0.65v-16.3h-0.65ZM481 365.3h0.65v-0.2h-0.65ZM484.5 365.3h0.65v-0.2h-0.65ZM488 365.3h0.65v-0.4h-0.65ZM491.5 365.3h0.65v-0.4h-0.65ZM495 365.3h0.65v-0.3h-0.65ZM498.5 365.3h0.65v-0.4h-0.65ZM502 365.3h0.65v-0.2h-0.65ZM505.5 365.3h0.65v-0.3h-0.65ZM509 365.3h0.65v-0.5h-0.65ZM512.5 365.3h0.65v-0.3h-0.65ZM516 365.3h0.65v-0.5h-0.65ZM519.6 365.3h0.65v-0.3h-0.65ZM523.1 365.3h0.65v-0.5h-0.65ZM526.6 365.3h0.65v-0.3h-0.65ZM530.1 365.3h0.65v-0.5h-0.65ZM533.6 365.3h0.65v-0.5h-0.65ZM537.1 365.3h0.65v-0.5h-0.65ZM540.6 365.3h0.65v-0.7h-0.65ZM544.1 365.3h0.65v-0.3h-0.65ZM547.6 365.3h0.65v-0.7h-0.65ZM551.1 365.3h0.65v-0.7h-0.65ZM554.6 365.3h0.65v-0.5h-0.65ZM558.1 365.3h0.65v-0.4h-0.65ZM561.6 365.3h0.65v-0.6h-0.65ZM565.1 365.3h0.65v-0.5h-0.65ZM568.6 365.3h0.65v-0.4h-0.65ZM572.2 365.3h0.65v-0.6h-0.65ZM575.7 365.3h0.65v-0.5h-0.65ZM579.2 365.3h0.65v-0.5h-0.65ZM582.7 365.3h0.65v-0.4h-0.65ZM586.2 365.3h0.65v-0.2h-0.65ZM589.7 365.3h0.65v-0.2h-0.65ZM593.2 365.3h0.65v-0.4h-0.65ZM596.7 365.3h0.65v-0.2h-0.65ZM600.2 365.3h0.65v-0.3h-0.65ZM603.7 365.3h0.65v-0.2h-0.65ZM607.2 365.3h0.65v-0.3h-0.65ZM610.7 365.3h0.65v-0.2h-0.65ZM614.2 365.3h0.65v-0.3h-0.65ZM617.7 365.3h0.65v-0.2h-0.65Z" fill="#4a9cec"/>
<line x1="477.0" y1="237.4" x2="627.0" y2="237.4" stroke="#4a9cec" stroke-width="0.4" stroke-opacity="0.5"/>
<line x1="477.0" y1="262.9" x2="627.0" y2="262.9" stroke="#4a9cec" stroke-width="0.4" stroke-opacity="0.5"/>
<line x1="477.0" y1="288.4" x2="627.0" y2="288.4" stroke="#4a9cec" stroke-width="0.4" stroke-opacity="0.5"/>
<line x1="477.0" y1="314.2" x2="627.0" y2="314.2" stroke="#4a9cec" stroke-width="0.4" stroke-opacity="0.5"/>
<line x1="477.0" y1="339.8" x2="627.0" y2="339.8" stroke="#4a9cec" stroke-width="0.4" stroke-opacity="0.5"/>
<line x1="477.0" y1="365.3" x2="627.0" y2="365.3" stroke="#4a9cec" stroke-width="0.4" stroke-opacity="0.5"/>
<path d="M477 396L477 396L477.6 396L478.2 396L478.8 396L479.4 396L480 396L480.6 396L481.2 396L481.8 396L482.4 396L483 396L483.6 396L484.2 396L484.8 396L485.4 396L486 396L486.6 396L487.2 396L487.8 396L488.4 396L489 396L489.6 396L490.2 396L490.8 396L491.4 396L492 396L492.6 396L493.2 396L493.8 396L494.4 396L495 396L495.6 396L496.2 396L496.8 396L497.4 396L498 396L498.6 396L499.2 396L499.8 396L500.4 396L501 396L501.6 396L502.2 396L502.8 396L503.4 396L504 396L504.6 396L505.2 396L505.8 396L506.4 396L507 396L507.6 396L508.2 396L508.8 396L509.4 396L510 396L510.6 396L511.2 396L511.8 396L512.4 396L513 396L513.6 396L514.2 396L514.8 396L515.4 396L516 396L516.6 396L517.2 396L517.8 396L518.4 396L519 396L519.6 396L520.2 396L520.8 396L521.4 396L522 395.4L522.6 394.6L523.2 392.7L523.8 392.2L524.4 389.7L525 389.4L525.6 388.4L526.2 387L526.8 386.3L527.4 385.3L528 385.5L528.6 383.6L529.2 383.2L529.8 383L530.4 382.4L531 383.7L531.6 382.5L532.2 382L532.8 382.9L533.4 382.6L534 382.9L534.6 396L535.2 396L535.8 396L536.4 384L537 384.7L537.6 384.2L538.2 385.1L538.8 384.5L539.4 384.3L540 384.9L540.6 396L541.2 396L541.8 396L542.4 396L543 396L543.6 393.9L544.2 385.4L544.8 385.2L545.4 386.1L546 386.9L546.6 387.1L547.2 387.6L547.8 388L548.4 387.3L549 388.1L549.6 388L550.2 387.8L550.8 386.9L551.4 387.4L552 388.2L552.6 387.3L553.2 387.3L553.8 389L554.4 388.7L555 389L555.6 389.1L556.2 388.6L556.8 388.9L557.4 389L558 388.5L558.6 389.3L559.2 396L559.8 396L560.4 396L561 395.4L561.6 390L562.2 388.8L562.8 389.1L563.4 388.4L564 388.2L564.6 389.3L565.2 389.4L565.8 388.7L566.4 389.5L567 389.3L567.6 389.2L568.2 388.6L568.8 388.2L569.4 388.6L570 387.8L570.6 387.7L571.2 387.5L571.8 388L572.4 387.7L573 387.6L573.6 387.7L574.2 388.4L574.8 388L575.4 387.6L576 389.1L576.6 390.2L577.2 391.9L577.8 392.2L578.4 394.1L579 394.8L579.6 395.5L580.2 396L580.8 396L581.4 396L582 396L582.6 396L583.2 396L583.8 396L584.4 396L585 396L585.6 396L586.2 396L586.8 396L587.4 396L588 396L588.6 396L589.2 396L589.8 396L590.4 396L591 396L591.6 396L592.2 396L592.8 396L593.4 396L594 396L594.6 396L595.2 396L595.8 396L596.4 396L597 396L597.6 396L598.2 396L598.8 396L599.4 396L600 396L600.6 396L601.2 396L601.8 396L602.4 396L603 396L603.6 396L604.2 396L604.8 396L605.4 396L606 396L606.6 396L607.2 396L607.8 396L608.4 396L609 396L609.6 396L610.2 396L610.8 396L611.4 396L612 396L612.6 396L613.2 396L613.8 396L614.4 396L615 396L615.6 396L616.2 396L616.8 396L617.4 396L618 396L618.6 396L619.2 396L619.8 396L620.4 396L621 396L621.6 396L622.2 396L622.8 396L623.4 396L624 396L624.6 396L625.2 396L625.8 396L626.4 396L627 396L627 396Z" fill="#7a2cf2"/>
<line x1="477.0" y1="396" x2="627.0" y2="396" stroke="#7a2cf2" stroke-width="0.8"/>
<line x1="477.0" y1="421.4" x2="627.0" y2="421.4" stroke="#7a2cf2" stroke-width="0.8"/>
<text x="476.6" y="21.4" font-size="8.1" fill="#1b7a1b">[0-3]</text>
<text x="633.2" y="24.9" font-size="9" fill="#1b7a1b" textLength="55" lengthAdjust="spacingAndGlyphs" xml:space="preserve">RO  AT AC-seq</text>
<text x="476.6" y="45.1" font-size="8.1" fill="#a01414">[0-3]</text>
<text x="633.2" y="50.9" font-size="9" fill="#a01414" textLength="51" lengthAdjust="spacingAndGlyphs" xml:space="preserve">YP  AT AC-seq</text>
<text x="476.6" y="70.5" font-size="8.1" fill="#8484cc">[0-10]</text>
<text x="633.2" y="76.9" font-size="9" fill="#8484cc" textLength="46.4" lengthAdjust="spacingAndGlyphs" xml:space="preserve">RO H3K4me3</text>
<text x="476.6" y="96" font-size="8.1" fill="#8484cc">[0-10]</text>
<text x="633.2" y="102.9" font-size="9" fill="#8484cc" textLength="45.7" lengthAdjust="spacingAndGlyphs" xml:space="preserve">YP H3K4me3</text>
<text x="476.6" y="121.8" font-size="8.1" fill="#f5916e">[0-5]</text>
<text x="633.2" y="128.9" font-size="9" fill="#f5916e" textLength="51" lengthAdjust="spacingAndGlyphs" xml:space="preserve">RO H3K4me36</text>
<text x="476.6" y="147" font-size="8.1" fill="#f5916e">[0-5]</text>
<text x="633.2" y="154.9" font-size="9" fill="#f5916e" textLength="51" lengthAdjust="spacingAndGlyphs" xml:space="preserve">YP H3K4me36</text>
<text x="476.6" y="172.5" font-size="8.1" fill="#bdbdbd">[0-1]</text>
<text x="633.2" y="180.9" font-size="9" fill="#bdbdbd" textLength="37" lengthAdjust="spacingAndGlyphs" xml:space="preserve">RO MNase</text>
<text x="476.6" y="198.2" font-size="8.1" fill="#bdbdbd">[0-1]</text>
<text x="633.2" y="206.9" font-size="9" fill="#bdbdbd" textLength="37" lengthAdjust="spacingAndGlyphs" xml:space="preserve">YP MNase</text>
<text x="476.6" y="223.7" font-size="8.1" fill="#4a9cec">[0-100]</text>
<text x="633.2" y="232.9" font-size="9" fill="#4a9cec" textLength="31" lengthAdjust="spacingAndGlyphs" xml:space="preserve">RO mCG</text>
<text x="476.6" y="250.9" font-size="8.1" fill="#4a9cec">[0-100]</text>
<text x="633.2" y="258.9" font-size="9" fill="#4a9cec" textLength="30" lengthAdjust="spacingAndGlyphs" xml:space="preserve">YP mCG</text>
<text x="476.6" y="276.4" font-size="8.1" fill="#4a9cec">[0-100]</text>
<text x="633.2" y="284.9" font-size="9" fill="#4a9cec" textLength="36.3" lengthAdjust="spacingAndGlyphs" xml:space="preserve">RO mCHG</text>
<text x="476.6" y="301.6" font-size="8.1" fill="#4a9cec">[0-100]</text>
<text x="633.2" y="310.9" font-size="9" fill="#4a9cec" textLength="36" lengthAdjust="spacingAndGlyphs" xml:space="preserve">YP mCHG</text>
<text x="476.6" y="327.4" font-size="8.1" fill="#4a9cec">[0-100]</text>
<text x="633.2" y="336.9" font-size="9" fill="#4a9cec" textLength="35.7" lengthAdjust="spacingAndGlyphs" xml:space="preserve">RO mCHH</text>
<text x="476.6" y="353.4" font-size="8.1" fill="#4a9cec">[0-100]</text>
<text x="633.2" y="362.9" font-size="9" fill="#4a9cec" textLength="35.5" lengthAdjust="spacingAndGlyphs" xml:space="preserve">YP mCHH</text>
<text x="476.6" y="382.7" font-size="8.1" fill="#7a2cf2">[0-60]</text>
<text x="633.2" y="388.9" font-size="9" fill="#7a2cf2" textLength="44" lengthAdjust="spacingAndGlyphs" xml:space="preserve">RO RNA-seq</text>
<text x="476.6" y="408.5" font-size="8.1" fill="#7a2cf2">[0-60]</text>
<text x="633.2" y="414.9" font-size="9" fill="#7a2cf2" textLength="43.5" lengthAdjust="spacingAndGlyphs" xml:space="preserve">YP RNA-seq</text>
<line x1="522.7" y1="433.8" x2="581.4" y2="433.8" stroke="#333" stroke-width="0.7"/>
<rect x="522.7" y="430.8" width="8" height="6" rx="1.2" fill="#8a8a8a" stroke="#333" stroke-width="0.6"/>
<rect x="569.4" y="430.8" width="12" height="6" rx="1.2" fill="#8a8a8a" stroke="#333" stroke-width="0.6"/>
<rect x="529.6" y="430.8" width="10.1" height="6" rx="1" fill="#f4907a" stroke="#333" stroke-width="0.6"/>
<rect x="544.7" y="430.8" width="13.8" height="6" rx="1" fill="#f4907a" stroke="#333" stroke-width="0.6"/>
<rect x="561.6" y="430.8" width="8.8" height="6" rx="1" fill="#f4907a" stroke="#333" stroke-width="0.6"/>
<text x="583.5" y="436.40000000000003" font-size="7" font-style="italic" fill="#333" textLength="43" lengthAdjust="spacingAndGlyphs">PMA2G05965</text>
<text x="633.5" y="436.7" font-size="9" fill="#222" textLength="30.5" lengthAdjust="spacingAndGlyphs">Genebed</text>
<line x1="477" y1="443.4" x2="627" y2="443.4" stroke="#222" stroke-width="1"/>
<path d="M477 443.4v2.2M495.8 443.4v1.5M514.5 443.4v1.5M533.2 443.4v1.5M552 443.4v2.2M570.8 443.4v1.5M589.5 443.4v1.5M608.2 443.4v1.5M627 443.4v2.2" stroke="#222" stroke-width="0.8"/>
<text x="485.7" y="452.5" font-size="8.7" text-anchor="middle">214,507</text>
<text x="554.8" y="452.5" font-size="8.7" text-anchor="middle">214,511</text>
<text x="617" y="452.5" font-size="8.7">214,515 Kb</text>
<text x="556" y="464" font-size="9.3" text-anchor="middle">Chr 2</text>
<rect x="76" y="329.8" width="3.4" height="17.3" fill="#00A087"/>
<rect x="79.3" y="329.8" width="10.3" height="17.3" fill="#8491B4"/>
<rect x="89.6" y="329.8" width="20" height="17.3" fill="#4DBBD5"/>
<rect x="109.5" y="329.8" width="1.6" height="17.3" fill="#3C5488"/>
<rect x="111.1" y="329.8" width="31.3" height="17.3" fill="#91D1C2"/>
<rect x="142.3" y="329.8" width="7.7" height="17.3" fill="#E64B35"/>
<rect x="150" y="329.8" width="182.1" height="17.3" fill="#F39B7F"/>
<text x="73" y="341.8" font-size="9.9" text-anchor="end">RO_ATAC</text>
<line x1="73.8" y1="338.4" x2="76" y2="338.4" stroke="#333" stroke-width="0.8"/>
<rect x="76" y="349.4" width="2.4" height="17.3" fill="#00A087"/>
<rect x="78.3" y="349.4" width="10.8" height="17.3" fill="#8491B4"/>
<rect x="89.1" y="349.4" width="24.4" height="17.3" fill="#4DBBD5"/>
<rect x="113.4" y="349.4" width="2.6" height="17.3" fill="#3C5488"/>
<rect x="115.9" y="349.4" width="18.2" height="17.3" fill="#91D1C2"/>
<rect x="134.1" y="349.4" width="7.2" height="17.3" fill="#E64B35"/>
<rect x="141.3" y="349.4" width="190.8" height="17.3" fill="#F39B7F"/>
<text x="73" y="361.4" font-size="9.9" text-anchor="end">YP_ATAC</text>
<line x1="73.8" y1="358" x2="76" y2="358" stroke="#333" stroke-width="0.8"/>
<rect x="76" y="369" width="11.1" height="17.3" fill="#00A087"/>
<rect x="87" y="369" width="10" height="17.3" fill="#8491B4"/>
<rect x="97" y="369" width="78.4" height="17.3" fill="#4DBBD5"/>
<rect x="175.3" y="369" width="36.1" height="17.3" fill="#3C5488"/>
<rect x="211.4" y="369" width="68.9" height="17.3" fill="#91D1C2"/>
<rect x="280.3" y="369" width="4.7" height="17.3" fill="#E64B35"/>
<rect x="284.9" y="369" width="47.2" height="17.3" fill="#F39B7F"/>
<text x="73" y="381" font-size="9.9" text-anchor="end">RO_H3K4me3</text>
<line x1="73.8" y1="377.6" x2="76" y2="377.6" stroke="#333" stroke-width="0.8"/>
<rect x="76" y="389" width="14.4" height="17.3" fill="#00A087"/>
<rect x="90.3" y="389" width="6.7" height="17.3" fill="#8491B4"/>
<rect x="97" y="389" width="63.3" height="17.3" fill="#4DBBD5"/>
<rect x="160.2" y="389" width="21.6" height="17.3" fill="#3C5488"/>
<rect x="181.7" y="389" width="97.6" height="17.3" fill="#91D1C2"/>
<rect x="279.3" y="389" width="5.2" height="17.3" fill="#E64B35"/>
<rect x="284.4" y="389" width="47.7" height="17.3" fill="#F39B7F"/>
<text x="73" y="401" font-size="9.9" text-anchor="end">YP_H3K4me3</text>
<line x1="73.8" y1="397.6" x2="76" y2="397.6" stroke="#333" stroke-width="0.8"/>
<rect x="76" y="408.9" width="20.3" height="17.3" fill="#00A087"/>
<rect x="96.2" y="408.9" width="11.3" height="17.3" fill="#8491B4"/>
<rect x="107.5" y="408.9" width="56.4" height="17.3" fill="#4DBBD5"/>
<rect x="163.8" y="408.9" width="44.9" height="17.3" fill="#3C5488"/>
<rect x="208.6" y="408.9" width="84" height="17.3" fill="#91D1C2"/>
<rect x="292.6" y="408.9" width="3.6" height="17.3" fill="#E64B35"/>
<rect x="296.2" y="408.9" width="35.9" height="17.3" fill="#F39B7F"/>
<text x="73" y="420.9" font-size="9.9" text-anchor="end">RO_H3K36me3</text>
<line x1="73.8" y1="417.5" x2="76" y2="417.5" stroke="#333" stroke-width="0.8"/>
<rect x="76" y="428.6" width="26.4" height="17.3" fill="#00A087"/>
<rect x="102.4" y="428.6" width="15.4" height="17.3" fill="#8491B4"/>
<rect x="117.7" y="428.6" width="66.9" height="17.3" fill="#4DBBD5"/>
<rect x="184.5" y="428.6" width="34.9" height="17.3" fill="#3C5488"/>
<rect x="219.4" y="428.6" width="76.8" height="17.3" fill="#91D1C2"/>
<rect x="296.2" y="428.6" width="3.6" height="17.3" fill="#E64B35"/>
<rect x="299.7" y="428.6" width="32.3" height="17.3" fill="#F39B7F"/>
<text x="73" y="440.6" font-size="9.9" text-anchor="end">YP_H3K36me3</text>
<line x1="73.8" y1="437.2" x2="76" y2="437.2" stroke="#333" stroke-width="0.8"/>
<path d="M76 328.6 H333.4 V446.2 H76 Z" fill="none" stroke="#3a3a3a" stroke-width="1"/>
<line x1="76" y1="446.2" x2="76" y2="448.4" stroke="#333" stroke-width="0.8"/>
<text x="76" y="455.3" font-size="9.3" text-anchor="middle">0</text>
<line x1="140" y1="446.2" x2="140" y2="448.4" stroke="#333" stroke-width="0.8"/>
<text x="140" y="455.3" font-size="9.3" text-anchor="middle">25</text>
<line x1="204" y1="446.2" x2="204" y2="448.4" stroke="#333" stroke-width="0.8"/>
<text x="204" y="455.3" font-size="9.3" text-anchor="middle">50</text>
<line x1="268" y1="446.2" x2="268" y2="448.4" stroke="#333" stroke-width="0.8"/>
<text x="268" y="455.3" font-size="9.3" text-anchor="middle">75</text>
<line x1="332" y1="446.2" x2="332" y2="448.4" stroke="#333" stroke-width="0.8"/>
<text x="332" y="455.3" font-size="9.3" text-anchor="middle">100</text>
<text x="209" y="464.6" font-size="9.6" text-anchor="middle">Percentage(%)</text>
<text x="351" y="352.3" font-size="9.6">Feature</text>
<rect x="340" y="358.1" width="5.8" height="5.8" fill="#F39B7F"/>
<text x="350.7" y="363.8" font-size="8">Intergenic</text>
<rect x="340" y="368.4" width="5.8" height="5.8" fill="#E64B35"/>
<text x="350.7" y="374.1" font-size="8">Promoter (1−2 Kb)</text>
<rect x="340" y="378.7" width="5.8" height="5.8" fill="#91D1C2"/>
<text x="350.7" y="384.4" font-size="8">Promoter (&lt;=1 Kb)</text>
<rect x="340" y="388.9" width="5.8" height="5.8" fill="#3C5488"/>
<text x="350.7" y="394.6" font-size="8">5' UTR</text>
<rect x="340" y="399.2" width="5.8" height="5.8" fill="#4DBBD5"/>
<text x="350.7" y="404.9" font-size="8">Exon</text>
<rect x="340" y="409.5" width="5.8" height="5.8" fill="#8491B4"/>
<text x="350.7" y="415.2" font-size="8">Intron</text>
<rect x="340" y="419.8" width="5.8" height="5.8" fill="#8fd0c0"/>
<text x="350.7" y="425.5" font-size="8">3' UTR</text>
<defs><clipPath id="pc0"><rect x="0" y="497.8" width="685" height="74"/></clipPath></defs>
<path d="M63.5 568.3C64.6 568.1 67.7 567.8 70 566.9C72.3 566 75.3 564.1 77.1 562.9C78.9 561.6 79.8 565.4 80.6 559.4C81.4 553.4 81.4 535.5 81.8 526.7C82.2 518 82.4 510.5 82.9 506.9C83.4 503.3 83.9 504.8 84.6 505.2C85.3 505.6 86 506.4 86.9 509.2C87.8 512 88.8 517.5 89.9 522C91 526.5 92 532.1 93.4 536C94.8 539.9 96.5 543.1 98.1 545.4C99.7 547.7 100.8 548.6 102.8 550C104.8 551.4 107.5 552.6 109.8 553.6C112.1 554.6 114.8 554.9 116.8 555.9C118.8 556.9 120.1 558 121.5 559.4C122.9 560.8 124 562.5 125 564.1C126 565.7 126.5 568.4 127.3 568.8C128.1 569.2 128.6 567.3 129.6 566.4C130.6 565.5 130.9 564.1 133.1 563.6C135.3 563.1 141.3 563.6 143 563.6" fill="none" stroke="#1f2a8f" stroke-width="1.6" clip-path="url(#pc0)"/>
<rect x="63.5" y="498.3" width="79.5" height="73.5" fill="none" stroke="#111" stroke-width="1.1"/>
<text x="98.7" y="493.8" font-size="9.5" text-anchor="middle">RO_H3K4me3</text>
<path d="M63.5 571.8v2.2M81.2 571.8v2.2M125.3 571.8v2.2M143 571.8v2.2" stroke="#111" stroke-width="0.8"/>
<text x="60.8" y="584.6" font-size="9.5" text-anchor="middle">-2.0</text>
<text x="79.4" y="584.6" font-size="9.5" text-anchor="middle">TSS</text>
<text x="120.3" y="584.6" font-size="9.5" text-anchor="middle">TES</text>
<text x="137.3" y="584.6" font-size="9.5" text-anchor="middle">2.0</text>
<path d="M149.2 568C150.3 568.1 153.2 568.7 155.8 568.8C158.4 568.9 163.2 569.6 165 568.8C166.8 568 165.9 567 166.3 564C166.7 561 166.9 554.3 167.6 551C168.2 547.7 169.3 545.7 170.2 544.4C171.1 543.1 171.3 542.9 172.8 543C174.3 543.1 177 544.4 179.4 545.2C181.8 546 184.7 546.8 187.3 547.8C189.9 548.8 192.6 550 195.2 551.5C197.8 553 200.6 554.7 203 556.7C205.4 558.7 207.6 561.4 209.6 563.6C211.6 565.8 213.4 569 214.9 569.9C216.4 570.8 216.5 569.7 218.8 568.8C221.1 567.9 226.9 565.3 228.5 564.6" fill="none" stroke="#1f2a8f" stroke-width="1.6" clip-path="url(#pc0)"/>
<rect x="149.2" y="498.3" width="79.3" height="73.5" fill="none" stroke="#111" stroke-width="1.1"/>
<text x="186" y="493.8" font-size="9.5" text-anchor="middle">RO_H3K36me3</text>
<path d="M149.2 571.8v2.2M166.8 571.8v2.2M210.9 571.8v2.2M228.5 571.8v2.2" stroke="#111" stroke-width="0.8"/>
<text x="154" y="584.6" font-size="9.5" text-anchor="middle">-2.0</text>
<text x="173.1" y="584.6" font-size="9.5" text-anchor="middle">TSS</text>
<text x="204.7" y="584.6" font-size="9.5" text-anchor="middle">TES</text>
<text x="222.7" y="584.6" font-size="9.5" text-anchor="middle">2.0</text>
<path d="M234.6 567.5C235.9 567.3 240.5 566.9 242.5 566.2C244.5 565.6 245.1 564.6 246.4 563.6C247.7 562.6 249.4 563.1 250.4 560.1C251.4 557.1 252 552.5 252.5 545.7C253 538.9 253.1 526.4 253.5 519.4C253.9 512.4 254.3 506.7 254.8 503.6C255.3 500.5 255.8 501 256.4 501C257 501 257.4 501 258.2 503.6C258.9 506.2 259.8 511.5 260.9 516.8C262 522.1 263.5 530.2 264.8 535.2C266.1 540.2 267.2 543.9 268.7 547C270.2 550.1 271.8 551.9 274 553.6C276.2 555.4 279.3 556.6 281.9 557.5C284.5 558.4 287.6 558.2 289.8 558.8C292 559.4 293.7 559.9 295 560.9C296.3 561.9 296.9 563.5 297.6 564.6C298.4 565.7 298.6 567.4 299.5 567.5C300.4 567.6 301.4 566 302.9 565.4C304.3 564.8 306.2 563.8 308.2 563.6C310.2 563.4 313.6 564 314.7 564.1" fill="none" stroke="#1f2a8f" stroke-width="1.6" clip-path="url(#pc0)"/>
<rect x="234.6" y="498.3" width="80.1" height="73.5" fill="none" stroke="#111" stroke-width="1.1"/>
<text x="273.1" y="493.8" font-size="9.5" text-anchor="middle">YP_H3K4me3</text>
<path d="M234.6 571.8v2.2M252.4 571.8v2.2M296.9 571.8v2.2M314.7 571.8v2.2" stroke="#111" stroke-width="0.8"/>
<text x="241.1" y="584.6" font-size="9.5" text-anchor="middle">-2.0</text>
<text x="259.6" y="584.6" font-size="9.5" text-anchor="middle">TSS</text>
<text x="290.9" y="584.6" font-size="9.5" text-anchor="middle">TES</text>
<text x="309.6" y="584.6" font-size="9.5" text-anchor="middle">2.0</text>
<path d="M321 568C322.3 568.2 326.3 568.9 328.9 569.3C331.5 569.7 335.1 570.8 336.8 570.6C338.5 570.4 338.2 570 338.9 568C339.5 566 339.9 561.5 340.7 558.8C341.4 556 342.1 553.2 343.4 551.5C344.7 549.8 346.6 549.1 348.6 548.8C350.6 548.5 352.4 548.6 355.2 549.6C358 550.6 362.2 552.9 365.7 554.9C369.2 556.9 373.1 559.2 376.2 561.4C379.3 563.6 382.1 566.5 384.1 568C386.1 569.5 386.5 570.2 388 570.1C389.5 570 391.1 568.3 393.3 567.5C395.5 566.7 399.9 565.8 401.2 565.4" fill="none" stroke="#1f2a8f" stroke-width="1.6" clip-path="url(#pc0)"/>
<rect x="321.0" y="498.3" width="80.2" height="73.5" fill="none" stroke="#111" stroke-width="1.1"/>
<text x="359.3" y="493.8" font-size="9.5" text-anchor="middle">YP_H3K36me3</text>
<path d="M321 571.8v2.2M338.8 571.8v2.2M383.4 571.8v2.2M401.2 571.8v2.2" stroke="#111" stroke-width="0.8"/>
<text x="327.6" y="584.6" font-size="9.5" text-anchor="middle">-2.0</text>
<text x="346.3" y="584.6" font-size="9.5" text-anchor="middle">TSS</text>
<text x="381" y="584.6" font-size="9.5" text-anchor="middle">TES</text>
<text x="394.2" y="584.6" font-size="9.5">2.0 Kb</text>
<path d="M462.8 559C463.5 558.4 465.2 557.6 467.2 555.6C469.2 553.6 472.9 549.7 474.7 547C476.4 544.3 476.9 544.6 477.7 539.6C478.5 534.6 478.9 523.6 479.5 517.2C480.1 510.8 480.8 502.4 481.4 501.2C482 500 482.5 505.6 483.2 509.8C483.9 514 484.7 521.5 485.8 526.5C486.9 531.5 488 536.2 489.6 539.6C491.2 543 493 545.3 495.2 547C497.4 548.7 500.1 549 502.6 549.6C505.1 550.2 507.5 550.8 510 550.7C512.5 550.6 515 550.1 517.5 548.9C520 547.7 523.3 544 525 543.3C526.7 542.5 526.7 543.5 527.5 544.4C528.3 545.3 528.7 548 529.8 548.9C530.9 549.8 532.2 549.1 534.2 550C536.2 550.9 539.7 553 541.7 554.5C543.8 556 545.7 558.2 546.5 559" fill="none" stroke="#1f2a8f" stroke-width="1.6" clip-path="url(#pc0)"/>
<rect x="463.5" y="498.3" width="83" height="73.5" fill="none" stroke="#111" stroke-width="1.1"/>
<text x="510.6" y="493.8" font-size="10" text-anchor="middle">RO_ATAC</text>
<path d="M463.5 571.8v2.2M481.9 571.8v2.2M528.1 571.8v2.2M546.5 571.8v2.2" stroke="#111" stroke-width="0.8"/>
<text x="462.4" y="584.6" font-size="10" text-anchor="middle">-2.0</text>
<text x="481.8" y="584.6" font-size="10" text-anchor="middle">TSS</text>
<text x="522.6" y="584.6" font-size="10" text-anchor="middle">TES</text>
<text x="542.2" y="584.6" font-size="10" text-anchor="middle">2.0</text>
<path d="M551.4 570.1C552.6 569.7 556 568.8 558.4 567.5C560.8 566.2 564.2 565.1 565.9 562.6C567.6 560.1 567.7 556.1 568.5 552.6C569.3 549.1 569.9 542.3 570.7 541.4C571.5 540.5 572.2 545.1 573.3 547C574.4 548.9 574.9 550.9 577.1 552.6C579.3 554.3 583 556.5 586.4 557.1C589.8 557.7 593.2 556.7 597.5 556.3C601.8 555.9 609.4 554.5 612.4 554.5C615.4 554.5 614.5 554.9 615.4 556.3C616.3 557.6 617 561.5 618 562.6C619 563.7 619.8 562 621.7 562.6C623.6 563.2 626.9 565.5 629.2 566.4C631.5 567.3 634.5 567.9 635.5 568.2" fill="none" stroke="#1f2a8f" stroke-width="1.6" clip-path="url(#pc0)"/>
<rect x="551.4" y="498.3" width="84.1" height="73.5" fill="none" stroke="#111" stroke-width="1.1"/>
<text x="601.9" y="493.8" font-size="10" text-anchor="middle">YP_ATAC</text>
<path d="M551.4 571.8v2.2M570.1 571.8v2.2M616.8 571.8v2.2M635.5 571.8v2.2" stroke="#111" stroke-width="0.8"/>
<text x="557.8" y="584.6" font-size="10" text-anchor="middle">-2.0</text>
<text x="579.5" y="584.6" font-size="10" text-anchor="middle">TSS</text>
<text x="613.8" y="584.6" font-size="10" text-anchor="middle">TES</text>
<text x="630" y="584.6" font-size="10">2.0 Kb</text>
<text x="360.4" y="508.8" font-size="9.5">Genes</text>
<text x="594.9" y="509" font-size="10">Genes</text>
<line x1="60.6" y1="500.7" x2="63.5" y2="500.7" stroke="#111" stroke-width="0.9"/>
<text x="55" y="504.1" font-size="9.5" text-anchor="end">1.5</text>
<line x1="146.39999999999998" y1="500.7" x2="149.2" y2="500.7" stroke="#111" stroke-width="0.9"/>
<line x1="231.79999999999998" y1="500.7" x2="234.6" y2="500.7" stroke="#111" stroke-width="0.9"/>
<line x1="318.2" y1="500.7" x2="321.0" y2="500.7" stroke="#111" stroke-width="0.9"/>
<line x1="60.6" y1="526.8" x2="63.5" y2="526.8" stroke="#111" stroke-width="0.9"/>
<text x="55" y="530.2" font-size="9.5" text-anchor="end">1.0</text>
<line x1="146.39999999999998" y1="526.8" x2="149.2" y2="526.8" stroke="#111" stroke-width="0.9"/>
<line x1="231.79999999999998" y1="526.8" x2="234.6" y2="526.8" stroke="#111" stroke-width="0.9"/>
<line x1="318.2" y1="526.8" x2="321.0" y2="526.8" stroke="#111" stroke-width="0.9"/>
<line x1="60.6" y1="552.9" x2="63.5" y2="552.9" stroke="#111" stroke-width="0.9"/>
<text x="55" y="556.3" font-size="9.5" text-anchor="end">0.5</text>
<line x1="146.39999999999998" y1="552.9" x2="149.2" y2="552.9" stroke="#111" stroke-width="0.9"/>
<line x1="231.79999999999998" y1="552.9" x2="234.6" y2="552.9" stroke="#111" stroke-width="0.9"/>
<line x1="318.2" y1="552.9" x2="321.0" y2="552.9" stroke="#111" stroke-width="0.9"/>
<line x1="460.6" y1="506.9" x2="463.5" y2="506.9" stroke="#111" stroke-width="0.9"/>
<text x="455.6" y="510.5" font-size="10" text-anchor="end">0.30</text>
<line x1="548.6" y1="506.9" x2="551.4" y2="506.9" stroke="#111" stroke-width="0.9"/>
<line x1="460.6" y1="524.4" x2="463.5" y2="524.4" stroke="#111" stroke-width="0.9"/>
<text x="455.6" y="528" font-size="10" text-anchor="end">0.25</text>
<line x1="548.6" y1="524.4" x2="551.4" y2="524.4" stroke="#111" stroke-width="0.9"/>
<line x1="460.6" y1="541.5" x2="463.5" y2="541.5" stroke="#111" stroke-width="0.9"/>
<text x="455.6" y="545.1" font-size="10" text-anchor="end">0.20</text>
<line x1="548.6" y1="541.5" x2="551.4" y2="541.5" stroke="#111" stroke-width="0.9"/>
<line x1="460.6" y1="558.9" x2="463.5" y2="558.9" stroke="#111" stroke-width="0.9"/>
<text x="455.6" y="562.5" font-size="10" text-anchor="end">0.15</text>
<line x1="548.6" y1="558.9" x2="551.4" y2="558.9" stroke="#111" stroke-width="0.9"/>
<defs>
<filter id="hblur" x="-10%" y="0" width="120%" height="100%"><feGaussianBlur stdDeviation="1.6 0.6"/></filter>
<filter id="hnoise" x="0" y="0" width="100%" height="100%"><feTurbulence type="fractalNoise" baseFrequency="0.02 0.9" numOctaves="2" seed="4"/><feColorMatrix type="matrix" values="0 0 0 0 1  0 0 0 0 1  0 0 0 0 1  0.9 0 0 0 -0.38"/></filter>
<clipPath id="hc0"><rect x="63.2" y="591.5" width="80.1" height="259.0"/></clipPath>
<linearGradient id="g1" x1="0" y1="0" x2="0" y2="1"><stop offset="0" stop-color="#ff0000" stop-opacity="0.16"/><stop offset="0.12" stop-color="#ff0000" stop-opacity="0.12"/><stop offset="0.3" stop-color="#ff0000" stop-opacity="0.07"/><stop offset="0.45" stop-color="#ff0000" stop-opacity="0.035"/><stop offset="0.6" stop-color="#ff0000" stop-opacity="0.012"/><stop offset="1" stop-color="#ff0000" stop-opacity="0.004"/></linearGradient>
<linearGradient id="g2" x1="0" y1="0" x2="0" y2="1"><stop offset="0" stop-color="#ff0000" stop-opacity="0.6"/><stop offset="0.05" stop-color="#ff0000" stop-opacity="0.528"/><stop offset="0.15" stop-color="#ff0000" stop-opacity="0.432"/><stop offset="0.3" stop-color="#ff0000" stop-opacity="0.336"/><stop offset="0.45" stop-color="#ff0000" stop-opacity="0.24"/><stop offset="0.56" stop-color="#ff0000" stop-opacity="0.132"/><stop offset="0.66" stop-color="#ff0000" stop-opacity="0.048"/><stop offset="0.78" stop-color="#ff0000" stop-opacity="0.012"/><stop offset="1" stop-color="#ff0000" stop-opacity="0.0024"/></linearGradient>
<linearGradient id="g3" x1="0" y1="0" x2="0" y2="1"><stop offset="0" stop-color="#ff0000" stop-opacity="1.0"/><stop offset="0.05" stop-color="#ff0000" stop-opacity="0.88"/><stop offset="0.15" stop-color="#ff0000" stop-opacity="0.72"/><stop offset="0.3" stop-color="#ff0000" stop-opacity="0.56"/><stop offset="0.45" stop-color="#ff0000" stop-opacity="0.4"/><stop offset="0.56" stop-color="#ff0000" stop-opacity="0.22"/><stop offset="0.66" stop-color="#ff0000" stop-opacity="0.08"/><stop offset="0.78" stop-color="#ff0000" stop-opacity="0.02"/><stop offset="1" stop-color="#ff0000" stop-opacity="0.004"/></linearGradient>
<linearGradient id="g4" x1="0" y1="0" x2="0" y2="1"><stop offset="0" stop-color="#ff0000" stop-opacity="0.82"/><stop offset="0.05" stop-color="#ff0000" stop-opacity="0.7215999999999999"/><stop offset="0.15" stop-color="#ff0000" stop-opacity="0.5903999999999999"/><stop offset="0.3" stop-color="#ff0000" stop-opacity="0.4592"/><stop offset="0.45" stop-color="#ff0000" stop-opacity="0.328"/><stop offset="0.56" stop-color="#ff0000" stop-opacity="0.18039999999999998"/><stop offset="0.66" stop-color="#ff0000" stop-opacity="0.06559999999999999"/><stop offset="0.78" stop-color="#ff0000" stop-opacity="0.016399999999999998"/><stop offset="1" stop-color="#ff0000" stop-opacity="0.00328"/></linearGradient>
<linearGradient id="g5" x1="0" y1="0" x2="0" y2="1"><stop offset="0" stop-color="#ff0000" stop-opacity="0.663"/><stop offset="0.05" stop-color="#ff0000" stop-opacity="0.51"/><stop offset="0.15" stop-color="#ff0000" stop-opacity="0.391"/><stop offset="0.3" stop-color="#ff0000" stop-opacity="0.2975"/><stop offset="0.45" stop-color="#ff0000" stop-opacity="0.187"/><stop offset="0.56" stop-color="#ff0000" stop-opacity="0.085"/><stop offset="0.66" stop-color="#ff0000" stop-opacity="0.029750000000000002"/><stop offset="1" stop-color="#ff0000" stop-opacity="0.0034"/></linearGradient>
<linearGradient id="g6" x1="0" y1="0" x2="0" y2="1"><stop offset="0" stop-color="#ff0000" stop-opacity="0.5459999999999999"/><stop offset="0.05" stop-color="#ff0000" stop-opacity="0.42"/><stop offset="0.15" stop-color="#ff0000" stop-opacity="0.322"/><stop offset="0.3" stop-color="#ff0000" stop-opacity="0.24499999999999997"/><stop offset="0.45" stop-color="#ff0000" stop-opacity="0.154"/><stop offset="0.56" stop-color="#ff0000" stop-opacity="0.06999999999999999"/><stop offset="0.66" stop-color="#ff0000" stop-opacity="0.0245"/><stop offset="1" stop-color="#ff0000" stop-opacity="0.0028"/></linearGradient>
<linearGradient id="g7" x1="0" y1="0" x2="0" y2="1"><stop offset="0" stop-color="#ff0000" stop-opacity="0.46799999999999997"/><stop offset="0.05" stop-color="#ff0000" stop-opacity="0.36"/><stop offset="0.15" stop-color="#ff0000" stop-opacity="0.276"/><stop offset="0.3" stop-color="#ff0000" stop-opacity="0.21"/><stop offset="0.45" stop-color="#ff0000" stop-opacity="0.132"/><stop offset="0.56" stop-color="#ff0000" stop-opacity="0.06"/><stop offset="0.66" stop-color="#ff0000" stop-opacity="0.021"/><stop offset="1" stop-color="#ff0000" stop-opacity="0.0024"/></linearGradient>
<clipPath id="hc1"><rect x="149.3" y="591.5" width="79.3" height="259.0"/></clipPath>
<linearGradient id="g8" x1="0" y1="0" x2="0" y2="1"><stop offset="0" stop-color="#ff0000" stop-opacity="0.13"/><stop offset="0.15" stop-color="#ff0000" stop-opacity="0.09"/><stop offset="0.3" stop-color="#ff0000" stop-opacity="0.05"/><stop offset="0.5" stop-color="#ff0000" stop-opacity="0.02"/><stop offset="1" stop-color="#ff0000" stop-opacity="0.004"/></linearGradient>
<linearGradient id="g9" x1="0" y1="0" x2="0" y2="1"><stop offset="0" stop-color="#ff0000" stop-opacity="0.592"/><stop offset="0.05" stop-color="#ff0000" stop-opacity="0.528"/><stop offset="0.15" stop-color="#ff0000" stop-opacity="0.43200000000000005"/><stop offset="0.27" stop-color="#ff0000" stop-opacity="0.30400000000000005"/><stop offset="0.38" stop-color="#ff0000" stop-opacity="0.16000000000000003"/><stop offset="0.48" stop-color="#ff0000" stop-opacity="0.064"/><stop offset="0.6" stop-color="#ff0000" stop-opacity="0.020000000000000004"/><stop offset="1" stop-color="#ff0000" stop-opacity="0.0032"/></linearGradient>
<linearGradient id="g10" x1="0" y1="0" x2="0" y2="1"><stop offset="0" stop-color="#ff0000" stop-opacity="0.74"/><stop offset="0.05" stop-color="#ff0000" stop-opacity="0.66"/><stop offset="0.15" stop-color="#ff0000" stop-opacity="0.54"/><stop offset="0.27" stop-color="#ff0000" stop-opacity="0.38"/><stop offset="0.38" stop-color="#ff0000" stop-opacity="0.2"/><stop offset="0.48" stop-color="#ff0000" stop-opacity="0.08"/><stop offset="0.6" stop-color="#ff0000" stop-opacity="0.025"/><stop offset="1" stop-color="#ff0000" stop-opacity="0.004"/></linearGradient>
<linearGradient id="g11" x1="0" y1="0" x2="0" y2="1"><stop offset="0" stop-color="#ff0000" stop-opacity="0.666"/><stop offset="0.05" stop-color="#ff0000" stop-opacity="0.5940000000000001"/><stop offset="0.15" stop-color="#ff0000" stop-opacity="0.48600000000000004"/><stop offset="0.27" stop-color="#ff0000" stop-opacity="0.342"/><stop offset="0.38" stop-color="#ff0000" stop-opacity="0.18000000000000002"/><stop offset="0.48" stop-color="#ff0000" stop-opacity="0.07200000000000001"/><stop offset="0.6" stop-color="#ff0000" stop-opacity="0.022500000000000003"/><stop offset="1" stop-color="#ff0000" stop-opacity="0.0036000000000000003"/></linearGradient>
<linearGradient id="g12" x1="0" y1="0" x2="0" y2="1"><stop offset="0" stop-color="#ff0000" stop-opacity="0.576"/><stop offset="0.05" stop-color="#ff0000" stop-opacity="0.48"/><stop offset="0.12" stop-color="#ff0000" stop-opacity="0.36800000000000005"/><stop offset="0.22" stop-color="#ff0000" stop-opacity="0.24"/><stop offset="0.32" stop-color="#ff0000" stop-opacity="0.12"/><stop offset="0.42" stop-color="#ff0000" stop-opacity="0.048"/><stop offset="0.55" stop-color="#ff0000" stop-opacity="0.016"/><stop offset="1" stop-color="#ff0000" stop-opacity="0.0032"/></linearGradient>
<linearGradient id="g13" x1="0" y1="0" x2="0" y2="1"><stop offset="0" stop-color="#ff0000" stop-opacity="0.432"/><stop offset="0.05" stop-color="#ff0000" stop-opacity="0.36"/><stop offset="0.12" stop-color="#ff0000" stop-opacity="0.276"/><stop offset="0.22" stop-color="#ff0000" stop-opacity="0.18"/><stop offset="0.32" stop-color="#ff0000" stop-opacity="0.09"/><stop offset="0.42" stop-color="#ff0000" stop-opacity="0.036"/><stop offset="0.55" stop-color="#ff0000" stop-opacity="0.012"/><stop offset="1" stop-color="#ff0000" stop-opacity="0.0024"/></linearGradient>
<clipPath id="hc2"><rect x="234.8" y="591.5" width="79.8" height="259.0"/></clipPath>
<linearGradient id="g14" x1="0" y1="0" x2="0" y2="1"><stop offset="0" stop-color="#ff0000" stop-opacity="0.16"/><stop offset="0.12" stop-color="#ff0000" stop-opacity="0.12"/><stop offset="0.3" stop-color="#ff0000" stop-opacity="0.07"/><stop offset="0.45" stop-color="#ff0000" stop-opacity="0.035"/><stop offset="0.6" stop-color="#ff0000" stop-opacity="0.012"/><stop offset="1" stop-color="#ff0000" stop-opacity="0.004"/></linearGradient>
<linearGradient id="g15" x1="0" y1="0" x2="0" y2="1"><stop offset="0" stop-color="#ff0000" stop-opacity="0.6"/><stop offset="0.05" stop-color="#ff0000" stop-opacity="0.528"/><stop offset="0.15" stop-color="#ff0000" stop-opacity="0.432"/><stop offset="0.3" stop-color="#ff0000" stop-opacity="0.336"/><stop offset="0.45" stop-color="#ff0000" stop-opacity="0.24"/><stop offset="0.56" stop-color="#ff0000" stop-opacity="0.132"/><stop offset="0.66" stop-color="#ff0000" stop-opacity="0.048"/><stop offset="0.78" stop-color="#ff0000" stop-opacity="0.012"/><stop offset="1" stop-color="#ff0000" stop-opacity="0.0024"/></linearGradient>
<linearGradient id="g16" x1="0" y1="0" x2="0" y2="1"><stop offset="0" stop-color="#ff0000" stop-opacity="0.97"/><stop offset="0.05" stop-color="#ff0000" stop-opacity="0.8536"/><stop offset="0.15" stop-color="#ff0000" stop-opacity="0.6983999999999999"/><stop offset="0.3" stop-color="#ff0000" stop-opacity="0.5432"/><stop offset="0.45" stop-color="#ff0000" stop-opacity="0.388"/><stop offset="0.56" stop-color="#ff0000" stop-opacity="0.2134"/><stop offset="0.66" stop-color="#ff0000" stop-opacity="0.0776"/><stop offset="0.78" stop-color="#ff0000" stop-opacity="0.0194"/><stop offset="1" stop-color="#ff0000" stop-opacity="0.0038799999999999998"/></linearGradient>
<linearGradient id="g17" x1="0" y1="0" x2="0" y2="1"><stop offset="0" stop-color="#ff0000" stop-opacity="0.75"/><stop offset="0.05" stop-color="#ff0000" stop-opacity="0.66"/><stop offset="0.15" stop-color="#ff0000" stop-opacity="0.54"/><stop offset="0.3" stop-color="#ff0000" stop-opacity="0.42000000000000004"/><stop offset="0.45" stop-color="#ff0000" stop-opacity="0.30000000000000004"/><stop offset="0.56" stop-color="#ff0000" stop-opacity="0.165"/><stop offset="0.66" stop-color="#ff0000" stop-opacity="0.06"/><stop offset="0.78" stop-color="#ff0000" stop-opacity="0.015"/><stop offset="1" stop-color="#ff0000" stop-opacity="0.003"/></linearGradient>
<linearGradient id="g18" x1="0" y1="0" x2="0" y2="1"><stop offset="0" stop-color="#ff0000" stop-opacity="0.5616"/><stop offset="0.05" stop-color="#ff0000" stop-opacity="0.432"/><stop offset="0.15" stop-color="#ff0000" stop-opacity="0.3312"/><stop offset="0.3" stop-color="#ff0000" stop-opacity="0.252"/><stop offset="0.45" stop-color="#ff0000" stop-opacity="0.15839999999999999"/><stop offset="0.56" stop-color="#ff0000" stop-opacity="0.072"/><stop offset="0.66" stop-color="#ff0000" stop-opacity="0.0252"/><stop offset="1" stop-color="#ff0000" stop-opacity="0.0028799999999999997"/></linearGradient>
<linearGradient id="g19" x1="0" y1="0" x2="0" y2="1"><stop offset="0" stop-color="#ff0000" stop-opacity="0.46799999999999997"/><stop offset="0.05" stop-color="#ff0000" stop-opacity="0.36"/><stop offset="0.15" stop-color="#ff0000" stop-opacity="0.276"/><stop offset="0.3" stop-color="#ff0000" stop-opacity="0.21"/><stop offset="0.45" stop-color="#ff0000" stop-opacity="0.132"/><stop offset="0.56" stop-color="#ff0000" stop-opacity="0.06"/><stop offset="0.66" stop-color="#ff0000" stop-opacity="0.021"/><stop offset="1" stop-color="#ff0000" stop-opacity="0.0024"/></linearGradient>
<linearGradient id="g20" x1="0" y1="0" x2="0" y2="1"><stop offset="0" stop-color="#ff0000" stop-opacity="0.42900000000000005"/><stop offset="0.05" stop-color="#ff0000" stop-opacity="0.33"/><stop offset="0.15" stop-color="#ff0000" stop-opacity="0.25300000000000006"/><stop offset="0.3" stop-color="#ff0000" stop-opacity="0.1925"/><stop offset="0.45" stop-color="#ff0000" stop-opacity="0.12100000000000001"/><stop offset="0.56" stop-color="#ff0000" stop-opacity="0.05500000000000001"/><stop offset="0.66" stop-color="#ff0000" stop-opacity="0.019250000000000003"/><stop offset="1" stop-color="#ff0000" stop-opacity="0.0022"/></linearGradient>
<clipPath id="hc3"><rect x="321.2" y="591.5" width="79.4" height="259.0"/></clipPath>
<linearGradient id="g21" x1="0" y1="0" x2="0" y2="1"><stop offset="0" stop-color="#ff0000" stop-opacity="0.1"/><stop offset="0.15" stop-color="#ff0000" stop-opacity="0.07"/><stop offset="0.3" stop-color="#ff0000" stop-opacity="0.04"/><stop offset="0.5" stop-color="#ff0000" stop-opacity="0.015"/><stop offset="1" stop-color="#ff0000" stop-opacity="0.004"/></linearGradient>
<linearGradient id="g22" x1="0" y1="0" x2="0" y2="1"><stop offset="0" stop-color="#ff0000" stop-opacity="0.40700000000000003"/><stop offset="0.05" stop-color="#ff0000" stop-opacity="0.36300000000000004"/><stop offset="0.15" stop-color="#ff0000" stop-opacity="0.29700000000000004"/><stop offset="0.27" stop-color="#ff0000" stop-opacity="0.20900000000000002"/><stop offset="0.38" stop-color="#ff0000" stop-opacity="0.11000000000000001"/><stop offset="0.48" stop-color="#ff0000" stop-opacity="0.044000000000000004"/><stop offset="0.6" stop-color="#ff0000" stop-opacity="0.013750000000000002"/><stop offset="1" stop-color="#ff0000" stop-opacity="0.0022"/></linearGradient>
<linearGradient id="g23" x1="0" y1="0" x2="0" y2="1"><stop offset="0" stop-color="#ff0000" stop-opacity="0.518"/><stop offset="0.05" stop-color="#ff0000" stop-opacity="0.46199999999999997"/><stop offset="0.15" stop-color="#ff0000" stop-opacity="0.378"/><stop offset="0.27" stop-color="#ff0000" stop-opacity="0.26599999999999996"/><stop offset="0.38" stop-color="#ff0000" stop-opacity="0.13999999999999999"/><stop offset="0.48" stop-color="#ff0000" stop-opacity="0.055999999999999994"/><stop offset="0.6" stop-color="#ff0000" stop-opacity="0.017499999999999998"/><stop offset="1" stop-color="#ff0000" stop-opacity="0.0028"/></linearGradient>
<linearGradient id="g24" x1="0" y1="0" x2="0" y2="1"><stop offset="0" stop-color="#ff0000" stop-opacity="0.4736"/><stop offset="0.05" stop-color="#ff0000" stop-opacity="0.42240000000000005"/><stop offset="0.15" stop-color="#ff0000" stop-opacity="0.3456"/><stop offset="0.27" stop-color="#ff0000" stop-opacity="0.2432"/><stop offset="0.38" stop-color="#ff0000" stop-opacity="0.128"/><stop offset="0.48" stop-color="#ff0000" stop-opacity="0.0512"/><stop offset="0.6" stop-color="#ff0000" stop-opacity="0.016"/><stop offset="1" stop-color="#ff0000" stop-opacity="0.00256"/></linearGradient>
<linearGradient id="g25" x1="0" y1="0" x2="0" y2="1"><stop offset="0" stop-color="#ff0000" stop-opacity="0.396"/><stop offset="0.05" stop-color="#ff0000" stop-opacity="0.33"/><stop offset="0.12" stop-color="#ff0000" stop-opacity="0.25300000000000006"/><stop offset="0.22" stop-color="#ff0000" stop-opacity="0.165"/><stop offset="0.32" stop-color="#ff0000" stop-opacity="0.0825"/><stop offset="0.42" stop-color="#ff0000" stop-opacity="0.033"/><stop offset="0.55" stop-color="#ff0000" stop-opacity="0.011000000000000001"/><stop offset="1" stop-color="#ff0000" stop-opacity="0.0022"/></linearGradient>
<linearGradient id="g26" x1="0" y1="0" x2="0" y2="1"><stop offset="0" stop-color="#ff0000" stop-opacity="0.3024"/><stop offset="0.05" stop-color="#ff0000" stop-opacity="0.252"/><stop offset="0.12" stop-color="#ff0000" stop-opacity="0.1932"/><stop offset="0.22" stop-color="#ff0000" stop-opacity="0.126"/><stop offset="0.32" stop-color="#ff0000" stop-opacity="0.063"/><stop offset="0.42" stop-color="#ff0000" stop-opacity="0.025199999999999997"/><stop offset="0.55" stop-color="#ff0000" stop-opacity="0.0084"/><stop offset="1" stop-color="#ff0000" stop-opacity="0.00168"/></linearGradient>
<clipPath id="hc4"><rect x="463.2" y="591.5" width="83.1" height="259.0"/></clipPath>
<linearGradient id="g27" x1="0" y1="0" x2="0" y2="1"><stop offset="0" stop-color="#ff0000" stop-opacity="0.66"/><stop offset="0.025" stop-color="#ff0000" stop-opacity="0.46"/><stop offset="0.1" stop-color="#ff0000" stop-opacity="0.37"/><stop offset="0.35" stop-color="#ff0000" stop-opacity="0.29"/><stop offset="0.55" stop-color="#ff0000" stop-opacity="0.2"/><stop offset="0.7" stop-color="#ff0000" stop-opacity="0.11"/><stop offset="0.82" stop-color="#ff0000" stop-opacity="0.05"/><stop offset="1" stop-color="#ff0000" stop-opacity="0.015"/></linearGradient>
<linearGradient id="g28" x1="0" y1="0" x2="0" y2="1"><stop offset="0" stop-color="#ff0000" stop-opacity="0.95"/><stop offset="0.025" stop-color="#ff0000" stop-opacity="0.65"/><stop offset="0.1" stop-color="#ff0000" stop-opacity="0.5"/><stop offset="0.35" stop-color="#ff0000" stop-opacity="0.38"/><stop offset="0.55" stop-color="#ff0000" stop-opacity="0.26"/><stop offset="0.7" stop-color="#ff0000" stop-opacity="0.13"/><stop offset="0.82" stop-color="#ff0000" stop-opacity="0.06"/><stop offset="1" stop-color="#ff0000" stop-opacity="0.02"/></linearGradient>
<linearGradient id="g29" x1="0" y1="0" x2="0" y2="1"><stop offset="0" stop-color="#ff0000" stop-opacity="0.7062"/><stop offset="0.025" stop-color="#ff0000" stop-opacity="0.4922"/><stop offset="0.1" stop-color="#ff0000" stop-opacity="0.39590000000000003"/><stop offset="0.35" stop-color="#ff0000" stop-opacity="0.3103"/><stop offset="0.55" stop-color="#ff0000" stop-opacity="0.21400000000000002"/><stop offset="0.7" stop-color="#ff0000" stop-opacity="0.11770000000000001"/><stop offset="0.82" stop-color="#ff0000" stop-opacity="0.053500000000000006"/><stop offset="1" stop-color="#ff0000" stop-opacity="0.016050000000000002"/></linearGradient>
<clipPath id="hc5"><rect x="551.8" y="591.5" width="83.7" height="259.0"/></clipPath>
<linearGradient id="g30" x1="0" y1="0" x2="0" y2="1"><stop offset="0" stop-color="#ff0000" stop-opacity="0.34"/><stop offset="0.1" stop-color="#ff0000" stop-opacity="0.27"/><stop offset="0.35" stop-color="#ff0000" stop-opacity="0.23"/><stop offset="0.55" stop-color="#ff0000" stop-opacity="0.17"/><stop offset="0.7" stop-color="#ff0000" stop-opacity="0.1"/><stop offset="0.82" stop-color="#ff0000" stop-opacity="0.05"/><stop offset="1" stop-color="#ff0000" stop-opacity="0.015"/></linearGradient>
<linearGradient id="g31" x1="0" y1="0" x2="0" y2="1"><stop offset="0" stop-color="#ff0000" stop-opacity="0.3808000000000001"/><stop offset="0.1" stop-color="#ff0000" stop-opacity="0.30240000000000006"/><stop offset="0.35" stop-color="#ff0000" stop-opacity="0.25760000000000005"/><stop offset="0.55" stop-color="#ff0000" stop-opacity="0.19040000000000004"/><stop offset="0.7" stop-color="#ff0000" stop-opacity="0.11200000000000002"/><stop offset="0.82" stop-color="#ff0000" stop-opacity="0.05600000000000001"/><stop offset="1" stop-color="#ff0000" stop-opacity="0.016800000000000002"/></linearGradient>
<linearGradient id="g32" x1="0" y1="0" x2="0" y2="1"><stop offset="0" stop-color="#ff0000" stop-opacity="0.44200000000000006"/><stop offset="0.1" stop-color="#ff0000" stop-opacity="0.35100000000000003"/><stop offset="0.35" stop-color="#ff0000" stop-opacity="0.29900000000000004"/><stop offset="0.55" stop-color="#ff0000" stop-opacity="0.22100000000000003"/><stop offset="0.7" stop-color="#ff0000" stop-opacity="0.13"/><stop offset="0.82" stop-color="#ff0000" stop-opacity="0.065"/><stop offset="1" stop-color="#ff0000" stop-opacity="0.0195"/></linearGradient>
<linearGradient id="cbar" x1="0" y1="0" x2="0" y2="1"><stop offset="0" stop-color="#ff0000"/><stop offset="1" stop-color="#ffffff"/></linearGradient>
</defs>
<g clip-path="url(#hc0)"><g filter="url(#hblur)">
<rect x="60.2" y="589.5" width="19.4" height="263.0" fill="url(#g1)"/>
<rect x="79.6" y="589.5" width="1.6" height="263.0" fill="url(#g2)"/>
<rect x="81.2" y="589.5" width="6" height="263.0" fill="url(#g3)"/>
<rect x="87.2" y="589.5" width="6.4" height="263.0" fill="url(#g4)"/>
<rect x="93.6" y="589.5" width="9.6" height="263.0" fill="url(#g5)"/>
<rect x="103.2" y="589.5" width="11.2" height="263.0" fill="url(#g6)"/>
<rect x="114.5" y="589.5" width="10.4" height="263.0" fill="url(#g7)"/>
<rect x="124.9" y="589.5" width="21.4" height="263.0" fill="url(#g1)"/>
</g>
<rect x="63.2" y="591.5" width="80.1" height="259.0" filter="url(#hnoise)" opacity="0.5"/>
</g>
<rect x="63.2" y="591.5" width="80.1" height="259.0" fill="none" stroke="#111" stroke-width="1.2"/>
<path d="M63.2 850.5v2M81 850.5v2M125.5 850.5v2M143.3 850.5v2" stroke="#111" stroke-width="0.8"/>
<text x="62.9" y="861.2" font-size="9.5" text-anchor="middle">-2.0</text>
<text x="83.3" y="861.2" font-size="9.5" text-anchor="middle">TSS</text>
<text x="119.9" y="861.2" font-size="9.5" text-anchor="middle">TES</text>
<text x="137.3" y="861.2" font-size="9.5" text-anchor="middle">2.0</text>
<g clip-path="url(#hc1)"><g filter="url(#hblur)">
<rect x="146.3" y="589.5" width="20.4" height="263.0" fill="url(#g8)"/>
<rect x="166.7" y="589.5" width="3.2" height="263.0" fill="url(#g9)"/>
<rect x="169.9" y="589.5" width="12.7" height="263.0" fill="url(#g10)"/>
<rect x="182.6" y="589.5" width="11.1" height="263.0" fill="url(#g11)"/>
<rect x="193.7" y="589.5" width="9.5" height="263.0" fill="url(#g12)"/>
<rect x="203.2" y="589.5" width="8.3" height="263.0" fill="url(#g13)"/>
<rect x="211.6" y="589.5" width="20" height="263.0" fill="url(#g8)"/>
</g>
<rect x="149.3" y="591.5" width="79.3" height="259.0" filter="url(#hnoise)" opacity="0.5"/>
</g>
<rect x="149.3" y="591.5" width="79.3" height="259.0" fill="none" stroke="#111" stroke-width="1.2"/>
<path d="M149.3 850.5v2M166.9 850.5v2M211 850.5v2M228.6 850.5v2" stroke="#111" stroke-width="0.8"/>
<text x="153.3" y="861.2" font-size="9.5" text-anchor="middle">-2.0</text>
<text x="172.4" y="861.2" font-size="9.5" text-anchor="middle">TSS</text>
<text x="205.4" y="861.2" font-size="9.5" text-anchor="middle">TES</text>
<text x="222.6" y="861.2" font-size="9.5" text-anchor="middle">2.0</text>
<g clip-path="url(#hc2)"><g filter="url(#hblur)">
<rect x="231.8" y="589.5" width="19.4" height="263.0" fill="url(#g14)"/>
<rect x="251.2" y="589.5" width="1.6" height="263.0" fill="url(#g15)"/>
<rect x="252.8" y="589.5" width="6" height="263.0" fill="url(#g16)"/>
<rect x="258.7" y="589.5" width="6.4" height="263.0" fill="url(#g17)"/>
<rect x="265.1" y="589.5" width="9.6" height="263.0" fill="url(#g18)"/>
<rect x="274.7" y="589.5" width="11.2" height="263.0" fill="url(#g19)"/>
<rect x="285.9" y="589.5" width="10.4" height="263.0" fill="url(#g20)"/>
<rect x="296.2" y="589.5" width="21.4" height="263.0" fill="url(#g14)"/>
</g>
<rect x="234.8" y="591.5" width="79.8" height="259.0" filter="url(#hnoise)" opacity="0.5"/>
</g>
<rect x="234.8" y="591.5" width="79.8" height="259.0" fill="none" stroke="#111" stroke-width="1.2"/>
<path d="M234.8 850.5v2M252.5 850.5v2M296.9 850.5v2M314.6 850.5v2" stroke="#111" stroke-width="0.8"/>
<text x="241" y="861.2" font-size="9.5" text-anchor="middle">-2.0</text>
<text x="259.6" y="861.2" font-size="9.5" text-anchor="middle">TSS</text>
<text x="292.1" y="861.2" font-size="9.5" text-anchor="middle">TES</text>
<text x="309.3" y="861.2" font-size="9.5" text-anchor="middle">2.0</text>
<g clip-path="url(#hc3)"><g filter="url(#hblur)">
<rect x="318.2" y="589.5" width="20.5" height="263.0" fill="url(#g21)"/>
<rect x="338.7" y="589.5" width="3.2" height="263.0" fill="url(#g22)"/>
<rect x="341.8" y="589.5" width="12.7" height="263.0" fill="url(#g23)"/>
<rect x="354.5" y="589.5" width="11.1" height="263.0" fill="url(#g24)"/>
<rect x="365.7" y="589.5" width="9.5" height="263.0" fill="url(#g25)"/>
<rect x="375.2" y="589.5" width="8.3" height="263.0" fill="url(#g26)"/>
<rect x="383.5" y="589.5" width="20.1" height="263.0" fill="url(#g21)"/>
</g>
<rect x="321.2" y="591.5" width="79.4" height="259.0" filter="url(#hnoise)" opacity="0.5"/>
</g>
<rect x="321.2" y="591.5" width="79.4" height="259.0" fill="none" stroke="#111" stroke-width="1.2"/>
<path d="M321.2 850.5v2M338.8 850.5v2M383 850.5v2M400.6 850.5v2" stroke="#111" stroke-width="0.8"/>
<text x="327.6" y="861.2" font-size="9.5" text-anchor="middle">-2.0</text>
<text x="346.3" y="861.2" font-size="9.5" text-anchor="middle">TSS</text>
<text x="378.2" y="861.2" font-size="9.5" text-anchor="middle">TES</text>
<text x="396.5" y="861.2" font-size="9.5">2.0 Kb</text>
<g clip-path="url(#hc4)"><g filter="url(#hblur)">
<rect x="460.2" y="589.5" width="19.6" height="263.0" fill="url(#g27)"/>
<rect x="479.8" y="589.5" width="5.8" height="263.0" fill="url(#g28)"/>
<rect x="485.6" y="589.5" width="37.4" height="263.0" fill="url(#g27)"/>
<rect x="523" y="589.5" width="6.6" height="263.0" fill="url(#g29)"/>
<rect x="529.7" y="589.5" width="19.6" height="263.0" fill="url(#g27)"/>
</g>
<rect x="463.2" y="591.5" width="83.1" height="259.0" filter="url(#hnoise)" opacity="0.5"/>
</g>
<rect x="463.2" y="591.5" width="83.1" height="259.0" fill="none" stroke="#111" stroke-width="1.2"/>
<path d="M463.2 850.5v2M481.7 850.5v2M527.8 850.5v2M546.3 850.5v2" stroke="#111" stroke-width="0.8"/>
<text x="460.8" y="861.2" font-size="9.5" text-anchor="middle">-2.0</text>
<text x="481.8" y="861.2" font-size="9.5" text-anchor="middle">TSS</text>
<text x="521.7" y="861.2" font-size="9.5" text-anchor="middle">TES</text>
<text x="542.6" y="861.2" font-size="9.5" text-anchor="middle">2.0</text>
<g clip-path="url(#hc5)"><g filter="url(#hblur)">
<rect x="548.8" y="589.5" width="19.7" height="263.0" fill="url(#g30)"/>
<rect x="568.5" y="589.5" width="5.9" height="263.0" fill="url(#g32)"/>
<rect x="574.4" y="589.5" width="40.2" height="263.0" fill="url(#g31)"/>
<rect x="614.6" y="589.5" width="23.9" height="263.0" fill="url(#g30)"/>
</g>
<rect x="551.8" y="591.5" width="83.7" height="259.0" filter="url(#hnoise)" opacity="0.5"/>
</g>
<rect x="551.8" y="591.5" width="83.7" height="259.0" fill="none" stroke="#111" stroke-width="1.2"/>
<path d="M551.8 850.5v2M570.4 850.5v2M616.9 850.5v2M635.5 850.5v2" stroke="#111" stroke-width="0.8"/>
<text x="558.4" y="861.2" font-size="9.5" text-anchor="middle">-2.0</text>
<text x="576.9" y="861.2" font-size="9.5" text-anchor="middle">TSS</text>
<text x="619.1" y="861.2" font-size="9.5" text-anchor="middle">TES</text>
<text x="629" y="861.2" font-size="9.5">2.0 Kb</text>
<rect x="407.2" y="591.5" width="8.4" height="259.0" fill="url(#cbar)" stroke="#111" stroke-width="1.1"/>
<line x1="415.6" y1="598.0" x2="417.8" y2="598.0" stroke="#111" stroke-width="0.8"/>
<text x="420.8" y="601.3" font-size="9.3">4.0</text>
<line x1="415.6" y1="629.2" x2="417.8" y2="629.2" stroke="#111" stroke-width="0.8"/>
<text x="420.8" y="632.5" font-size="9.3">3.5</text>
<line x1="415.6" y1="660.4" x2="417.8" y2="660.4" stroke="#111" stroke-width="0.8"/>
<text x="420.8" y="663.7" font-size="9.3">3.0</text>
<line x1="415.6" y1="691.6" x2="417.8" y2="691.6" stroke="#111" stroke-width="0.8"/>
<text x="420.8" y="694.9" font-size="9.3">2.5</text>
<line x1="415.6" y1="722.8" x2="417.8" y2="722.8" stroke="#111" stroke-width="0.8"/>
<text x="420.8" y="726.1" font-size="9.3">2.0</text>
<line x1="415.6" y1="754.0" x2="417.8" y2="754.0" stroke="#111" stroke-width="0.8"/>
<text x="420.8" y="757.3" font-size="9.3">1.5</text>
<line x1="415.6" y1="785.2" x2="417.8" y2="785.2" stroke="#111" stroke-width="0.8"/>
<text x="420.8" y="788.5" font-size="9.3">1.0</text>
<line x1="415.6" y1="816.4" x2="417.8" y2="816.4" stroke="#111" stroke-width="0.8"/>
<text x="420.8" y="819.7" font-size="9.3">0.5</text>
<line x1="415.6" y1="847.6" x2="417.8" y2="847.6" stroke="#111" stroke-width="0.8"/>
<text x="420.8" y="850.9" font-size="9.3">0.0</text>
<rect x="642.0" y="591.5" width="7.6" height="259.0" fill="url(#cbar)" stroke="#111" stroke-width="1.1"/>
<line x1="649.6" y1="611.0" x2="651.8000000000001" y2="611.0" stroke="#111" stroke-width="0.8"/>
<text x="654.8" y="614.3" font-size="9.3">0.7</text>
<line x1="649.6" y1="645.0" x2="651.8000000000001" y2="645.0" stroke="#111" stroke-width="0.8"/>
<text x="654.8" y="648.3" font-size="9.3">0.6</text>
<line x1="649.6" y1="679.0" x2="651.8000000000001" y2="679.0" stroke="#111" stroke-width="0.8"/>
<text x="654.8" y="682.3" font-size="9.3">0.5</text>
<line x1="649.6" y1="713.0" x2="651.8000000000001" y2="713.0" stroke="#111" stroke-width="0.8"/>
<text x="654.8" y="716.3" font-size="9.3">0.4</text>
<line x1="649.6" y1="747.0" x2="651.8000000000001" y2="747.0" stroke="#111" stroke-width="0.8"/>
<text x="654.8" y="750.3" font-size="9.3">0.3</text>
<line x1="649.6" y1="781.0" x2="651.8000000000001" y2="781.0" stroke="#111" stroke-width="0.8"/>
<text x="654.8" y="784.3" font-size="9.3">0.2</text>
<line x1="649.6" y1="815.0" x2="651.8000000000001" y2="815.0" stroke="#111" stroke-width="0.8"/>
<text x="654.8" y="818.3" font-size="9.3">0.1</text>
<line x1="649.6" y1="849.0" x2="651.8000000000001" y2="849.0" stroke="#111" stroke-width="0.8"/>
<text x="654.8" y="852.3" font-size="9.3">0.0</text>
<text x="0" y="0" font-size="9.5" text-anchor="middle" transform="translate(59.3 711) rotate(-90)">Genes</text>
<text x="0" y="0" font-size="9.5" text-anchor="middle" transform="translate(459.2 709) rotate(-90)">Genes</text>
</svg>
</body></html>
